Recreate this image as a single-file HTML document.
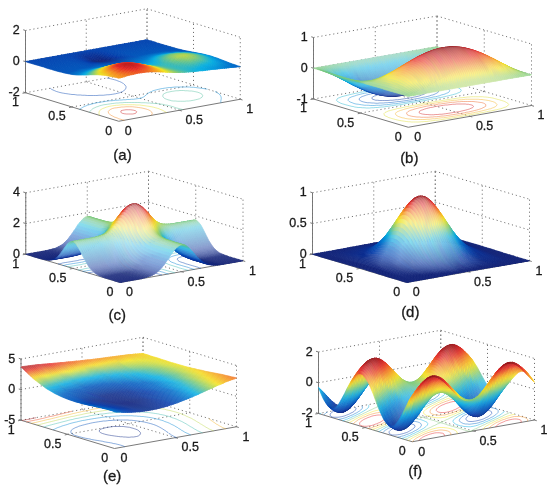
<!DOCTYPE html><html><head><meta charset="utf-8"><style>html,body{margin:0;padding:0;background:#fff}
svg{display:block}
.gd{stroke:#707070;stroke-width:4;stroke-dasharray:4.4 11.6;fill:none}
.ax{stroke:#7a7a7a;stroke-width:4;fill:none}
.ct{fill:none;stroke-width:2.6;stroke-opacity:.7}
.s path{stroke-width:3;stroke-linejoin:round}
text{font-family:"Liberation Sans",Arial,sans-serif;fill:#1a1a1a;stroke:#1a1a1a;stroke-width:0.3px;font-size:12.5px}
.r{text-anchor:end}
.cap{font-size:15px;text-anchor:middle}
</style></head><body><svg width="550" height="490" viewBox="0 0 550 490"><defs><linearGradient id=g0 gradientUnits=userSpaceOnUse x1=589 x2=951><stop offset=.00 stop-color=#0444b0 /><stop offset=.43 stop-color=#05b /><stop offset=.69 stop-color=#038ed7 /><stop offset=1.00 stop-color=#0064c5 /></linearGradient><linearGradient id=g1 gradientUnits=userSpaceOnUse x1=581 x2=944><stop offset=.00 stop-color=#0444b0 /><stop offset=.40 stop-color=#05b /><stop offset=.69 stop-color=#09d /><stop offset=1.00 stop-color=#0067c7 /></linearGradient><linearGradient id=g2 gradientUnits=userSpaceOnUse x1=574 x2=936><stop offset=.00 stop-color=#0444b0 /><stop offset=.40 stop-color=#05b /><stop offset=.69 stop-color=#0ad /><stop offset=1.00 stop-color=#06c /></linearGradient><linearGradient id=g3 gradientUnits=userSpaceOnUse x1=566 x2=929><stop offset=.00 stop-color=#0444b0 /><stop offset=.40 stop-color=#05b /><stop offset=.66 stop-color=#0bb0df /><stop offset=.80 stop-color=#049fde /><stop offset=1.00 stop-color=#006eca /></linearGradient><linearGradient id=g4 gradientUnits=userSpaceOnUse x1=558 x2=921><stop offset=.00 stop-color=#0444b0 /><stop offset=.37 stop-color=#05b /><stop offset=.51 stop-color=#0288d4 /><stop offset=.60 stop-color=#07afe2 /><stop offset=.69 stop-color=#25b6c7 /><stop offset=.83 stop-color=#049fde /><stop offset=1.00 stop-color=#0172cb /></linearGradient><linearGradient id=g5 gradientUnits=userSpaceOnUse x1=551 x2=913><stop offset=.00 stop-color=#0444b0 /><stop offset=.37 stop-color=#05b /><stop offset=.51 stop-color=#0390d7 /><stop offset=.57 stop-color=#05afe4 /><stop offset=.66 stop-color=#38bab6 /><stop offset=.74 stop-color=#3bb /><stop offset=.83 stop-color=#05a9e1 /><stop offset=1.00 stop-color=#07c /></linearGradient><linearGradient id=g6 gradientUnits=userSpaceOnUse x1=543 x2=906><stop offset=.00 stop-color=#0444b0 /><stop offset=.37 stop-color=#05b /><stop offset=.51 stop-color=#09d /><stop offset=.54 stop-color=#05a9e2 /><stop offset=.66 stop-color=#4ebea3 /><stop offset=.74 stop-color=#4ba /><stop offset=.83 stop-color=#0ab0df /><stop offset=1.00 stop-color=#07c /></linearGradient><linearGradient id=g7 gradientUnits=userSpaceOnUse x1=536 x2=898><stop offset=.00 stop-color=#0444b0 /><stop offset=.34 stop-color=#05b /><stop offset=.46 stop-color=#07c /><stop offset=.54 stop-color=#0ab0e0 /><stop offset=.63 stop-color=#56c09b /><stop offset=.71 stop-color=#63c390 /><stop offset=.86 stop-color=#05ade3 /><stop offset=1.00 stop-color=#027ed1 /></linearGradient><linearGradient id=g8 gradientUnits=userSpaceOnUse x1=528 x2=891><stop offset=.00 stop-color=#0444b0 /><stop offset=.34 stop-color=#05b /><stop offset=.46 stop-color=#027fd1 /><stop offset=.51 stop-color=#0ad /><stop offset=.63 stop-color=#68c48b /><stop offset=.71 stop-color=#76c77e /><stop offset=.83 stop-color=#27b6c5 /><stop offset=.89 stop-color=#0ad /><stop offset=1.00 stop-color=#0283d2 /></linearGradient><linearGradient id=g9 gradientUnits=userSpaceOnUse x1=520 x2=883><stop offset=.00 stop-color=#0444b0 /><stop offset=.34 stop-color=#05b /><stop offset=.46 stop-color=#0283d2 /><stop offset=.51 stop-color=#05ace3 /><stop offset=.63 stop-color=#79c77c /><stop offset=.71 stop-color=#87ca70 /><stop offset=.83 stop-color=#3bb /><stop offset=.89 stop-color=#05ade3 /><stop offset=1.00 stop-color=#0287d4 /></linearGradient><linearGradient id=g10 gradientUnits=userSpaceOnUse x1=513 x2=875><stop offset=.00 stop-color=#0444b0 /><stop offset=.34 stop-color=#05b /><stop offset=.46 stop-color=#0287d4 /><stop offset=.51 stop-color=#09b0e1 /><stop offset=.63 stop-color=#87ca70 /><stop offset=.71 stop-color=#9c6 /><stop offset=.80 stop-color=#5cc196 /><stop offset=.89 stop-color=#0bb0df /><stop offset=1.00 stop-color=#028bd6 /></linearGradient><linearGradient id=g11 gradientUnits=userSpaceOnUse x1=505 x2=868><stop offset=.00 stop-color=#0444b0 /><stop offset=.34 stop-color=#05b /><stop offset=.46 stop-color=#0289d5 /><stop offset=.51 stop-color=#10b1da /><stop offset=.60 stop-color=#7c7 /><stop offset=.69 stop-color=#a7d258 /><stop offset=.77 stop-color=#80c975 /><stop offset=.89 stop-color=#13b2d7 /><stop offset=.97 stop-color=#09d /><stop offset=1.00 stop-color=#038fd7 /></linearGradient><linearGradient id=g12 gradientUnits=userSpaceOnUse x1=498 x2=860><stop offset=.00 stop-color=#0444b0 /><stop offset=.34 stop-color=#05b /><stop offset=.46 stop-color=#028bd6 /><stop offset=.51 stop-color=#15b2d5 /><stop offset=.60 stop-color=#82c974 /><stop offset=.69 stop-color=#b1d451 /><stop offset=.77 stop-color=#89cb6f /><stop offset=.91 stop-color=#05aee4 /><stop offset=1.00 stop-color=#0393d9 /></linearGradient><linearGradient id=g13 gradientUnits=userSpaceOnUse x1=490 x2=853><stop offset=.00 stop-color=#0444b0 /><stop offset=.34 stop-color=#05b /><stop offset=.46 stop-color=#038dd6 /><stop offset=.49 stop-color=#04a3df /><stop offset=.51 stop-color=#18b3d3 /><stop offset=.60 stop-color=#87ca70 /><stop offset=.69 stop-color=#b7d54d /><stop offset=.77 stop-color=#90cc6a /><stop offset=.91 stop-color=#09b0e0 /><stop offset=1.00 stop-color=#09d /></linearGradient><linearGradient id=g14 gradientUnits=userSpaceOnUse x1=483 x2=845><stop offset=.00 stop-color=#0444b0 /><stop offset=.34 stop-color=#05b /><stop offset=.46 stop-color=#038dd6 /><stop offset=.49 stop-color=#04a3df /><stop offset=.51 stop-color=#19b3d2 /><stop offset=.60 stop-color=#89cb6f /><stop offset=.69 stop-color=#b9d64b /><stop offset=.77 stop-color=#93cd67 /><stop offset=.91 stop-color=#0fb1db /><stop offset=1.00 stop-color=#09d /></linearGradient><linearGradient id=g15 gradientUnits=userSpaceOnUse x1=475 x2=837><stop offset=.00 stop-color=#0444b0 /><stop offset=.34 stop-color=#05b /><stop offset=.46 stop-color=#038cd6 /><stop offset=.49 stop-color=#04a3df /><stop offset=.51 stop-color=#18b3d3 /><stop offset=.60 stop-color=#88ca70 /><stop offset=.69 stop-color=#b8d64c /><stop offset=.77 stop-color=#94cd67 /><stop offset=.91 stop-color=#13b2d8 /><stop offset=1.00 stop-color=#049edd /></linearGradient><linearGradient id=g16 gradientUnits=userSpaceOnUse x1=467 x2=830><stop offset=.00 stop-color=#0444b0 /><stop offset=.34 stop-color=#05b /><stop offset=.46 stop-color=#028bd6 /><stop offset=.51 stop-color=#15b2d6 /><stop offset=.60 stop-color=#83c973 /><stop offset=.69 stop-color=#b4d54f /><stop offset=.77 stop-color=#92cd68 /><stop offset=.94 stop-color=#05afe4 /><stop offset=1.00 stop-color=#04a1de /></linearGradient><linearGradient id=g17 gradientUnits=userSpaceOnUse x1=460 x2=822><stop offset=.00 stop-color=#0444b0 /><stop offset=.34 stop-color=#05b /><stop offset=.46 stop-color=#0289d5 /><stop offset=.51 stop-color=#0fb1db /><stop offset=.60 stop-color=#7cc879 /><stop offset=.69 stop-color=#add354 /><stop offset=.77 stop-color=#8ecc6b /><stop offset=.94 stop-color=#08b0e1 /><stop offset=1.00 stop-color=#04a4e0 /></linearGradient><linearGradient id=g18 gradientUnits=userSpaceOnUse x1=452 x2=815><stop offset=.00 stop-color=#0444b0 /><stop offset=.34 stop-color=#05b /><stop offset=.46 stop-color=#0286d4 /><stop offset=.51 stop-color=#08b0e1 /><stop offset=.63 stop-color=#8bcb6e /><stop offset=.71 stop-color=#a2d15c /><stop offset=.83 stop-color=#5bc196 /><stop offset=.94 stop-color=#0cb0de /><stop offset=1.00 stop-color=#0ad /></linearGradient><linearGradient id=g19 gradientUnits=userSpaceOnUse x1=445 x2=807><stop offset=.00 stop-color=#0444b0 /><stop offset=.34 stop-color=#05b /><stop offset=.46 stop-color=#0283d2 /><stop offset=.51 stop-color=#05ace3 /><stop offset=.63 stop-color=#7ec877 /><stop offset=.71 stop-color=#9c6 /><stop offset=.83 stop-color=#57c09a /><stop offset=.97 stop-color=#05afe4 /><stop offset=1.00 stop-color=#05abe2 /></linearGradient><linearGradient id=g20 gradientUnits=userSpaceOnUse x1=437 x2=799><stop offset=.00 stop-color=#0444b0 /><stop offset=.34 stop-color=#05b /><stop offset=.46 stop-color=#027fd1 /><stop offset=.51 stop-color=#0ad /><stop offset=.66 stop-color=#80c975 /><stop offset=.74 stop-color=#83c974 /><stop offset=.97 stop-color=#09b0e0 /><stop offset=1.00 stop-color=#05aee3 /></linearGradient><linearGradient id=g21 gradientUnits=userSpaceOnUse x1=429 x2=792><stop offset=.00 stop-color=#0444b0 /><stop offset=.34 stop-color=#05b /><stop offset=.46 stop-color=#07c /><stop offset=.54 stop-color=#0cb0de /><stop offset=.63 stop-color=#60c292 /><stop offset=.71 stop-color=#7c7 /><stop offset=.86 stop-color=#3cbab3 /><stop offset=1.00 stop-color=#09b0e1 /></linearGradient><linearGradient id=g22 gradientUnits=userSpaceOnUse x1=422 x2=784><stop offset=.00 stop-color=#0444b0 /><stop offset=.34 stop-color=#05b /><stop offset=.46 stop-color=#07c /><stop offset=.54 stop-color=#05abe3 /><stop offset=.66 stop-color=#60c292 /><stop offset=.74 stop-color=#69c48a /><stop offset=.97 stop-color=#12b2d8 /><stop offset=1.00 stop-color=#0eb1dc /></linearGradient><linearGradient id=g23 gradientUnits=userSpaceOnUse x1=414 x2=777><stop offset=.00 stop-color=#0444b0 /><stop offset=.34 stop-color=#0350b8 /><stop offset=.49 stop-color=#0281d2 /><stop offset=.57 stop-color=#0eb1dc /><stop offset=.66 stop-color=#4fbea1 /><stop offset=.74 stop-color=#5dc195 /><stop offset=.97 stop-color=#17b3d3 /><stop offset=1.00 stop-color=#15b2d6 /></linearGradient><linearGradient id=g24 gradientUnits=userSpaceOnUse x1=407 x2=769><stop offset=.00 stop-color=#0444b0 /><stop offset=.34 stop-color=#034eb7 /><stop offset=.49 stop-color=#07c /><stop offset=.57 stop-color=#05ace3 /><stop offset=.69 stop-color=#4abda6 /><stop offset=.80 stop-color=#4ba /><stop offset=1.00 stop-color=#1cb4d0 /></linearGradient><linearGradient id=g25 gradientUnits=userSpaceOnUse x1=399 x2=762><stop offset=.00 stop-color=#0444b0 /><stop offset=.31 stop-color=#0448b3 /><stop offset=.49 stop-color=#07c /><stop offset=.60 stop-color=#09b0e0 /><stop offset=.71 stop-color=#4ba /><stop offset=1.00 stop-color=#23b5c9 /></linearGradient><linearGradient id=g26 gradientUnits=userSpaceOnUse x1=391 x2=754><stop offset=.00 stop-color=#0444b0 /><stop offset=.29 stop-color=#04a /><stop offset=.51 stop-color=#017ed0 /><stop offset=.60 stop-color=#05a9e2 /><stop offset=.74 stop-color=#3dbbb1 /><stop offset=1.00 stop-color=#2bb7c2 /></linearGradient><linearGradient id=g27 gradientUnits=userSpaceOnUse x1=384 x2=746><stop offset=.00 stop-color=#0443b0 /><stop offset=.29 stop-color=#053dac /><stop offset=.51 stop-color=#07c /><stop offset=.63 stop-color=#05aee4 /><stop offset=.74 stop-color=#3bb /><stop offset=1.00 stop-color=#3bb /></linearGradient><linearGradient id=g28 gradientUnits=userSpaceOnUse x1=376 x2=739><stop offset=.00 stop-color=#0443b0 /><stop offset=.26 stop-color=#0636a3 /><stop offset=.51 stop-color=#07c /><stop offset=.66 stop-color=#0db1dd /><stop offset=.77 stop-color=#39bab5 /><stop offset=1.00 stop-color=#3fbbb0 /></linearGradient><linearGradient id=g29 gradientUnits=userSpaceOnUse x1=369 x2=731><stop offset=.00 stop-color=#0443b0 /><stop offset=.26 stop-color=#07339c /><stop offset=.54 stop-color=#017ccf /><stop offset=.66 stop-color=#06afe3 /><stop offset=.80 stop-color=#40bbaf /><stop offset=1.00 stop-color=#4abda6 /></linearGradient><linearGradient id=g30 gradientUnits=userSpaceOnUse x1=361 x2=724><stop offset=.00 stop-color=#0443b0 /><stop offset=.23 stop-color=#0a2d90 /><stop offset=.54 stop-color=#07c /><stop offset=.66 stop-color=#05aee3 /><stop offset=.80 stop-color=#4ba /><stop offset=1.00 stop-color=#56c09b /></linearGradient><linearGradient id=g31 gradientUnits=userSpaceOnUse x1=353 x2=716><stop offset=.00 stop-color=#0443b0 /><stop offset=.23 stop-color=#0b2988 /><stop offset=.46 stop-color=#025abe /><stop offset=.66 stop-color=#05aee3 /><stop offset=.80 stop-color=#52bf9f /><stop offset=1.00 stop-color=#64c38f /></linearGradient><linearGradient id=g32 gradientUnits=userSpaceOnUse x1=346 x2=708><stop offset=.00 stop-color=#0442af /><stop offset=.14 stop-color=#0b2e91 /><stop offset=.23 stop-color=#0c2581 /><stop offset=.43 stop-color=#05b /><stop offset=.57 stop-color=#0282d2 /><stop offset=.66 stop-color=#06afe4 /><stop offset=.80 stop-color=#60c292 /><stop offset=1.00 stop-color=#72c681 /></linearGradient><linearGradient id=g33 gradientUnits=userSpaceOnUse x1=338 x2=701><stop offset=.00 stop-color=#0442af /><stop offset=.14 stop-color=#0b2c8d /><stop offset=.23 stop-color=#0d227c /><stop offset=.40 stop-color=#034bb5 /><stop offset=.57 stop-color=#0282d2 /><stop offset=.66 stop-color=#0cb0de /><stop offset=.77 stop-color=#65c38e /><stop offset=.91 stop-color=#85ca72 /><stop offset=1.00 stop-color=#83c974 /></linearGradient><linearGradient id=g34 gradientUnits=userSpaceOnUse x1=331 x2=693><stop offset=.00 stop-color=#0442af /><stop offset=.11 stop-color=#083197 /><stop offset=.23 stop-color=#127 /><stop offset=.40 stop-color=#034ab5 /><stop offset=.57 stop-color=#0284d3 /><stop offset=.63 stop-color=#0ad /><stop offset=.80 stop-color=#87ca70 /><stop offset=.94 stop-color=#9c6 /><stop offset=1.00 stop-color=#94cd67 /></linearGradient><linearGradient id=g35 gradientUnits=userSpaceOnUse x1=323 x2=686><stop offset=.00 stop-color=#0442af /><stop offset=.11 stop-color=#093097 /><stop offset=.23 stop-color=#127 /><stop offset=.40 stop-color=#034ab4 /><stop offset=.54 stop-color=#07c /><stop offset=.63 stop-color=#05ace3 /><stop offset=.77 stop-color=#90cc6a /><stop offset=.89 stop-color=#b3d54f /><stop offset=1.00 stop-color=#a6d259 /></linearGradient><linearGradient id=g36 gradientUnits=userSpaceOnUse x1=315 x2=678><stop offset=.00 stop-color=#0442af /><stop offset=.11 stop-color=#083097 /><stop offset=.23 stop-color=#127 /><stop offset=.40 stop-color=#034ab4 /><stop offset=.54 stop-color=#07c /><stop offset=.63 stop-color=#0db1dd /><stop offset=.74 stop-color=#92cd68 /><stop offset=.83 stop-color=#c7d941 /><stop offset=.97 stop-color=#c0d845 /><stop offset=1.00 stop-color=#bad64b /></linearGradient><linearGradient id=g37 gradientUnits=userSpaceOnUse x1=308 x2=670><stop offset=.00 stop-color=#0442af /><stop offset=.14 stop-color=#0a2b8c /><stop offset=.23 stop-color=#127 /><stop offset=.40 stop-color=#034bb5 /><stop offset=.54 stop-color=#017cd0 /><stop offset=.60 stop-color=#04a5e0 /><stop offset=.66 stop-color=#4ba /><stop offset=.74 stop-color=#add354 /><stop offset=.83 stop-color=#e5e02a /><stop offset=.94 stop-color=#dfdf2e /><stop offset=1.00 stop-color=#cedb3b /></linearGradient><linearGradient id=g38 gradientUnits=userSpaceOnUse x1=300 x2=663><stop offset=.00 stop-color=#0442af /><stop offset=.14 stop-color=#0a2d90 /><stop offset=.23 stop-color=#0d2580 /><stop offset=.43 stop-color=#05b /><stop offset=.54 stop-color=#0280d1 /><stop offset=.60 stop-color=#05ade3 /><stop offset=.71 stop-color=#a8d258 /><stop offset=.77 stop-color=#e5e02a /><stop offset=.83 stop-color=#f5d81e /><stop offset=.97 stop-color=#eee223 /><stop offset=1.00 stop-color=#e3e02c /></linearGradient><linearGradient id=g39 gradientUnits=userSpaceOnUse x1=293 x2=655><stop offset=.00 stop-color=#0443b0 /><stop offset=.23 stop-color=#0b2887 /><stop offset=.51 stop-color=#0172cb /><stop offset=.60 stop-color=#0fb1db /><stop offset=.71 stop-color=#c4d943 /><stop offset=.74 stop-color=#e9e127 /><stop offset=.86 stop-color=#f5bd1e /><stop offset=1.00 stop-color=#f5e21e /></linearGradient><linearGradient id=g40 gradientUnits=userSpaceOnUse x1=285 x2=648><stop offset=.00 stop-color=#0443b0 /><stop offset=.23 stop-color=#0a2c8f /><stop offset=.49 stop-color=#0066c6 /><stop offset=.57 stop-color=#04a3df /><stop offset=.60 stop-color=#1eb4ce /><stop offset=.71 stop-color=#e1df2d /><stop offset=.74 stop-color=#f5d61e /><stop offset=.83 stop-color=#f5a71e /><stop offset=.94 stop-color=#f5ba1e /><stop offset=1.00 stop-color=#f5d21e /></linearGradient><linearGradient id=g41 gradientUnits=userSpaceOnUse x1=278 x2=640><stop offset=.00 stop-color=#0443b0 /><stop offset=.26 stop-color=#08329b /><stop offset=.49 stop-color=#0068c7 /><stop offset=.57 stop-color=#05aae2 /><stop offset=.71 stop-color=#f5de1e /><stop offset=.80 stop-color=#f5971e /><stop offset=.89 stop-color=#f5911e /><stop offset=1.00 stop-color=#f5c31e /></linearGradient><linearGradient id=g42 gradientUnits=userSpaceOnUse x1=270 x2=632><stop offset=.00 stop-color=#0443b0 /><stop offset=.26 stop-color=#0735a1 /><stop offset=.49 stop-color=#06c /><stop offset=.57 stop-color=#08b0e2 /><stop offset=.69 stop-color=#e7e129 /><stop offset=.77 stop-color=#f58f1e /><stop offset=.86 stop-color=#f1701f /><stop offset=1.00 stop-color=#f5b41e /></linearGradient><linearGradient id=g43 gradientUnits=userSpaceOnUse x1=262 x2=625><stop offset=.00 stop-color=#0443b0 /><stop offset=.29 stop-color=#053bab /><stop offset=.49 stop-color=#006cc9 /><stop offset=.57 stop-color=#13b2d7 /><stop offset=.69 stop-color=#f5dd1e /><stop offset=.77 stop-color=#e72 /><stop offset=.83 stop-color=#e52 /><stop offset=.91 stop-color=#f06d1f /><stop offset=1.00 stop-color=#f5a51e /></linearGradient><linearGradient id=g44 gradientUnits=userSpaceOnUse x1=255 x2=617><stop offset=.00 stop-color=#0444b0 /><stop offset=.31 stop-color=#0442af /><stop offset=.49 stop-color=#006fca /><stop offset=.54 stop-color=#049fde /><stop offset=.57 stop-color=#1eb4ce /><stop offset=.66 stop-color=#d7dd35 /><stop offset=.69 stop-color=#f5cc1e /><stop offset=.77 stop-color=#ed5c20 /><stop offset=.83 stop-color=#e83d22 /><stop offset=.91 stop-color=#e52 /><stop offset=1.00 stop-color=#f5971e /></linearGradient><linearGradient id=g45 gradientUnits=userSpaceOnUse x1=247 x2=610><stop offset=.00 stop-color=#0444b0 /><stop offset=.34 stop-color=#0448b3 /><stop offset=.49 stop-color=#0171cb /><stop offset=.54 stop-color=#04a3df /><stop offset=.57 stop-color=#27b6c5 /><stop offset=.66 stop-color=#e8e128 /><stop offset=.71 stop-color=#f5931e /><stop offset=.77 stop-color=#e42 /><stop offset=.83 stop-color=#e52623 /><stop offset=.91 stop-color=#e94321 /><stop offset=1.00 stop-color=#f58b1e /></linearGradient><linearGradient id=g46 gradientUnits=userSpaceOnUse x1=240 x2=602><stop offset=.00 stop-color=#0444b0 /><stop offset=.37 stop-color=#034db6 /><stop offset=.49 stop-color=#07c /><stop offset=.54 stop-color=#0ad /><stop offset=.57 stop-color=#3bb /><stop offset=.66 stop-color=#f5e31e /><stop offset=.77 stop-color=#e73422 /><stop offset=.83 stop-color=#d72121 /><stop offset=.91 stop-color=#e63222 /><stop offset=1.00 stop-color=#f37d1f /></linearGradient><linearGradient id=g47 gradientUnits=userSpaceOnUse x1=232 x2=594><stop offset=.00 stop-color=#0444b0 /><stop offset=.37 stop-color=#034eb7 /><stop offset=.49 stop-color=#07c /><stop offset=.54 stop-color=#05aae2 /><stop offset=.60 stop-color=#76c77e /><stop offset=.66 stop-color=#f5da1e /><stop offset=.77 stop-color=#e42523 /><stop offset=.86 stop-color=#c22 /><stop offset=.91 stop-color=#e42423 /><stop offset=1.00 stop-color=#f1721f /></linearGradient><linearGradient id=g48 gradientUnits=userSpaceOnUse x1=224 x2=587><stop offset=.00 stop-color=#0444b0 /><stop offset=.37 stop-color=#034eb7 /><stop offset=.49 stop-color=#07c /><stop offset=.54 stop-color=#05ace3 /><stop offset=.63 stop-color=#c2d844 /><stop offset=.66 stop-color=#f5d51e /><stop offset=.74 stop-color=#e83e22 /><stop offset=.77 stop-color=#d22 /><stop offset=.83 stop-color=#c01d1f /><stop offset=.91 stop-color=#d22 /><stop offset=1.00 stop-color=#e62 /></linearGradient><linearGradient id=g49 gradientUnits=userSpaceOnUse x1=217 x2=579><stop offset=.00 stop-color=#0444b0 /><stop offset=.40 stop-color=#05b /><stop offset=.49 stop-color=#07c /><stop offset=.54 stop-color=#05ade3 /><stop offset=.63 stop-color=#c6d942 /><stop offset=.66 stop-color=#f5d11e /><stop offset=.74 stop-color=#e83922 /><stop offset=.77 stop-color=#d82122 /><stop offset=.83 stop-color=#ba1c1e /><stop offset=.91 stop-color=#d62121 /><stop offset=.97 stop-color=#e42 /><stop offset=1.00 stop-color=#ee6020 /></linearGradient><linearGradient id=g50 gradientUnits=userSpaceOnUse x1=209 x2=572><stop offset=.00 stop-color=#0444b0 /><stop offset=.40 stop-color=#05b /><stop offset=.49 stop-color=#07c /><stop offset=.54 stop-color=#05ade3 /><stop offset=.63 stop-color=#c6d941 /><stop offset=.66 stop-color=#f5d11e /><stop offset=.74 stop-color=#e73822 /><stop offset=.80 stop-color=#c21d1f /><stop offset=.89 stop-color=#c21d1f /><stop offset=.94 stop-color=#e42623 /><stop offset=1.00 stop-color=#ed5b20 /></linearGradient><linearGradient id=g51 gradientUnits=userSpaceOnUse x1=202 x2=564><stop offset=.00 stop-color=#0444b0 /><stop offset=.40 stop-color=#05b /><stop offset=.49 stop-color=#07c /><stop offset=.54 stop-color=#05ace3 /><stop offset=.60 stop-color=#7cc879 /><stop offset=.63 stop-color=#c3d844 /><stop offset=.66 stop-color=#f5d41e /><stop offset=.74 stop-color=#e83b22 /><stop offset=.77 stop-color=#d22 /><stop offset=.83 stop-color=#ba1c1e /><stop offset=.91 stop-color=#d22021 /><stop offset=.94 stop-color=#e42423 /><stop offset=1.00 stop-color=#e52 /></linearGradient><linearGradient id=g52 gradientUnits=userSpaceOnUse x1=194 x2=557><stop offset=.00 stop-color=#0444b0 /><stop offset=.40 stop-color=#05b /><stop offset=.49 stop-color=#07c /><stop offset=.54 stop-color=#05aae2 /><stop offset=.60 stop-color=#77c77e /><stop offset=.66 stop-color=#f5d91e /><stop offset=.74 stop-color=#e94321 /><stop offset=.77 stop-color=#d22 /><stop offset=.83 stop-color=#c01d1f /><stop offset=.91 stop-color=#d42021 /><stop offset=.97 stop-color=#e83e22 /><stop offset=1.00 stop-color=#e52 /></linearGradient><linearGradient id=g53 gradientUnits=userSpaceOnUse x1=186 x2=549><stop offset=.00 stop-color=#0444b0 /><stop offset=.40 stop-color=#05b /><stop offset=.49 stop-color=#07c /><stop offset=.54 stop-color=#0ad /><stop offset=.57 stop-color=#3bb /><stop offset=.66 stop-color=#f5e11e /><stop offset=.77 stop-color=#e52a23 /><stop offset=.86 stop-color=#c71e20 /><stop offset=.94 stop-color=#e52a23 /><stop offset=1.00 stop-color=#e52 /></linearGradient><linearGradient id=g54 gradientUnits=userSpaceOnUse x1=179 x2=541><stop offset=.00 stop-color=#0444b0 /><stop offset=.40 stop-color=#05b /><stop offset=.49 stop-color=#0171cb /><stop offset=.54 stop-color=#04a3df /><stop offset=.57 stop-color=#27b6c5 /><stop offset=.66 stop-color=#ebe225 /><stop offset=.74 stop-color=#ee5f20 /><stop offset=.80 stop-color=#d22 /><stop offset=.89 stop-color=#d72121 /><stop offset=.94 stop-color=#e63122 /><stop offset=1.00 stop-color=#e52 /></linearGradient><linearGradient id=g55 gradientUnits=userSpaceOnUse x1=171 x2=534><stop offset=.00 stop-color=#0444b0 /><stop offset=.40 stop-color=#05b /><stop offset=.51 stop-color=#0285d3 /><stop offset=.54 stop-color=#049fdd /><stop offset=.57 stop-color=#1eb4ce /><stop offset=.66 stop-color=#dd3 /><stop offset=.69 stop-color=#f5c81e /><stop offset=.77 stop-color=#eb4d21 /><stop offset=.83 stop-color=#e42323 /><stop offset=.91 stop-color=#e52b23 /><stop offset=1.00 stop-color=#ed5d20 /></linearGradient><linearGradient id=g56 gradientUnits=userSpaceOnUse x1=164 x2=526><stop offset=.00 stop-color=#0444b0 /><stop offset=.40 stop-color=#05b /><stop offset=.51 stop-color=#0281d1 /><stop offset=.57 stop-color=#13b2d8 /><stop offset=.66 stop-color=#c7d940 /><stop offset=.69 stop-color=#f5d81e /><stop offset=.80 stop-color=#e42 /><stop offset=.89 stop-color=#e63222 /><stop offset=1.00 stop-color=#e62 /></linearGradient><linearGradient id=g57 gradientUnits=userSpaceOnUse x1=156 x2=519><stop offset=.00 stop-color=#0444b0 /><stop offset=.40 stop-color=#05b /><stop offset=.51 stop-color=#017dd0 /><stop offset=.57 stop-color=#07afe2 /><stop offset=.69 stop-color=#eee223 /><stop offset=.80 stop-color=#ee6020 /><stop offset=.89 stop-color=#e94421 /><stop offset=1.00 stop-color=#e62 /></linearGradient><linearGradient id=g58 gradientUnits=userSpaceOnUse x1=148 x2=511><stop offset=.00 stop-color=#0444b0 /><stop offset=.43 stop-color=#05b /><stop offset=.51 stop-color=#07c /><stop offset=.57 stop-color=#05a9e1 /><stop offset=.63 stop-color=#64c38f /><stop offset=.69 stop-color=#d5dd36 /><stop offset=.71 stop-color=#f5d41e /><stop offset=.83 stop-color=#e62 /><stop offset=.91 stop-color=#ed5a20 /><stop offset=1.00 stop-color=#f1701f /></linearGradient><linearGradient id=g59 gradientUnits=userSpaceOnUse x1=141 x2=503><stop offset=.00 stop-color=#0444b0 /><stop offset=.43 stop-color=#05b /><stop offset=.54 stop-color=#0289d5 /><stop offset=.57 stop-color=#04a1de /><stop offset=.60 stop-color=#1cb4cf /><stop offset=.71 stop-color=#efe323 /><stop offset=.83 stop-color=#f3801f /><stop offset=.91 stop-color=#f06b20 /><stop offset=1.00 stop-color=#e72 /></linearGradient><linearGradient id=g60 gradientUnits=userSpaceOnUse x1=133 x2=496><stop offset=.00 stop-color=#0444b0 /><stop offset=.43 stop-color=#05b /><stop offset=.54 stop-color=#0283d2 /><stop offset=.60 stop-color=#0cb0de /><stop offset=.71 stop-color=#d2dc38 /><stop offset=.74 stop-color=#f5dd1e /><stop offset=.83 stop-color=#f5971e /><stop offset=.94 stop-color=#f27c1f /><stop offset=1.00 stop-color=#f3811f /></linearGradient><linearGradient id=g61 gradientUnits=userSpaceOnUse x1=126 x2=488><stop offset=.00 stop-color=#0444b0 /><stop offset=.43 stop-color=#05b /><stop offset=.54 stop-color=#017dd0 /><stop offset=.60 stop-color=#05aae2 /><stop offset=.74 stop-color=#e1df2d /><stop offset=.80 stop-color=#f5bf1e /><stop offset=.91 stop-color=#f58f1e /><stop offset=1.00 stop-color=#f5891e /></linearGradient><linearGradient id=g62 gradientUnits=userSpaceOnUse x1=118 x2=481><stop offset=.00 stop-color=#0444b0 /><stop offset=.43 stop-color=#05b /><stop offset=.54 stop-color=#07c /><stop offset=.60 stop-color=#04a0de /><stop offset=.63 stop-color=#16b2d5 /><stop offset=.74 stop-color=#c4d943 /><stop offset=.77 stop-color=#e9e127 /><stop offset=.91 stop-color=#f59d1e /><stop offset=1.00 stop-color=#f5911e /></linearGradient><linearGradient id=g63 gradientUnits=userSpaceOnUse x1=110 x2=473><stop offset=.00 stop-color=#0444b0 /><stop offset=.46 stop-color=#05b /><stop offset=.57 stop-color=#0283d2 /><stop offset=.63 stop-color=#05aee4 /><stop offset=.77 stop-color=#cddb3c /><stop offset=.80 stop-color=#ede224 /><stop offset=.97 stop-color=#f59d1e /><stop offset=1.00 stop-color=#f5981e /></linearGradient><linearGradient id=g64 gradientUnits=userSpaceOnUse x1=1749 x2=2117><stop offset=.00 stop-color=#a1d79e /><stop offset=.34 stop-color=#a0d8a9 /><stop offset=.51 stop-color=#93d18e /><stop offset=.54 stop-color=#80c976 /><stop offset=.77 stop-color=#90ce78 /><stop offset=.94 stop-color=#82c974 /><stop offset=1.00 stop-color=#9dd597 /></linearGradient><linearGradient id=g65 gradientUnits=userSpaceOnUse x1=1741 x2=2109><stop offset=.00 stop-color=#9fd7a0 /><stop offset=.26 stop-color=#93d6bb /><stop offset=.49 stop-color=#94d295 /><stop offset=.54 stop-color=#86ca71 /><stop offset=.69 stop-color=#a3d36a /><stop offset=.89 stop-color=#9c6 /><stop offset=.94 stop-color=#93ce75 /><stop offset=1.00 stop-color=#a4d89c /></linearGradient><linearGradient id=g66 gradientUnits=userSpaceOnUse x1=1733 x2=2101><stop offset=.00 stop-color=#9ed7a2 /><stop offset=.20 stop-color=#88d4c9 /><stop offset=.40 stop-color=#89d2b4 /><stop offset=.49 stop-color=#8c8 /><stop offset=.60 stop-color=#9fd05f /><stop offset=.74 stop-color=#bed95d /><stop offset=.83 stop-color=#b2d450 /><stop offset=.91 stop-color=#9fd05f /><stop offset=.97 stop-color=#aad993 /><stop offset=1.00 stop-color=#a5d89b /></linearGradient><linearGradient id=g67 gradientUnits=userSpaceOnUse x1=1725 x2=2094><stop offset=.00 stop-color=#a0d8a6 /><stop offset=.20 stop-color=#7bd2d7 /><stop offset=.34 stop-color=#71cdc9 /><stop offset=.43 stop-color=#82d0b0 /><stop offset=.49 stop-color=#76c77e /><stop offset=.60 stop-color=#aed459 /><stop offset=.71 stop-color=#d3e058 /><stop offset=.77 stop-color=#cedb3b /><stop offset=.89 stop-color=#b7d54d /><stop offset=.97 stop-color=#b1db92 /><stop offset=1.00 stop-color=#ad9 /></linearGradient><linearGradient id=g68 gradientUnits=userSpaceOnUse x1=1718 x2=2086><stop offset=.00 stop-color=#a1d9aa /><stop offset=.17 stop-color=#75d1e1 /><stop offset=.31 stop-color=#5dc9db /><stop offset=.43 stop-color=#70cab1 /><stop offset=.46 stop-color=#62c290 /><stop offset=.57 stop-color=#acd45c /><stop offset=.66 stop-color=#dce35f /><stop offset=.77 stop-color=#e5e02a /><stop offset=.89 stop-color=#c7d940 /><stop offset=.94 stop-color=#c1de84 /><stop offset=1.00 stop-color=#ad9 /></linearGradient><linearGradient id=g69 gradientUnits=userSpaceOnUse x1=1710 x2=2078><stop offset=.00 stop-color=#a3daad /><stop offset=.17 stop-color=#6ce /><stop offset=.31 stop-color=#4ec6e9 /><stop offset=.40 stop-color=#61c8c9 /><stop offset=.46 stop-color=#5cc196 /><stop offset=.54 stop-color=#9fd061 /><stop offset=.63 stop-color=#e0e563 /><stop offset=.74 stop-color=#f6e234 /><stop offset=.77 stop-color=#f5df1e /><stop offset=.86 stop-color=#e5e02a /><stop offset=.94 stop-color=#c8e081 /><stop offset=1.00 stop-color=#ad9 /></linearGradient><linearGradient id=g70 gradientUnits=userSpaceOnUse x1=1702 x2=2071><stop offset=.00 stop-color=#a4dab1 /><stop offset=.14 stop-color=#6ccfef /><stop offset=.31 stop-color=#4bbfe9 /><stop offset=.37 stop-color=#50c6e2 /><stop offset=.43 stop-color=#3ebbb1 /><stop offset=.51 stop-color=#8acb6e /><stop offset=.57 stop-color=#cbdf70 /><stop offset=.66 stop-color=#f8e958 /><stop offset=.74 stop-color=#f6d334 /><stop offset=.77 stop-color=#f5ce1e /><stop offset=.86 stop-color=#f5e21e /><stop offset=.91 stop-color=#dfe56d /><stop offset=1.00 stop-color=#b1dc9e /></linearGradient><linearGradient id=g71 gradientUnits=userSpaceOnUse x1=1695 x2=2063><stop offset=.00 stop-color=#a6dbb4 /><stop offset=.11 stop-color=#70d1ef /><stop offset=.31 stop-color=#4ab6e6 /><stop offset=.37 stop-color=#3cc0ea /><stop offset=.40 stop-color=#25b7d3 /><stop offset=.49 stop-color=#6ec585 /><stop offset=.57 stop-color=#d5e373 /><stop offset=.63 stop-color=#f8eb5d /><stop offset=.71 stop-color=#f7ce4b /><stop offset=.77 stop-color=#f5be1e /><stop offset=.86 stop-color=#f5d627 /><stop offset=.91 stop-color=#e8e869 /><stop offset=1.00 stop-color=#b4dea0 /></linearGradient><linearGradient id=g72 gradientUnits=userSpaceOnUse x1=1687 x2=2055><stop offset=.00 stop-color=#adb /><stop offset=.09 stop-color=#78d3eb /><stop offset=.29 stop-color=#49a9e0 /><stop offset=.34 stop-color=#48b4e5 /><stop offset=.40 stop-color=#0eb1dc /><stop offset=.49 stop-color=#75c88e /><stop offset=.54 stop-color=#c4df80 /><stop offset=.60 stop-color=#ee6 /><stop offset=.71 stop-color=#f7c34d /><stop offset=.77 stop-color=#f5ae1e /><stop offset=.83 stop-color=#f5bb1e /><stop offset=.89 stop-color=#f8e257 /><stop offset=1.00 stop-color=#b8dfa2 /></linearGradient><linearGradient id=g73 gradientUnits=userSpaceOnUse x1=1679 x2=2047><stop offset=.00 stop-color=#adb /><stop offset=.09 stop-color=#75d2f0 /><stop offset=.26 stop-color=#51a2dd /><stop offset=.34 stop-color=#4ad /><stop offset=.37 stop-color=#17a4df /><stop offset=.40 stop-color=#05ade3 /><stop offset=.46 stop-color=#4ba /><stop offset=.51 stop-color=#acd98f /><stop offset=.60 stop-color=#f8ea5d /><stop offset=.69 stop-color=#f8c45c /><stop offset=.77 stop-color=#f59f1e /><stop offset=.83 stop-color=#f5ad1e /><stop offset=.89 stop-color=#f8db5d /><stop offset=.91 stop-color=#f8ea5d /><stop offset=1.00 stop-color=#bae0a3 /></linearGradient><linearGradient id=g74 gradientUnits=userSpaceOnUse x1=1671 x2=2040><stop offset=.00 stop-color=#adb /><stop offset=.09 stop-color=#7ce /><stop offset=.23 stop-color=#5ca1dd /><stop offset=.34 stop-color=#39d /><stop offset=.37 stop-color=#0394d9 /><stop offset=.40 stop-color=#0ad /><stop offset=.43 stop-color=#19b3d2 /><stop offset=.49 stop-color=#8ad1a5 /><stop offset=.57 stop-color=#e9e868 /><stop offset=.66 stop-color=#f8c55d /><stop offset=.71 stop-color=#f7ac50 /><stop offset=.74 stop-color=#f6972c /><stop offset=.80 stop-color=#f5951e /><stop offset=.83 stop-color=#f5a121 /><stop offset=.86 stop-color=#f7c050 /><stop offset=.94 stop-color=#eaea71 /><stop offset=1.00 stop-color=#bde1a4 /></linearGradient><linearGradient id=g75 gradientUnits=userSpaceOnUse x1=1664 x2=2032><stop offset=.00 stop-color=#adb /><stop offset=.06 stop-color=#7ed5eb /><stop offset=.23 stop-color=#5c9bd9 /><stop offset=.31 stop-color=#49d /><stop offset=.37 stop-color=#028cd6 /><stop offset=.43 stop-color=#11b1d9 /><stop offset=.46 stop-color=#5dc6c1 /><stop offset=.51 stop-color=#b1db92 /><stop offset=.57 stop-color=#ee6 /><stop offset=.71 stop-color=#f6a151 /><stop offset=.74 stop-color=#f38529 /><stop offset=.80 stop-color=#f4861e /><stop offset=.86 stop-color=#f8ba57 /><stop offset=.94 stop-color=#f0eb70 /><stop offset=1.00 stop-color=#bfe2a5 /></linearGradient><linearGradient id=g76 gradientUnits=userSpaceOnUse x1=1656 x2=2024><stop offset=.00 stop-color=#a9dec0 /><stop offset=.06 stop-color=#7cd5ef /><stop offset=.23 stop-color=#5c96d6 /><stop offset=.31 stop-color=#438dd5 /><stop offset=.34 stop-color=#147ccf /><stop offset=.40 stop-color=#09d /><stop offset=.43 stop-color=#1ab5e3 /><stop offset=.46 stop-color=#6cc /><stop offset=.57 stop-color=#f5eb63 /><stop offset=.71 stop-color=#f49452 /><stop offset=.74 stop-color=#f07124 /><stop offset=.80 stop-color=#e72 /><stop offset=.86 stop-color=#f8b45d /><stop offset=.94 stop-color=#f6ed6f /><stop offset=1.00 stop-color=#c1e2a6 /></linearGradient><linearGradient id=g77 gradientUnits=userSpaceOnUse x1=1648 x2=2017><stop offset=.00 stop-color=#a9dec1 /><stop offset=.06 stop-color=#7bd3f0 /><stop offset=.23 stop-color=#5c91d3 /><stop offset=.31 stop-color=#3c84d0 /><stop offset=.34 stop-color=#06c /><stop offset=.40 stop-color=#0393d9 /><stop offset=.43 stop-color=#2cb9e7 /><stop offset=.49 stop-color=#8fd4ae /><stop offset=.57 stop-color=#f8ea63 /><stop offset=.71 stop-color=#e85 /><stop offset=.74 stop-color=#ed5e20 /><stop offset=.80 stop-color=#e62 /><stop offset=.83 stop-color=#f48f4a /><stop offset=.94 stop-color=#f9ec70 /><stop offset=1.00 stop-color=#c3e3a7 /></linearGradient><linearGradient id=g78 gradientUnits=userSpaceOnUse x1=1641 x2=2009><stop offset=.00 stop-color=#aadec3 /><stop offset=.06 stop-color=#7cd2ef /><stop offset=.20 stop-color=#6997d5 /><stop offset=.31 stop-color=#37c /><stop offset=.34 stop-color=#0163c4 /><stop offset=.40 stop-color=#038dd6 /><stop offset=.43 stop-color=#39bae7 /><stop offset=.54 stop-color=#dde678 /><stop offset=.57 stop-color=#f8e766 /><stop offset=.71 stop-color=#f07c53 /><stop offset=.74 stop-color=#eb4e21 /><stop offset=.80 stop-color=#e52 /><stop offset=.83 stop-color=#f38952 /><stop offset=.94 stop-color=#f9e973 /><stop offset=1.00 stop-color=#c5e4a8 /></linearGradient><linearGradient id=g79 gradientUnits=userSpaceOnUse x1=1633 x2=2001><stop offset=.00 stop-color=#aadec4 /><stop offset=.06 stop-color=#7dd0ef /><stop offset=.20 stop-color=#6993d3 /><stop offset=.26 stop-color=#4a7ac7 /><stop offset=.29 stop-color=#4a7dc9 /><stop offset=.34 stop-color=#015dc0 /><stop offset=.37 stop-color=#006dca /><stop offset=.43 stop-color=#43bae7 /><stop offset=.49 stop-color=#8dd3b1 /><stop offset=.54 stop-color=#e1e778 /><stop offset=.57 stop-color=#f8e368 /><stop offset=.71 stop-color=#ef7053 /><stop offset=.74 stop-color=#e83f22 /><stop offset=.80 stop-color=#eb4f2b /><stop offset=.83 stop-color=#f18359 /><stop offset=.94 stop-color=#f9e676 /><stop offset=1.00 stop-color=#c7e4a8 /></linearGradient><linearGradient id=g80 gradientUnits=userSpaceOnUse x1=1625 x2=1993><stop offset=.00 stop-color=#aadec6 /><stop offset=.06 stop-color=#7eceee /><stop offset=.20 stop-color=#6990d0 /><stop offset=.26 stop-color=#4b75c5 /><stop offset=.29 stop-color=#4a78c6 /><stop offset=.34 stop-color=#05b /><stop offset=.37 stop-color=#0067c7 /><stop offset=.43 stop-color=#49bae7 /><stop offset=.46 stop-color=#61cad8 /><stop offset=.54 stop-color=#e4e878 /><stop offset=.57 stop-color=#f8e06a /><stop offset=.71 stop-color=#e65 /><stop offset=.74 stop-color=#e63022 /><stop offset=.77 stop-color=#e63022 /><stop offset=.83 stop-color=#f07d5e /><stop offset=.94 stop-color=#f9e378 /><stop offset=1.00 stop-color=#c8e5a9 /></linearGradient><linearGradient id=g81 gradientUnits=userSpaceOnUse x1=1617 x2=1986><stop offset=.00 stop-color=#aadfc7 /><stop offset=.03 stop-color=#8bd8e5 /><stop offset=.11 stop-color=#7ad /><stop offset=.23 stop-color=#5b7ec7 /><stop offset=.29 stop-color=#4973c3 /><stop offset=.31 stop-color=#0a4bb4 /><stop offset=.37 stop-color=#0163c4 /><stop offset=.40 stop-color=#39d /><stop offset=.43 stop-color=#4ab8e6 /><stop offset=.46 stop-color=#5ec9db /><stop offset=.54 stop-color=#e7e977 /><stop offset=.60 stop-color=#f8c36b /><stop offset=.71 stop-color=#e55 /><stop offset=.74 stop-color=#e42323 /><stop offset=.77 stop-color=#e42323 /><stop offset=.83 stop-color=#ef7560 /><stop offset=.94 stop-color=#f9e17a /><stop offset=1.00 stop-color=#cae5a9 /></linearGradient><linearGradient id=g82 gradientUnits=userSpaceOnUse x1=1610 x2=1978><stop offset=.00 stop-color=#adc /><stop offset=.03 stop-color=#8ad8e7 /><stop offset=.17 stop-color=#7395d2 /><stop offset=.29 stop-color=#456bbe /><stop offset=.31 stop-color=#0441af /><stop offset=.37 stop-color=#1068c5 /><stop offset=.40 stop-color=#49d /><stop offset=.46 stop-color=#5dc9dd /><stop offset=.54 stop-color=#ee7 /><stop offset=.60 stop-color=#f8bf6c /><stop offset=.71 stop-color=#e75050 /><stop offset=.74 stop-color=#d22 /><stop offset=.77 stop-color=#d22 /><stop offset=.80 stop-color=#e74d4d /><stop offset=.94 stop-color=#f9df7c /><stop offset=.97 stop-color=#ee8 /><stop offset=1.00 stop-color=#cbe6a9 /></linearGradient><linearGradient id=g83 gradientUnits=userSpaceOnUse x1=1602 x2=1970><stop offset=.00 stop-color=#adc /><stop offset=.03 stop-color=#89d8e8 /><stop offset=.20 stop-color=#6a86c7 /><stop offset=.29 stop-color=#46b /><stop offset=.31 stop-color=#053cab /><stop offset=.34 stop-color=#034ab4 /><stop offset=.40 stop-color=#49d /><stop offset=.46 stop-color=#5cc9e0 /><stop offset=.54 stop-color=#ee7 /><stop offset=.63 stop-color=#f59d69 /><stop offset=.69 stop-color=#ec6460 /><stop offset=.71 stop-color=#df4c4d /><stop offset=.74 stop-color=#c22 /><stop offset=.77 stop-color=#c22 /><stop offset=.80 stop-color=#d55 /><stop offset=.89 stop-color=#f5a16f /><stop offset=.97 stop-color=#ee8 /><stop offset=1.00 stop-color=#cce6a9 /></linearGradient><linearGradient id=g84 gradientUnits=userSpaceOnUse x1=1594 x2=1963><stop offset=.00 stop-color=#adc /><stop offset=.03 stop-color=#87d8ea /><stop offset=.20 stop-color=#6a84c4 /><stop offset=.29 stop-color=#3a5db0 /><stop offset=.31 stop-color=#0639a7 /><stop offset=.34 stop-color=#0445b1 /><stop offset=.37 stop-color=#37c /><stop offset=.40 stop-color=#49d /><stop offset=.46 stop-color=#5ccae2 /><stop offset=.54 stop-color=#ee7 /><stop offset=.66 stop-color=#e76 /><stop offset=.71 stop-color=#d74849 /><stop offset=.74 stop-color=#c51e1f /><stop offset=.77 stop-color=#c51e1f /><stop offset=.80 stop-color=#d55 /><stop offset=.86 stop-color=#e76 /><stop offset=.97 stop-color=#ee8 /><stop offset=1.00 stop-color=#cde6aa /></linearGradient><linearGradient id=g85 gradientUnits=userSpaceOnUse x1=1587 x2=1955><stop offset=.00 stop-color=#adc /><stop offset=.03 stop-color=#86d8ec /><stop offset=.20 stop-color=#6a82c0 /><stop offset=.29 stop-color=#35a /><stop offset=.31 stop-color=#0636a2 /><stop offset=.34 stop-color=#0442af /><stop offset=.37 stop-color=#3a7aca /><stop offset=.46 stop-color=#5ccae5 /><stop offset=.54 stop-color=#ee7 /><stop offset=.66 stop-color=#ee7064 /><stop offset=.69 stop-color=#e35f60 /><stop offset=.74 stop-color=#bc1c1e /><stop offset=.77 stop-color=#bc1c1e /><stop offset=.80 stop-color=#d55a5c /><stop offset=.86 stop-color=#ef786c /><stop offset=.97 stop-color=#f3ef8b /><stop offset=1.00 stop-color=#cee7aa /></linearGradient><linearGradient id=g86 gradientUnits=userSpaceOnUse x1=1579 x2=1947><stop offset=.00 stop-color=#adc /><stop offset=.03 stop-color=#85d7ed /><stop offset=.20 stop-color=#6a80bd /><stop offset=.26 stop-color=#4f66ac /><stop offset=.31 stop-color=#07349e /><stop offset=.34 stop-color=#0840ae /><stop offset=.37 stop-color=#427cca /><stop offset=.46 stop-color=#5ccae7 /><stop offset=.54 stop-color=#f3ed76 /><stop offset=.66 stop-color=#ed6b64 /><stop offset=.69 stop-color=#dd5e5f /><stop offset=.74 stop-color=#b41b1e /><stop offset=.77 stop-color=#b8282b /><stop offset=.80 stop-color=#d05c5d /><stop offset=.86 stop-color=#ee756f /><stop offset=.97 stop-color=#f5ef8b /><stop offset=1.00 stop-color=#cfe7aa /></linearGradient><linearGradient id=g87 gradientUnits=userSpaceOnUse x1=1571 x2=1939><stop offset=.00 stop-color=#adc /><stop offset=.03 stop-color=#84d7ee /><stop offset=.20 stop-color=#697eba /><stop offset=.26 stop-color=#5065a9 /><stop offset=.29 stop-color=#1c3b96 /><stop offset=.31 stop-color=#083299 /><stop offset=.34 stop-color=#1c4db2 /><stop offset=.37 stop-color=#477eca /><stop offset=.46 stop-color=#5ccae9 /><stop offset=.54 stop-color=#f4ed75 /><stop offset=.66 stop-color=#e66 /><stop offset=.69 stop-color=#d95d5e /><stop offset=.74 stop-color=#ad1a1d /><stop offset=.80 stop-color=#cb5b5d /><stop offset=.86 stop-color=#ee7271 /><stop offset=.97 stop-color=#f6f08a /><stop offset=1.00 stop-color=#cfe7aa /></linearGradient><linearGradient id=g88 gradientUnits=userSpaceOnUse x1=1563 x2=1932><stop offset=.00 stop-color=#adc /><stop offset=.03 stop-color=#83d7ef /><stop offset=.20 stop-color=#67b /><stop offset=.26 stop-color=#5063a6 /><stop offset=.29 stop-color=#0b298a /><stop offset=.31 stop-color=#093096 /><stop offset=.37 stop-color=#4a7eca /><stop offset=.46 stop-color=#5ccbea /><stop offset=.54 stop-color=#f6ed75 /><stop offset=.66 stop-color=#e96363 /><stop offset=.69 stop-color=#d45d5e /><stop offset=.71 stop-color=#b72e31 /><stop offset=.74 stop-color=#a6181c /><stop offset=.80 stop-color=#c65a5c /><stop offset=.86 stop-color=#e77 /><stop offset=.97 stop-color=#f7f08a /><stop offset=1.00 stop-color=#d0e7aa /></linearGradient><linearGradient id=g89 gradientUnits=userSpaceOnUse x1=1556 x2=1924><stop offset=.00 stop-color=#adc /><stop offset=.03 stop-color=#82d7f0 /><stop offset=.20 stop-color=#6779b4 /><stop offset=.26 stop-color=#5062a3 /><stop offset=.29 stop-color=#0c2886 /><stop offset=.31 stop-color=#092e92 /><stop offset=.34 stop-color=#355db6 /><stop offset=.37 stop-color=#4a7cc9 /><stop offset=.46 stop-color=#5dcbec /><stop offset=.54 stop-color=#f7ee74 /><stop offset=.66 stop-color=#e66262 /><stop offset=.69 stop-color=#d05c5e /><stop offset=.71 stop-color=#ae2427 /><stop offset=.74 stop-color=#a0171b /><stop offset=.77 stop-color=#b34447 /><stop offset=.89 stop-color=#f2927e /><stop offset=.97 stop-color=#f8f18a /><stop offset=1.00 stop-color=#d1e7aa /></linearGradient><linearGradient id=g90 gradientUnits=userSpaceOnUse x1=1548 x2=1916><stop offset=.00 stop-color=#adc /><stop offset=.03 stop-color=#81d7f1 /><stop offset=.20 stop-color=#6677b1 /><stop offset=.26 stop-color=#4d5d9f /><stop offset=.29 stop-color=#0c2683 /><stop offset=.31 stop-color=#0a2d90 /><stop offset=.34 stop-color=#3d62b6 /><stop offset=.46 stop-color=#5dcbed /><stop offset=.54 stop-color=#f8ee74 /><stop offset=.66 stop-color=#e36161 /><stop offset=.69 stop-color=#cd5b5c /><stop offset=.71 stop-color=#a6181c /><stop offset=.74 stop-color=#9b171b /><stop offset=.77 stop-color=#b14a4d /><stop offset=.89 stop-color=#f2917f /><stop offset=.97 stop-color=#f9f18a /><stop offset=1.00 stop-color=#d1e8ab /></linearGradient><linearGradient id=g91 gradientUnits=userSpaceOnUse x1=1540 x2=1909><stop offset=.00 stop-color=#adc /><stop offset=.03 stop-color=#81d6f1 /><stop offset=.20 stop-color=#6574af /><stop offset=.26 stop-color=#49589b /><stop offset=.29 stop-color=#0d2581 /><stop offset=.31 stop-color=#0a2b8d /><stop offset=.34 stop-color=#46b /><stop offset=.43 stop-color=#5ad /><stop offset=.46 stop-color=#5ecbee /><stop offset=.54 stop-color=#f9ee73 /><stop offset=.66 stop-color=#e06060 /><stop offset=.69 stop-color=#c9585a /><stop offset=.71 stop-color=#a2181b /><stop offset=.74 stop-color=#97161a /><stop offset=.77 stop-color=#b14f52 /><stop offset=.89 stop-color=#f29181 /><stop offset=.97 stop-color=#faf18b /><stop offset=1.00 stop-color=#d1e8ab /></linearGradient><linearGradient id=g92 gradientUnits=userSpaceOnUse x1=1533 x2=1901><stop offset=.00 stop-color=#adc /><stop offset=.03 stop-color=#81d6f1 /><stop offset=.20 stop-color=#6372ac /><stop offset=.26 stop-color=#459 /><stop offset=.29 stop-color=#0d247e /><stop offset=.31 stop-color=#0b2a8b /><stop offset=.34 stop-color=#496ab8 /><stop offset=.43 stop-color=#5ad /><stop offset=.46 stop-color=#5fcbed /><stop offset=.54 stop-color=#f9ed73 /><stop offset=.63 stop-color=#e76 /><stop offset=.69 stop-color=#c65456 /><stop offset=.71 stop-color=#9e171b /><stop offset=.74 stop-color=#94151a /><stop offset=.77 stop-color=#b05357 /><stop offset=.89 stop-color=#f29183 /><stop offset=.97 stop-color=#faf08b /><stop offset=1.00 stop-color=#d2e8ab /></linearGradient><linearGradient id=g93 gradientUnits=userSpaceOnUse x1=1525 x2=1893><stop offset=.00 stop-color=#adc /><stop offset=.03 stop-color=#81d6f1 /><stop offset=.20 stop-color=#6270aa /><stop offset=.26 stop-color=#3d4b91 /><stop offset=.29 stop-color=#0d237d /><stop offset=.31 stop-color=#1b3892 /><stop offset=.34 stop-color=#4d6cb8 /><stop offset=.43 stop-color=#5ad /><stop offset=.46 stop-color=#60cbed /><stop offset=.54 stop-color=#f9ed73 /><stop offset=.63 stop-color=#e76 /><stop offset=.69 stop-color=#c35052 /><stop offset=.71 stop-color=#9c171b /><stop offset=.74 stop-color=#91151a /><stop offset=.77 stop-color=#b0565a /><stop offset=.89 stop-color=#f29184 /><stop offset=.97 stop-color=#faf08c /><stop offset=1.00 stop-color=#d2e8ab /></linearGradient><linearGradient id=g94 gradientUnits=userSpaceOnUse x1=1517 x2=1885><stop offset=.00 stop-color=#adc /><stop offset=.03 stop-color=#80d5f1 /><stop offset=.20 stop-color=#606ea9 /><stop offset=.26 stop-color=#348 /><stop offset=.29 stop-color=#0d237c /><stop offset=.34 stop-color=#4d6cb8 /><stop offset=.43 stop-color=#5bace1 /><stop offset=.46 stop-color=#61cbed /><stop offset=.54 stop-color=#f9ed73 /><stop offset=.63 stop-color=#e76 /><stop offset=.69 stop-color=#c04b4e /><stop offset=.71 stop-color=#9a161b /><stop offset=.74 stop-color=#901519 /><stop offset=.77 stop-color=#af565a /><stop offset=.89 stop-color=#f29185 /><stop offset=.97 stop-color=#faf08c /><stop offset=1.00 stop-color=#d2e8ab /></linearGradient><linearGradient id=g95 gradientUnits=userSpaceOnUse x1=1509 x2=1878><stop offset=.00 stop-color=#adc /><stop offset=.03 stop-color=#80d5f1 /><stop offset=.20 stop-color=#5e6ca7 /><stop offset=.23 stop-color=#525e9b /><stop offset=.29 stop-color=#127 /><stop offset=.34 stop-color=#4d6cb7 /><stop offset=.43 stop-color=#5cade1 /><stop offset=.46 stop-color=#6ce /><stop offset=.54 stop-color=#f9ec72 /><stop offset=.63 stop-color=#e76 /><stop offset=.69 stop-color=#b44 /><stop offset=.71 stop-color=#99161b /><stop offset=.74 stop-color=#962429 /><stop offset=.77 stop-color=#ae565a /><stop offset=.89 stop-color=#f29287 /><stop offset=.97 stop-color=#faf08c /><stop offset=1.00 stop-color=#d2e8ab /></linearGradient><linearGradient id=g96 gradientUnits=userSpaceOnUse x1=1502 x2=1870><stop offset=.00 stop-color=#adc /><stop offset=.03 stop-color=#80d5f1 /><stop offset=.20 stop-color=#5b6aa6 /><stop offset=.23 stop-color=#525e9b /><stop offset=.26 stop-color=#1f2e7e /><stop offset=.29 stop-color=#127 /><stop offset=.31 stop-color=#3a529f /><stop offset=.40 stop-color=#5692d5 /><stop offset=.46 stop-color=#6ce /><stop offset=.54 stop-color=#f9ec72 /><stop offset=.63 stop-color=#ee7163 /><stop offset=.66 stop-color=#db5e5f /><stop offset=.71 stop-color=#99161b /><stop offset=.77 stop-color=#ae565a /><stop offset=.89 stop-color=#f29388 /><stop offset=.97 stop-color=#faf08d /><stop offset=1.00 stop-color=#d2e8ab /></linearGradient><linearGradient id=g97 gradientUnits=userSpaceOnUse x1=1494 x2=1862><stop offset=.00 stop-color=#adc /><stop offset=.03 stop-color=#7fd5f1 /><stop offset=.20 stop-color=#5968a5 /><stop offset=.23 stop-color=#525e9c /><stop offset=.26 stop-color=#127 /><stop offset=.29 stop-color=#0d237c /><stop offset=.31 stop-color=#4057a2 /><stop offset=.46 stop-color=#6ce /><stop offset=.54 stop-color=#f9ec71 /><stop offset=.63 stop-color=#ee7162 /><stop offset=.66 stop-color=#db5e5f /><stop offset=.71 stop-color=#9a161b /><stop offset=.77 stop-color=#af565a /><stop offset=.89 stop-color=#f29489 /><stop offset=.97 stop-color=#faf08d /><stop offset=1.00 stop-color=#d2e8ab /></linearGradient><linearGradient id=g98 gradientUnits=userSpaceOnUse x1=1486 x2=1855><stop offset=.00 stop-color=#adc /><stop offset=.03 stop-color=#7fd5f1 /><stop offset=.20 stop-color=#5766a5 /><stop offset=.23 stop-color=#525e9d /><stop offset=.26 stop-color=#127 /><stop offset=.29 stop-color=#0d237d /><stop offset=.31 stop-color=#445ca6 /><stop offset=.43 stop-color=#5fafe2 /><stop offset=.46 stop-color=#6ce /><stop offset=.54 stop-color=#f9ed70 /><stop offset=.63 stop-color=#ee7161 /><stop offset=.66 stop-color=#dc5e5f /><stop offset=.69 stop-color=#b6292c /><stop offset=.71 stop-color=#9c171b /><stop offset=.74 stop-color=#a44 /><stop offset=.86 stop-color=#e48384 /><stop offset=.97 stop-color=#faf08d /><stop offset=1.00 stop-color=#d2e8ab /></linearGradient><linearGradient id=g99 gradientUnits=userSpaceOnUse x1=1479 x2=1847><stop offset=.00 stop-color=#adc /><stop offset=.03 stop-color=#7ed5f1 /><stop offset=.20 stop-color=#5465a4 /><stop offset=.23 stop-color=#4e5c9c /><stop offset=.26 stop-color=#127 /><stop offset=.29 stop-color=#0d247e /><stop offset=.31 stop-color=#4860a9 /><stop offset=.43 stop-color=#5fafe2 /><stop offset=.46 stop-color=#6ce /><stop offset=.54 stop-color=#f9ed6f /><stop offset=.63 stop-color=#ee7260 /><stop offset=.66 stop-color=#dd5b5c /><stop offset=.69 stop-color=#b31b1d /><stop offset=.71 stop-color=#9e171b /><stop offset=.74 stop-color=#ac494d /><stop offset=.89 stop-color=#f3978a /><stop offset=.97 stop-color=#faf18d /><stop offset=1.00 stop-color=#d2e8ab /></linearGradient><linearGradient id=g100 gradientUnits=userSpaceOnUse x1=1471 x2=1839><stop offset=.00 stop-color=#adc /><stop offset=.03 stop-color=#7ed5f1 /><stop offset=.20 stop-color=#5264a5 /><stop offset=.23 stop-color=#49589b /><stop offset=.26 stop-color=#127 /><stop offset=.29 stop-color=#0d2581 /><stop offset=.31 stop-color=#4b64ab /><stop offset=.43 stop-color=#60b0e3 /><stop offset=.46 stop-color=#6ce /><stop offset=.54 stop-color=#f9ed6e /><stop offset=.66 stop-color=#d55 /><stop offset=.69 stop-color=#b61b1e /><stop offset=.71 stop-color=#a2181b /><stop offset=.74 stop-color=#b14f52 /><stop offset=.89 stop-color=#f3998b /><stop offset=.97 stop-color=#faf18d /><stop offset=1.00 stop-color=#d2e8ab /></linearGradient><linearGradient id=g101 gradientUnits=userSpaceOnUse x1=1463 x2=1831><stop offset=.00 stop-color=#adc /><stop offset=.03 stop-color=#7dd5f1 /><stop offset=.20 stop-color=#56a /><stop offset=.23 stop-color=#459 /><stop offset=.26 stop-color=#0d237d /><stop offset=.29 stop-color=#0c2683 /><stop offset=.31 stop-color=#4e67ae /><stop offset=.43 stop-color=#60b1e3 /><stop offset=.46 stop-color=#6ce /><stop offset=.54 stop-color=#f8ed6d /><stop offset=.66 stop-color=#d55 /><stop offset=.69 stop-color=#ba1c1e /><stop offset=.71 stop-color=#a6181c /><stop offset=.74 stop-color=#b65457 /><stop offset=.89 stop-color=#f39c8b /><stop offset=.97 stop-color=#faf18e /><stop offset=1.00 stop-color=#d1e8ab /></linearGradient><linearGradient id=g102 gradientUnits=userSpaceOnUse x1=1455 x2=1824><stop offset=.00 stop-color=#adc /><stop offset=.03 stop-color=#7ed5f0 /><stop offset=.20 stop-color=#5064a8 /><stop offset=.23 stop-color=#3b4f98 /><stop offset=.26 stop-color=#0d2480 /><stop offset=.29 stop-color=#17328c /><stop offset=.31 stop-color=#4e69b1 /><stop offset=.43 stop-color=#60b2e4 /><stop offset=.46 stop-color=#6ce /><stop offset=.54 stop-color=#f7ed6d /><stop offset=.63 stop-color=#f0795f /><stop offset=.66 stop-color=#e24b4c /><stop offset=.69 stop-color=#be1d1f /><stop offset=.71 stop-color=#aa191c /><stop offset=.74 stop-color=#bb585b /><stop offset=.83 stop-color=#da7e7f /><stop offset=.89 stop-color=#f49e8c /><stop offset=.97 stop-color=#f9f18e /><stop offset=1.00 stop-color=#d1e8ab /></linearGradient><linearGradient id=g103 gradientUnits=userSpaceOnUse x1=1448 x2=1816><stop offset=.00 stop-color=#adc /><stop offset=.03 stop-color=#7ed5ef /><stop offset=.20 stop-color=#4f65aa /><stop offset=.26 stop-color=#0c2683 /><stop offset=.29 stop-color=#213c94 /><stop offset=.31 stop-color=#4e6ab3 /><stop offset=.43 stop-color=#60b4e4 /><stop offset=.46 stop-color=#6ce /><stop offset=.54 stop-color=#f5ec6c /><stop offset=.63 stop-color=#f07d5f /><stop offset=.66 stop-color=#e54343 /><stop offset=.69 stop-color=#c41d1f /><stop offset=.71 stop-color=#b01a1d /><stop offset=.74 stop-color=#bf595c /><stop offset=.86 stop-color=#e88 /><stop offset=.97 stop-color=#f8f18f /><stop offset=1.00 stop-color=#d1e8ab /></linearGradient><linearGradient id=g104 gradientUnits=userSpaceOnUse x1=1440 x2=1808><stop offset=.00 stop-color=#adc /><stop offset=.03 stop-color=#7ed5ed /><stop offset=.17 stop-color=#5370b8 /><stop offset=.20 stop-color=#4f67ad /><stop offset=.26 stop-color=#0b2887 /><stop offset=.31 stop-color=#4d6bb6 /><stop offset=.43 stop-color=#60b5e5 /><stop offset=.46 stop-color=#6ce /><stop offset=.54 stop-color=#f4ec6c /><stop offset=.63 stop-color=#f17f5d /><stop offset=.66 stop-color=#e73937 /><stop offset=.69 stop-color=#c22 /><stop offset=.71 stop-color=#bc2c2e /><stop offset=.74 stop-color=#c45a5c /><stop offset=.86 stop-color=#e88 /><stop offset=.97 stop-color=#f6f190 /><stop offset=1.00 stop-color=#d0e7ac /></linearGradient><linearGradient id=g105 gradientUnits=userSpaceOnUse x1=1432 x2=1801><stop offset=.00 stop-color=#adc /><stop offset=.03 stop-color=#7ed5ec /><stop offset=.17 stop-color=#5070ba /><stop offset=.20 stop-color=#4e68b0 /><stop offset=.23 stop-color=#193793 /><stop offset=.26 stop-color=#0a2b8c /><stop offset=.31 stop-color=#4d6db9 /><stop offset=.46 stop-color=#67cee9 /><stop offset=.54 stop-color=#f2eb6b /><stop offset=.63 stop-color=#f18058 /><stop offset=.66 stop-color=#e62f25 /><stop offset=.69 stop-color=#c22 /><stop offset=.74 stop-color=#c95b5d /><stop offset=.89 stop-color=#f5a88c /><stop offset=.97 stop-color=#f5f091 /><stop offset=1.00 stop-color=#cfe7ac /></linearGradient><linearGradient id=g106 gradientUnits=userSpaceOnUse x1=1425 x2=1793><stop offset=.00 stop-color=#adc /><stop offset=.03 stop-color=#7fd5ea /><stop offset=.17 stop-color=#4e70bd /><stop offset=.20 stop-color=#4b68b3 /><stop offset=.23 stop-color=#0a2d91 /><stop offset=.26 stop-color=#0a2d91 /><stop offset=.31 stop-color=#4c6ebc /><stop offset=.46 stop-color=#68cee7 /><stop offset=.54 stop-color=#f0ea6b /><stop offset=.63 stop-color=#f18151 /><stop offset=.66 stop-color=#e73422 /><stop offset=.69 stop-color=#d82122 /><stop offset=.74 stop-color=#cf5c5d /><stop offset=.89 stop-color=#f6ab8c /><stop offset=.97 stop-color=#f4f091 /><stop offset=1.00 stop-color=#cfe7ac /></linearGradient><linearGradient id=g107 gradientUnits=userSpaceOnUse x1=1417 x2=1785><stop offset=.00 stop-color=#adc /><stop offset=.03 stop-color=#7fd5e9 /><stop offset=.20 stop-color=#4566b5 /><stop offset=.23 stop-color=#093097 /><stop offset=.26 stop-color=#093097 /><stop offset=.29 stop-color=#35a /><stop offset=.34 stop-color=#4f7dc8 /><stop offset=.46 stop-color=#69cee5 /><stop offset=.54 stop-color=#ee6 /><stop offset=.60 stop-color=#f8b15d /><stop offset=.66 stop-color=#e83d22 /><stop offset=.69 stop-color=#d22 /><stop offset=.71 stop-color=#d84d4e /><stop offset=.80 stop-color=#d77 /><stop offset=.94 stop-color=#fade8d /><stop offset=.97 stop-color=#f2ef92 /><stop offset=1.00 stop-color=#cee7ac /></linearGradient><linearGradient id=g108 gradientUnits=userSpaceOnUse x1=1409 x2=1777><stop offset=.00 stop-color=#a8dec7 /><stop offset=.03 stop-color=#80d5e7 /><stop offset=.17 stop-color=#4b73c3 /><stop offset=.20 stop-color=#3e63b7 /><stop offset=.23 stop-color=#07339d /><stop offset=.26 stop-color=#07339d /><stop offset=.29 stop-color=#375db4 /><stop offset=.37 stop-color=#5591d4 /><stop offset=.46 stop-color=#6acee3 /><stop offset=.54 stop-color=#ebe96a /><stop offset=.60 stop-color=#f8b45b /><stop offset=.66 stop-color=#e42 /><stop offset=.69 stop-color=#e52823 /><stop offset=.71 stop-color=#d55 /><stop offset=.86 stop-color=#f49d89 /><stop offset=.97 stop-color=#f0ef93 /><stop offset=1.00 stop-color=#cde7ab /></linearGradient><linearGradient id=g109 gradientUnits=userSpaceOnUse x1=1401 x2=1770><stop offset=.00 stop-color=#a7dec6 /><stop offset=.03 stop-color=#80d5e5 /><stop offset=.11 stop-color=#5996d7 /><stop offset=.20 stop-color=#355fb9 /><stop offset=.23 stop-color=#0636a3 /><stop offset=.26 stop-color=#0636a3 /><stop offset=.29 stop-color=#3962ba /><stop offset=.40 stop-color=#5ad /><stop offset=.46 stop-color=#6bcee0 /><stop offset=.54 stop-color=#e8e86a /><stop offset=.60 stop-color=#f7b656 /><stop offset=.63 stop-color=#f27d2d /><stop offset=.69 stop-color=#e73322 /><stop offset=.71 stop-color=#e95a5b /><stop offset=.83 stop-color=#f18e84 /><stop offset=.94 stop-color=#fae38c /><stop offset=.97 stop-color=#eeee94 /><stop offset=1.00 stop-color=#cce6ab /></linearGradient><linearGradient id=g110 gradientUnits=userSpaceOnUse x1=1394 x2=1762><stop offset=.00 stop-color=#a7dec5 /><stop offset=.03 stop-color=#81d5e2 /><stop offset=.09 stop-color=#60ade1 /><stop offset=.17 stop-color=#4a7ac8 /><stop offset=.23 stop-color=#053aaa /><stop offset=.26 stop-color=#053aaa /><stop offset=.29 stop-color=#3a67be /><stop offset=.43 stop-color=#5bbee8 /><stop offset=.46 stop-color=#6bcede /><stop offset=.54 stop-color=#e5e76b /><stop offset=.57 stop-color=#f8da5d /><stop offset=.60 stop-color=#f7b74e /><stop offset=.63 stop-color=#f37e1f /><stop offset=.69 stop-color=#e94427 /><stop offset=.71 stop-color=#ec665f /><stop offset=.77 stop-color=#ed6e6e /><stop offset=.91 stop-color=#fad08c /><stop offset=.97 stop-color=#ee9 /><stop offset=1.00 stop-color=#cbe6ab /></linearGradient><linearGradient id=g111 gradientUnits=userSpaceOnUse x1=1386 x2=1754><stop offset=.00 stop-color=#a7ddc4 /><stop offset=.06 stop-color=#68c6eb /><stop offset=.17 stop-color=#497eca /><stop offset=.23 stop-color=#04a /><stop offset=.26 stop-color=#04a /><stop offset=.29 stop-color=#3b6dc2 /><stop offset=.43 stop-color=#59c0e9 /><stop offset=.46 stop-color=#6ccedb /><stop offset=.54 stop-color=#e2e66d /><stop offset=.57 stop-color=#f8de5c /><stop offset=.63 stop-color=#f4881e /><stop offset=.66 stop-color=#e62 /><stop offset=.69 stop-color=#ed5e38 /><stop offset=.71 stop-color=#ee7160 /><stop offset=.74 stop-color=#ed6a60 /><stop offset=.86 stop-color=#f6ad88 /><stop offset=.94 stop-color=#fae78b /><stop offset=1.00 stop-color=#cae5ab /></linearGradient><linearGradient id=g112 gradientUnits=userSpaceOnUse x1=1378 x2=1747><stop offset=.00 stop-color=#a7ddc2 /><stop offset=.06 stop-color=#66c7ec /><stop offset=.17 stop-color=#437ecb /><stop offset=.20 stop-color=#15b /><stop offset=.26 stop-color=#0446b2 /><stop offset=.29 stop-color=#3b73c5 /><stop offset=.43 stop-color=#57c2ea /><stop offset=.49 stop-color=#90d4b3 /><stop offset=.57 stop-color=#f7e056 /><stop offset=.63 stop-color=#f5911e /><stop offset=.66 stop-color=#f1721f /><stop offset=.71 stop-color=#f07b5f /><stop offset=.77 stop-color=#f0826f /><stop offset=.91 stop-color=#fad78a /><stop offset=.97 stop-color=#e8ed96 /><stop offset=1.00 stop-color=#c9e5ab /></linearGradient><linearGradient id=g113 gradientUnits=userSpaceOnUse x1=1371 x2=1739><stop offset=.00 stop-color=#a7ddc1 /><stop offset=.06 stop-color=#6ce /><stop offset=.17 stop-color=#3b7ecc /><stop offset=.20 stop-color=#05b /><stop offset=.26 stop-color=#034db6 /><stop offset=.29 stop-color=#3c78c8 /><stop offset=.43 stop-color=#54c4eb /><stop offset=.57 stop-color=#f7e34d /><stop offset=.60 stop-color=#f5b91e /><stop offset=.66 stop-color=#f37e1f /><stop offset=.69 stop-color=#f2854d /><stop offset=.77 stop-color=#f28c6f /><stop offset=.94 stop-color=#faec89 /><stop offset=1.00 stop-color=#c7e5ab /></linearGradient><linearGradient id=g114 gradientUnits=userSpaceOnUse x1=1363 x2=1731><stop offset=.00 stop-color=#adb /><stop offset=.06 stop-color=#60cbed /><stop offset=.17 stop-color=#327ecd /><stop offset=.20 stop-color=#05b /><stop offset=.26 stop-color=#05b /><stop offset=.29 stop-color=#3b7ecc /><stop offset=.43 stop-color=#52c6ec /><stop offset=.54 stop-color=#d7e472 /><stop offset=.57 stop-color=#f7e641 /><stop offset=.60 stop-color=#f5c01e /><stop offset=.66 stop-color=#f58b1e /><stop offset=.69 stop-color=#f49553 /><stop offset=.77 stop-color=#f4976f /><stop offset=.94 stop-color=#faef88 /><stop offset=1.00 stop-color=#c6e4aa /></linearGradient><linearGradient id=g115 gradientUnits=userSpaceOnUse x1=1355 x2=1723><stop offset=.00 stop-color=#adb /><stop offset=.06 stop-color=#60cceb /><stop offset=.14 stop-color=#49d /><stop offset=.20 stop-color=#015fc2 /><stop offset=.26 stop-color=#075fc1 /><stop offset=.29 stop-color=#3a83cf /><stop offset=.43 stop-color=#52c7ea /><stop offset=.54 stop-color=#d2e16d /><stop offset=.57 stop-color=#f2e530 /><stop offset=.63 stop-color=#f5ad1e /><stop offset=.66 stop-color=#f69f2f /><stop offset=.69 stop-color=#f7a459 /><stop offset=.77 stop-color=#f5a26f /><stop offset=.94 stop-color=#f8f088 /><stop offset=1.00 stop-color=#c4e3aa /></linearGradient><linearGradient id=g116 gradientUnits=userSpaceOnUse x1=1347 x2=1716><stop offset=.00 stop-color=#a5dcbb /><stop offset=.06 stop-color=#61cce6 /><stop offset=.14 stop-color=#49d /><stop offset=.20 stop-color=#0066c6 /><stop offset=.26 stop-color=#0c6ac7 /><stop offset=.29 stop-color=#3988d3 /><stop offset=.43 stop-color=#55c8e4 /><stop offset=.54 stop-color=#cd6 /><stop offset=.57 stop-color=#e9e127 /><stop offset=.63 stop-color=#f5b71e /><stop offset=.69 stop-color=#f8b15d /><stop offset=.77 stop-color=#f7ad6f /><stop offset=.94 stop-color=#f3ef8a /><stop offset=1.00 stop-color=#c2e3a9 /></linearGradient><linearGradient id=g117 gradientUnits=userSpaceOnUse x1=1340 x2=1708><stop offset=.00 stop-color=#a4dbb9 /><stop offset=.09 stop-color=#4cc0e9 /><stop offset=.14 stop-color=#3a9fdd /><stop offset=.17 stop-color=#057acf /><stop offset=.23 stop-color=#006cc9 /><stop offset=.26 stop-color=#17c /><stop offset=.29 stop-color=#3990d6 /><stop offset=.37 stop-color=#4ab2e4 /><stop offset=.43 stop-color=#5ac8de /><stop offset=.51 stop-color=#aad88a /><stop offset=.57 stop-color=#e1df2d /><stop offset=.60 stop-color=#f5d91e /><stop offset=.63 stop-color=#f5c21e /><stop offset=.66 stop-color=#f7bf4c /><stop offset=.77 stop-color=#f9b86f /><stop offset=.94 stop-color=#ee8 /><stop offset=1.00 stop-color=#c0e2a8 /></linearGradient><linearGradient id=g118 gradientUnits=userSpaceOnUse x1=1332 x2=1700><stop offset=.00 stop-color=#a3dbb6 /><stop offset=.09 stop-color=#4bc4eb /><stop offset=.11 stop-color=#4ab8e6 /><stop offset=.17 stop-color=#0283d3 /><stop offset=.23 stop-color=#07c /><stop offset=.31 stop-color=#4ad /><stop offset=.40 stop-color=#4bc4eb /><stop offset=.49 stop-color=#90d3a6 /><stop offset=.54 stop-color=#b5d54e /><stop offset=.60 stop-color=#f5e21e /><stop offset=.63 stop-color=#f6d02f /><stop offset=.66 stop-color=#f7cb55 /><stop offset=.77 stop-color=#f9c16f /><stop offset=.91 stop-color=#f9ef83 /><stop offset=1.00 stop-color=#bda /></linearGradient><linearGradient id=g119 gradientUnits=userSpaceOnUse x1=1324 x2=1693><stop offset=.00 stop-color=#a2dab3 /><stop offset=.09 stop-color=#51c7e6 /><stop offset=.11 stop-color=#44bce8 /><stop offset=.17 stop-color=#038fd7 /><stop offset=.23 stop-color=#0284d3 /><stop offset=.31 stop-color=#46ace2 /><stop offset=.40 stop-color=#51c7e6 /><stop offset=.49 stop-color=#89d09f /><stop offset=.54 stop-color=#afd452 /><stop offset=.60 stop-color=#ece225 /><stop offset=.66 stop-color=#f8d75b /><stop offset=.77 stop-color=#f9cb6f /><stop offset=.91 stop-color=#f4ef85 /><stop offset=1.00 stop-color=#bda /></linearGradient><linearGradient id=g120 gradientUnits=userSpaceOnUse x1=1317 x2=1685><stop offset=.00 stop-color=#a1d9b0 /><stop offset=.11 stop-color=#3bc0ea /><stop offset=.14 stop-color=#1ad /><stop offset=.23 stop-color=#0391d8 /><stop offset=.31 stop-color=#43b4e5 /><stop offset=.37 stop-color=#4bc5eb /><stop offset=.46 stop-color=#76cdb5 /><stop offset=.51 stop-color=#8ccb6d /><stop offset=.60 stop-color=#dd3 /><stop offset=.63 stop-color=#f7e94f /><stop offset=.74 stop-color=#f8d367 /><stop offset=.89 stop-color=#f9ef7f /><stop offset=1.00 stop-color=#b8dfa5 /></linearGradient><linearGradient id=g121 gradientUnits=userSpaceOnUse x1=1309 x2=1677><stop offset=.00 stop-color=#a0d9ad /><stop offset=.09 stop-color=#61cad5 /><stop offset=.14 stop-color=#05ade3 /><stop offset=.23 stop-color=#049edd /><stop offset=.31 stop-color=#3fbbe8 /><stop offset=.40 stop-color=#5dc8d4 /><stop offset=.46 stop-color=#6ec9a9 /><stop offset=.49 stop-color=#70c584 /><stop offset=.57 stop-color=#bcd748 /><stop offset=.63 stop-color=#ede960 /><stop offset=.77 stop-color=#f9e06f /><stop offset=.89 stop-color=#f1ed82 /><stop offset=1.00 stop-color=#b5dea3 /></linearGradient><linearGradient id=g122 gradientUnits=userSpaceOnUse x1=1301 x2=1669><stop offset=.00 stop-color=#9ed8a9 /><stop offset=.09 stop-color=#6cc /><stop offset=.14 stop-color=#15b2d6 /><stop offset=.23 stop-color=#05abe2 /><stop offset=.34 stop-color=#4bc4df /><stop offset=.43 stop-color=#62c7b5 /><stop offset=.46 stop-color=#5ec297 /><stop offset=.54 stop-color=#9ed05f /><stop offset=.63 stop-color=#e2e76d /><stop offset=.71 stop-color=#f8ea61 /><stop offset=.89 stop-color=#e7eb87 /><stop offset=1.00 stop-color=#b1dda1 /></linearGradient><linearGradient id=g123 gradientUnits=userSpaceOnUse x1=1293 x2=1662><stop offset=.00 stop-color=#9dd7a6 /><stop offset=.09 stop-color=#63c7bc /><stop offset=.11 stop-color=#3bb /><stop offset=.23 stop-color=#15b2d6 /><stop offset=.34 stop-color=#52c4d1 /><stop offset=.46 stop-color=#62c290 /><stop offset=.54 stop-color=#9c6 /><stop offset=.60 stop-color=#cd7 /><stop offset=.71 stop-color=#ebe96d /><stop offset=.89 stop-color=#dde88b /><stop offset=1.00 stop-color=#aedb9f /></linearGradient><linearGradient id=g124 gradientUnits=userSpaceOnUse x1=1286 x2=1654><stop offset=.00 stop-color=#9cd6a3 /><stop offset=.06 stop-color=#80cfaf /><stop offset=.11 stop-color=#4ba /><stop offset=.23 stop-color=#2cb7c1 /><stop offset=.31 stop-color=#53c4c6 /><stop offset=.43 stop-color=#5ac197 /><stop offset=.51 stop-color=#8c7 /><stop offset=.60 stop-color=#c3df84 /><stop offset=.74 stop-color=#dfe77d /><stop offset=.94 stop-color=#c1e197 /><stop offset=1.00 stop-color=#ad9 /></linearGradient><linearGradient id=g125 gradientUnits=userSpaceOnUse x1=1278 x2=1646><stop offset=.00 stop-color=#9ed7a1 /><stop offset=.06 stop-color=#7ecda1 /><stop offset=.09 stop-color=#5bc196 /><stop offset=.23 stop-color=#4ba /><stop offset=.34 stop-color=#5dc4ab /><stop offset=.40 stop-color=#5bc196 /><stop offset=.51 stop-color=#8dce80 /><stop offset=.60 stop-color=#bd8 /><stop offset=.83 stop-color=#cee490 /><stop offset=1.00 stop-color=#ad9 /></linearGradient><linearGradient id=g126 gradientUnits=userSpaceOnUse x1=1270 x2=1639><stop offset=.00 stop-color=#9fd7a0 /><stop offset=.09 stop-color=#69c48a /><stop offset=.23 stop-color=#61c39c /><stop offset=.40 stop-color=#69c48a /><stop offset=.49 stop-color=#7ec97f /><stop offset=.54 stop-color=#ad9 /><stop offset=.83 stop-color=#c0e099 /><stop offset=1.00 stop-color=#a4d89c /></linearGradient><linearGradient id=g127 gradientUnits=userSpaceOnUse x1=1263 x2=1631><stop offset=.00 stop-color=#9bd599 /><stop offset=.06 stop-color=#78c77c /><stop offset=.29 stop-color=#7c8 /><stop offset=.46 stop-color=#7ac77b /><stop offset=.54 stop-color=#a4d89c /><stop offset=.89 stop-color=#addb9f /><stop offset=1.00 stop-color=#a2d89d /></linearGradient><linearGradient id=g128 gradientUnits=userSpaceOnUse x1=595 x2=962><stop offset=.00 stop-color=#212f7e /><stop offset=.23 stop-color=#127 /><stop offset=.29 stop-color=#0a2b8d /><stop offset=.31 stop-color=#2149a9 /><stop offset=.34 stop-color=#507ec9 /><stop offset=.40 stop-color=#6cbce7 /><stop offset=.43 stop-color=#6ccfe5 /><stop offset=.49 stop-color=#74c680 /><stop offset=.51 stop-color=#a3d9ab /><stop offset=.54 stop-color=#ace0d1 /><stop offset=.57 stop-color=#9de /><stop offset=.69 stop-color=#89c /><stop offset=.83 stop-color=#2d3b86 /><stop offset=1.00 stop-color=#212f7e /></linearGradient><linearGradient id=g129 gradientUnits=userSpaceOnUse x1=588 x2=954><stop offset=.00 stop-color=#212f7e /><stop offset=.23 stop-color=#127 /><stop offset=.29 stop-color=#0a2b8d /><stop offset=.31 stop-color=#2149a9 /><stop offset=.34 stop-color=#507ec9 /><stop offset=.40 stop-color=#6cbce7 /><stop offset=.43 stop-color=#6ccfe5 /><stop offset=.49 stop-color=#74c680 /><stop offset=.51 stop-color=#a3d9ab /><stop offset=.54 stop-color=#ace0d1 /><stop offset=.57 stop-color=#9de /><stop offset=.69 stop-color=#89c /><stop offset=.83 stop-color=#2d3b86 /><stop offset=1.00 stop-color=#212f7e /></linearGradient><linearGradient id=g130 gradientUnits=userSpaceOnUse x1=580 x2=947><stop offset=.00 stop-color=#212f7e /><stop offset=.23 stop-color=#127 /><stop offset=.29 stop-color=#0a2b8d /><stop offset=.31 stop-color=#2149a9 /><stop offset=.34 stop-color=#507ec9 /><stop offset=.40 stop-color=#6cbce7 /><stop offset=.43 stop-color=#6ccfe5 /><stop offset=.49 stop-color=#74c680 /><stop offset=.51 stop-color=#a3d9ab /><stop offset=.54 stop-color=#ace0d1 /><stop offset=.57 stop-color=#9de /><stop offset=.69 stop-color=#89c /><stop offset=.83 stop-color=#2d3b86 /><stop offset=1.00 stop-color=#212f7e /></linearGradient><linearGradient id=g131 gradientUnits=userSpaceOnUse x1=572 x2=939><stop offset=.00 stop-color=#212f7e /><stop offset=.23 stop-color=#127 /><stop offset=.29 stop-color=#0a2b8d /><stop offset=.31 stop-color=#2149a9 /><stop offset=.34 stop-color=#507ec9 /><stop offset=.40 stop-color=#6dbce7 /><stop offset=.43 stop-color=#6ccfe5 /><stop offset=.49 stop-color=#74c680 /><stop offset=.51 stop-color=#a3d9ab /><stop offset=.54 stop-color=#ace0d1 /><stop offset=.57 stop-color=#9de /><stop offset=.69 stop-color=#89c /><stop offset=.83 stop-color=#2d3b86 /><stop offset=1.00 stop-color=#212f7e /></linearGradient><linearGradient id=g132 gradientUnits=userSpaceOnUse x1=565 x2=931><stop offset=.00 stop-color=#212f7e /><stop offset=.23 stop-color=#127 /><stop offset=.29 stop-color=#0a2b8d /><stop offset=.31 stop-color=#2149a9 /><stop offset=.34 stop-color=#507ec9 /><stop offset=.40 stop-color=#6dbce7 /><stop offset=.43 stop-color=#6ccfe5 /><stop offset=.49 stop-color=#74c680 /><stop offset=.51 stop-color=#a3d9ab /><stop offset=.54 stop-color=#ace0d1 /><stop offset=.57 stop-color=#9de /><stop offset=.69 stop-color=#89c /><stop offset=.83 stop-color=#2d3b86 /><stop offset=1.00 stop-color=#212f7e /></linearGradient><linearGradient id=g133 gradientUnits=userSpaceOnUse x1=557 x2=924><stop offset=.00 stop-color=#212f7e /><stop offset=.26 stop-color=#0c2581 /><stop offset=.29 stop-color=#0a2b8d /><stop offset=.31 stop-color=#214aa9 /><stop offset=.34 stop-color=#507ec9 /><stop offset=.40 stop-color=#6dbce7 /><stop offset=.43 stop-color=#6ccfe5 /><stop offset=.49 stop-color=#74c680 /><stop offset=.51 stop-color=#a3d9ab /><stop offset=.54 stop-color=#ace0d1 /><stop offset=.57 stop-color=#9de /><stop offset=.69 stop-color=#89c /><stop offset=.83 stop-color=#2c3b86 /><stop offset=1.00 stop-color=#212f7e /></linearGradient><linearGradient id=g134 gradientUnits=userSpaceOnUse x1=549 x2=916><stop offset=.00 stop-color=#212f7d /><stop offset=.26 stop-color=#0c2581 /><stop offset=.29 stop-color=#0a2b8d /><stop offset=.31 stop-color=#214aa9 /><stop offset=.34 stop-color=#507fc9 /><stop offset=.40 stop-color=#6dbce7 /><stop offset=.43 stop-color=#6ccfe5 /><stop offset=.49 stop-color=#74c680 /><stop offset=.51 stop-color=#a3d9ab /><stop offset=.54 stop-color=#ace0d1 /><stop offset=.57 stop-color=#9de /><stop offset=.69 stop-color=#89c /><stop offset=.83 stop-color=#2c3a86 /><stop offset=1.00 stop-color=#212f7d /></linearGradient><linearGradient id=g135 gradientUnits=userSpaceOnUse x1=542 x2=908><stop offset=.00 stop-color=#202e7d /><stop offset=.26 stop-color=#0c2581 /><stop offset=.29 stop-color=#0a2b8d /><stop offset=.31 stop-color=#224aaa /><stop offset=.34 stop-color=#517fc9 /><stop offset=.40 stop-color=#6dbce7 /><stop offset=.43 stop-color=#6ccfe5 /><stop offset=.49 stop-color=#74c680 /><stop offset=.51 stop-color=#a3d9aa /><stop offset=.54 stop-color=#ace0d1 /><stop offset=.57 stop-color=#9de /><stop offset=.69 stop-color=#89c /><stop offset=.83 stop-color=#2c3a85 /><stop offset=1.00 stop-color=#202e7d /></linearGradient><linearGradient id=g136 gradientUnits=userSpaceOnUse x1=534 x2=901><stop offset=.00 stop-color=#1f2e7d /><stop offset=.26 stop-color=#0c2581 /><stop offset=.29 stop-color=#0a2b8d /><stop offset=.31 stop-color=#234baa /><stop offset=.34 stop-color=#517fca /><stop offset=.40 stop-color=#6dbde7 /><stop offset=.43 stop-color=#6dcfe5 /><stop offset=.49 stop-color=#75c680 /><stop offset=.51 stop-color=#a3d9aa /><stop offset=.54 stop-color=#ace0d1 /><stop offset=.57 stop-color=#9de /><stop offset=.69 stop-color=#89c /><stop offset=.83 stop-color=#2b3985 /><stop offset=1.00 stop-color=#202e7d /></linearGradient><linearGradient id=g137 gradientUnits=userSpaceOnUse x1=526 x2=893><stop offset=.00 stop-color=#1e2c7c /><stop offset=.26 stop-color=#0c2582 /><stop offset=.29 stop-color=#0a2b8d /><stop offset=.31 stop-color=#244cab /><stop offset=.34 stop-color=#5280ca /><stop offset=.40 stop-color=#6ebde7 /><stop offset=.43 stop-color=#6ecfe5 /><stop offset=.49 stop-color=#75c67f /><stop offset=.51 stop-color=#a2d9a9 /><stop offset=.54 stop-color=#adc /><stop offset=.57 stop-color=#9de /><stop offset=.69 stop-color=#89c /><stop offset=.83 stop-color=#2a3884 /><stop offset=1.00 stop-color=#1e2d7c /></linearGradient><linearGradient id=g138 gradientUnits=userSpaceOnUse x1=518 x2=885><stop offset=.00 stop-color=#1c2b7b /><stop offset=.26 stop-color=#0c2682 /><stop offset=.29 stop-color=#0a2c8e /><stop offset=.34 stop-color=#5481cb /><stop offset=.40 stop-color=#6fbee8 /><stop offset=.43 stop-color=#70d0e5 /><stop offset=.49 stop-color=#76c67f /><stop offset=.51 stop-color=#a2d9a8 /><stop offset=.54 stop-color=#adc /><stop offset=.57 stop-color=#9de /><stop offset=.69 stop-color=#89c /><stop offset=.83 stop-color=#273683 /><stop offset=1.00 stop-color=#1c2b7b /></linearGradient><linearGradient id=g139 gradientUnits=userSpaceOnUse x1=511 x2=878><stop offset=.00 stop-color=#19287a /><stop offset=.26 stop-color=#0c2682 /><stop offset=.29 stop-color=#0a2c8e /><stop offset=.34 stop-color=#5683cc /><stop offset=.40 stop-color=#71bfe8 /><stop offset=.43 stop-color=#72d1e5 /><stop offset=.49 stop-color=#77c77e /><stop offset=.51 stop-color=#a2d8a6 /><stop offset=.54 stop-color=#adc /><stop offset=.57 stop-color=#9de /><stop offset=.69 stop-color=#839ad0 /><stop offset=.83 stop-color=#243482 /><stop offset=1.00 stop-color=#19287a /></linearGradient><linearGradient id=g140 gradientUnits=userSpaceOnUse x1=503 x2=870><stop offset=.00 stop-color=#127 /><stop offset=.26 stop-color=#0c2683 /><stop offset=.29 stop-color=#0a2c8f /><stop offset=.34 stop-color=#58c /><stop offset=.40 stop-color=#73c0e9 /><stop offset=.43 stop-color=#75d2e4 /><stop offset=.49 stop-color=#79c77c /><stop offset=.51 stop-color=#a1d8a3 /><stop offset=.54 stop-color=#adc /><stop offset=.57 stop-color=#9de /><stop offset=.69 stop-color=#8199d0 /><stop offset=.83 stop-color=#1f3080 /><stop offset=1.00 stop-color=#127 /></linearGradient><linearGradient id=g141 gradientUnits=userSpaceOnUse x1=495 x2=862><stop offset=.00 stop-color=#127 /><stop offset=.26 stop-color=#0c2785 /><stop offset=.29 stop-color=#0a2d90 /><stop offset=.34 stop-color=#5d8acf /><stop offset=.40 stop-color=#76c3ea /><stop offset=.43 stop-color=#7ad3e3 /><stop offset=.49 stop-color=#7c7 /><stop offset=.51 stop-color=#a1d79f /><stop offset=.54 stop-color=#adc /><stop offset=.57 stop-color=#9de /><stop offset=.66 stop-color=#8ad /><stop offset=.74 stop-color=#56a /><stop offset=.83 stop-color=#182a7e /><stop offset=1.00 stop-color=#127 /></linearGradient><linearGradient id=g142 gradientUnits=userSpaceOnUse x1=488 x2=854><stop offset=.00 stop-color=#127 /><stop offset=.26 stop-color=#0b2886 /><stop offset=.29 stop-color=#092e92 /><stop offset=.34 stop-color=#638fd1 /><stop offset=.40 stop-color=#7ac5eb /><stop offset=.43 stop-color=#81d5e2 /><stop offset=.49 stop-color=#80c976 /><stop offset=.51 stop-color=#a0d699 /><stop offset=.54 stop-color=#adc /><stop offset=.57 stop-color=#9adde8 /><stop offset=.63 stop-color=#8ebbe6 /><stop offset=.71 stop-color=#687ebc /><stop offset=.80 stop-color=#1b2f83 /><stop offset=1.00 stop-color=#127 /></linearGradient><linearGradient id=g143 gradientUnits=userSpaceOnUse x1=480 x2=847><stop offset=.00 stop-color=#127 /><stop offset=.26 stop-color=#0b2989 /><stop offset=.29 stop-color=#139 /><stop offset=.31 stop-color=#476dbe /><stop offset=.37 stop-color=#79b0e2 /><stop offset=.40 stop-color=#7ec9ec /><stop offset=.43 stop-color=#89d7e0 /><stop offset=.46 stop-color=#92d5b1 /><stop offset=.49 stop-color=#86ca72 /><stop offset=.51 stop-color=#9fd58f /><stop offset=.54 stop-color=#acdfc3 /><stop offset=.57 stop-color=#9adde5 /><stop offset=.63 stop-color=#8abae6 /><stop offset=.71 stop-color=#6079bb /><stop offset=.80 stop-color=#0f2680 /><stop offset=1.00 stop-color=#127 /></linearGradient><linearGradient id=g144 gradientUnits=userSpaceOnUse x1=472 x2=839><stop offset=.00 stop-color=#0d247f /><stop offset=.26 stop-color=#0a2b8d /><stop offset=.29 stop-color=#1e44a2 /><stop offset=.31 stop-color=#5378c5 /><stop offset=.37 stop-color=#7fb5e4 /><stop offset=.40 stop-color=#8ce /><stop offset=.43 stop-color=#93dade /><stop offset=.46 stop-color=#9ed9b1 /><stop offset=.49 stop-color=#8ecc6b /><stop offset=.51 stop-color=#9ed381 /><stop offset=.54 stop-color=#adb /><stop offset=.57 stop-color=#9dd /><stop offset=.60 stop-color=#8ce /><stop offset=.69 stop-color=#6e8dce /><stop offset=.77 stop-color=#132e8a /><stop offset=1.00 stop-color=#0d247f /></linearGradient><linearGradient id=g145 gradientUnits=userSpaceOnUse x1=465 x2=831><stop offset=.00 stop-color=#0c2784 /><stop offset=.26 stop-color=#092e92 /><stop offset=.31 stop-color=#5f85cb /><stop offset=.37 stop-color=#85bce7 /><stop offset=.40 stop-color=#8ad3f0 /><stop offset=.43 stop-color=#9eddda /><stop offset=.46 stop-color=#acddb0 /><stop offset=.49 stop-color=#9c6 /><stop offset=.51 stop-color=#9fd26c /><stop offset=.54 stop-color=#adddb1 /><stop offset=.60 stop-color=#84d1ef /><stop offset=.69 stop-color=#68c /><stop offset=.74 stop-color=#1d3f9b /><stop offset=.80 stop-color=#0b2887 /><stop offset=1.00 stop-color=#0c2784 /></linearGradient><linearGradient id=g146 gradientUnits=userSpaceOnUse x1=457 x2=824><stop offset=.00 stop-color=#0b2a8b /><stop offset=.23 stop-color=#092e92 /><stop offset=.26 stop-color=#133a9e /><stop offset=.31 stop-color=#6c92d1 /><stop offset=.40 stop-color=#90d9f2 /><stop offset=.46 stop-color=#bbe1af /><stop offset=.49 stop-color=#aad35a /><stop offset=.51 stop-color=#a8d257 /><stop offset=.54 stop-color=#afdca1 /><stop offset=.60 stop-color=#7cd3f0 /><stop offset=.69 stop-color=#5380ca /><stop offset=.74 stop-color=#083299 /><stop offset=1.00 stop-color=#0b2a8b /></linearGradient><linearGradient id=g147 gradientUnits=userSpaceOnUse x1=449 x2=816><stop offset=.00 stop-color=#092f94 /><stop offset=.23 stop-color=#08329b /><stop offset=.31 stop-color=#769ed7 /><stop offset=.40 stop-color=#9de /><stop offset=.46 stop-color=#cae6ad /><stop offset=.49 stop-color=#c4dc5f /><stop offset=.51 stop-color=#bcd749 /><stop offset=.57 stop-color=#9ddac0 /><stop offset=.60 stop-color=#78d3ea /><stop offset=.69 stop-color=#3e76c7 /><stop offset=.71 stop-color=#1147b0 /><stop offset=.80 stop-color=#083097 /><stop offset=1.00 stop-color=#092f94 /></linearGradient><linearGradient id=g148 gradientUnits=userSpaceOnUse x1=442 x2=808><stop offset=.00 stop-color=#07349f /><stop offset=.20 stop-color=#0636a2 /><stop offset=.31 stop-color=#7fa9dd /><stop offset=.37 stop-color=#97d3f0 /><stop offset=.40 stop-color=#a8e1e7 /><stop offset=.46 stop-color=#dea /><stop offset=.49 stop-color=#dee463 /><stop offset=.51 stop-color=#d4dc37 /><stop offset=.57 stop-color=#a3d9aa /><stop offset=.60 stop-color=#79d2da /><stop offset=.63 stop-color=#5dbbe7 /><stop offset=.71 stop-color=#0447b2 /><stop offset=.91 stop-color=#07349f /><stop offset=1.00 stop-color=#07349f /></linearGradient><linearGradient id=g149 gradientUnits=userSpaceOnUse x1=434 x2=801><stop offset=.00 stop-color=#053cab /><stop offset=.17 stop-color=#0f46b0 /><stop offset=.26 stop-color=#5382cb /><stop offset=.34 stop-color=#93c8eb /><stop offset=.37 stop-color=#9bdcf3 /><stop offset=.46 stop-color=#e9eea3 /><stop offset=.51 stop-color=#f2e321 /><stop offset=.54 stop-color=#d2dd45 /><stop offset=.57 stop-color=#aeda8f /><stop offset=.63 stop-color=#4bc0e9 /><stop offset=.69 stop-color=#0665c5 /><stop offset=.80 stop-color=#043fad /><stop offset=1.00 stop-color=#053cab /></linearGradient><linearGradient id=g150 gradientUnits=userSpaceOnUse x1=426 x2=793><stop offset=.00 stop-color=#195abb /><stop offset=.17 stop-color=#26b /><stop offset=.37 stop-color=#a6e2ed /><stop offset=.46 stop-color=#f9f39b /><stop offset=.49 stop-color=#f9df6e /><stop offset=.51 stop-color=#f5cd1e /><stop offset=.54 stop-color=#f2e320 /><stop offset=.60 stop-color=#8bd2a6 /><stop offset=.63 stop-color=#48c3da /><stop offset=.66 stop-color=#199cdc /><stop offset=.69 stop-color=#0172cc /><stop offset=.80 stop-color=#034db6 /><stop offset=.97 stop-color=#195abb /><stop offset=1.00 stop-color=#195abb /></linearGradient><linearGradient id=g151 gradientUnits=userSpaceOnUse x1=419 x2=785><stop offset=.00 stop-color=#2a73c8 /><stop offset=.17 stop-color=#37c /><stop offset=.31 stop-color=#8ecbec /><stop offset=.34 stop-color=#9adcf3 /><stop offset=.43 stop-color=#f1f2af /><stop offset=.46 stop-color=#fbe89d /><stop offset=.49 stop-color=#f9cf76 /><stop offset=.51 stop-color=#f5b11e /><stop offset=.54 stop-color=#f5ca1e /><stop offset=.57 stop-color=#dd4 /><stop offset=.63 stop-color=#59c4b8 /><stop offset=.66 stop-color=#09abe2 /><stop offset=.71 stop-color=#0172cc /><stop offset=.77 stop-color=#015fc2 /><stop offset=.89 stop-color=#2872c8 /><stop offset=1.00 stop-color=#2a73c8 /></linearGradient><linearGradient id=g152 gradientUnits=userSpaceOnUse x1=411 x2=778><stop offset=.00 stop-color=#3488d3 /><stop offset=.17 stop-color=#3e8fd6 /><stop offset=.31 stop-color=#91d6f1 /><stop offset=.43 stop-color=#fea /><stop offset=.46 stop-color=#fbdb9f /><stop offset=.49 stop-color=#f9be7a /><stop offset=.51 stop-color=#f5911e /><stop offset=.54 stop-color=#f5aa1e /><stop offset=.57 stop-color=#f5d928 /><stop offset=.60 stop-color=#c2db5f /><stop offset=.66 stop-color=#26b6c6 /><stop offset=.69 stop-color=#04a2df /><stop offset=.77 stop-color=#0676cd /><stop offset=.86 stop-color=#2f86d3 /><stop offset=1.00 stop-color=#3488d3 /></linearGradient><linearGradient id=g153 gradientUnits=userSpaceOnUse x1=403 x2=770><stop offset=.00 stop-color=#399fdc /><stop offset=.20 stop-color=#4cabe1 /><stop offset=.31 stop-color=#9de /><stop offset=.40 stop-color=#f6f4b0 /><stop offset=.46 stop-color=#fbcd9f /><stop offset=.49 stop-color=#f6a97d /><stop offset=.51 stop-color=#f06b20 /><stop offset=.57 stop-color=#f5b824 /><stop offset=.60 stop-color=#e9e33c /><stop offset=.66 stop-color=#53bf9e /><stop offset=.69 stop-color=#1cb4d0 /><stop offset=.71 stop-color=#04a5e0 /><stop offset=.77 stop-color=#0c92d8 /><stop offset=.86 stop-color=#39d /><stop offset=1.00 stop-color=#399fdc /></linearGradient><linearGradient id=g154 gradientUnits=userSpaceOnUse x1=396 x2=762><stop offset=.00 stop-color=#38b2e4 /><stop offset=.20 stop-color=#4bbde8 /><stop offset=.29 stop-color=#90dae5 /><stop offset=.40 stop-color=#fea /><stop offset=.46 stop-color=#f8bca0 /><stop offset=.49 stop-color=#f2917d /><stop offset=.51 stop-color=#e94421 /><stop offset=.54 stop-color=#e62 /><stop offset=.60 stop-color=#f6d336 /><stop offset=.63 stop-color=#cadc4f /><stop offset=.69 stop-color=#49bda7 /><stop offset=.74 stop-color=#07afe2 /><stop offset=.86 stop-color=#33b1e4 /><stop offset=1.00 stop-color=#38b2e4 /></linearGradient><linearGradient id=g155 gradientUnits=userSpaceOnUse x1=388 x2=755><stop offset=.00 stop-color=#38bedd /><stop offset=.17 stop-color=#45c2dd /><stop offset=.26 stop-color=#84d5d6 /><stop offset=.37 stop-color=#f9f4aa /><stop offset=.46 stop-color=#f5aa9f /><stop offset=.49 stop-color=#e77 /><stop offset=.51 stop-color=#d22 /><stop offset=.54 stop-color=#e83c22 /><stop offset=.60 stop-color=#f7bc43 /><stop offset=.63 stop-color=#f2e73e /><stop offset=.69 stop-color=#73c681 /><stop offset=.74 stop-color=#3bb /><stop offset=.77 stop-color=#23b5c9 /><stop offset=.94 stop-color=#38bedd /><stop offset=1.00 stop-color=#38bedd /></linearGradient><linearGradient id=g156 gradientUnits=userSpaceOnUse x1=380 x2=747><stop offset=.00 stop-color=#4bb /><stop offset=.17 stop-color=#51c2ba /><stop offset=.26 stop-color=#93d6bd /><stop offset=.34 stop-color=#eea /><stop offset=.40 stop-color=#fbd5a8 /><stop offset=.46 stop-color=#e99 /><stop offset=.49 stop-color=#d8696b /><stop offset=.51 stop-color=#c41e1f /><stop offset=.54 stop-color=#d22 /><stop offset=.57 stop-color=#ef744e /><stop offset=.63 stop-color=#f7d752 /><stop offset=.66 stop-color=#d6e051 /><stop offset=.69 stop-color=#9c6 /><stop offset=.74 stop-color=#58c099 /><stop offset=.83 stop-color=#3ebbb2 /><stop offset=1.00 stop-color=#4bb /></linearGradient><linearGradient id=g157 gradientUnits=userSpaceOnUse x1=373 x2=739><stop offset=.00 stop-color=#59c099 /><stop offset=.20 stop-color=#60c292 /><stop offset=.31 stop-color=#dbeaa4 /><stop offset=.34 stop-color=#f8f29d /><stop offset=.43 stop-color=#f5aaa2 /><stop offset=.46 stop-color=#e39192 /><stop offset=.51 stop-color=#ad1a1d /><stop offset=.57 stop-color=#ef786b /><stop offset=.63 stop-color=#f9cf6d /><stop offset=.66 stop-color=#f4eb5e /><stop offset=.71 stop-color=#91cd69 /><stop offset=.80 stop-color=#60c292 /><stop offset=1.00 stop-color=#59c099 /></linearGradient><linearGradient id=g158 gradientUnits=userSpaceOnUse x1=365 x2=732><stop offset=.00 stop-color=#6fc585 /><stop offset=.23 stop-color=#7ec877 /><stop offset=.26 stop-color=#92ce72 /><stop offset=.31 stop-color=#e3ea8c /><stop offset=.34 stop-color=#faeb8f /><stop offset=.43 stop-color=#e99 /><stop offset=.46 stop-color=#d67e80 /><stop offset=.49 stop-color=#9f1b1f /><stop offset=.51 stop-color=#9d171b /><stop offset=.54 stop-color=#cf696b /><stop offset=.57 stop-color=#e88 /><stop offset=.66 stop-color=#f9e87b /><stop offset=.74 stop-color=#8ecc6c /><stop offset=.86 stop-color=#70c584 /><stop offset=1.00 stop-color=#6fc585 /></linearGradient><linearGradient id=g159 gradientUnits=userSpaceOnUse x1=357 x2=724><stop offset=.00 stop-color=#7ac77b /><stop offset=.23 stop-color=#8acb6e /><stop offset=.29 stop-color=#b3d550 /><stop offset=.31 stop-color=#e3e663 /><stop offset=.34 stop-color=#f9e276 /><stop offset=.40 stop-color=#f6aa8b /><stop offset=.43 stop-color=#e88 /><stop offset=.46 stop-color=#c55a5c /><stop offset=.49 stop-color=#95151a /><stop offset=.54 stop-color=#d58788 /><stop offset=.60 stop-color=#f7b69d /><stop offset=.66 stop-color=#fae893 /><stop offset=.74 stop-color=#b3db8a /><stop offset=.83 stop-color=#7dc878 /><stop offset=1.00 stop-color=#7ac77b /></linearGradient><linearGradient id=g160 gradientUnits=userSpaceOnUse x1=349 x2=716><stop offset=.00 stop-color=#96d396 /><stop offset=.20 stop-color=#90cf84 /><stop offset=.26 stop-color=#9c6 /><stop offset=.31 stop-color=#dd3 /><stop offset=.34 stop-color=#f7d848 /><stop offset=.40 stop-color=#f3936c /><stop offset=.43 stop-color=#e55f60 /><stop offset=.46 stop-color=#af1e21 /><stop offset=.49 stop-color=#95151a /><stop offset=.51 stop-color=#c17678 /><stop offset=.54 stop-color=#d99 /><stop offset=.60 stop-color=#f8bfa8 /><stop offset=.66 stop-color=#fbeba1 /><stop offset=.80 stop-color=#ad9 /><stop offset=1.00 stop-color=#96d397 /></linearGradient><linearGradient id=g161 gradientUnits=userSpaceOnUse x1=342 x2=709><stop offset=.00 stop-color=#a5dbb3 /><stop offset=.20 stop-color=#a1d8a7 /><stop offset=.26 stop-color=#98d179 /><stop offset=.29 stop-color=#a7d258 /><stop offset=.34 stop-color=#f5d81e /><stop offset=.40 stop-color=#f17a3e /><stop offset=.43 stop-color=#e52d2d /><stop offset=.46 stop-color=#b61b1e /><stop offset=.49 stop-color=#a33 /><stop offset=.51 stop-color=#ce8b8d /><stop offset=.57 stop-color=#f5adad /><stop offset=.66 stop-color=#fea /><stop offset=.80 stop-color=#b0deb5 /><stop offset=1.00 stop-color=#a5dbb3 /></linearGradient><linearGradient id=g162 gradientUnits=userSpaceOnUse x1=334 x2=701><stop offset=.00 stop-color=#a4ddc7 /><stop offset=.20 stop-color=#a1dbbf /><stop offset=.26 stop-color=#9ad59f /><stop offset=.29 stop-color=#97cf71 /><stop offset=.31 stop-color=#b9d64b /><stop offset=.34 stop-color=#f0e322 /><stop offset=.40 stop-color=#e72 /><stop offset=.43 stop-color=#e73522 /><stop offset=.46 stop-color=#c71e20 /><stop offset=.49 stop-color=#c4595b /><stop offset=.51 stop-color=#d99 /><stop offset=.60 stop-color=#fad0b0 /><stop offset=.66 stop-color=#f9f5ae /><stop offset=.77 stop-color=#b6e2c7 /><stop offset=1.00 stop-color=#a4ddc7 /></linearGradient><linearGradient id=g163 gradientUnits=userSpaceOnUse x1=326 x2=693><stop offset=.00 stop-color=#9dd /><stop offset=.23 stop-color=#9dc /><stop offset=.29 stop-color=#8c9 /><stop offset=.31 stop-color=#9c6 /><stop offset=.34 stop-color=#d1dc39 /><stop offset=.37 stop-color=#f5cc1e /><stop offset=.46 stop-color=#d22 /><stop offset=.49 stop-color=#d96e6f /><stop offset=.51 stop-color=#e59d9e /><stop offset=.60 stop-color=#fcdab2 /><stop offset=.66 stop-color=#eeb /><stop offset=.77 stop-color=#ace1d7 /><stop offset=1.00 stop-color=#9dd /></linearGradient><linearGradient id=g164 gradientUnits=userSpaceOnUse x1=319 x2=686><stop offset=.00 stop-color=#8de /><stop offset=.23 stop-color=#86d6e1 /><stop offset=.29 stop-color=#7cb /><stop offset=.31 stop-color=#77c784 /><stop offset=.37 stop-color=#f0e322 /><stop offset=.46 stop-color=#e83c22 /><stop offset=.49 stop-color=#e77 /><stop offset=.51 stop-color=#f2a2a2 /><stop offset=.63 stop-color=#faf5b3 /><stop offset=.77 stop-color=#9ddee7 /><stop offset=1.00 stop-color=#8de /></linearGradient><linearGradient id=g165 gradientUnits=userSpaceOnUse x1=311 x2=678><stop offset=.00 stop-color=#87d1ef /><stop offset=.23 stop-color=#7ce /><stop offset=.29 stop-color=#60cada /><stop offset=.31 stop-color=#56c2ad /><stop offset=.34 stop-color=#80c976 /><stop offset=.37 stop-color=#c5d942 /><stop offset=.40 stop-color=#f5ce1e /><stop offset=.46 stop-color=#e62 /><stop offset=.49 stop-color=#f2917d /><stop offset=.51 stop-color=#f6b1a3 /><stop offset=.60 stop-color=#fceeb3 /><stop offset=.74 stop-color=#99def3 /><stop offset=1.00 stop-color=#87d1ef /></linearGradient><linearGradient id=g166 gradientUnits=userSpaceOnUse x1=303 x2=670><stop offset=.00 stop-color=#87c5ea /><stop offset=.23 stop-color=#79c3e9 /><stop offset=.29 stop-color=#4dbfe9 /><stop offset=.31 stop-color=#2fbad4 /><stop offset=.34 stop-color=#53bf9e /><stop offset=.40 stop-color=#e7e129 /><stop offset=.46 stop-color=#f58d26 /><stop offset=.49 stop-color=#f6a97d /><stop offset=.51 stop-color=#f9c2a2 /><stop offset=.60 stop-color=#f7f5b7 /><stop offset=.71 stop-color=#9edcf3 /><stop offset=.91 stop-color=#87c5ea /><stop offset=1.00 stop-color=#87c5ea /></linearGradient><linearGradient id=g167 gradientUnits=userSpaceOnUse x1=296 x2=662><stop offset=.00 stop-color=#85b8e5 /><stop offset=.23 stop-color=#77b4e4 /><stop offset=.29 stop-color=#49ace1 /><stop offset=.31 stop-color=#1ad /><stop offset=.34 stop-color=#26b6c6 /><stop offset=.40 stop-color=#bad64a /><stop offset=.43 stop-color=#f5d71e /><stop offset=.46 stop-color=#f5ac22 /><stop offset=.49 stop-color=#f9bf7b /><stop offset=.51 stop-color=#fbd1a1 /><stop offset=.57 stop-color=#fcf1b2 /><stop offset=.69 stop-color=#a3ddf3 /><stop offset=.86 stop-color=#86b9e5 /><stop offset=1.00 stop-color=#85b8e5 /></linearGradient><linearGradient id=g168 gradientUnits=userSpaceOnUse x1=288 x2=655><stop offset=.00 stop-color=#8ad /><stop offset=.23 stop-color=#7ad /><stop offset=.29 stop-color=#49d /><stop offset=.31 stop-color=#098cd6 /><stop offset=.34 stop-color=#05a9e2 /><stop offset=.40 stop-color=#8fcc6a /><stop offset=.43 stop-color=#dd3 /><stop offset=.46 stop-color=#f5ca1e /><stop offset=.49 stop-color=#f9d077 /><stop offset=.51 stop-color=#fbdea0 /><stop offset=.57 stop-color=#f3f4b8 /><stop offset=.66 stop-color=#a7e1f5 /><stop offset=.80 stop-color=#8ab3e2 /><stop offset=1.00 stop-color=#8ad /></linearGradient><linearGradient id=g169 gradientUnits=userSpaceOnUse x1=280 x2=647><stop offset=.00 stop-color=#81a4d9 /><stop offset=.23 stop-color=#6f9bd6 /><stop offset=.29 stop-color=#3581cf /><stop offset=.31 stop-color=#0172cc /><stop offset=.34 stop-color=#0393d9 /><stop offset=.37 stop-color=#1ab3d1 /><stop offset=.43 stop-color=#b4d54e /><stop offset=.46 stop-color=#f2e320 /><stop offset=.49 stop-color=#f9e071 /><stop offset=.51 stop-color=#fbea9e /><stop offset=.54 stop-color=#faf5ad /><stop offset=.63 stop-color=#b0e5ef /><stop offset=.80 stop-color=#8ad /><stop offset=1.00 stop-color=#81a4d9 /></linearGradient><linearGradient id=g170 gradientUnits=userSpaceOnUse x1=273 x2=639><stop offset=.00 stop-color=#7d99d3 /><stop offset=.20 stop-color=#7394d1 /><stop offset=.26 stop-color=#5281cb /><stop offset=.31 stop-color=#0162c3 /><stop offset=.37 stop-color=#0ad /><stop offset=.46 stop-color=#cfdb3a /><stop offset=.49 stop-color=#f6ec6a /><stop offset=.51 stop-color=#f9f39d /><stop offset=.63 stop-color=#a8e0f4 /><stop offset=.80 stop-color=#84a1d7 /><stop offset=1.00 stop-color=#7d99d3 /></linearGradient><linearGradient id=g171 gradientUnits=userSpaceOnUse x1=265 x2=632><stop offset=.00 stop-color=#7790ca /><stop offset=.20 stop-color=#6c88c8 /><stop offset=.26 stop-color=#456ec1 /><stop offset=.29 stop-color=#1050b6 /><stop offset=.34 stop-color=#006dca /><stop offset=.37 stop-color=#09d /><stop offset=.40 stop-color=#28b6c4 /><stop offset=.43 stop-color=#74c680 /><stop offset=.46 stop-color=#b2d450 /><stop offset=.49 stop-color=#e0e66e /><stop offset=.51 stop-color=#ebefa4 /><stop offset=.60 stop-color=#b4e5ea /><stop offset=.69 stop-color=#9dbee5 /><stop offset=.86 stop-color=#7992cb /><stop offset=1.00 stop-color=#7790ca /></linearGradient><linearGradient id=g172 gradientUnits=userSpaceOnUse x1=257 x2=624><stop offset=.00 stop-color=#7086c1 /><stop offset=.20 stop-color=#637cbd /><stop offset=.26 stop-color=#335ab3 /><stop offset=.29 stop-color=#053dac /><stop offset=.34 stop-color=#0162c4 /><stop offset=.40 stop-color=#19b4dc /><stop offset=.46 stop-color=#9c6 /><stop offset=.49 stop-color=#c9df6e /><stop offset=.51 stop-color=#dea /><stop offset=.57 stop-color=#c4e8d9 /><stop offset=.60 stop-color=#aae3f2 /><stop offset=.80 stop-color=#798fc7 /><stop offset=1.00 stop-color=#7086c1 /></linearGradient><linearGradient id=g173 gradientUnits=userSpaceOnUse x1=250 x2=616><stop offset=.00 stop-color=#67b /><stop offset=.20 stop-color=#576eb2 /><stop offset=.29 stop-color=#0637a5 /><stop offset=.34 stop-color=#025bbf /><stop offset=.40 stop-color=#26b5e6 /><stop offset=.46 stop-color=#86ca71 /><stop offset=.49 stop-color=#b3d86c /><stop offset=.51 stop-color=#d4e9ab /><stop offset=.57 stop-color=#bbe6de /><stop offset=.60 stop-color=#a4e0f4 /><stop offset=.80 stop-color=#7285be /><stop offset=1.00 stop-color=#67b /></linearGradient><linearGradient id=g174 gradientUnits=userSpaceOnUse x1=242 x2=609><stop offset=.00 stop-color=#5c6ead /><stop offset=.20 stop-color=#4a5fa6 /><stop offset=.26 stop-color=#0c3093 /><stop offset=.31 stop-color=#043fad /><stop offset=.34 stop-color=#0859bd /><stop offset=.37 stop-color=#2d8cd5 /><stop offset=.40 stop-color=#3ab5e6 /><stop offset=.43 stop-color=#53c3be /><stop offset=.46 stop-color=#77c77d /><stop offset=.49 stop-color=#9c6 /><stop offset=.51 stop-color=#cae6ad /><stop offset=.57 stop-color=#b4e5e3 /><stop offset=.60 stop-color=#a1dcf3 /><stop offset=.74 stop-color=#8093c7 /><stop offset=.89 stop-color=#5d6fad /><stop offset=1.00 stop-color=#5c6ead /></linearGradient><linearGradient id=g175 gradientUnits=userSpaceOnUse x1=234 x2=601><stop offset=.00 stop-color=#5161a3 /><stop offset=.17 stop-color=#475a9f /><stop offset=.26 stop-color=#0a2b8d /><stop offset=.31 stop-color=#053bab /><stop offset=.37 stop-color=#3e90d6 /><stop offset=.40 stop-color=#4ab7e6 /><stop offset=.43 stop-color=#59c6cc /><stop offset=.46 stop-color=#6cc488 /><stop offset=.49 stop-color=#8ecc6b /><stop offset=.51 stop-color=#c1e3ae /><stop offset=.57 stop-color=#ade3e6 /><stop offset=.63 stop-color=#9dc7ea /><stop offset=.83 stop-color=#56a /><stop offset=1.00 stop-color=#5161a3 /></linearGradient><linearGradient id=g176 gradientUnits=userSpaceOnUse x1=227 x2=593><stop offset=.00 stop-color=#459 /><stop offset=.17 stop-color=#3c4d95 /><stop offset=.26 stop-color=#0b2989 /><stop offset=.31 stop-color=#0639a7 /><stop offset=.37 stop-color=#4a94d8 /><stop offset=.40 stop-color=#55b8e6 /><stop offset=.43 stop-color=#5ec9d5 /><stop offset=.46 stop-color=#63c38f /><stop offset=.49 stop-color=#86ca72 /><stop offset=.51 stop-color=#bda /><stop offset=.57 stop-color=#a8e2e8 /><stop offset=.63 stop-color=#9bc4e9 /><stop offset=.74 stop-color=#78b /><stop offset=.86 stop-color=#4a5a9d /><stop offset=1.00 stop-color=#459 /></linearGradient><linearGradient id=g177 gradientUnits=userSpaceOnUse x1=219 x2=586><stop offset=.00 stop-color=#3c4b92 /><stop offset=.17 stop-color=#31428d /><stop offset=.23 stop-color=#0d247f /><stop offset=.31 stop-color=#0637a4 /><stop offset=.34 stop-color=#3770c4 /><stop offset=.40 stop-color=#5db9e6 /><stop offset=.43 stop-color=#6cd /><stop offset=.46 stop-color=#63c498 /><stop offset=.49 stop-color=#80c976 /><stop offset=.51 stop-color=#b3dead /><stop offset=.54 stop-color=#b6e3cf /><stop offset=.57 stop-color=#a4e1ea /><stop offset=.66 stop-color=#95b3e0 /><stop offset=.83 stop-color=#459 /><stop offset=1.00 stop-color=#3c4b92 /></linearGradient><linearGradient id=g178 gradientUnits=userSpaceOnUse x1=211 x2=578><stop offset=.00 stop-color=#348 /><stop offset=.17 stop-color=#283987 /><stop offset=.26 stop-color=#0c2785 /><stop offset=.31 stop-color=#0c3ba5 /><stop offset=.34 stop-color=#3f75c6 /><stop offset=.40 stop-color=#62bae6 /><stop offset=.43 stop-color=#6cd /><stop offset=.46 stop-color=#65c59f /><stop offset=.49 stop-color=#7c7 /><stop offset=.51 stop-color=#ada /><stop offset=.54 stop-color=#b3e2d0 /><stop offset=.57 stop-color=#a1e0eb /><stop offset=.69 stop-color=#8ba1d4 /><stop offset=.83 stop-color=#3f4d93 /><stop offset=1.00 stop-color=#348 /></linearGradient><linearGradient id=g179 gradientUnits=userSpaceOnUse x1=204 x2=570><stop offset=.00 stop-color=#2e3c87 /><stop offset=.17 stop-color=#223282 /><stop offset=.26 stop-color=#0c2683 /><stop offset=.31 stop-color=#133fa6 /><stop offset=.34 stop-color=#4578c7 /><stop offset=.40 stop-color=#66bae7 /><stop offset=.43 stop-color=#6cd /><stop offset=.46 stop-color=#67c6a5 /><stop offset=.49 stop-color=#79c77c /><stop offset=.51 stop-color=#ada /><stop offset=.54 stop-color=#b1e2d0 /><stop offset=.57 stop-color=#9fdfec /><stop offset=.69 stop-color=#899fd2 /><stop offset=.83 stop-color=#39478f /><stop offset=1.00 stop-color=#2e3c87 /></linearGradient><linearGradient id=g180 gradientUnits=userSpaceOnUse x1=196 x2=563><stop offset=.00 stop-color=#2a3884 /><stop offset=.17 stop-color=#1e2d7e /><stop offset=.26 stop-color=#0c2682 /><stop offset=.31 stop-color=#1743a7 /><stop offset=.34 stop-color=#497ac8 /><stop offset=.40 stop-color=#68bbe7 /><stop offset=.43 stop-color=#69cee3 /><stop offset=.49 stop-color=#77c77e /><stop offset=.51 stop-color=#ada /><stop offset=.54 stop-color=#afe1d1 /><stop offset=.57 stop-color=#9de /><stop offset=.69 stop-color=#889ed2 /><stop offset=.83 stop-color=#348 /><stop offset=1.00 stop-color=#2a3884 /></linearGradient><linearGradient id=g181 gradientUnits=userSpaceOnUse x1=188 x2=555><stop offset=.00 stop-color=#273582 /><stop offset=.17 stop-color=#1b2a7c /><stop offset=.26 stop-color=#0c2682 /><stop offset=.31 stop-color=#1b45a7 /><stop offset=.34 stop-color=#4c7cc8 /><stop offset=.40 stop-color=#6abbe7 /><stop offset=.43 stop-color=#6acee4 /><stop offset=.49 stop-color=#76c67f /><stop offset=.51 stop-color=#ada /><stop offset=.54 stop-color=#aee1d1 /><stop offset=.57 stop-color=#9de /><stop offset=.69 stop-color=#879dd1 /><stop offset=.83 stop-color=#348 /><stop offset=1.00 stop-color=#273582 /></linearGradient><linearGradient id=g182 gradientUnits=userSpaceOnUse x1=181 x2=547><stop offset=.00 stop-color=#253380 /><stop offset=.17 stop-color=#19287b /><stop offset=.29 stop-color=#0a2b8d /><stop offset=.31 stop-color=#1d47a8 /><stop offset=.34 stop-color=#4d7dc9 /><stop offset=.40 stop-color=#6bbce7 /><stop offset=.43 stop-color=#6acee5 /><stop offset=.49 stop-color=#75c67f /><stop offset=.51 stop-color=#a5daab /><stop offset=.54 stop-color=#ade1d1 /><stop offset=.57 stop-color=#9de /><stop offset=.69 stop-color=#879dd1 /><stop offset=.83 stop-color=#303e88 /><stop offset=1.00 stop-color=#253380 /></linearGradient><linearGradient id=g183 gradientUnits=userSpaceOnUse x1=173 x2=540><stop offset=.00 stop-color=#23317f /><stop offset=.23 stop-color=#127 /><stop offset=.29 stop-color=#0a2b8d /><stop offset=.31 stop-color=#24a /><stop offset=.34 stop-color=#4e7dc9 /><stop offset=.40 stop-color=#6bbce7 /><stop offset=.43 stop-color=#6bcee5 /><stop offset=.49 stop-color=#75c680 /><stop offset=.51 stop-color=#a4daab /><stop offset=.54 stop-color=#ade1d1 /><stop offset=.57 stop-color=#9de /><stop offset=.69 stop-color=#89c /><stop offset=.83 stop-color=#2f3d87 /><stop offset=1.00 stop-color=#23317f /></linearGradient><linearGradient id=g184 gradientUnits=userSpaceOnUse x1=165 x2=532><stop offset=.00 stop-color=#23307f /><stop offset=.23 stop-color=#127 /><stop offset=.29 stop-color=#0a2b8d /><stop offset=.31 stop-color=#24a /><stop offset=.34 stop-color=#4f7ec9 /><stop offset=.40 stop-color=#6cbce7 /><stop offset=.43 stop-color=#6bcfe5 /><stop offset=.49 stop-color=#74c680 /><stop offset=.51 stop-color=#a4daab /><stop offset=.54 stop-color=#ace0d1 /><stop offset=.57 stop-color=#9de /><stop offset=.69 stop-color=#89c /><stop offset=.83 stop-color=#2e3c87 /><stop offset=1.00 stop-color=#23307f /></linearGradient><linearGradient id=g185 gradientUnits=userSpaceOnUse x1=157 x2=524><stop offset=.00 stop-color=#22307e /><stop offset=.23 stop-color=#127 /><stop offset=.29 stop-color=#0a2b8d /><stop offset=.31 stop-color=#2049a9 /><stop offset=.34 stop-color=#4f7ec9 /><stop offset=.40 stop-color=#6cbce7 /><stop offset=.43 stop-color=#6bcfe5 /><stop offset=.49 stop-color=#74c680 /><stop offset=.51 stop-color=#a3d9ab /><stop offset=.54 stop-color=#ace0d1 /><stop offset=.57 stop-color=#9de /><stop offset=.69 stop-color=#89c /><stop offset=.83 stop-color=#2d3b86 /><stop offset=1.00 stop-color=#22307e /></linearGradient><linearGradient id=g186 gradientUnits=userSpaceOnUse x1=150 x2=517><stop offset=.00 stop-color=#22307e /><stop offset=.23 stop-color=#127 /><stop offset=.29 stop-color=#0a2b8d /><stop offset=.31 stop-color=#2049a9 /><stop offset=.34 stop-color=#4f7ec9 /><stop offset=.40 stop-color=#6cbce7 /><stop offset=.43 stop-color=#6ccfe5 /><stop offset=.49 stop-color=#74c680 /><stop offset=.51 stop-color=#a3d9ab /><stop offset=.54 stop-color=#ace0d1 /><stop offset=.57 stop-color=#9de /><stop offset=.69 stop-color=#89c /><stop offset=.83 stop-color=#2d3b86 /><stop offset=1.00 stop-color=#22307e /></linearGradient><linearGradient id=g187 gradientUnits=userSpaceOnUse x1=142 x2=509><stop offset=.00 stop-color=#222f7e /><stop offset=.23 stop-color=#127 /><stop offset=.29 stop-color=#0a2b8d /><stop offset=.31 stop-color=#2049a9 /><stop offset=.34 stop-color=#507ec9 /><stop offset=.40 stop-color=#6cbce7 /><stop offset=.43 stop-color=#6ccfe5 /><stop offset=.49 stop-color=#74c680 /><stop offset=.51 stop-color=#a3d9ab /><stop offset=.54 stop-color=#ace0d1 /><stop offset=.57 stop-color=#9de /><stop offset=.69 stop-color=#89c /><stop offset=.83 stop-color=#2d3b86 /><stop offset=1.00 stop-color=#22307e /></linearGradient><linearGradient id=g188 gradientUnits=userSpaceOnUse x1=134 x2=501><stop offset=.00 stop-color=#222f7e /><stop offset=.23 stop-color=#127 /><stop offset=.29 stop-color=#0a2b8d /><stop offset=.31 stop-color=#2049a9 /><stop offset=.34 stop-color=#507ec9 /><stop offset=.40 stop-color=#6cbce7 /><stop offset=.43 stop-color=#6ccfe5 /><stop offset=.49 stop-color=#74c680 /><stop offset=.51 stop-color=#a3d9ab /><stop offset=.54 stop-color=#ace0d1 /><stop offset=.57 stop-color=#9de /><stop offset=.69 stop-color=#89c /><stop offset=.83 stop-color=#2d3b86 /><stop offset=1.00 stop-color=#222f7e /></linearGradient><linearGradient id=g189 gradientUnits=userSpaceOnUse x1=127 x2=493><stop offset=.00 stop-color=#222f7e /><stop offset=.23 stop-color=#127 /><stop offset=.29 stop-color=#0a2b8d /><stop offset=.31 stop-color=#2049a9 /><stop offset=.34 stop-color=#507ec9 /><stop offset=.40 stop-color=#6cbce7 /><stop offset=.43 stop-color=#6ccfe5 /><stop offset=.49 stop-color=#74c680 /><stop offset=.51 stop-color=#a3d9ab /><stop offset=.54 stop-color=#ace0d1 /><stop offset=.57 stop-color=#9de /><stop offset=.69 stop-color=#89c /><stop offset=.83 stop-color=#2d3b86 /><stop offset=1.00 stop-color=#222f7e /></linearGradient><linearGradient id=g190 gradientUnits=userSpaceOnUse x1=119 x2=486><stop offset=.00 stop-color=#212f7e /><stop offset=.23 stop-color=#127 /><stop offset=.29 stop-color=#0a2b8d /><stop offset=.31 stop-color=#2049a9 /><stop offset=.34 stop-color=#507ec9 /><stop offset=.40 stop-color=#6cbce7 /><stop offset=.43 stop-color=#6ccfe5 /><stop offset=.49 stop-color=#74c680 /><stop offset=.51 stop-color=#a3d9ab /><stop offset=.54 stop-color=#ace0d1 /><stop offset=.57 stop-color=#9de /><stop offset=.69 stop-color=#89c /><stop offset=.83 stop-color=#2d3b86 /><stop offset=1.00 stop-color=#222f7e /></linearGradient><linearGradient id=g191 gradientUnits=userSpaceOnUse x1=111 x2=478><stop offset=.00 stop-color=#212f7e /><stop offset=.23 stop-color=#127 /><stop offset=.29 stop-color=#0a2b8d /><stop offset=.31 stop-color=#2149a9 /><stop offset=.34 stop-color=#507ec9 /><stop offset=.40 stop-color=#6cbce7 /><stop offset=.43 stop-color=#6ccfe5 /><stop offset=.49 stop-color=#74c680 /><stop offset=.51 stop-color=#a3d9ab /><stop offset=.54 stop-color=#ace0d1 /><stop offset=.57 stop-color=#9de /><stop offset=.69 stop-color=#89c /><stop offset=.83 stop-color=#2d3b86 /><stop offset=1.00 stop-color=#222f7e /></linearGradient><linearGradient id=g192 gradientUnits=userSpaceOnUse x1=1742 x2=2108><stop offset=.00 stop-color=#127 /><stop offset=1.00 stop-color=#127 /></linearGradient><linearGradient id=g193 gradientUnits=userSpaceOnUse x1=1734 x2=2100><stop offset=.00 stop-color=#127 /><stop offset=1.00 stop-color=#127 /></linearGradient><linearGradient id=g194 gradientUnits=userSpaceOnUse x1=1726 x2=2093><stop offset=.00 stop-color=#127 /><stop offset=1.00 stop-color=#127 /></linearGradient><linearGradient id=g195 gradientUnits=userSpaceOnUse x1=1719 x2=2085><stop offset=.00 stop-color=#127 /><stop offset=1.00 stop-color=#127 /></linearGradient><linearGradient id=g196 gradientUnits=userSpaceOnUse x1=1711 x2=2077><stop offset=.00 stop-color=#127 /><stop offset=.86 stop-color=#127 /><stop offset=1.00 stop-color=#127 /></linearGradient><linearGradient id=g197 gradientUnits=userSpaceOnUse x1=1703 x2=2070><stop offset=.00 stop-color=#127 /><stop offset=.71 stop-color=#127 /><stop offset=1.00 stop-color=#127 /></linearGradient><linearGradient id=g198 gradientUnits=userSpaceOnUse x1=1696 x2=2062><stop offset=.00 stop-color=#127 /><stop offset=.66 stop-color=#0d247e /><stop offset=1.00 stop-color=#127 /></linearGradient><linearGradient id=g199 gradientUnits=userSpaceOnUse x1=1688 x2=2054><stop offset=.00 stop-color=#127 /><stop offset=.63 stop-color=#0c2684 /><stop offset=1.00 stop-color=#127 /></linearGradient><linearGradient id=g200 gradientUnits=userSpaceOnUse x1=1680 x2=2047><stop offset=.00 stop-color=#127 /><stop offset=.60 stop-color=#0b2a8b /><stop offset=1.00 stop-color=#127 /></linearGradient><linearGradient id=g201 gradientUnits=userSpaceOnUse x1=1673 x2=2039><stop offset=.00 stop-color=#127 /><stop offset=.57 stop-color=#092f94 /><stop offset=1.00 stop-color=#127 /></linearGradient><linearGradient id=g202 gradientUnits=userSpaceOnUse x1=1665 x2=2031><stop offset=.00 stop-color=#127 /><stop offset=.37 stop-color=#092f94 /><stop offset=.60 stop-color=#083198 /><stop offset=.97 stop-color=#127 /><stop offset=1.00 stop-color=#127 /></linearGradient><linearGradient id=g203 gradientUnits=userSpaceOnUse x1=1657 x2=2024><stop offset=.00 stop-color=#127 /><stop offset=.31 stop-color=#0a2d90 /><stop offset=.54 stop-color=#0539a8 /><stop offset=.94 stop-color=#127 /><stop offset=1.00 stop-color=#127 /></linearGradient><linearGradient id=g204 gradientUnits=userSpaceOnUse x1=1650 x2=2016><stop offset=.00 stop-color=#127 /><stop offset=.29 stop-color=#0a2c8f /><stop offset=.49 stop-color=#0444b0 /><stop offset=.69 stop-color=#093096 /><stop offset=.97 stop-color=#127 /><stop offset=1.00 stop-color=#127 /></linearGradient><linearGradient id=g205 gradientUnits=userSpaceOnUse x1=1642 x2=2008><stop offset=.00 stop-color=#127 /><stop offset=.26 stop-color=#0a2b8d /><stop offset=.34 stop-color=#14a /><stop offset=.43 stop-color=#1758ba /><stop offset=.51 stop-color=#0350b8 /><stop offset=.74 stop-color=#0a2b8d /><stop offset=1.00 stop-color=#127 /></linearGradient><linearGradient id=g206 gradientUnits=userSpaceOnUse x1=1634 x2=2001><stop offset=.00 stop-color=#127 /><stop offset=.26 stop-color=#092e93 /><stop offset=.31 stop-color=#1645ab /><stop offset=.40 stop-color=#306fc4 /><stop offset=.51 stop-color=#015dc1 /><stop offset=.74 stop-color=#092e93 /><stop offset=1.00 stop-color=#127 /></linearGradient><linearGradient id=g207 gradientUnits=userSpaceOnUse x1=1627 x2=1993><stop offset=.00 stop-color=#127 /><stop offset=.23 stop-color=#0a2c8f /><stop offset=.29 stop-color=#1743a9 /><stop offset=.37 stop-color=#427ecb /><stop offset=.46 stop-color=#2d84d2 /><stop offset=.51 stop-color=#006eca /><stop offset=.80 stop-color=#0f2c8a /><stop offset=1.00 stop-color=#127 /></linearGradient><linearGradient id=g208 gradientUnits=userSpaceOnUse x1=1619 x2=1985><stop offset=.00 stop-color=#127 /><stop offset=.23 stop-color=#092f94 /><stop offset=.29 stop-color=#2b58b7 /><stop offset=.37 stop-color=#5191d5 /><stop offset=.46 stop-color=#3c9edc /><stop offset=.51 stop-color=#0688d4 /><stop offset=.74 stop-color=#09369f /><stop offset=.97 stop-color=#127 /><stop offset=1.00 stop-color=#127 /></linearGradient><linearGradient id=g209 gradientUnits=userSpaceOnUse x1=1611 x2=1978><stop offset=.00 stop-color=#127 /><stop offset=.20 stop-color=#0a2c8f /><stop offset=.23 stop-color=#083199 /><stop offset=.31 stop-color=#4f85cd /><stop offset=.40 stop-color=#5caee2 /><stop offset=.49 stop-color=#31b2e4 /><stop offset=.51 stop-color=#1ad /><stop offset=.71 stop-color=#0442af /><stop offset=.86 stop-color=#142c85 /><stop offset=1.00 stop-color=#127 /></linearGradient><linearGradient id=g210 gradientUnits=userSpaceOnUse x1=1604 x2=1970><stop offset=.00 stop-color=#127 /><stop offset=.20 stop-color=#092e93 /><stop offset=.23 stop-color=#133ea4 /><stop offset=.31 stop-color=#5b94d5 /><stop offset=.43 stop-color=#60caed /><stop offset=.49 stop-color=#4fc4d6 /><stop offset=.54 stop-color=#14b2d6 /><stop offset=.60 stop-color=#09d /><stop offset=.71 stop-color=#054cb5 /><stop offset=.86 stop-color=#173089 /><stop offset=1.00 stop-color=#127 /></linearGradient><linearGradient id=g211 gradientUnits=userSpaceOnUse x1=1596 x2=1962><stop offset=.00 stop-color=#127 /><stop offset=.20 stop-color=#083198 /><stop offset=.29 stop-color=#578dd1 /><stop offset=.40 stop-color=#72d1ed /><stop offset=.46 stop-color=#86d3c5 /><stop offset=.51 stop-color=#63c5a4 /><stop offset=.57 stop-color=#2eb8bf /><stop offset=.60 stop-color=#0ab0df /><stop offset=.71 stop-color=#0857bc /><stop offset=.83 stop-color=#1e3c96 /><stop offset=1.00 stop-color=#127 /></linearGradient><linearGradient id=g212 gradientUnits=userSpaceOnUse x1=1588 x2=1955><stop offset=.00 stop-color=#127 /><stop offset=.17 stop-color=#0a2d90 /><stop offset=.20 stop-color=#0c379e /><stop offset=.29 stop-color=#6099d7 /><stop offset=.37 stop-color=#78d4ef /><stop offset=.46 stop-color=#ada /><stop offset=.51 stop-color=#9c7 /><stop offset=.54 stop-color=#7dc878 /><stop offset=.60 stop-color=#38bab6 /><stop offset=.63 stop-color=#08b0e1 /><stop offset=.69 stop-color=#07c /><stop offset=.80 stop-color=#244ba8 /><stop offset=.97 stop-color=#127 /><stop offset=1.00 stop-color=#127 /></linearGradient><linearGradient id=g213 gradientUnits=userSpaceOnUse x1=1581 x2=1947><stop offset=.00 stop-color=#127 /><stop offset=.17 stop-color=#092f94 /><stop offset=.20 stop-color=#1642a7 /><stop offset=.26 stop-color=#58c /><stop offset=.34 stop-color=#7ce /><stop offset=.46 stop-color=#d1e591 /><stop offset=.51 stop-color=#cd5 /><stop offset=.54 stop-color=#b4d54e /><stop offset=.60 stop-color=#68c48b /><stop offset=.66 stop-color=#0ad /><stop offset=.71 stop-color=#1572cb /><stop offset=.83 stop-color=#294aa2 /><stop offset=1.00 stop-color=#127 /></linearGradient><linearGradient id=g214 gradientUnits=userSpaceOnUse x1=1573 x2=1939><stop offset=.00 stop-color=#127 /><stop offset=.17 stop-color=#083097 /><stop offset=.29 stop-color=#6caee1 /><stop offset=.34 stop-color=#89d8e6 /><stop offset=.43 stop-color=#de9 /><stop offset=.49 stop-color=#f8e65c /><stop offset=.51 stop-color=#f6df2e /><stop offset=.54 stop-color=#ece225 /><stop offset=.60 stop-color=#9c6 /><stop offset=.66 stop-color=#1cb4cf /><stop offset=.69 stop-color=#19d /><stop offset=.80 stop-color=#315bb5 /><stop offset=.97 stop-color=#127 /><stop offset=1.00 stop-color=#127 /></linearGradient><linearGradient id=g215 gradientUnits=userSpaceOnUse x1=1565 x2=1932><stop offset=.00 stop-color=#127 /><stop offset=.17 stop-color=#08329a /><stop offset=.26 stop-color=#619dd9 /><stop offset=.31 stop-color=#7bd1ef /><stop offset=.43 stop-color=#faee86 /><stop offset=.49 stop-color=#f8c85c /><stop offset=.51 stop-color=#f5b729 /><stop offset=.57 stop-color=#f5df1e /><stop offset=.63 stop-color=#86ca72 /><stop offset=.66 stop-color=#46beb2 /><stop offset=.69 stop-color=#20b1e4 /><stop offset=.80 stop-color=#3863bc /><stop offset=.97 stop-color=#127 /><stop offset=1.00 stop-color=#127 /></linearGradient><linearGradient id=g216 gradientUnits=userSpaceOnUse x1=1558 x2=1924><stop offset=.00 stop-color=#127 /><stop offset=.14 stop-color=#0a2d90 /><stop offset=.17 stop-color=#0a369f /><stop offset=.26 stop-color=#64a3dd /><stop offset=.31 stop-color=#85d7ea /><stop offset=.40 stop-color=#f9f18e /><stop offset=.46 stop-color=#f9c47a /><stop offset=.49 stop-color=#f8ab5b /><stop offset=.51 stop-color=#f58d21 /><stop offset=.57 stop-color=#f5ba1e /><stop offset=.60 stop-color=#f4e41f /><stop offset=.69 stop-color=#3bbfdc /><stop offset=.80 stop-color=#406cc0 /><stop offset=.97 stop-color=#127 /><stop offset=1.00 stop-color=#127 /></linearGradient><linearGradient id=g217 gradientUnits=userSpaceOnUse x1=1550 x2=1916><stop offset=.00 stop-color=#127 /><stop offset=.14 stop-color=#092e93 /><stop offset=.17 stop-color=#0e3ba3 /><stop offset=.26 stop-color=#6ad /><stop offset=.29 stop-color=#7ce /><stop offset=.31 stop-color=#94dadd /><stop offset=.37 stop-color=#ee9 /><stop offset=.43 stop-color=#fac988 /><stop offset=.49 stop-color=#f2885a /><stop offset=.51 stop-color=#ee5e20 /><stop offset=.57 stop-color=#f5981e /><stop offset=.60 stop-color=#f5c61e /><stop offset=.63 stop-color=#d6de44 /><stop offset=.69 stop-color=#5dc7cc /><stop offset=.71 stop-color=#44b4e5 /><stop offset=.86 stop-color=#3957a8 /><stop offset=1.00 stop-color=#127 /></linearGradient><linearGradient id=g218 gradientUnits=userSpaceOnUse x1=1542 x2=1909><stop offset=.00 stop-color=#127 /><stop offset=.14 stop-color=#092f94 /><stop offset=.17 stop-color=#113fa7 /><stop offset=.26 stop-color=#68afe2 /><stop offset=.29 stop-color=#7ce /><stop offset=.37 stop-color=#faf190 /><stop offset=.46 stop-color=#f3947b /><stop offset=.51 stop-color=#e73522 /><stop offset=.57 stop-color=#e72 /><stop offset=.60 stop-color=#f5ab24 /><stop offset=.63 stop-color=#f6e73e /><stop offset=.69 stop-color=#7cb /><stop offset=.71 stop-color=#50c1ea /><stop offset=.83 stop-color=#476bbb /><stop offset=.97 stop-color=#15277c /><stop offset=1.00 stop-color=#127 /></linearGradient><linearGradient id=g219 gradientUnits=userSpaceOnUse x1=1535 x2=1901><stop offset=.00 stop-color=#127 /><stop offset=.14 stop-color=#093096 /><stop offset=.17 stop-color=#14a /><stop offset=.26 stop-color=#67b4e4 /><stop offset=.29 stop-color=#76d3ef /><stop offset=.34 stop-color=#dceaa4 /><stop offset=.37 stop-color=#fae68f /><stop offset=.46 stop-color=#ef7d7a /><stop offset=.51 stop-color=#d52021 /><stop offset=.54 stop-color=#e52823 /><stop offset=.57 stop-color=#e52 /><stop offset=.63 stop-color=#f7d850 /><stop offset=.66 stop-color=#cee27e /><stop offset=.71 stop-color=#5ccbec /><stop offset=.83 stop-color=#4c70bf /><stop offset=.97 stop-color=#16287d /><stop offset=1.00 stop-color=#127 /></linearGradient><linearGradient id=g220 gradientUnits=userSpaceOnUse x1=1527 x2=1893><stop offset=.00 stop-color=#127 /><stop offset=.14 stop-color=#083198 /><stop offset=.17 stop-color=#14a /><stop offset=.26 stop-color=#65b7e5 /><stop offset=.29 stop-color=#7cd4e8 /><stop offset=.34 stop-color=#e7ed9a /><stop offset=.37 stop-color=#fadc8c /><stop offset=.43 stop-color=#f29286 /><stop offset=.46 stop-color=#e17273 /><stop offset=.49 stop-color=#c4383a /><stop offset=.51 stop-color=#bb1c1e /><stop offset=.54 stop-color=#c22 /><stop offset=.57 stop-color=#e94834 /><stop offset=.63 stop-color=#f8cf61 /><stop offset=.66 stop-color=#e0e87e /><stop offset=.71 stop-color=#6ecfe5 /><stop offset=.86 stop-color=#4765b2 /><stop offset=1.00 stop-color=#127 /></linearGradient><linearGradient id=g221 gradientUnits=userSpaceOnUse x1=1519 x2=1886><stop offset=.00 stop-color=#127 /><stop offset=.14 stop-color=#083199 /><stop offset=.17 stop-color=#14a /><stop offset=.26 stop-color=#62b8e6 /><stop offset=.29 stop-color=#7ed4e1 /><stop offset=.34 stop-color=#efee90 /><stop offset=.40 stop-color=#f6ab87 /><stop offset=.43 stop-color=#ef8181 /><stop offset=.46 stop-color=#d26567 /><stop offset=.49 stop-color=#a91c1f /><stop offset=.51 stop-color=#a7191c /><stop offset=.54 stop-color=#b22 /><stop offset=.57 stop-color=#e95151 /><stop offset=.63 stop-color=#f9ca70 /><stop offset=.66 stop-color=#ecec80 /><stop offset=.71 stop-color=#7cd3e1 /><stop offset=.77 stop-color=#64a1dc /><stop offset=.97 stop-color=#182b7f /><stop offset=1.00 stop-color=#127 /></linearGradient><linearGradient id=g222 gradientUnits=userSpaceOnUse x1=1512 x2=1878><stop offset=.00 stop-color=#127 /><stop offset=.14 stop-color=#083299 /><stop offset=.17 stop-color=#14a /><stop offset=.26 stop-color=#5cb8e6 /><stop offset=.29 stop-color=#7ed3dc /><stop offset=.34 stop-color=#f4ef85 /><stop offset=.43 stop-color=#e67474 /><stop offset=.49 stop-color=#9a161b /><stop offset=.51 stop-color=#9a161b /><stop offset=.57 stop-color=#e46869 /><stop offset=.63 stop-color=#f9c97d /><stop offset=.66 stop-color=#f4ef84 /><stop offset=.71 stop-color=#87d6de /><stop offset=.74 stop-color=#70c0e9 /><stop offset=.91 stop-color=#349 /><stop offset=1.00 stop-color=#127 /></linearGradient><linearGradient id=g223 gradientUnits=userSpaceOnUse x1=1504 x2=1870><stop offset=.00 stop-color=#127 /><stop offset=.14 stop-color=#08329a /><stop offset=.17 stop-color=#0a3fac /><stop offset=.26 stop-color=#55b6e5 /><stop offset=.29 stop-color=#7ad2d8 /><stop offset=.34 stop-color=#f7ee7a /><stop offset=.40 stop-color=#f29072 /><stop offset=.43 stop-color=#de6061 /><stop offset=.46 stop-color=#b02c2f /><stop offset=.49 stop-color=#93151a /><stop offset=.51 stop-color=#9a2428 /><stop offset=.54 stop-color=#c36062 /><stop offset=.60 stop-color=#f49e84 /><stop offset=.66 stop-color=#f8f089 /><stop offset=.71 stop-color=#8ed9de /><stop offset=.74 stop-color=#75c4ea /><stop offset=.91 stop-color=#334a98 /><stop offset=1.00 stop-color=#127 /></linearGradient><linearGradient id=g224 gradientUnits=userSpaceOnUse x1=1496 x2=1863><stop offset=.00 stop-color=#127 /><stop offset=.14 stop-color=#08329a /><stop offset=.17 stop-color=#063cab /><stop offset=.26 stop-color=#4cb2e4 /><stop offset=.29 stop-color=#71cfd5 /><stop offset=.34 stop-color=#f6ed6e /><stop offset=.40 stop-color=#f1805f /><stop offset=.43 stop-color=#d84344 /><stop offset=.46 stop-color=#a8191c /><stop offset=.49 stop-color=#93151a /><stop offset=.54 stop-color=#c77 /><stop offset=.60 stop-color=#f5a58c /><stop offset=.66 stop-color=#f8f18f /><stop offset=.71 stop-color=#92dadf /><stop offset=.74 stop-color=#79c5eb /><stop offset=.91 stop-color=#354b99 /><stop offset=1.00 stop-color=#127 /></linearGradient><linearGradient id=g225 gradientUnits=userSpaceOnUse x1=1489 x2=1855><stop offset=.00 stop-color=#127 /><stop offset=.14 stop-color=#083299 /><stop offset=.17 stop-color=#053baa /><stop offset=.26 stop-color=#4ad /><stop offset=.29 stop-color=#64cbd5 /><stop offset=.34 stop-color=#ee6 /><stop offset=.37 stop-color=#f7b955 /><stop offset=.43 stop-color=#d82424 /><stop offset=.49 stop-color=#9a161b /><stop offset=.51 stop-color=#bb6164 /><stop offset=.57 stop-color=#eb8e8e /><stop offset=.66 stop-color=#f6f195 /><stop offset=.71 stop-color=#93dbe2 /><stop offset=.77 stop-color=#7ad /><stop offset=.97 stop-color=#1b2d81 /><stop offset=1.00 stop-color=#127 /></linearGradient><linearGradient id=g226 gradientUnits=userSpaceOnUse x1=1481 x2=1847><stop offset=.00 stop-color=#127 /><stop offset=.14 stop-color=#083199 /><stop offset=.20 stop-color=#15b /><stop offset=.26 stop-color=#33a3de /><stop offset=.29 stop-color=#51c5d7 /><stop offset=.34 stop-color=#e7e657 /><stop offset=.37 stop-color=#f6b83e /><stop offset=.43 stop-color=#e42323 /><stop offset=.46 stop-color=#bc1c1e /><stop offset=.49 stop-color=#b02f32 /><stop offset=.51 stop-color=#c86f72 /><stop offset=.57 stop-color=#f29393 /><stop offset=.66 stop-color=#ee9 /><stop offset=.71 stop-color=#92dae6 /><stop offset=.77 stop-color=#7ad /><stop offset=.97 stop-color=#1b2d81 /><stop offset=1.00 stop-color=#127 /></linearGradient><linearGradient id=g227 gradientUnits=userSpaceOnUse x1=1473 x2=1840><stop offset=.00 stop-color=#127 /><stop offset=.14 stop-color=#083198 /><stop offset=.20 stop-color=#064cb5 /><stop offset=.26 stop-color=#29d /><stop offset=.29 stop-color=#39bedc /><stop offset=.34 stop-color=#d5df4f /><stop offset=.37 stop-color=#f5bd26 /><stop offset=.43 stop-color=#e73822 /><stop offset=.46 stop-color=#c22 /><stop offset=.49 stop-color=#c44 /><stop offset=.51 stop-color=#d7787a /><stop offset=.60 stop-color=#f9c097 /><stop offset=.66 stop-color=#e9eea4 /><stop offset=.71 stop-color=#8edaeb /><stop offset=.86 stop-color=#57b /><stop offset=1.00 stop-color=#127 /></linearGradient><linearGradient id=g228 gradientUnits=userSpaceOnUse x1=1466 x2=1832><stop offset=.00 stop-color=#127 /><stop offset=.14 stop-color=#093096 /><stop offset=.23 stop-color=#0863c3 /><stop offset=.29 stop-color=#1bb6e5 /><stop offset=.34 stop-color=#bbd74f /><stop offset=.37 stop-color=#f5cd1e /><stop offset=.43 stop-color=#e52 /><stop offset=.46 stop-color=#e52823 /><stop offset=.51 stop-color=#e77f7f /><stop offset=.60 stop-color=#facc97 /><stop offset=.63 stop-color=#fae898 /><stop offset=.69 stop-color=#b4e2cd /><stop offset=.71 stop-color=#8de /><stop offset=.89 stop-color=#485fa7 /><stop offset=1.00 stop-color=#127 /></linearGradient><linearGradient id=g229 gradientUnits=userSpaceOnUse x1=1458 x2=1824><stop offset=.00 stop-color=#127 /><stop offset=.14 stop-color=#092f94 /><stop offset=.23 stop-color=#025bbf /><stop offset=.29 stop-color=#09a7e1 /><stop offset=.31 stop-color=#49bda8 /><stop offset=.37 stop-color=#f5e31e /><stop offset=.46 stop-color=#ea4b21 /><stop offset=.49 stop-color=#ee6e61 /><stop offset=.54 stop-color=#f5a490 /><stop offset=.63 stop-color=#faf298 /><stop offset=.71 stop-color=#87d4f0 /><stop offset=.86 stop-color=#5771b6 /><stop offset=1.00 stop-color=#127 /></linearGradient><linearGradient id=g230 gradientUnits=userSpaceOnUse x1=1450 x2=1817><stop offset=.00 stop-color=#127 /><stop offset=.14 stop-color=#092e93 /><stop offset=.23 stop-color=#05b /><stop offset=.29 stop-color=#09d /><stop offset=.31 stop-color=#3bb /><stop offset=.37 stop-color=#d3dc37 /><stop offset=.40 stop-color=#f5c61e /><stop offset=.46 stop-color=#f27d2f /><stop offset=.49 stop-color=#f39065 /><stop offset=.54 stop-color=#f8b88e /><stop offset=.60 stop-color=#fae597 /><stop offset=.63 stop-color=#ebefa4 /><stop offset=.69 stop-color=#9fdee1 /><stop offset=.71 stop-color=#8ce /><stop offset=.86 stop-color=#5670b5 /><stop offset=1.00 stop-color=#127 /></linearGradient><linearGradient id=g231 gradientUnits=userSpaceOnUse x1=1443 x2=1809><stop offset=.00 stop-color=#127 /><stop offset=.14 stop-color=#0a2d90 /><stop offset=.23 stop-color=#05b /><stop offset=.29 stop-color=#038dd7 /><stop offset=.31 stop-color=#15b2d6 /><stop offset=.40 stop-color=#f4e41f /><stop offset=.43 stop-color=#f5ba1e /><stop offset=.46 stop-color=#f6a83a /><stop offset=.51 stop-color=#f9be81 /><stop offset=.60 stop-color=#faf297 /><stop offset=.69 stop-color=#92dbec /><stop offset=.83 stop-color=#647fc2 /><stop offset=.97 stop-color=#182a7e /><stop offset=1.00 stop-color=#127 /></linearGradient><linearGradient id=g232 gradientUnits=userSpaceOnUse x1=1435 x2=1801><stop offset=.00 stop-color=#127 /><stop offset=.17 stop-color=#08329a /><stop offset=.26 stop-color=#0160c3 /><stop offset=.31 stop-color=#0ad /><stop offset=.40 stop-color=#c6d941 /><stop offset=.43 stop-color=#f5df1e /><stop offset=.49 stop-color=#f8cd6a /><stop offset=.57 stop-color=#faf093 /><stop offset=.69 stop-color=#89d6f1 /><stop offset=.86 stop-color=#526aaf /><stop offset=.97 stop-color=#17297d /><stop offset=1.00 stop-color=#127 /></linearGradient><linearGradient id=g233 gradientUnits=userSpaceOnUse x1=1427 x2=1794><stop offset=.00 stop-color=#127 /><stop offset=.17 stop-color=#083097 /><stop offset=.26 stop-color=#05b /><stop offset=.31 stop-color=#09d /><stop offset=.34 stop-color=#1cb4cf /><stop offset=.40 stop-color=#9c6 /><stop offset=.43 stop-color=#cd4 /><stop offset=.46 stop-color=#f0e850 /><stop offset=.54 stop-color=#f5f08f /><stop offset=.66 stop-color=#95dce9 /><stop offset=.77 stop-color=#769ad5 /><stop offset=.97 stop-color=#16287c /><stop offset=1.00 stop-color=#127 /></linearGradient><linearGradient id=g234 gradientUnits=userSpaceOnUse x1=1420 x2=1786><stop offset=.00 stop-color=#127 /><stop offset=.17 stop-color=#092f94 /><stop offset=.29 stop-color=#0066c6 /><stop offset=.34 stop-color=#0ad /><stop offset=.43 stop-color=#9ad06e /><stop offset=.46 stop-color=#c5de76 /><stop offset=.51 stop-color=#dee994 /><stop offset=.60 stop-color=#b6e3c8 /><stop offset=.66 stop-color=#88d5f1 /><stop offset=.83 stop-color=#5c75b8 /><stop offset=.97 stop-color=#127 /><stop offset=1.00 stop-color=#127 /></linearGradient><linearGradient id=g235 gradientUnits=userSpaceOnUse x1=1412 x2=1778><stop offset=.00 stop-color=#127 /><stop offset=.17 stop-color=#0a2d90 /><stop offset=.29 stop-color=#015cc0 /><stop offset=.37 stop-color=#08b0e1 /><stop offset=.43 stop-color=#6fc89c /><stop offset=.46 stop-color=#9dd599 /><stop offset=.51 stop-color=#bee2ab /><stop offset=.60 stop-color=#9edddb /><stop offset=.63 stop-color=#8de /><stop offset=.80 stop-color=#6580c2 /><stop offset=.97 stop-color=#127 /><stop offset=1.00 stop-color=#127 /></linearGradient><linearGradient id=g236 gradientUnits=userSpaceOnUse x1=1404 x2=1771><stop offset=.00 stop-color=#127 /><stop offset=.20 stop-color=#083198 /><stop offset=.31 stop-color=#0065c5 /><stop offset=.40 stop-color=#0ab0df /><stop offset=.46 stop-color=#7cb /><stop offset=.51 stop-color=#9ddbc6 /><stop offset=.60 stop-color=#86d8ef /><stop offset=.77 stop-color=#6c8aca /><stop offset=.97 stop-color=#127 /><stop offset=1.00 stop-color=#127 /></linearGradient><linearGradient id=g237 gradientUnits=userSpaceOnUse x1=1397 x2=1763><stop offset=.00 stop-color=#127 /><stop offset=.20 stop-color=#092e93 /><stop offset=.34 stop-color=#006bc9 /><stop offset=.40 stop-color=#099bdc /><stop offset=.46 stop-color=#53c7e1 /><stop offset=.51 stop-color=#7dd4e1 /><stop offset=.60 stop-color=#7fcbed /><stop offset=.77 stop-color=#6884c5 /><stop offset=.94 stop-color=#18297d /><stop offset=1.00 stop-color=#127 /></linearGradient><linearGradient id=g238 gradientUnits=userSpaceOnUse x1=1389 x2=1755><stop offset=.00 stop-color=#127 /><stop offset=.20 stop-color=#0a2c8f /><stop offset=.34 stop-color=#015ec1 /><stop offset=.40 stop-color=#1087d4 /><stop offset=.49 stop-color=#5cc2ea /><stop offset=.60 stop-color=#7bbde7 /><stop offset=.77 stop-color=#637dbf /><stop offset=.94 stop-color=#16277b /><stop offset=1.00 stop-color=#127 /></linearGradient><linearGradient id=g239 gradientUnits=userSpaceOnUse x1=1381 x2=1748><stop offset=.00 stop-color=#127 /><stop offset=.23 stop-color=#092f94 /><stop offset=.37 stop-color=#015fc1 /><stop offset=.49 stop-color=#59b0e3 /><stop offset=.60 stop-color=#77afe2 /><stop offset=.74 stop-color=#6783c4 /><stop offset=.94 stop-color=#127 /><stop offset=1.00 stop-color=#127 /></linearGradient><linearGradient id=g240 gradientUnits=userSpaceOnUse x1=1374 x2=1740><stop offset=.00 stop-color=#127 /><stop offset=.23 stop-color=#0a2c8f /><stop offset=.37 stop-color=#0655bb /><stop offset=.49 stop-color=#569edc /><stop offset=.63 stop-color=#74a0d9 /><stop offset=.77 stop-color=#566eb2 /><stop offset=.94 stop-color=#127 /><stop offset=1.00 stop-color=#127 /></linearGradient><linearGradient id=g241 gradientUnits=userSpaceOnUse x1=1366 x2=1732><stop offset=.00 stop-color=#127 /><stop offset=.26 stop-color=#092e93 /><stop offset=.37 stop-color=#0c4eb5 /><stop offset=.49 stop-color=#5391d5 /><stop offset=.63 stop-color=#6f95d3 /><stop offset=.77 stop-color=#4f66ab /><stop offset=.94 stop-color=#127 /><stop offset=1.00 stop-color=#127 /></linearGradient><linearGradient id=g242 gradientUnits=userSpaceOnUse x1=1358 x2=1725><stop offset=.00 stop-color=#127 /><stop offset=.26 stop-color=#0a2b8d /><stop offset=.37 stop-color=#1147b0 /><stop offset=.51 stop-color=#5a8dd1 /><stop offset=.66 stop-color=#68c /><stop offset=.94 stop-color=#127 /><stop offset=1.00 stop-color=#127 /></linearGradient><linearGradient id=g243 gradientUnits=userSpaceOnUse x1=1351 x2=1717><stop offset=.00 stop-color=#127 /><stop offset=.29 stop-color=#0a2c8f /><stop offset=.37 stop-color=#14a /><stop offset=.51 stop-color=#5581ca /><stop offset=.66 stop-color=#5f7cc0 /><stop offset=.91 stop-color=#127 /><stop offset=1.00 stop-color=#127 /></linearGradient><linearGradient id=g244 gradientUnits=userSpaceOnUse x1=1343 x2=1709><stop offset=.00 stop-color=#127 /><stop offset=.31 stop-color=#0a2d90 /><stop offset=.51 stop-color=#4f74c3 /><stop offset=.66 stop-color=#5772b7 /><stop offset=.91 stop-color=#127 /><stop offset=1.00 stop-color=#127 /></linearGradient><linearGradient id=g245 gradientUnits=userSpaceOnUse x1=1335 x2=1701><stop offset=.00 stop-color=#127 /><stop offset=.34 stop-color=#0e3091 /><stop offset=.54 stop-color=#4f6fba /><stop offset=.71 stop-color=#4257a1 /><stop offset=.91 stop-color=#127 /><stop offset=1.00 stop-color=#127 /></linearGradient><linearGradient id=g246 gradientUnits=userSpaceOnUse x1=1328 x2=1694><stop offset=.00 stop-color=#127 /><stop offset=.34 stop-color=#0f2d8b /><stop offset=.54 stop-color=#4764b0 /><stop offset=.71 stop-color=#394d99 /><stop offset=.91 stop-color=#127 /><stop offset=1.00 stop-color=#127 /></linearGradient><linearGradient id=g247 gradientUnits=userSpaceOnUse x1=1320 x2=1686><stop offset=.00 stop-color=#127 /><stop offset=.37 stop-color=#15318d /><stop offset=.57 stop-color=#415aa6 /><stop offset=.91 stop-color=#127 /><stop offset=1.00 stop-color=#127 /></linearGradient><linearGradient id=g248 gradientUnits=userSpaceOnUse x1=1312 x2=1678><stop offset=.00 stop-color=#127 /><stop offset=.37 stop-color=#142d87 /><stop offset=.57 stop-color=#38509d /><stop offset=.91 stop-color=#127 /><stop offset=1.00 stop-color=#127 /></linearGradient><linearGradient id=g249 gradientUnits=userSpaceOnUse x1=1305 x2=1671><stop offset=.00 stop-color=#127 /><stop offset=.40 stop-color=#172f87 /><stop offset=.60 stop-color=#2f4493 /><stop offset=.91 stop-color=#127 /><stop offset=1.00 stop-color=#127 /></linearGradient><linearGradient id=g250 gradientUnits=userSpaceOnUse x1=1297 x2=1663><stop offset=.00 stop-color=#127 /><stop offset=.43 stop-color=#182f85 /><stop offset=.66 stop-color=#238 /><stop offset=.97 stop-color=#127 /><stop offset=1.00 stop-color=#127 /></linearGradient><linearGradient id=g251 gradientUnits=userSpaceOnUse x1=1289 x2=1655><stop offset=.00 stop-color=#127 /><stop offset=.49 stop-color=#1b3085 /><stop offset=1.00 stop-color=#127 /></linearGradient><linearGradient id=g252 gradientUnits=userSpaceOnUse x1=1282 x2=1648><stop offset=.00 stop-color=#127 /><stop offset=.69 stop-color=#127 /><stop offset=1.00 stop-color=#127 /></linearGradient><linearGradient id=g253 gradientUnits=userSpaceOnUse x1=1274 x2=1640><stop offset=.00 stop-color=#127 /><stop offset=1.00 stop-color=#127 /></linearGradient><linearGradient id=g254 gradientUnits=userSpaceOnUse x1=1266 x2=1632><stop offset=.00 stop-color=#127 /><stop offset=1.00 stop-color=#127 /></linearGradient><linearGradient id=g255 gradientUnits=userSpaceOnUse x1=1259 x2=1625><stop offset=.00 stop-color=#127 /><stop offset=1.00 stop-color=#127 /></linearGradient><linearGradient id=g256 gradientUnits=userSpaceOnUse x1=573 x2=936><stop offset=.00 stop-color=#f6dd2e /><stop offset=.46 stop-color=#f2e63c /><stop offset=.80 stop-color=#f6a939 /><stop offset=1.00 stop-color=#f3833a /></linearGradient><linearGradient id=g257 gradientUnits=userSpaceOnUse x1=565 x2=929><stop offset=.00 stop-color=#f6d830 /><stop offset=.37 stop-color=#e2e348 /><stop offset=.63 stop-color=#f6dc39 /><stop offset=1.00 stop-color=#f48e3a /></linearGradient><linearGradient id=g258 gradientUnits=userSpaceOnUse x1=558 x2=921><stop offset=.00 stop-color=#f6d333 /><stop offset=.20 stop-color=#ebe541 /><stop offset=.46 stop-color=#d9e04f /><stop offset=.66 stop-color=#f6e139 /><stop offset=1.00 stop-color=#f69939 /></linearGradient><linearGradient id=g259 gradientUnits=userSpaceOnUse x1=550 x2=914><stop offset=.00 stop-color=#f6cf34 /><stop offset=.20 stop-color=#e5e346 /><stop offset=.46 stop-color=#cbdd5a /><stop offset=.71 stop-color=#f6df39 /><stop offset=1.00 stop-color=#f6a339 /></linearGradient><linearGradient id=g260 gradientUnits=userSpaceOnUse x1=542 x2=906><stop offset=.00 stop-color=#f6cb36 /><stop offset=.17 stop-color=#e8e444 /><stop offset=.43 stop-color=#bd6 /><stop offset=.66 stop-color=#dfe24b /><stop offset=.80 stop-color=#f6d639 /><stop offset=1.00 stop-color=#f6ae39 /></linearGradient><linearGradient id=g261 gradientUnits=userSpaceOnUse x1=535 x2=898><stop offset=.00 stop-color=#f6c837 /><stop offset=.14 stop-color=#ece540 /><stop offset=.40 stop-color=#afd76e /><stop offset=.63 stop-color=#c6dc5d /><stop offset=.80 stop-color=#f6e239 /><stop offset=1.00 stop-color=#f6b939 /></linearGradient><linearGradient id=g262 gradientUnits=userSpaceOnUse x1=527 x2=891><stop offset=.00 stop-color=#f6c538 /><stop offset=.14 stop-color=#e8e443 /><stop offset=.37 stop-color=#a5d476 /><stop offset=.57 stop-color=#a9d573 /><stop offset=.86 stop-color=#f6e039 /><stop offset=1.00 stop-color=#f6c539 /></linearGradient><linearGradient id=g263 gradientUnits=userSpaceOnUse x1=519 x2=883><stop offset=.00 stop-color=#f6c239 /><stop offset=.11 stop-color=#f1e63d /><stop offset=.34 stop-color=#9dd27c /><stop offset=.54 stop-color=#94d083 /><stop offset=.91 stop-color=#f6e039 /><stop offset=1.00 stop-color=#f6d139 /></linearGradient><linearGradient id=g264 gradientUnits=userSpaceOnUse x1=512 x2=876><stop offset=.00 stop-color=#f6bf39 /><stop offset=.11 stop-color=#eee53f /><stop offset=.34 stop-color=#91d085 /><stop offset=.54 stop-color=#83cd91 /><stop offset=.83 stop-color=#d2df54 /><stop offset=.97 stop-color=#f6e239 /><stop offset=1.00 stop-color=#f6de39 /></linearGradient><linearGradient id=g265 gradientUnits=userSpaceOnUse x1=504 x2=868><stop offset=.00 stop-color=#f6bd39 /><stop offset=.11 stop-color=#eae542 /><stop offset=.34 stop-color=#84cd90 /><stop offset=.54 stop-color=#72c9a0 /><stop offset=.80 stop-color=#b5d86a /><stop offset=1.00 stop-color=#f1e63d /></linearGradient><linearGradient id=g266 gradientUnits=userSpaceOnUse x1=497 x2=860><stop offset=.00 stop-color=#f6bb39 /><stop offset=.09 stop-color=#f6e539 /><stop offset=.31 stop-color=#80cc93 /><stop offset=.51 stop-color=#5fc5b1 /><stop offset=.74 stop-color=#8ecf87 /><stop offset=1.00 stop-color=#dfe24a /></linearGradient><linearGradient id=g267 gradientUnits=userSpaceOnUse x1=489 x2=853><stop offset=.00 stop-color=#f6b839 /><stop offset=.09 stop-color=#f6e739 /><stop offset=.31 stop-color=#74c99e /><stop offset=.51 stop-color=#4ec2c0 /><stop offset=.74 stop-color=#7c9 /><stop offset=1.00 stop-color=#cd5 /></linearGradient><linearGradient id=g268 gradientUnits=userSpaceOnUse x1=481 x2=845><stop offset=.00 stop-color=#f6b639 /><stop offset=.09 stop-color=#f5e73a /><stop offset=.29 stop-color=#74ca9e /><stop offset=.46 stop-color=#4bc /><stop offset=.66 stop-color=#4fc2bf /><stop offset=1.00 stop-color=#bd6 /></linearGradient><linearGradient id=g269 gradientUnits=userSpaceOnUse x1=474 x2=837><stop offset=.00 stop-color=#f6b539 /><stop offset=.09 stop-color=#f2e63c /><stop offset=.29 stop-color=#69c7a8 /><stop offset=.46 stop-color=#3bd /><stop offset=.66 stop-color=#3dbed0 /><stop offset=1.00 stop-color=#a7d574 /></linearGradient><linearGradient id=g270 gradientUnits=userSpaceOnUse x1=466 x2=830><stop offset=.00 stop-color=#f6b339 /><stop offset=.09 stop-color=#efe63f /><stop offset=.29 stop-color=#5ec5b3 /><stop offset=.46 stop-color=#23b8e7 /><stop offset=.69 stop-color=#3bd /><stop offset=1.00 stop-color=#94d082 /></linearGradient><linearGradient id=g271 gradientUnits=userSpaceOnUse x1=459 x2=822><stop offset=.00 stop-color=#f6b139 /><stop offset=.09 stop-color=#ede542 /><stop offset=.29 stop-color=#54c3bd /><stop offset=.40 stop-color=#23b7e6 /><stop offset=.63 stop-color=#22afe3 /><stop offset=.77 stop-color=#39bdd3 /><stop offset=1.00 stop-color=#81cc92 /></linearGradient><linearGradient id=g272 gradientUnits=userSpaceOnUse x1=451 x2=815><stop offset=.00 stop-color=#f6b039 /><stop offset=.09 stop-color=#eae544 /><stop offset=.29 stop-color=#49c1c7 /><stop offset=.37 stop-color=#23b5e6 /><stop offset=.60 stop-color=#21a3de /><stop offset=.80 stop-color=#3bd /><stop offset=1.00 stop-color=#6ec8a3 /></linearGradient><linearGradient id=g273 gradientUnits=userSpaceOnUse x1=443 x2=807><stop offset=.00 stop-color=#f6ae3a /><stop offset=.06 stop-color=#f6dc3b /><stop offset=.14 stop-color=#b0d771 /><stop offset=.31 stop-color=#2dbbe0 /><stop offset=.54 stop-color=#29d /><stop offset=.83 stop-color=#28bae3 /><stop offset=1.00 stop-color=#5bc4b4 /></linearGradient><linearGradient id=g274 gradientUnits=userSpaceOnUse x1=436 x2=799><stop offset=.00 stop-color=#f6ad3b /><stop offset=.06 stop-color=#f6dd3c /><stop offset=.17 stop-color=#90d08a /><stop offset=.31 stop-color=#25b7e7 /><stop offset=.54 stop-color=#208dd6 /><stop offset=.89 stop-color=#29bae2 /><stop offset=1.00 stop-color=#49c0c5 /></linearGradient><linearGradient id=g275 gradientUnits=userSpaceOnUse x1=428 x2=792><stop offset=.00 stop-color=#f6ac3c /><stop offset=.06 stop-color=#f6de3d /><stop offset=.29 stop-color=#2bbbe3 /><stop offset=.51 stop-color=#1f85d3 /><stop offset=.80 stop-color=#21a0de /><stop offset=.94 stop-color=#29bae2 /><stop offset=1.00 stop-color=#36bdd6 /></linearGradient><linearGradient id=g276 gradientUnits=userSpaceOnUse x1=420 x2=784><stop offset=.00 stop-color=#f6ab3c /><stop offset=.06 stop-color=#f6df3e /><stop offset=.26 stop-color=#38bdd9 /><stop offset=.31 stop-color=#25abe2 /><stop offset=.51 stop-color=#1f7dcf /><stop offset=.80 stop-color=#29d /><stop offset=1.00 stop-color=#24b9e7 /></linearGradient><linearGradient id=g277 gradientUnits=userSpaceOnUse x1=413 x2=777><stop offset=.00 stop-color=#f6a93d /><stop offset=.06 stop-color=#f6e03e /><stop offset=.26 stop-color=#3bd /><stop offset=.46 stop-color=#27c /><stop offset=.74 stop-color=#1f81d1 /><stop offset=1.00 stop-color=#22afe3 /></linearGradient><linearGradient id=g278 gradientUnits=userSpaceOnUse x1=405 x2=769><stop offset=.00 stop-color=#f6a83e /><stop offset=.06 stop-color=#f6e03f /><stop offset=.26 stop-color=#28bae8 /><stop offset=.46 stop-color=#27c /><stop offset=.74 stop-color=#27c /><stop offset=1.00 stop-color=#22a4df /></linearGradient><linearGradient id=g279 gradientUnits=userSpaceOnUse x1=398 x2=761><stop offset=.00 stop-color=#f6a63f /><stop offset=.06 stop-color=#f6e140 /><stop offset=.23 stop-color=#3abed9 /><stop offset=.29 stop-color=#2ad /><stop offset=.46 stop-color=#2071c8 /><stop offset=.77 stop-color=#27c /><stop offset=1.00 stop-color=#29d /></linearGradient><linearGradient id=g280 gradientUnits=userSpaceOnUse x1=390 x2=754><stop offset=.00 stop-color=#f6a53f /><stop offset=.06 stop-color=#f7e140 /><stop offset=.23 stop-color=#3bd /><stop offset=.43 stop-color=#2070c8 /><stop offset=.71 stop-color=#206ac3 /><stop offset=1.00 stop-color=#2090d7 /></linearGradient><linearGradient id=g281 gradientUnits=userSpaceOnUse x1=382 x2=746><stop offset=.00 stop-color=#f7a340 /><stop offset=.06 stop-color=#f7e141 /><stop offset=.23 stop-color=#2dbce5 /><stop offset=.40 stop-color=#2071c8 /><stop offset=.66 stop-color=#2260bd /><stop offset=1.00 stop-color=#1f87d3 /></linearGradient><linearGradient id=g282 gradientUnits=userSpaceOnUse x1=375 x2=738><stop offset=.00 stop-color=#f7a241 /><stop offset=.06 stop-color=#f7e142 /><stop offset=.23 stop-color=#2ab9e7 /><stop offset=.40 stop-color=#206dc6 /><stop offset=.66 stop-color=#225aba /><stop offset=1.00 stop-color=#1f7dd0 /></linearGradient><linearGradient id=g283 gradientUnits=userSpaceOnUse x1=367 x2=731><stop offset=.00 stop-color=#f7a042 /><stop offset=.06 stop-color=#f7e142 /><stop offset=.23 stop-color=#2ab6e6 /><stop offset=.37 stop-color=#2171c8 /><stop offset=.63 stop-color=#2354b6 /><stop offset=1.00 stop-color=#27c /></linearGradient><linearGradient id=g284 gradientUnits=userSpaceOnUse x1=360 x2=723><stop offset=.00 stop-color=#f69e42 /><stop offset=.06 stop-color=#f7e143 /><stop offset=.20 stop-color=#3ebfd7 /><stop offset=.23 stop-color=#2ab3e5 /><stop offset=.37 stop-color=#226dc6 /><stop offset=.60 stop-color=#2450b1 /><stop offset=1.00 stop-color=#2071c8 /></linearGradient><linearGradient id=g285 gradientUnits=userSpaceOnUse x1=352 x2=716><stop offset=.00 stop-color=#f69b43 /><stop offset=.06 stop-color=#f7e043 /><stop offset=.20 stop-color=#3abedb /><stop offset=.26 stop-color=#279edc /><stop offset=.40 stop-color=#26b /><stop offset=.66 stop-color=#244ead /><stop offset=1.00 stop-color=#206bc5 /></linearGradient><linearGradient id=g286 gradientUnits=userSpaceOnUse x1=344 x2=708><stop offset=.00 stop-color=#f69944 /><stop offset=.06 stop-color=#f7df43 /><stop offset=.20 stop-color=#3bd /><stop offset=.37 stop-color=#2267c2 /><stop offset=.60 stop-color=#254ba7 /><stop offset=1.00 stop-color=#2166c1 /></linearGradient><linearGradient id=g287 gradientUnits=userSpaceOnUse x1=337 x2=700><stop offset=.00 stop-color=#f59644 /><stop offset=.06 stop-color=#f7de44 /><stop offset=.20 stop-color=#3bd /><stop offset=.34 stop-color=#236dc6 /><stop offset=.54 stop-color=#264aa5 /><stop offset=1.00 stop-color=#2161be /></linearGradient><linearGradient id=g288 gradientUnits=userSpaceOnUse x1=329 x2=693><stop offset=.00 stop-color=#f59345 /><stop offset=.06 stop-color=#f7dd44 /><stop offset=.14 stop-color=#80cd9e /><stop offset=.20 stop-color=#31bce4 /><stop offset=.34 stop-color=#236bc4 /><stop offset=.51 stop-color=#264aa4 /><stop offset=.80 stop-color=#244dab /><stop offset=1.00 stop-color=#225cbb /></linearGradient><linearGradient id=g289 gradientUnits=userSpaceOnUse x1=321 x2=685><stop offset=.00 stop-color=#f49046 /><stop offset=.06 stop-color=#f7dc45 /><stop offset=.11 stop-color=#abd77c /><stop offset=.20 stop-color=#2fbce6 /><stop offset=.34 stop-color=#2369c3 /><stop offset=.54 stop-color=#27469d /><stop offset=.86 stop-color=#244ead /><stop offset=1.00 stop-color=#25b /></linearGradient><linearGradient id=g290 gradientUnits=userSpaceOnUse x1=314 x2=678><stop offset=.00 stop-color=#f48c46 /><stop offset=.06 stop-color=#f7db45 /><stop offset=.11 stop-color=#abd77c /><stop offset=.20 stop-color=#2dbce8 /><stop offset=.31 stop-color=#2372c8 /><stop offset=.49 stop-color=#2648a2 /><stop offset=.74 stop-color=#27459c /><stop offset=1.00 stop-color=#2354b6 /></linearGradient><linearGradient id=g291 gradientUnits=userSpaceOnUse x1=306 x2=670><stop offset=.00 stop-color=#f38947 /><stop offset=.06 stop-color=#f7d945 /><stop offset=.09 stop-color=#dbe259 /><stop offset=.20 stop-color=#2cbbe8 /><stop offset=.31 stop-color=#2370c7 /><stop offset=.49 stop-color=#27479f /><stop offset=.74 stop-color=#274398 /><stop offset=1.00 stop-color=#2351b3 /></linearGradient><linearGradient id=g292 gradientUnits=userSpaceOnUse x1=299 x2=662><stop offset=.00 stop-color=#e84 /><stop offset=.06 stop-color=#f7d745 /><stop offset=.09 stop-color=#dde358 /><stop offset=.20 stop-color=#2cbae8 /><stop offset=.31 stop-color=#236fc6 /><stop offset=.49 stop-color=#27469d /><stop offset=.74 stop-color=#274195 /><stop offset=1.00 stop-color=#244faf /></linearGradient><linearGradient id=g293 gradientUnits=userSpaceOnUse x1=291 x2=655><stop offset=.00 stop-color=#f28148 /><stop offset=.06 stop-color=#f7d546 /><stop offset=.09 stop-color=#dfe357 /><stop offset=.20 stop-color=#2cbae8 /><stop offset=.31 stop-color=#236ec6 /><stop offset=.49 stop-color=#28459b /><stop offset=.74 stop-color=#273f91 /><stop offset=1.00 stop-color=#254dab /></linearGradient><linearGradient id=g294 gradientUnits=userSpaceOnUse x1=283 x2=647><stop offset=.00 stop-color=#f17d49 /><stop offset=.06 stop-color=#f7d346 /><stop offset=.09 stop-color=#e1e455 /><stop offset=.20 stop-color=#2cbae8 /><stop offset=.31 stop-color=#236dc5 /><stop offset=.49 stop-color=#284499 /><stop offset=.74 stop-color=#273d8f /><stop offset=1.00 stop-color=#254ba8 /></linearGradient><linearGradient id=g295 gradientUnits=userSpaceOnUse x1=276 x2=639><stop offset=.00 stop-color=#f07949 /><stop offset=.06 stop-color=#f7d046 /><stop offset=.09 stop-color=#e4e453 /><stop offset=.20 stop-color=#2cbae8 /><stop offset=.31 stop-color=#236cc5 /><stop offset=.49 stop-color=#284397 /><stop offset=.74 stop-color=#273b8c /><stop offset=1.00 stop-color=#264aa5 /></linearGradient><linearGradient id=g296 gradientUnits=userSpaceOnUse x1=268 x2=632><stop offset=.00 stop-color=#f0754a /><stop offset=.06 stop-color=#f7ce46 /><stop offset=.09 stop-color=#e7e551 /><stop offset=.20 stop-color=#2cbae8 /><stop offset=.31 stop-color=#236cc4 /><stop offset=.49 stop-color=#284296 /><stop offset=.74 stop-color=#263a8a /><stop offset=1.00 stop-color=#2548a3 /></linearGradient><linearGradient id=g297 gradientUnits=userSpaceOnUse x1=260 x2=624><stop offset=.00 stop-color=#ef714a /><stop offset=.06 stop-color=#f7cb47 /><stop offset=.09 stop-color=#eae64f /><stop offset=.20 stop-color=#2bbbe8 /><stop offset=.31 stop-color=#226bc4 /><stop offset=.49 stop-color=#294295 /><stop offset=.74 stop-color=#263989 /><stop offset=1.00 stop-color=#2547a0 /></linearGradient><linearGradient id=g298 gradientUnits=userSpaceOnUse x1=253 x2=617><stop offset=.00 stop-color=#ee6d4b /><stop offset=.06 stop-color=#f7c847 /><stop offset=.09 stop-color=#ede74d /><stop offset=.20 stop-color=#2cbbe8 /><stop offset=.31 stop-color=#226bc4 /><stop offset=.49 stop-color=#294295 /><stop offset=.74 stop-color=#238 /><stop offset=1.00 stop-color=#25469f /></linearGradient><linearGradient id=g299 gradientUnits=userSpaceOnUse x1=245 x2=609><stop offset=.00 stop-color=#ee684b /><stop offset=.09 stop-color=#f1e74a /><stop offset=.20 stop-color=#2ebce6 /><stop offset=.31 stop-color=#226bc4 /><stop offset=.49 stop-color=#294295 /><stop offset=.74 stop-color=#238 /><stop offset=1.00 stop-color=#249 /></linearGradient><linearGradient id=g300 gradientUnits=userSpaceOnUse x1=238 x2=601><stop offset=.00 stop-color=#ed644c /><stop offset=.09 stop-color=#f5e847 /><stop offset=.20 stop-color=#30bce4 /><stop offset=.31 stop-color=#226cc5 /><stop offset=.49 stop-color=#294295 /><stop offset=.74 stop-color=#238 /><stop offset=1.00 stop-color=#249 /></linearGradient><linearGradient id=g301 gradientUnits=userSpaceOnUse x1=230 x2=594><stop offset=.00 stop-color=#ec5f4c /><stop offset=.09 stop-color=#f7e746 /><stop offset=.20 stop-color=#3bd /><stop offset=.31 stop-color=#216cc5 /><stop offset=.49 stop-color=#294296 /><stop offset=.74 stop-color=#238 /><stop offset=1.00 stop-color=#249 /></linearGradient><linearGradient id=g302 gradientUnits=userSpaceOnUse x1=222 x2=586><stop offset=.00 stop-color=#eb5b4d /><stop offset=.09 stop-color=#f7e446 /><stop offset=.20 stop-color=#3bd /><stop offset=.31 stop-color=#216dc5 /><stop offset=.49 stop-color=#284397 /><stop offset=.74 stop-color=#238 /><stop offset=1.00 stop-color=#249 /></linearGradient><linearGradient id=g303 gradientUnits=userSpaceOnUse x1=215 x2=578><stop offset=.00 stop-color=#eb564d /><stop offset=.09 stop-color=#f7e146 /><stop offset=.20 stop-color=#38bedc /><stop offset=.29 stop-color=#217ccf /><stop offset=.43 stop-color=#254ba7 /><stop offset=.69 stop-color=#238 /><stop offset=1.00 stop-color=#249 /></linearGradient><linearGradient id=g304 gradientUnits=userSpaceOnUse x1=207 x2=571><stop offset=.00 stop-color=#ea524e /><stop offset=.09 stop-color=#f7de46 /><stop offset=.20 stop-color=#3cbfd8 /><stop offset=.26 stop-color=#2494d8 /><stop offset=.40 stop-color=#2450b1 /><stop offset=.63 stop-color=#238 /><stop offset=1.00 stop-color=#21439e /></linearGradient><linearGradient id=g305 gradientUnits=userSpaceOnUse x1=200 x2=563><stop offset=.00 stop-color=#e94e4e /><stop offset=.09 stop-color=#f7db46 /><stop offset=.14 stop-color=#a0d484 /><stop offset=.20 stop-color=#3fbfd5 /><stop offset=.23 stop-color=#27aee3 /><stop offset=.34 stop-color=#2165c0 /><stop offset=.60 stop-color=#24398a /><stop offset=1.00 stop-color=#20439f /></linearGradient><linearGradient id=g306 gradientUnits=userSpaceOnUse x1=192 x2=556><stop offset=.00 stop-color=#e54e4e /><stop offset=.09 stop-color=#f7d746 /><stop offset=.11 stop-color=#d9e25b /><stop offset=.20 stop-color=#43c0d1 /><stop offset=.23 stop-color=#27b0e4 /><stop offset=.34 stop-color=#2166c1 /><stop offset=.60 stop-color=#23398c /><stop offset=1.00 stop-color=#1e43a1 /></linearGradient><linearGradient id=g307 gradientUnits=userSpaceOnUse x1=184 x2=548><stop offset=.00 stop-color=#e14d4e /><stop offset=.09 stop-color=#f7d446 /><stop offset=.11 stop-color=#dde358 /><stop offset=.20 stop-color=#48c1cd /><stop offset=.23 stop-color=#27b3e5 /><stop offset=.34 stop-color=#2168c3 /><stop offset=.57 stop-color=#233c91 /><stop offset=.89 stop-color=#163b9c /><stop offset=1.00 stop-color=#1d44a4 /></linearGradient><linearGradient id=g308 gradientUnits=userSpaceOnUse x1=177 x2=540><stop offset=.00 stop-color=#dd4d4e /><stop offset=.09 stop-color=#f7d046 /><stop offset=.11 stop-color=#e2e454 /><stop offset=.23 stop-color=#27b5e6 /><stop offset=.34 stop-color=#206ac4 /><stop offset=.57 stop-color=#223d94 /><stop offset=.89 stop-color=#143c9f /><stop offset=1.00 stop-color=#1b45a6 /></linearGradient><linearGradient id=g309 gradientUnits=userSpaceOnUse x1=169 x2=533><stop offset=.00 stop-color=#da4d4e /><stop offset=.06 stop-color=#f7a448 /><stop offset=.11 stop-color=#e7e550 /><stop offset=.23 stop-color=#27b8e7 /><stop offset=.34 stop-color=#206cc5 /><stop offset=.57 stop-color=#203e97 /><stop offset=.89 stop-color=#113ca2 /><stop offset=1.00 stop-color=#1a46aa /></linearGradient><linearGradient id=g310 gradientUnits=userSpaceOnUse x1=161 x2=525><stop offset=.00 stop-color=#d64c4e /><stop offset=.06 stop-color=#f7a048 /><stop offset=.11 stop-color=#ebe64d /><stop offset=.23 stop-color=#29bae5 /><stop offset=.34 stop-color=#206fc7 /><stop offset=.57 stop-color=#1e3f9a /><stop offset=.89 stop-color=#0e3da6 /><stop offset=1.00 stop-color=#1847ae /></linearGradient><linearGradient id=g311 gradientUnits=userSpaceOnUse x1=154 x2=518><stop offset=.00 stop-color=#d34c4d /><stop offset=.03 stop-color=#ee694d /><stop offset=.11 stop-color=#f0e749 /><stop offset=.23 stop-color=#3bd /><stop offset=.34 stop-color=#2071c8 /><stop offset=.57 stop-color=#1d409e /><stop offset=.89 stop-color=#0b3eab /><stop offset=1.00 stop-color=#1649b1 /></linearGradient><linearGradient id=g312 gradientUnits=userSpaceOnUse x1=146 x2=510><stop offset=.00 stop-color=#d04c4d /><stop offset=.03 stop-color=#ed664d /><stop offset=.11 stop-color=#f5e846 /><stop offset=.23 stop-color=#3bd /><stop offset=.31 stop-color=#1f82d1 /><stop offset=.54 stop-color=#1d45a5 /><stop offset=.83 stop-color=#063aa9 /><stop offset=1.00 stop-color=#144db3 /></linearGradient><linearGradient id=g313 gradientUnits=userSpaceOnUse x1=139 x2=502><stop offset=.00 stop-color=#cd4c4d /><stop offset=.03 stop-color=#ed624e /><stop offset=.11 stop-color=#f7e744 /><stop offset=.23 stop-color=#3abed6 /><stop offset=.26 stop-color=#23aee3 /><stop offset=.37 stop-color=#206dc6 /><stop offset=.63 stop-color=#133ea3 /><stop offset=.91 stop-color=#0747b2 /><stop offset=1.00 stop-color=#1250b6 /></linearGradient><linearGradient id=g314 gradientUnits=userSpaceOnUse x1=131 x2=495><stop offset=.00 stop-color=#ca4c4d /><stop offset=.03 stop-color=#ec5f4e /><stop offset=.11 stop-color=#f7e344 /><stop offset=.23 stop-color=#3fbfd1 /><stop offset=.26 stop-color=#23b1e4 /><stop offset=.37 stop-color=#2070c8 /><stop offset=.63 stop-color=#103fa8 /><stop offset=.94 stop-color=#074fb7 /><stop offset=1.00 stop-color=#15b /></linearGradient><linearGradient id=g315 gradientUnits=userSpaceOnUse x1=123 x2=487><stop offset=.00 stop-color=#c84c4e /><stop offset=.03 stop-color=#ec5d4f /><stop offset=.11 stop-color=#f7e044 /><stop offset=.26 stop-color=#23b5e6 /><stop offset=.37 stop-color=#27c /><stop offset=.66 stop-color=#093eac /><stop offset=1.00 stop-color=#15b /></linearGradient><linearGradient id=g316 gradientUnits=userSpaceOnUse x1=116 x2=479><stop offset=.00 stop-color=#c64c4e /><stop offset=.03 stop-color=#eb5a4f /><stop offset=.11 stop-color=#f7dd45 /><stop offset=.20 stop-color=#76caa2 /><stop offset=.26 stop-color=#24b8e7 /><stop offset=.40 stop-color=#206ec6 /><stop offset=.69 stop-color=#0442af /><stop offset=1.00 stop-color=#0b5ec0 /></linearGradient><linearGradient id=g317 gradientUnits=userSpaceOnUse x1=108 x2=472><stop offset=.00 stop-color=#c54c4e /><stop offset=.03 stop-color=#eb5850 /><stop offset=.11 stop-color=#f7da45 /><stop offset=.17 stop-color=#a8d67a /><stop offset=.26 stop-color=#29bae2 /><stop offset=.40 stop-color=#1f71c9 /><stop offset=.66 stop-color=#0447b2 /><stop offset=1.00 stop-color=#0964c3 /></linearGradient><linearGradient id=g318 gradientUnits=userSpaceOnUse x1=101 x2=464><stop offset=.00 stop-color=#c34c4e /><stop offset=.03 stop-color=#eb5750 /><stop offset=.11 stop-color=#f7d845 /><stop offset=.14 stop-color=#dce256 /><stop offset=.26 stop-color=#3bd /><stop offset=.40 stop-color=#27c /><stop offset=.66 stop-color=#034db6 /><stop offset=1.00 stop-color=#0669c7 /></linearGradient><linearGradient id=g319 gradientUnits=userSpaceOnUse x1=93 x2=457><stop offset=.00 stop-color=#c34c4e /><stop offset=.03 stop-color=#ea5550 /><stop offset=.11 stop-color=#f7d545 /><stop offset=.14 stop-color=#e0e353 /><stop offset=.26 stop-color=#36bcd7 /><stop offset=.29 stop-color=#22b0e4 /><stop offset=.46 stop-color=#1a6ac5 /><stop offset=.69 stop-color=#05b /><stop offset=1.00 stop-color=#0472cc /></linearGradient><linearGradient id=g320 gradientUnits=userSpaceOnUse x1=1764 x2=2128><stop offset=.00 stop-color=#168ad5 /><stop offset=.03 stop-color=#09d /><stop offset=.06 stop-color=#1ab3d1 /><stop offset=.14 stop-color=#dd4 /><stop offset=.17 stop-color=#f6d13b /><stop offset=.23 stop-color=#f69c30 /><stop offset=.29 stop-color=#f58f1f /><stop offset=.34 stop-color=#f5c023 /><stop offset=.37 stop-color=#f4e632 /><stop offset=.43 stop-color=#8c9 /><stop offset=.46 stop-color=#6cc /><stop offset=.49 stop-color=#53c1ea /><stop offset=.54 stop-color=#53a1dd /><stop offset=.60 stop-color=#237ed0 /><stop offset=.66 stop-color=#1290d7 /><stop offset=.69 stop-color=#0ad /><stop offset=.71 stop-color=#3bb /><stop offset=.80 stop-color=#f6e634 /><stop offset=.86 stop-color=#f6ab3a /><stop offset=.91 stop-color=#f5922d /><stop offset=.94 stop-color=#f5941e /><stop offset=1.00 stop-color=#f6cf2a /></linearGradient><linearGradient id=g321 gradientUnits=userSpaceOnUse x1=1756 x2=2121><stop offset=.00 stop-color=#17c /><stop offset=.03 stop-color=#0285d3 /><stop offset=.06 stop-color=#05a9e1 /><stop offset=.14 stop-color=#dd4 /><stop offset=.17 stop-color=#f6cf39 /><stop offset=.26 stop-color=#f27c31 /><stop offset=.29 stop-color=#e72 /><stop offset=.34 stop-color=#f5a623 /><stop offset=.37 stop-color=#f6d130 /><stop offset=.40 stop-color=#d3de4a /><stop offset=.46 stop-color=#67cac6 /><stop offset=.49 stop-color=#4fc0e9 /><stop offset=.54 stop-color=#59d /><stop offset=.63 stop-color=#156fc8 /><stop offset=.69 stop-color=#0392d8 /><stop offset=.71 stop-color=#14b2d6 /><stop offset=.80 stop-color=#f3e633 /><stop offset=.86 stop-color=#f6a33f /><stop offset=.89 stop-color=#f38431 /><stop offset=.94 stop-color=#e72 /><stop offset=1.00 stop-color=#f6b62a /></linearGradient><linearGradient id=g322 gradientUnits=userSpaceOnUse x1=1748 x2=2113><stop offset=.00 stop-color=#1669c4 /><stop offset=.03 stop-color=#0070cb /><stop offset=.06 stop-color=#09d /><stop offset=.09 stop-color=#28b7c9 /><stop offset=.14 stop-color=#cedd4d /><stop offset=.17 stop-color=#f6d035 /><stop offset=.23 stop-color=#f3853d /><stop offset=.29 stop-color=#ed5b28 /><stop offset=.31 stop-color=#e62 /><stop offset=.40 stop-color=#f0e534 /><stop offset=.46 stop-color=#6ecbb9 /><stop offset=.49 stop-color=#49c0e9 /><stop offset=.57 stop-color=#508ad0 /><stop offset=.63 stop-color=#1662c0 /><stop offset=.69 stop-color=#017dd0 /><stop offset=.71 stop-color=#04a5e0 /><stop offset=.80 stop-color=#ebe438 /><stop offset=.89 stop-color=#e73 /><stop offset=.94 stop-color=#e52 /><stop offset=.97 stop-color=#f0701f /><stop offset=1.00 stop-color=#f69d2a /></linearGradient><linearGradient id=g323 gradientUnits=userSpaceOnUse x1=1741 x2=2106><stop offset=.00 stop-color=#175cbc /><stop offset=.03 stop-color=#015fc2 /><stop offset=.09 stop-color=#0ab0e4 /><stop offset=.14 stop-color=#bed95a /><stop offset=.17 stop-color=#f6d532 /><stop offset=.23 stop-color=#f17e3f /><stop offset=.26 stop-color=#e53 /><stop offset=.31 stop-color=#e42 /><stop offset=.37 stop-color=#f6a030 /><stop offset=.40 stop-color=#f6d430 /><stop offset=.43 stop-color=#c1db5f /><stop offset=.49 stop-color=#43c3eb /><stop offset=.57 stop-color=#58c /><stop offset=.63 stop-color=#1856b9 /><stop offset=.69 stop-color=#0068c7 /><stop offset=.71 stop-color=#0390d8 /><stop offset=.74 stop-color=#3bc /><stop offset=.80 stop-color=#dd4 /><stop offset=.83 stop-color=#f6c236 /><stop offset=.91 stop-color=#eb5033 /><stop offset=.94 stop-color=#e83e22 /><stop offset=.97 stop-color=#e52 /><stop offset=1.00 stop-color=#f3802b /></linearGradient><linearGradient id=g324 gradientUnits=userSpaceOnUse x1=1733 x2=2098><stop offset=.00 stop-color=#1850b5 /><stop offset=.03 stop-color=#05b /><stop offset=.06 stop-color=#06c /><stop offset=.09 stop-color=#089cdc /><stop offset=.11 stop-color=#4cc0b6 /><stop offset=.17 stop-color=#f6de30 /><stop offset=.23 stop-color=#f1783e /><stop offset=.26 stop-color=#ea4c36 /><stop offset=.31 stop-color=#e52c23 /><stop offset=.34 stop-color=#eb4d26 /><stop offset=.40 stop-color=#f6bc30 /><stop offset=.43 stop-color=#dd4 /><stop offset=.49 stop-color=#4ac4de /><stop offset=.57 stop-color=#58c /><stop offset=.60 stop-color=#4771c2 /><stop offset=.63 stop-color=#1b4db3 /><stop offset=.69 stop-color=#05b /><stop offset=.71 stop-color=#07c /><stop offset=.74 stop-color=#10b2e5 /><stop offset=.80 stop-color=#cbdc50 /><stop offset=.83 stop-color=#f6c732 /><stop offset=.89 stop-color=#ee683e /><stop offset=.94 stop-color=#e52a26 /><stop offset=.97 stop-color=#e73422 /><stop offset=1.00 stop-color=#ee622c /></linearGradient><linearGradient id=g325 gradientUnits=userSpaceOnUse x1=1725 x2=2090><stop offset=.00 stop-color=#1a47ac /><stop offset=.03 stop-color=#0645b1 /><stop offset=.06 stop-color=#015bbf /><stop offset=.09 stop-color=#0787d4 /><stop offset=.11 stop-color=#2db9d1 /><stop offset=.17 stop-color=#efe535 /><stop offset=.26 stop-color=#e94639 /><stop offset=.31 stop-color=#d72122 /><stop offset=.34 stop-color=#e63027 /><stop offset=.43 stop-color=#f6e233 /><stop offset=.49 stop-color=#56c6ce /><stop offset=.51 stop-color=#4ad /><stop offset=.57 stop-color=#5481ca /><stop offset=.60 stop-color=#4d71bf /><stop offset=.63 stop-color=#2850ae /><stop offset=.69 stop-color=#034bb5 /><stop offset=.71 stop-color=#0067c7 /><stop offset=.74 stop-color=#0f9edd /><stop offset=.77 stop-color=#53c1b1 /><stop offset=.80 stop-color=#b5d761 /><stop offset=.83 stop-color=#f6d230 /><stop offset=.91 stop-color=#e63535 /><stop offset=.97 stop-color=#d22 /><stop offset=1.00 stop-color=#e9452e /></linearGradient><linearGradient id=g326 gradientUnits=userSpaceOnUse x1=1718 x2=2083><stop offset=.00 stop-color=#1c42a1 /><stop offset=.03 stop-color=#0c3da8 /><stop offset=.06 stop-color=#034db6 /><stop offset=.09 stop-color=#0672cc /><stop offset=.11 stop-color=#16afe4 /><stop offset=.17 stop-color=#dd4 /><stop offset=.20 stop-color=#f6b530 /><stop offset=.26 stop-color=#e84239 /><stop offset=.31 stop-color=#c61e20 /><stop offset=.34 stop-color=#d62425 /><stop offset=.37 stop-color=#ea4b33 /><stop offset=.43 stop-color=#f6ca32 /><stop offset=.46 stop-color=#bd6 /><stop offset=.49 stop-color=#6cb /><stop offset=.51 stop-color=#3dafe3 /><stop offset=.57 stop-color=#517ec9 /><stop offset=.60 stop-color=#5071bc /><stop offset=.66 stop-color=#1b43a4 /><stop offset=.69 stop-color=#053ead /><stop offset=.71 stop-color=#05b /><stop offset=.74 stop-color=#0d8ad5 /><stop offset=.77 stop-color=#3bc /><stop offset=.83 stop-color=#f6e030 /><stop offset=.89 stop-color=#ed6239 /><stop offset=.91 stop-color=#d33 /><stop offset=.97 stop-color=#c22 /><stop offset=1.00 stop-color=#e22e2f /></linearGradient><linearGradient id=g327 gradientUnits=userSpaceOnUse x1=1710 x2=2075><stop offset=.00 stop-color=#1e3e98 /><stop offset=.06 stop-color=#04a /><stop offset=.09 stop-color=#0662c3 /><stop offset=.11 stop-color=#19d /><stop offset=.14 stop-color=#55c2b1 /><stop offset=.17 stop-color=#bd5 /><stop offset=.20 stop-color=#f6c330 /><stop offset=.26 stop-color=#e84137 /><stop offset=.31 stop-color=#b91c1e /><stop offset=.34 stop-color=#c22022 /><stop offset=.37 stop-color=#e33434 /><stop offset=.43 stop-color=#f6b132 /><stop offset=.46 stop-color=#dde14e /><stop offset=.49 stop-color=#7ecda1 /><stop offset=.51 stop-color=#39b7e6 /><stop offset=.54 stop-color=#408ed5 /><stop offset=.60 stop-color=#4f6fba /><stop offset=.66 stop-color=#1d3e9a /><stop offset=.69 stop-color=#0735a1 /><stop offset=.71 stop-color=#034bb5 /><stop offset=.77 stop-color=#18b2e5 /><stop offset=.83 stop-color=#e7e33b /><stop offset=.86 stop-color=#f6a830 /><stop offset=.91 stop-color=#d33 /><stop offset=.97 stop-color=#b91c1e /><stop offset=1.00 stop-color=#ce2b2c /></linearGradient><linearGradient id=g328 gradientUnits=userSpaceOnUse x1=1702 x2=2067><stop offset=.00 stop-color=#2b4497 /><stop offset=.06 stop-color=#0636a3 /><stop offset=.09 stop-color=#0754ba /><stop offset=.11 stop-color=#1387d4 /><stop offset=.14 stop-color=#3bc /><stop offset=.17 stop-color=#a3d36e /><stop offset=.20 stop-color=#f6d430 /><stop offset=.26 stop-color=#e94434 /><stop offset=.31 stop-color=#af1a1d /><stop offset=.34 stop-color=#b11b1e /><stop offset=.40 stop-color=#ea4f33 /><stop offset=.46 stop-color=#f6e33a /><stop offset=.51 stop-color=#3bc0e3 /><stop offset=.57 stop-color=#47c /><stop offset=.63 stop-color=#435ca6 /><stop offset=.66 stop-color=#1f3a92 /><stop offset=.69 stop-color=#092f94 /><stop offset=.71 stop-color=#053dac /><stop offset=.77 stop-color=#169edd /><stop offset=.80 stop-color=#5ec4a8 /><stop offset=.83 stop-color=#cddd4f /><stop offset=.86 stop-color=#f6b730 /><stop offset=.91 stop-color=#d33 /><stop offset=.97 stop-color=#ad1a1d /><stop offset=1.00 stop-color=#bc282a /></linearGradient><linearGradient id=g329 gradientUnits=userSpaceOnUse x1=1695 x2=2060><stop offset=.00 stop-color=#344997 /><stop offset=.06 stop-color=#093096 /><stop offset=.09 stop-color=#0947b2 /><stop offset=.14 stop-color=#19b1e5 /><stop offset=.20 stop-color=#f5e631 /><stop offset=.26 stop-color=#ea4d33 /><stop offset=.31 stop-color=#a22 /><stop offset=.34 stop-color=#a4181c /><stop offset=.40 stop-color=#e63535 /><stop offset=.46 stop-color=#f6cb3a /><stop offset=.49 stop-color=#b5d971 /><stop offset=.51 stop-color=#51c4cc /><stop offset=.54 stop-color=#39d /><stop offset=.60 stop-color=#46b /><stop offset=.63 stop-color=#445ba5 /><stop offset=.66 stop-color=#21388c /><stop offset=.69 stop-color=#102d8b /><stop offset=.71 stop-color=#0735a0 /><stop offset=.77 stop-color=#158ad5 /><stop offset=.80 stop-color=#3dbdc6 /><stop offset=.83 stop-color=#afd665 /><stop offset=.86 stop-color=#f6c930 /><stop offset=.91 stop-color=#e63535 /><stop offset=.97 stop-color=#a4181c /><stop offset=1.00 stop-color=#ad2528 /></linearGradient><linearGradient id=g330 gradientUnits=userSpaceOnUse x1=1687 x2=2052><stop offset=.00 stop-color=#384c97 /><stop offset=.06 stop-color=#0b2a8b /><stop offset=.09 stop-color=#0a3ca9 /><stop offset=.14 stop-color=#179edd /><stop offset=.17 stop-color=#62c5a4 /><stop offset=.20 stop-color=#d7df47 /><stop offset=.23 stop-color=#f6ab30 /><stop offset=.26 stop-color=#ec5c33 /><stop offset=.29 stop-color=#c33 /><stop offset=.31 stop-color=#a22 /><stop offset=.34 stop-color=#9b171b /><stop offset=.40 stop-color=#d33132 /><stop offset=.43 stop-color=#ee6438 /><stop offset=.46 stop-color=#f6b43a /><stop offset=.49 stop-color=#d4e059 /><stop offset=.51 stop-color=#6bc9b2 /><stop offset=.54 stop-color=#3ad /><stop offset=.60 stop-color=#3f65ba /><stop offset=.63 stop-color=#4159a4 /><stop offset=.69 stop-color=#172f86 /><stop offset=.71 stop-color=#092f94 /><stop offset=.77 stop-color=#17c /><stop offset=.80 stop-color=#1bb6e5 /><stop offset=.83 stop-color=#8fce7d /><stop offset=.86 stop-color=#f6dd30 /><stop offset=.91 stop-color=#e84034 /><stop offset=.97 stop-color=#a0171b /><stop offset=1.00 stop-color=#a22226 /></linearGradient><linearGradient id=g331 gradientUnits=userSpaceOnUse x1=1680 x2=2044><stop offset=.00 stop-color=#384b97 /><stop offset=.06 stop-color=#0c2682 /><stop offset=.09 stop-color=#0b359c /><stop offset=.14 stop-color=#168ad5 /><stop offset=.17 stop-color=#40bec3 /><stop offset=.20 stop-color=#b7d85f /><stop offset=.23 stop-color=#f6bf30 /><stop offset=.26 stop-color=#ef6e32 /><stop offset=.29 stop-color=#d33 /><stop offset=.31 stop-color=#ae2427 /><stop offset=.34 stop-color=#96161a /><stop offset=.40 stop-color=#c33032 /><stop offset=.43 stop-color=#ea4d3b /><stop offset=.49 stop-color=#f4e741 /><stop offset=.51 stop-color=#8c9 /><stop offset=.54 stop-color=#30b3e5 /><stop offset=.57 stop-color=#3180cf /><stop offset=.63 stop-color=#3c56a4 /><stop offset=.69 stop-color=#1d3083 /><stop offset=.71 stop-color=#0b2a8a /><stop offset=.77 stop-color=#156ac5 /><stop offset=.80 stop-color=#18a3df /><stop offset=.83 stop-color=#6dc79a /><stop offset=.86 stop-color=#e4e23d /><stop offset=.89 stop-color=#f6a130 /><stop offset=.91 stop-color=#eb5033 /><stop offset=.97 stop-color=#9f171b /><stop offset=1.00 stop-color=#922 /></linearGradient><linearGradient id=g332 gradientUnits=userSpaceOnUse x1=1672 x2=2037><stop offset=.00 stop-color=#344a97 /><stop offset=.06 stop-color=#127 /><stop offset=.09 stop-color=#0c2f91 /><stop offset=.14 stop-color=#17c /><stop offset=.17 stop-color=#2bd /><stop offset=.20 stop-color=#9c7 /><stop offset=.23 stop-color=#f6d530 /><stop offset=.29 stop-color=#e63535 /><stop offset=.34 stop-color=#95161a /><stop offset=.40 stop-color=#b63134 /><stop offset=.43 stop-color=#e43e3f /><stop offset=.49 stop-color=#f6d340 /><stop offset=.51 stop-color=#a6d57e /><stop offset=.54 stop-color=#3abfde /><stop offset=.60 stop-color=#36b /><stop offset=.69 stop-color=#203181 /><stop offset=.71 stop-color=#0c2582 /><stop offset=.77 stop-color=#165ebe /><stop offset=.80 stop-color=#168fd7 /><stop offset=.83 stop-color=#4bc0b9 /><stop offset=.86 stop-color=#c4da56 /><stop offset=.89 stop-color=#f6b630 /><stop offset=.91 stop-color=#e63 /><stop offset=.94 stop-color=#d13031 /><stop offset=.97 stop-color=#a3181c /><stop offset=1.00 stop-color=#94191d /></linearGradient><linearGradient id=g333 gradientUnits=userSpaceOnUse x1=1664 x2=2029><stop offset=.00 stop-color=#2e4899 /><stop offset=.06 stop-color=#127 /><stop offset=.09 stop-color=#0b2988 /><stop offset=.14 stop-color=#156bc6 /><stop offset=.17 stop-color=#18a5e0 /><stop offset=.20 stop-color=#74c894 /><stop offset=.23 stop-color=#ece437 /><stop offset=.26 stop-color=#f69a30 /><stop offset=.29 stop-color=#e94734 /><stop offset=.34 stop-color=#99161a /><stop offset=.40 stop-color=#a33 /><stop offset=.43 stop-color=#d54041 /><stop offset=.46 stop-color=#ef7143 /><stop offset=.49 stop-color=#f7be41 /><stop offset=.51 stop-color=#c5dd66 /><stop offset=.54 stop-color=#57c5c2 /><stop offset=.57 stop-color=#2b97da /><stop offset=.63 stop-color=#35a /><stop offset=.69 stop-color=#223181 /><stop offset=.71 stop-color=#0d237c /><stop offset=.77 stop-color=#1854b7 /><stop offset=.80 stop-color=#157dd0 /><stop offset=.83 stop-color=#2ab9d7 /><stop offset=.86 stop-color=#a2d36f /><stop offset=.89 stop-color=#f6cd30 /><stop offset=.94 stop-color=#d33 /><stop offset=.97 stop-color=#ac1c1f /><stop offset=1.00 stop-color=#93151a /></linearGradient><linearGradient id=g334 gradientUnits=userSpaceOnUse x1=1657 x2=2021><stop offset=.00 stop-color=#28479e /><stop offset=.06 stop-color=#127 /><stop offset=.09 stop-color=#0c2682 /><stop offset=.14 stop-color=#1760bf /><stop offset=.17 stop-color=#1793d8 /><stop offset=.20 stop-color=#52c1b3 /><stop offset=.23 stop-color=#cbdc50 /><stop offset=.26 stop-color=#f6b130 /><stop offset=.29 stop-color=#ed5d33 /><stop offset=.31 stop-color=#cc2a2b /><stop offset=.34 stop-color=#a1171b /><stop offset=.37 stop-color=#99262a /><stop offset=.43 stop-color=#c44 /><stop offset=.46 stop-color=#ec6048 /><stop offset=.49 stop-color=#f7ab44 /><stop offset=.51 stop-color=#e4e450 /><stop offset=.54 stop-color=#7ca /><stop offset=.57 stop-color=#2aa7e0 /><stop offset=.60 stop-color=#2773c8 /><stop offset=.66 stop-color=#274094 /><stop offset=.71 stop-color=#127 /><stop offset=.80 stop-color=#156fc9 /><stop offset=.83 stop-color=#18ace2 /><stop offset=.89 stop-color=#f6e530 /><stop offset=.94 stop-color=#e83f32 /><stop offset=.97 stop-color=#b22 /><stop offset=1.00 stop-color=#97161a /></linearGradient><linearGradient id=g335 gradientUnits=userSpaceOnUse x1=1649 x2=2014><stop offset=.00 stop-color=#2248a5 /><stop offset=.06 stop-color=#182a7d /><stop offset=.09 stop-color=#0d247f /><stop offset=.14 stop-color=#1857b9 /><stop offset=.17 stop-color=#1582d1 /><stop offset=.20 stop-color=#3bc /><stop offset=.23 stop-color=#a9d46a /><stop offset=.26 stop-color=#f6c930 /><stop offset=.31 stop-color=#dd2d2d /><stop offset=.34 stop-color=#ac191d /><stop offset=.37 stop-color=#9c2428 /><stop offset=.43 stop-color=#c44749 /><stop offset=.46 stop-color=#ea544d /><stop offset=.51 stop-color=#f7e144 /><stop offset=.54 stop-color=#95d28b /><stop offset=.57 stop-color=#2ab8e7 /><stop offset=.60 stop-color=#237ccf /><stop offset=.66 stop-color=#249 /><stop offset=.71 stop-color=#127 /><stop offset=.80 stop-color=#1665c2 /><stop offset=.83 stop-color=#179adb /><stop offset=.86 stop-color=#5ec4a8 /><stop offset=.89 stop-color=#d6df48 /><stop offset=.91 stop-color=#f6aa30 /><stop offset=.94 stop-color=#e53 /><stop offset=.97 stop-color=#c22 /><stop offset=1.00 stop-color=#a0171b /></linearGradient><linearGradient id=g336 gradientUnits=userSpaceOnUse x1=1641 x2=2006><stop offset=.00 stop-color=#1d4bae /><stop offset=.06 stop-color=#1a2e82 /><stop offset=.09 stop-color=#0d247e /><stop offset=.14 stop-color=#1850b5 /><stop offset=.17 stop-color=#17c /><stop offset=.20 stop-color=#19b1e5 /><stop offset=.26 stop-color=#f6e230 /><stop offset=.31 stop-color=#e83c2d /><stop offset=.34 stop-color=#bb1c1e /><stop offset=.37 stop-color=#a22125 /><stop offset=.40 stop-color=#a33 /><stop offset=.46 stop-color=#e55252 /><stop offset=.51 stop-color=#f7ce47 /><stop offset=.54 stop-color=#b4d975 /><stop offset=.57 stop-color=#45c0cf /><stop offset=.60 stop-color=#228cd5 /><stop offset=.66 stop-color=#1d43a2 /><stop offset=.69 stop-color=#238 /><stop offset=.71 stop-color=#127 /><stop offset=.80 stop-color=#175cbd /><stop offset=.83 stop-color=#1689d5 /><stop offset=.86 stop-color=#3ebdc5 /><stop offset=.89 stop-color=#b4d761 /><stop offset=.91 stop-color=#f6c230 /><stop offset=.97 stop-color=#db2627 /><stop offset=1.00 stop-color=#ad1a1d /></linearGradient><linearGradient id=g337 gradientUnits=userSpaceOnUse x1=1634 x2=1999><stop offset=.00 stop-color=#1952b6 /><stop offset=.09 stop-color=#0d2580 /><stop offset=.14 stop-color=#194ab1 /><stop offset=.17 stop-color=#166ac6 /><stop offset=.20 stop-color=#18a1de /><stop offset=.23 stop-color=#67c6a0 /><stop offset=.26 stop-color=#dd4 /><stop offset=.29 stop-color=#f6aa2f /><stop offset=.31 stop-color=#ec562c /><stop offset=.34 stop-color=#c22 /><stop offset=.37 stop-color=#ab1d20 /><stop offset=.40 stop-color=#a82c30 /><stop offset=.43 stop-color=#c04e50 /><stop offset=.46 stop-color=#d55 /><stop offset=.49 stop-color=#f17d52 /><stop offset=.51 stop-color=#f7be4b /><stop offset=.54 stop-color=#d1e061 /><stop offset=.57 stop-color=#65c7b3 /><stop offset=.60 stop-color=#229edd /><stop offset=.66 stop-color=#1a48ad /><stop offset=.69 stop-color=#1e3b94 /><stop offset=.71 stop-color=#0d247f /><stop offset=.77 stop-color=#1c419f /><stop offset=.83 stop-color=#17c /><stop offset=.86 stop-color=#2bd /><stop offset=.89 stop-color=#93cf7a /><stop offset=.91 stop-color=#f6db30 /><stop offset=.97 stop-color=#e73628 /><stop offset=1.00 stop-color=#be1c1f /></linearGradient><linearGradient id=g338 gradientUnits=userSpaceOnUse x1=1626 x2=1991><stop offset=.00 stop-color=#175dbd /><stop offset=.09 stop-color=#0c2784 /><stop offset=.14 stop-color=#1a48ad /><stop offset=.20 stop-color=#1692d8 /><stop offset=.23 stop-color=#4bb /><stop offset=.26 stop-color=#b9d85e /><stop offset=.29 stop-color=#f6c32f /><stop offset=.34 stop-color=#e32323 /><stop offset=.37 stop-color=#ba1c1e /><stop offset=.40 stop-color=#af2b2e /><stop offset=.43 stop-color=#c24e51 /><stop offset=.49 stop-color=#e75 /><stop offset=.54 stop-color=#ece650 /><stop offset=.60 stop-color=#24b1e4 /><stop offset=.63 stop-color=#1875cc /><stop offset=.69 stop-color=#1c419f /><stop offset=.71 stop-color=#0e2b88 /><stop offset=.74 stop-color=#0c2886 /><stop offset=.77 stop-color=#1d409e /><stop offset=.83 stop-color=#1571ca /><stop offset=.86 stop-color=#18a9e1 /><stop offset=.89 stop-color=#7c9 /><stop offset=.91 stop-color=#e3e23e /><stop offset=.94 stop-color=#f6a62e /><stop offset=.97 stop-color=#eb5227 /><stop offset=1.00 stop-color=#d12021 /></linearGradient><linearGradient id=g339 gradientUnits=userSpaceOnUse x1=1618 x2=1983><stop offset=.00 stop-color=#166ac5 /><stop offset=.09 stop-color=#0b2a8b /><stop offset=.14 stop-color=#1b47ab /><stop offset=.20 stop-color=#1685d3 /><stop offset=.23 stop-color=#2cb9d5 /><stop offset=.26 stop-color=#9c7 /><stop offset=.29 stop-color=#f6dc2f /><stop offset=.34 stop-color=#e83f22 /><stop offset=.37 stop-color=#c22 /><stop offset=.40 stop-color=#bc2d30 /><stop offset=.46 stop-color=#dc5f60 /><stop offset=.49 stop-color=#ef735e /><stop offset=.54 stop-color=#f7e14c /><stop offset=.57 stop-color=#a2d583 /><stop offset=.60 stop-color=#37bdd7 /><stop offset=.63 stop-color=#1987d4 /><stop offset=.69 stop-color=#1a47ab /><stop offset=.74 stop-color=#0b2a8b /><stop offset=.77 stop-color=#1c409e /><stop offset=.83 stop-color=#166ac6 /><stop offset=.86 stop-color=#179bdc /><stop offset=.89 stop-color=#55c2b0 /><stop offset=.91 stop-color=#c2da57 /><stop offset=.94 stop-color=#f6bf2e /><stop offset=1.00 stop-color=#e52723 /></linearGradient><linearGradient id=g340 gradientUnits=userSpaceOnUse x1=1611 x2=1976><stop offset=.00 stop-color=#17c /><stop offset=.09 stop-color=#092f95 /><stop offset=.17 stop-color=#1c5ebd /><stop offset=.20 stop-color=#167ccf /><stop offset=.23 stop-color=#19b2e5 /><stop offset=.29 stop-color=#e2e13e /><stop offset=.31 stop-color=#f5ab29 /><stop offset=.37 stop-color=#e32323 /><stop offset=.40 stop-color=#c33 /><stop offset=.46 stop-color=#de6161 /><stop offset=.49 stop-color=#e76 /><stop offset=.54 stop-color=#f7d450 /><stop offset=.57 stop-color=#bddb72 /><stop offset=.60 stop-color=#57c4bc /><stop offset=.63 stop-color=#1a9bdb /><stop offset=.66 stop-color=#156bc6 /><stop offset=.71 stop-color=#0e389e /><stop offset=.74 stop-color=#092e93 /><stop offset=.80 stop-color=#1d4fb4 /><stop offset=.86 stop-color=#168fd7 /><stop offset=.89 stop-color=#3abcc9 /><stop offset=.91 stop-color=#a2d36f /><stop offset=.94 stop-color=#f6d82e /><stop offset=1.00 stop-color=#e94421 /></linearGradient><linearGradient id=g341 gradientUnits=userSpaceOnUse x1=1603 x2=1968><stop offset=.00 stop-color=#168cd6 /><stop offset=.09 stop-color=#0735a0 /><stop offset=.17 stop-color=#2060be /><stop offset=.20 stop-color=#1a77cd /><stop offset=.23 stop-color=#18a6e0 /><stop offset=.26 stop-color=#5fc4a7 /><stop offset=.29 stop-color=#c2da56 /><stop offset=.31 stop-color=#f5c429 /><stop offset=.37 stop-color=#e93f22 /><stop offset=.40 stop-color=#d33 /><stop offset=.43 stop-color=#d53f40 /><stop offset=.46 stop-color=#e36061 /><stop offset=.51 stop-color=#f59d60 /><stop offset=.54 stop-color=#f7ca56 /><stop offset=.57 stop-color=#d4e164 /><stop offset=.63 stop-color=#1caee3 /><stop offset=.66 stop-color=#17c /><stop offset=.71 stop-color=#0c3fac /><stop offset=.74 stop-color=#07339d /><stop offset=.80 stop-color=#1e51b5 /><stop offset=.86 stop-color=#1887d4 /><stop offset=.89 stop-color=#2bd /><stop offset=.94 stop-color=#e7e239 /><stop offset=.97 stop-color=#f5a924 /><stop offset=1.00 stop-color=#e62 /></linearGradient><linearGradient id=g342 gradientUnits=userSpaceOnUse x1=1595 x2=1960><stop offset=.00 stop-color=#17a0de /><stop offset=.06 stop-color=#15b /><stop offset=.09 stop-color=#053dac /><stop offset=.14 stop-color=#194cb2 /><stop offset=.20 stop-color=#27c /><stop offset=.23 stop-color=#189ddc /><stop offset=.26 stop-color=#4bb /><stop offset=.31 stop-color=#f5de29 /><stop offset=.37 stop-color=#ee5e20 /><stop offset=.43 stop-color=#e33737 /><stop offset=.46 stop-color=#ea5e5e /><stop offset=.51 stop-color=#f59d66 /><stop offset=.57 stop-color=#e8e65a /><stop offset=.60 stop-color=#91d18e /><stop offset=.63 stop-color=#2fbbd8 /><stop offset=.66 stop-color=#168ed6 /><stop offset=.71 stop-color=#0b4bb4 /><stop offset=.74 stop-color=#053aa9 /><stop offset=.83 stop-color=#236bc4 /><stop offset=.89 stop-color=#19b0e4 /><stop offset=.94 stop-color=#c8db50 /><stop offset=.97 stop-color=#f5c324 /><stop offset=1.00 stop-color=#f4831e /></linearGradient><linearGradient id=g343 gradientUnits=userSpaceOnUse x1=1588 x2=1953><stop offset=.00 stop-color=#19b3e5 /><stop offset=.09 stop-color=#0349b4 /><stop offset=.11 stop-color=#0441af /><stop offset=.20 stop-color=#27c /><stop offset=.23 stop-color=#1c98da /><stop offset=.26 stop-color=#3bc /><stop offset=.31 stop-color=#e0e039 /><stop offset=.34 stop-color=#f5b51e /><stop offset=.37 stop-color=#f37e1f /><stop offset=.43 stop-color=#e94634 /><stop offset=.49 stop-color=#f18369 /><stop offset=.57 stop-color=#f7ea55 /><stop offset=.63 stop-color=#4fc1be /><stop offset=.66 stop-color=#18a1de /><stop offset=.71 stop-color=#0a59bc /><stop offset=.74 stop-color=#0445b1 /><stop offset=.80 stop-color=#1855b8 /><stop offset=.86 stop-color=#2183d2 /><stop offset=.89 stop-color=#19a8e1 /><stop offset=.91 stop-color=#54c2b1 /><stop offset=.97 stop-color=#f5dd24 /><stop offset=1.00 stop-color=#f5a01e /></linearGradient><linearGradient id=g344 gradientUnits=userSpaceOnUse x1=1580 x2=1945><stop offset=.00 stop-color=#3bc /><stop offset=.03 stop-color=#179adb /><stop offset=.09 stop-color=#05b /><stop offset=.11 stop-color=#034db6 /><stop offset=.20 stop-color=#267dce /><stop offset=.26 stop-color=#2bd /><stop offset=.31 stop-color=#c2d950 /><stop offset=.34 stop-color=#f5cf1e /><stop offset=.40 stop-color=#f1772c /><stop offset=.43 stop-color=#ed6033 /><stop offset=.49 stop-color=#e86 /><stop offset=.57 stop-color=#f8e45a /><stop offset=.60 stop-color=#bd7 /><stop offset=.66 stop-color=#19b4e5 /><stop offset=.71 stop-color=#0967c5 /><stop offset=.77 stop-color=#0c51b7 /><stop offset=.86 stop-color=#2585d3 /><stop offset=.89 stop-color=#1ca4df /><stop offset=.91 stop-color=#42bec1 /><stop offset=.97 stop-color=#dd3 /><stop offset=1.00 stop-color=#f5ba1e /></linearGradient><linearGradient id=g345 gradientUnits=userSpaceOnUse x1=1573 x2=1937><stop offset=.00 stop-color=#51c1b7 /><stop offset=.03 stop-color=#18ace3 /><stop offset=.09 stop-color=#0065c6 /><stop offset=.11 stop-color=#025abe /><stop offset=.17 stop-color=#1669c5 /><stop offset=.23 stop-color=#29d /><stop offset=.26 stop-color=#1bb6e5 /><stop offset=.34 stop-color=#efe322 /><stop offset=.40 stop-color=#f6952a /><stop offset=.43 stop-color=#e73 /><stop offset=.46 stop-color=#f17d46 /><stop offset=.51 stop-color=#f7ac6b /><stop offset=.57 stop-color=#f8e160 /><stop offset=.60 stop-color=#cee06f /><stop offset=.66 stop-color=#3bc /><stop offset=.69 stop-color=#179edd /><stop offset=.74 stop-color=#0160c2 /><stop offset=.80 stop-color=#1665c2 /><stop offset=.86 stop-color=#2789d4 /><stop offset=.89 stop-color=#20a3de /><stop offset=.91 stop-color=#3bc /><stop offset=.97 stop-color=#c2d94a /><stop offset=1.00 stop-color=#f5d41e /></linearGradient><linearGradient id=g346 gradientUnits=userSpaceOnUse x1=1565 x2=1930><stop offset=.00 stop-color=#6bc7a3 /><stop offset=.03 stop-color=#27b8d9 /><stop offset=.09 stop-color=#07c /><stop offset=.11 stop-color=#0067c7 /><stop offset=.20 stop-color=#2285d2 /><stop offset=.26 stop-color=#1db5e6 /><stop offset=.34 stop-color=#d1dc39 /><stop offset=.37 stop-color=#f5d01e /><stop offset=.43 stop-color=#f69830 /><stop offset=.46 stop-color=#f5903e /><stop offset=.51 stop-color=#f8b568 /><stop offset=.57 stop-color=#f8e164 /><stop offset=.60 stop-color=#d8e36d /><stop offset=.66 stop-color=#4ec0b7 /><stop offset=.69 stop-color=#19b1e4 /><stop offset=.74 stop-color=#0171cb /><stop offset=.77 stop-color=#0064c5 /><stop offset=.83 stop-color=#1675cc /><stop offset=.89 stop-color=#23a4df /><stop offset=.91 stop-color=#2cb9d5 /><stop offset=1.00 stop-color=#ed2 /></linearGradient><linearGradient id=g347 gradientUnits=userSpaceOnUse x1=1557 x2=1922><stop offset=.00 stop-color=#81cc94 /><stop offset=.06 stop-color=#13aee3 /><stop offset=.11 stop-color=#017ccf /><stop offset=.20 stop-color=#1b8bd5 /><stop offset=.26 stop-color=#1fb5e6 /><stop offset=.37 stop-color=#efe322 /><stop offset=.46 stop-color=#f6a638 /><stop offset=.51 stop-color=#f8be64 /><stop offset=.57 stop-color=#f8e367 /><stop offset=.60 stop-color=#dee56e /><stop offset=.66 stop-color=#67c6a3 /><stop offset=.69 stop-color=#2ebad3 /><stop offset=.71 stop-color=#0ba1de /><stop offset=.77 stop-color=#07c /><stop offset=.86 stop-color=#2193d8 /><stop offset=.91 stop-color=#2ab9d8 /><stop offset=1.00 stop-color=#ccdb3d /></linearGradient><linearGradient id=g348 gradientUnits=userSpaceOnUse x1=1550 x2=1914><stop offset=.00 stop-color=#92d18a /><stop offset=.06 stop-color=#27b8d4 /><stop offset=.09 stop-color=#04a3df /><stop offset=.14 stop-color=#0f8dd6 /><stop offset=.23 stop-color=#2ad /><stop offset=.26 stop-color=#21b8e5 /><stop offset=.37 stop-color=#d1dc39 /><stop offset=.40 stop-color=#f6e02d /><stop offset=.46 stop-color=#f6bc35 /><stop offset=.54 stop-color=#f8d767 /><stop offset=.57 stop-color=#f8e867 /><stop offset=.63 stop-color=#b4da7f /><stop offset=.69 stop-color=#4bb /><stop offset=.71 stop-color=#10b2e1 /><stop offset=.77 stop-color=#038cd6 /><stop offset=.86 stop-color=#1a9bdb /><stop offset=.91 stop-color=#2dbad7 /><stop offset=1.00 stop-color=#b2d450 /></linearGradient><linearGradient id=g349 gradientUnits=userSpaceOnUse x1=1542 x2=1907><stop offset=.00 stop-color=#9fd485 /><stop offset=.09 stop-color=#12b2d8 /><stop offset=.11 stop-color=#0ad /><stop offset=.23 stop-color=#19aee3 /><stop offset=.26 stop-color=#28b9db /><stop offset=.37 stop-color=#b7d64c /><stop offset=.43 stop-color=#f6e230 /><stop offset=.49 stop-color=#f7d34a /><stop offset=.57 stop-color=#f5ec68 /><stop offset=.63 stop-color=#badc7f /><stop offset=.69 stop-color=#5ec4a8 /><stop offset=.74 stop-color=#07afe2 /><stop offset=.83 stop-color=#18a2de /><stop offset=.89 stop-color=#1bb4e6 /><stop offset=.94 stop-color=#55c2b0 /><stop offset=1.00 stop-color=#9dcf60 /></linearGradient><linearGradient id=g350 gradientUnits=userSpaceOnUse x1=1534 x2=1899><stop offset=.00 stop-color=#a5d683 /><stop offset=.09 stop-color=#3bb /><stop offset=.14 stop-color=#16b4e1 /><stop offset=.23 stop-color=#2bd /><stop offset=.31 stop-color=#64c498 /><stop offset=.37 stop-color=#a3d15f /><stop offset=.46 stop-color=#eee53b /><stop offset=.54 stop-color=#f3eb62 /><stop offset=.63 stop-color=#bbdc80 /><stop offset=.69 stop-color=#6fc798 /><stop offset=.77 stop-color=#13b2d7 /><stop offset=.86 stop-color=#1cb6e3 /><stop offset=.94 stop-color=#57c2ac /><stop offset=1.00 stop-color=#8dcc6c /></linearGradient><linearGradient id=g351 gradientUnits=userSpaceOnUse x1=1527 x2=1892><stop offset=.00 stop-color=#a6d683 /><stop offset=.11 stop-color=#3bbab3 /><stop offset=.20 stop-color=#39bcca /><stop offset=.29 stop-color=#5ac3ac /><stop offset=.37 stop-color=#95cf70 /><stop offset=.46 stop-color=#cd5 /><stop offset=.54 stop-color=#dce56f /><stop offset=.63 stop-color=#b6db83 /><stop offset=.74 stop-color=#4ba /><stop offset=.80 stop-color=#39bcc6 /><stop offset=.89 stop-color=#42bec1 /><stop offset=1.00 stop-color=#81c975 /></linearGradient><linearGradient id=g352 gradientUnits=userSpaceOnUse x1=1519 x2=1884><stop offset=.00 stop-color=#9fd484 /><stop offset=.11 stop-color=#5ac198 /><stop offset=.20 stop-color=#5ac3ac /><stop offset=.31 stop-color=#6ac48a /><stop offset=.46 stop-color=#b4d872 /><stop offset=.57 stop-color=#bedd82 /><stop offset=.69 stop-color=#8c8 /><stop offset=.77 stop-color=#5ac19d /><stop offset=.89 stop-color=#5ec4a8 /><stop offset=1.00 stop-color=#7cc879 /></linearGradient><linearGradient id=g353 gradientUnits=userSpaceOnUse x1=1511 x2=1876><stop offset=.00 stop-color=#92d087 /><stop offset=.11 stop-color=#75c781 /><stop offset=.26 stop-color=#7eca8c /><stop offset=.34 stop-color=#7c7 /><stop offset=.51 stop-color=#a4d78f /><stop offset=.69 stop-color=#87cc83 /><stop offset=.77 stop-color=#7c8 /><stop offset=.94 stop-color=#7ac883 /><stop offset=1.00 stop-color=#7fc97c /></linearGradient><linearGradient id=g354 gradientUnits=userSpaceOnUse x1=1504 x2=1869><stop offset=.00 stop-color=#7dca8d /><stop offset=.11 stop-color=#8fcd73 /><stop offset=.26 stop-color=#9bd172 /><stop offset=.34 stop-color=#85ca72 /><stop offset=.49 stop-color=#8bd1a6 /><stop offset=.63 stop-color=#7fcc95 /><stop offset=.74 stop-color=#87ca71 /><stop offset=.86 stop-color=#9ed272 /><stop offset=.97 stop-color=#89cb6f /><stop offset=1.00 stop-color=#8c7 /></linearGradient><linearGradient id=g355 gradientUnits=userSpaceOnUse x1=1496 x2=1861><stop offset=.00 stop-color=#69c69f /><stop offset=.09 stop-color=#8dcc6c /><stop offset=.17 stop-color=#b9d85d /><stop offset=.26 stop-color=#bcd859 /><stop offset=.34 stop-color=#94cd67 /><stop offset=.46 stop-color=#7fcfb5 /><stop offset=.57 stop-color=#6cb /><stop offset=.63 stop-color=#61c4a5 /><stop offset=.74 stop-color=#93cd68 /><stop offset=.83 stop-color=#bcd95b /><stop offset=.91 stop-color=#b8d759 /><stop offset=.97 stop-color=#9dd060 /><stop offset=1.00 stop-color=#93ce72 /></linearGradient><linearGradient id=g356 gradientUnits=userSpaceOnUse x1=1488 x2=1853><stop offset=.00 stop-color=#51c1b4 /><stop offset=.09 stop-color=#8fcc6b /><stop offset=.17 stop-color=#d4de49 /><stop offset=.26 stop-color=#dee03f /><stop offset=.31 stop-color=#bfd747 /><stop offset=.43 stop-color=#7fcfb0 /><stop offset=.51 stop-color=#5ec9d9 /><stop offset=.60 stop-color=#4bc /><stop offset=.69 stop-color=#6ac594 /><stop offset=.74 stop-color=#9c6 /><stop offset=.83 stop-color=#dd4 /><stop offset=.91 stop-color=#dadf3f /><stop offset=.97 stop-color=#b7d54d /><stop offset=1.00 stop-color=#a4d267 /></linearGradient><linearGradient id=g357 gradientUnits=userSpaceOnUse x1=1481 x2=1846><stop offset=.00 stop-color=#3bc /><stop offset=.09 stop-color=#8bcb6d /><stop offset=.17 stop-color=#ebe438 /><stop offset=.29 stop-color=#f4e41f /><stop offset=.34 stop-color=#c2d948 /><stop offset=.43 stop-color=#7cceb2 /><stop offset=.51 stop-color=#4fc6ec /><stop offset=.60 stop-color=#20b6e6 /><stop offset=.66 stop-color=#40bdc3 /><stop offset=.71 stop-color=#74c680 /><stop offset=.80 stop-color=#dd4 /><stop offset=.86 stop-color=#f6e030 /><stop offset=.94 stop-color=#ede224 /><stop offset=1.00 stop-color=#b9d758 /></linearGradient><linearGradient id=g358 gradientUnits=userSpaceOnUse x1=1473 x2=1838><stop offset=.00 stop-color=#19b4e6 /><stop offset=.06 stop-color=#5b9 /><stop offset=.11 stop-color=#b6d75f /><stop offset=.17 stop-color=#f6e135 /><stop offset=.26 stop-color=#f6c52e /><stop offset=.31 stop-color=#f5dc1e /><stop offset=.37 stop-color=#bad85c /><stop offset=.43 stop-color=#7cceaf /><stop offset=.49 stop-color=#5ce /><stop offset=.57 stop-color=#38a9e1 /><stop offset=.60 stop-color=#1ea2de /><stop offset=.66 stop-color=#2bd /><stop offset=.69 stop-color=#38bab6 /><stop offset=.77 stop-color=#c6db54 /><stop offset=.80 stop-color=#ebe43b /><stop offset=.89 stop-color=#f6c530 /><stop offset=.97 stop-color=#f4e41e /><stop offset=1.00 stop-color=#d2dd45 /></linearGradient><linearGradient id=g359 gradientUnits=userSpaceOnUse x1=1466 x2=1830><stop offset=.00 stop-color=#18a2de /><stop offset=.03 stop-color=#0eb1e0 /><stop offset=.09 stop-color=#74c681 /><stop offset=.14 stop-color=#e2e240 /><stop offset=.17 stop-color=#f6d839 /><stop offset=.23 stop-color=#f6b230 /><stop offset=.29 stop-color=#f5af1e /><stop offset=.34 stop-color=#f5de23 /><stop offset=.43 stop-color=#7fcea7 /><stop offset=.46 stop-color=#65cbd4 /><stop offset=.49 stop-color=#56c5eb /><stop offset=.57 stop-color=#3c9cdb /><stop offset=.60 stop-color=#1e90d7 /><stop offset=.66 stop-color=#1ad /><stop offset=.69 stop-color=#1cb4cf /><stop offset=.77 stop-color=#c5db55 /><stop offset=.80 stop-color=#f3e637 /><stop offset=.89 stop-color=#f6af30 /><stop offset=.94 stop-color=#f5b51e /><stop offset=1.00 stop-color=#eee430 /></linearGradient><linearGradient id=g360 gradientUnits=userSpaceOnUse x1=1458 x2=1823><stop offset=.00 stop-color=#168ed6 /><stop offset=.03 stop-color=#049fdd /><stop offset=.06 stop-color=#20b5cb /><stop offset=.14 stop-color=#e2e23f /><stop offset=.17 stop-color=#f6d23b /><stop offset=.23 stop-color=#f69f30 /><stop offset=.29 stop-color=#f5941e /><stop offset=.34 stop-color=#f5c523 /><stop offset=.37 stop-color=#eee436 /><stop offset=.43 stop-color=#8c9 /><stop offset=.46 stop-color=#6cc /><stop offset=.49 stop-color=#54c2ea /><stop offset=.54 stop-color=#53a2dd /><stop offset=.60 stop-color=#2280d1 /><stop offset=.66 stop-color=#1294d9 /><stop offset=.69 stop-color=#05aae2 /><stop offset=.74 stop-color=#7eca82 /><stop offset=.80 stop-color=#f6e634 /><stop offset=.86 stop-color=#f6ad38 /><stop offset=.91 stop-color=#f6962c /><stop offset=.97 stop-color=#f5b01e /><stop offset=1.00 stop-color=#f6d42a /></linearGradient><linearGradient id=g361 gradientUnits=userSpaceOnUse x1=1450 x2=1815><stop offset=.00 stop-color=#17c /><stop offset=.03 stop-color=#028ad5 /><stop offset=.06 stop-color=#05ade3 /><stop offset=.14 stop-color=#dd4 /><stop offset=.17 stop-color=#f6cf39 /><stop offset=.26 stop-color=#f28031 /><stop offset=.29 stop-color=#e72 /><stop offset=.34 stop-color=#f5ab23 /><stop offset=.37 stop-color=#f6d630 /><stop offset=.40 stop-color=#cedd4e /><stop offset=.46 stop-color=#6cc /><stop offset=.49 stop-color=#50c0e9 /><stop offset=.54 stop-color=#59d /><stop offset=.63 stop-color=#1571ca /><stop offset=.69 stop-color=#09d /><stop offset=.71 stop-color=#1bb4d0 /><stop offset=.80 stop-color=#f4e633 /><stop offset=.86 stop-color=#f6a53e /><stop offset=.91 stop-color=#f27e2f /><stop offset=.94 stop-color=#f37d1f /><stop offset=1.00 stop-color=#f6bc2a /></linearGradient><linearGradient id=g362 gradientUnits=userSpaceOnUse x1=1443 x2=1807><stop offset=.00 stop-color=#156bc6 /><stop offset=.03 stop-color=#07c /><stop offset=.06 stop-color=#09d /><stop offset=.09 stop-color=#2eb8c3 /><stop offset=.14 stop-color=#d1de4b /><stop offset=.17 stop-color=#f6cf36 /><stop offset=.23 stop-color=#f3873c /><stop offset=.29 stop-color=#ee6027 /><stop offset=.31 stop-color=#f06c20 /><stop offset=.37 stop-color=#f6be30 /><stop offset=.40 stop-color=#eae339 /><stop offset=.46 stop-color=#6ccabc /><stop offset=.49 stop-color=#4bc0e9 /><stop offset=.57 stop-color=#4f8ad1 /><stop offset=.63 stop-color=#1665c2 /><stop offset=.69 stop-color=#0281d2 /><stop offset=.71 stop-color=#05a9e2 /><stop offset=.80 stop-color=#ede437 /><stop offset=.86 stop-color=#f79e40 /><stop offset=.91 stop-color=#e63 /><stop offset=.94 stop-color=#ee5f20 /><stop offset=1.00 stop-color=#f6a22a /></linearGradient><linearGradient id=g363 gradientUnits=userSpaceOnUse x1=1435 x2=1800><stop offset=.00 stop-color=#175fbe /><stop offset=.03 stop-color=#0162c4 /><stop offset=.09 stop-color=#0fb2e0 /><stop offset=.14 stop-color=#c2da57 /><stop offset=.17 stop-color=#f6d332 /><stop offset=.23 stop-color=#f27f3f /><stop offset=.26 stop-color=#ec5a33 /><stop offset=.31 stop-color=#eb4e21 /><stop offset=.40 stop-color=#f6d930 /><stop offset=.43 stop-color=#bd6 /><stop offset=.49 stop-color=#45c2ea /><stop offset=.57 stop-color=#58c /><stop offset=.63 stop-color=#1759ba /><stop offset=.69 stop-color=#006cc9 /><stop offset=.71 stop-color=#09d /><stop offset=.74 stop-color=#35bac4 /><stop offset=.80 stop-color=#dd4 /><stop offset=.83 stop-color=#f6c136 /><stop offset=.91 stop-color=#e53 /><stop offset=.94 stop-color=#e94421 /><stop offset=.97 stop-color=#e52 /><stop offset=1.00 stop-color=#f4872b /></linearGradient><linearGradient id=g364 gradientUnits=userSpaceOnUse x1=1427 x2=1792><stop offset=.00 stop-color=#1853b6 /><stop offset=.03 stop-color=#05b /><stop offset=.06 stop-color=#006fca /><stop offset=.09 stop-color=#09a0de /><stop offset=.11 stop-color=#52c1b0 /><stop offset=.17 stop-color=#f6dc30 /><stop offset=.23 stop-color=#f1793f /><stop offset=.26 stop-color=#ea4e35 /><stop offset=.31 stop-color=#e63222 /><stop offset=.34 stop-color=#e52 /><stop offset=.40 stop-color=#f6c130 /><stop offset=.43 stop-color=#d7e04d /><stop offset=.49 stop-color=#48c3e1 /><stop offset=.57 stop-color=#58c /><stop offset=.60 stop-color=#4671c2 /><stop offset=.63 stop-color=#194eb3 /><stop offset=.69 stop-color=#015cc0 /><stop offset=.71 stop-color=#0280d1 /><stop offset=.74 stop-color=#16b4e0 /><stop offset=.80 stop-color=#cfdd4d /><stop offset=.83 stop-color=#f6c633 /><stop offset=.89 stop-color=#ee693e /><stop offset=.94 stop-color=#e62d25 /><stop offset=.97 stop-color=#e83a22 /><stop offset=1.00 stop-color=#ef692c /></linearGradient><linearGradient id=g365 gradientUnits=userSpaceOnUse x1=1420 x2=1785><stop offset=.00 stop-color=#1949ae /><stop offset=.03 stop-color=#0547b2 /><stop offset=.06 stop-color=#015ec1 /><stop offset=.09 stop-color=#078cd6 /><stop offset=.11 stop-color=#3bc /><stop offset=.17 stop-color=#f3e632 /><stop offset=.26 stop-color=#e94739 /><stop offset=.31 stop-color=#d22 /><stop offset=.34 stop-color=#e73627 /><stop offset=.43 stop-color=#f5e634 /><stop offset=.49 stop-color=#53c5d1 /><stop offset=.51 stop-color=#4ad /><stop offset=.57 stop-color=#5582cb /><stop offset=.60 stop-color=#4c71c0 /><stop offset=.63 stop-color=#254faf /><stop offset=.69 stop-color=#034eb7 /><stop offset=.71 stop-color=#06c /><stop offset=.74 stop-color=#0fa2df /><stop offset=.77 stop-color=#5ac3ab /><stop offset=.80 stop-color=#bad85d /><stop offset=.83 stop-color=#f6cf30 /><stop offset=.91 stop-color=#e73734 /><stop offset=.97 stop-color=#d22 /><stop offset=1.00 stop-color=#ea4b2d /></linearGradient><linearGradient id=g366 gradientUnits=userSpaceOnUse x1=1412 x2=1777><stop offset=.00 stop-color=#1b43a3 /><stop offset=.03 stop-color=#0b3eab /><stop offset=.06 stop-color=#0350b8 /><stop offset=.09 stop-color=#0677cd /><stop offset=.11 stop-color=#16b3e5 /><stop offset=.17 stop-color=#dd4 /><stop offset=.20 stop-color=#f6b331 /><stop offset=.26 stop-color=#e84339 /><stop offset=.31 stop-color=#c22 /><stop offset=.34 stop-color=#d22 /><stop offset=.40 stop-color=#f58e30 /><stop offset=.43 stop-color=#f6cf33 /><stop offset=.46 stop-color=#b9d96b /><stop offset=.49 stop-color=#6cb /><stop offset=.51 stop-color=#3eade2 /><stop offset=.57 stop-color=#527fc9 /><stop offset=.60 stop-color=#4f71bd /><stop offset=.66 stop-color=#1b45a7 /><stop offset=.69 stop-color=#04a /><stop offset=.71 stop-color=#015bbf /><stop offset=.74 stop-color=#0e8ed7 /><stop offset=.77 stop-color=#3bbcc7 /><stop offset=.80 stop-color=#a0d270 /><stop offset=.83 stop-color=#f6dc30 /><stop offset=.89 stop-color=#ed623a /><stop offset=.91 stop-color=#e23536 /><stop offset=.97 stop-color=#c22 /><stop offset=1.00 stop-color=#e6302f /></linearGradient><linearGradient id=g367 gradientUnits=userSpaceOnUse x1=1404 x2=1769><stop offset=.00 stop-color=#1d3e9a /><stop offset=.06 stop-color=#0443b0 /><stop offset=.09 stop-color=#0665c5 /><stop offset=.11 stop-color=#149fdd /><stop offset=.14 stop-color=#5bc3aa /><stop offset=.17 stop-color=#c5db54 /><stop offset=.20 stop-color=#f6c030 /><stop offset=.26 stop-color=#e84137 /><stop offset=.31 stop-color=#bb1c1e /><stop offset=.34 stop-color=#c62123 /><stop offset=.37 stop-color=#e63734 /><stop offset=.43 stop-color=#f6b732 /><stop offset=.46 stop-color=#d6e053 /><stop offset=.49 stop-color=#7ca /><stop offset=.51 stop-color=#3ab5e5 /><stop offset=.54 stop-color=#418ed5 /><stop offset=.60 stop-color=#4f6fbb /><stop offset=.66 stop-color=#1d3f9c /><stop offset=.69 stop-color=#0637a3 /><stop offset=.71 stop-color=#034db6 /><stop offset=.77 stop-color=#1ab5e4 /><stop offset=.83 stop-color=#ede437 /><stop offset=.89 stop-color=#e63 /><stop offset=.91 stop-color=#d33 /><stop offset=.97 stop-color=#bc1c1e /><stop offset=1.00 stop-color=#d22c2d /></linearGradient><linearGradient id=g368 gradientUnits=userSpaceOnUse x1=1397 x2=1762><stop offset=.00 stop-color=#294397 /><stop offset=.06 stop-color=#0638a5 /><stop offset=.09 stop-color=#0757bc /><stop offset=.11 stop-color=#138bd5 /><stop offset=.14 stop-color=#3bbcc8 /><stop offset=.17 stop-color=#a9d46a /><stop offset=.20 stop-color=#f6d030 /><stop offset=.26 stop-color=#e84335 /><stop offset=.31 stop-color=#b01a1d /><stop offset=.34 stop-color=#b51c1f /><stop offset=.40 stop-color=#e53 /><stop offset=.46 stop-color=#f6e73a /><stop offset=.51 stop-color=#37bfe8 /><stop offset=.54 stop-color=#3b91d7 /><stop offset=.60 stop-color=#4c6cb9 /><stop offset=.63 stop-color=#425ba6 /><stop offset=.66 stop-color=#1e3b93 /><stop offset=.69 stop-color=#093096 /><stop offset=.71 stop-color=#04a /><stop offset=.77 stop-color=#17a2df /><stop offset=.80 stop-color=#65c5a2 /><stop offset=.83 stop-color=#d3de4a /><stop offset=.86 stop-color=#f6b430 /><stop offset=.91 stop-color=#d33 /><stop offset=.97 stop-color=#af1a1d /><stop offset=1.00 stop-color=#bf282a /></linearGradient><linearGradient id=g369 gradientUnits=userSpaceOnUse x1=1389 x2=1754><stop offset=.00 stop-color=#334997 /><stop offset=.06 stop-color=#083198 /><stop offset=.09 stop-color=#084ab3 /><stop offset=.14 stop-color=#19b5e6 /><stop offset=.17 stop-color=#8acd81 /><stop offset=.20 stop-color=#f6e330 /><stop offset=.26 stop-color=#ea4b34 /><stop offset=.31 stop-color=#ab1d20 /><stop offset=.34 stop-color=#a6191c /><stop offset=.40 stop-color=#e73a34 /><stop offset=.46 stop-color=#f6d03a /><stop offset=.49 stop-color=#afd776 /><stop offset=.51 stop-color=#4cc3d1 /><stop offset=.54 stop-color=#39d /><stop offset=.60 stop-color=#46b /><stop offset=.63 stop-color=#445ca5 /><stop offset=.66 stop-color=#238 /><stop offset=.69 stop-color=#0e2d8d /><stop offset=.71 stop-color=#0636a3 /><stop offset=.77 stop-color=#158ed7 /><stop offset=.80 stop-color=#44bec0 /><stop offset=.83 stop-color=#b5d760 /><stop offset=.86 stop-color=#f6c530 /><stop offset=.91 stop-color=#e53434 /><stop offset=.97 stop-color=#a6181c /><stop offset=1.00 stop-color=#b02528 /></linearGradient><linearGradient id=g370 gradientUnits=userSpaceOnUse x1=1381 x2=1746><stop offset=.00 stop-color=#384c97 /><stop offset=.06 stop-color=#0a2b8d /><stop offset=.09 stop-color=#093dac /><stop offset=.14 stop-color=#18a2de /><stop offset=.17 stop-color=#69c69e /><stop offset=.20 stop-color=#dd4 /><stop offset=.23 stop-color=#f6a730 /><stop offset=.26 stop-color=#e53 /><stop offset=.29 stop-color=#c33 /><stop offset=.31 stop-color=#a22 /><stop offset=.34 stop-color=#9d171b /><stop offset=.40 stop-color=#d73233 /><stop offset=.43 stop-color=#e63 /><stop offset=.46 stop-color=#f6b83a /><stop offset=.49 stop-color=#cdde5e /><stop offset=.51 stop-color=#6cb /><stop offset=.54 stop-color=#33a3de /><stop offset=.60 stop-color=#46b /><stop offset=.63 stop-color=#425aa4 /><stop offset=.69 stop-color=#162e87 /><stop offset=.71 stop-color=#093096 /><stop offset=.77 stop-color=#17c /><stop offset=.80 stop-color=#2bd /><stop offset=.83 stop-color=#9c7 /><stop offset=.86 stop-color=#f6d830 /><stop offset=.91 stop-color=#e83d34 /><stop offset=.97 stop-color=#a0171b /><stop offset=1.00 stop-color=#a42226 /></linearGradient><linearGradient id=g371 gradientUnits=userSpaceOnUse x1=1374 x2=1739><stop offset=.00 stop-color=#384c97 /><stop offset=.06 stop-color=#0c2684 /><stop offset=.09 stop-color=#0b379f /><stop offset=.14 stop-color=#168ed6 /><stop offset=.17 stop-color=#4bb /><stop offset=.20 stop-color=#bed95a /><stop offset=.23 stop-color=#f6bb30 /><stop offset=.26 stop-color=#e63 /><stop offset=.29 stop-color=#d73233 /><stop offset=.31 stop-color=#a22 /><stop offset=.34 stop-color=#97161a /><stop offset=.40 stop-color=#c63032 /><stop offset=.43 stop-color=#eb523a /><stop offset=.46 stop-color=#f6a23b /><stop offset=.49 stop-color=#ede646 /><stop offset=.51 stop-color=#81cd9d /><stop offset=.54 stop-color=#30b0e4 /><stop offset=.57 stop-color=#327fce /><stop offset=.63 stop-color=#3d57a4 /><stop offset=.69 stop-color=#1c2f83 /><stop offset=.71 stop-color=#0b2b8c /><stop offset=.77 stop-color=#146cc7 /><stop offset=.80 stop-color=#18a7e0 /><stop offset=.83 stop-color=#75c894 /><stop offset=.86 stop-color=#ebe438 /><stop offset=.89 stop-color=#f69d30 /><stop offset=.91 stop-color=#ea4c33 /><stop offset=.97 stop-color=#9f171b /><stop offset=1.00 stop-color=#922 /></linearGradient><linearGradient id=g372 gradientUnits=userSpaceOnUse x1=1366 x2=1731><stop offset=.00 stop-color=#354a97 /><stop offset=.06 stop-color=#0d237d /><stop offset=.09 stop-color=#0c3093 /><stop offset=.14 stop-color=#17c /><stop offset=.17 stop-color=#2bd /><stop offset=.20 stop-color=#9dd172 /><stop offset=.23 stop-color=#f6d130 /><stop offset=.29 stop-color=#e33434 /><stop offset=.34 stop-color=#95161a /><stop offset=.40 stop-color=#b33 /><stop offset=.43 stop-color=#e73e3e /><stop offset=.49 stop-color=#f6d83f /><stop offset=.51 stop-color=#a0d483 /><stop offset=.54 stop-color=#34bee3 /><stop offset=.57 stop-color=#2d86d3 /><stop offset=.66 stop-color=#2f418e /><stop offset=.71 stop-color=#0c2683 /><stop offset=.77 stop-color=#1661bf /><stop offset=.80 stop-color=#1793d9 /><stop offset=.83 stop-color=#53c1b2 /><stop offset=.86 stop-color=#cbdc50 /><stop offset=.89 stop-color=#f6b130 /><stop offset=.91 stop-color=#ed5f33 /><stop offset=.94 stop-color=#c33 /><stop offset=.97 stop-color=#a2181b /><stop offset=1.00 stop-color=#951a1f /></linearGradient><linearGradient id=g373 gradientUnits=userSpaceOnUse x1=1359 x2=1723><stop offset=.00 stop-color=#349 /><stop offset=.06 stop-color=#127 /><stop offset=.09 stop-color=#0c2a8a /><stop offset=.14 stop-color=#156dc7 /><stop offset=.17 stop-color=#18a9e1 /><stop offset=.20 stop-color=#7bca8e /><stop offset=.23 stop-color=#f3e632 /><stop offset=.29 stop-color=#e84334 /><stop offset=.34 stop-color=#98161a /><stop offset=.40 stop-color=#af3236 /><stop offset=.43 stop-color=#d84040 /><stop offset=.46 stop-color=#e74 /><stop offset=.49 stop-color=#f7c241 /><stop offset=.51 stop-color=#bfdb6b /><stop offset=.54 stop-color=#51c3c8 /><stop offset=.57 stop-color=#2b94d8 /><stop offset=.63 stop-color=#35a /><stop offset=.69 stop-color=#223181 /><stop offset=.71 stop-color=#0d237d /><stop offset=.77 stop-color=#1756b9 /><stop offset=.80 stop-color=#1581d1 /><stop offset=.83 stop-color=#31bad1 /><stop offset=.86 stop-color=#a9d469 /><stop offset=.89 stop-color=#f6c830 /><stop offset=.94 stop-color=#d33 /><stop offset=.97 stop-color=#aa1b1e /><stop offset=1.00 stop-color=#92151a /></linearGradient><linearGradient id=g374 gradientUnits=userSpaceOnUse x1=1351 x2=1716><stop offset=.00 stop-color=#2a479d /><stop offset=.06 stop-color=#127 /><stop offset=.09 stop-color=#0c2683 /><stop offset=.14 stop-color=#1663c1 /><stop offset=.17 stop-color=#1797da /><stop offset=.20 stop-color=#59c3ac /><stop offset=.23 stop-color=#d2de4b /><stop offset=.26 stop-color=#f6ac30 /><stop offset=.29 stop-color=#e53 /><stop offset=.31 stop-color=#c9292b /><stop offset=.34 stop-color=#9f171b /><stop offset=.37 stop-color=#99262b /><stop offset=.43 stop-color=#c44 /><stop offset=.46 stop-color=#e64 /><stop offset=.49 stop-color=#f7ae43 /><stop offset=.51 stop-color=#dee355 /><stop offset=.54 stop-color=#6fcaac /><stop offset=.57 stop-color=#2aa3df /><stop offset=.63 stop-color=#2952af /><stop offset=.69 stop-color=#223282 /><stop offset=.71 stop-color=#127 /><stop offset=.80 stop-color=#1571ca /><stop offset=.83 stop-color=#19b0e4 /><stop offset=.89 stop-color=#f6df30 /><stop offset=.94 stop-color=#e73a33 /><stop offset=1.00 stop-color=#96161a /></linearGradient><linearGradient id=g375 gradientUnits=userSpaceOnUse x1=1343 x2=1708><stop offset=.00 stop-color=#2447a3 /><stop offset=.06 stop-color=#17297c /><stop offset=.09 stop-color=#0d247f /><stop offset=.14 stop-color=#1759bb /><stop offset=.17 stop-color=#1685d3 /><stop offset=.20 stop-color=#38bcca /><stop offset=.23 stop-color=#b0d664 /><stop offset=.26 stop-color=#f6c430 /><stop offset=.31 stop-color=#da2c2d /><stop offset=.34 stop-color=#a9191c /><stop offset=.37 stop-color=#9b2429 /><stop offset=.43 stop-color=#c54648 /><stop offset=.46 stop-color=#eb564c /><stop offset=.51 stop-color=#f7e544 /><stop offset=.57 stop-color=#2ab5e5 /><stop offset=.60 stop-color=#27c /><stop offset=.66 stop-color=#249 /><stop offset=.71 stop-color=#127 /><stop offset=.80 stop-color=#1667c3 /><stop offset=.83 stop-color=#179edd /><stop offset=.86 stop-color=#66c5a1 /><stop offset=.89 stop-color=#dd4 /><stop offset=.91 stop-color=#f6a530 /><stop offset=.94 stop-color=#e53 /><stop offset=.97 stop-color=#c42224 /><stop offset=1.00 stop-color=#9e171b /></linearGradient><linearGradient id=g376 gradientUnits=userSpaceOnUse x1=1336 x2=1701><stop offset=.00 stop-color=#1e4aac /><stop offset=.06 stop-color=#1a2d81 /><stop offset=.09 stop-color=#0d247e /><stop offset=.14 stop-color=#1851b6 /><stop offset=.17 stop-color=#17c /><stop offset=.20 stop-color=#19b5e6 /><stop offset=.23 stop-color=#8ece7e /><stop offset=.26 stop-color=#f6dc30 /><stop offset=.31 stop-color=#e7372e /><stop offset=.34 stop-color=#b81b1e /><stop offset=.37 stop-color=#a02226 /><stop offset=.40 stop-color=#a33 /><stop offset=.46 stop-color=#e75151 /><stop offset=.51 stop-color=#f7d246 /><stop offset=.54 stop-color=#add779 /><stop offset=.57 stop-color=#3ebfd5 /><stop offset=.60 stop-color=#2288d4 /><stop offset=.66 stop-color=#1e42a0 /><stop offset=.69 stop-color=#238 /><stop offset=.71 stop-color=#127 /><stop offset=.80 stop-color=#175ebe /><stop offset=.83 stop-color=#168dd6 /><stop offset=.86 stop-color=#4bb /><stop offset=.89 stop-color=#bbd95c /><stop offset=.91 stop-color=#f6bd30 /><stop offset=.97 stop-color=#d62626 /><stop offset=1.00 stop-color=#aa191c /></linearGradient><linearGradient id=g377 gradientUnits=userSpaceOnUse x1=1328 x2=1693><stop offset=.00 stop-color=#1a50b5 /><stop offset=.09 stop-color=#0d247f /><stop offset=.14 stop-color=#194bb2 /><stop offset=.17 stop-color=#156cc7 /><stop offset=.20 stop-color=#18a4df /><stop offset=.23 stop-color=#6dc79a /><stop offset=.26 stop-color=#e1e13f /><stop offset=.29 stop-color=#f6a52f /><stop offset=.31 stop-color=#eb512c /><stop offset=.34 stop-color=#c22 /><stop offset=.37 stop-color=#a22 /><stop offset=.40 stop-color=#a72e31 /><stop offset=.43 stop-color=#c04d50 /><stop offset=.46 stop-color=#d55 /><stop offset=.49 stop-color=#f17f51 /><stop offset=.51 stop-color=#f7c14a /><stop offset=.54 stop-color=#cd6 /><stop offset=.57 stop-color=#5ec6b9 /><stop offset=.60 stop-color=#29d /><stop offset=.66 stop-color=#1a47ab /><stop offset=.69 stop-color=#1f3a92 /><stop offset=.71 stop-color=#0d247e /><stop offset=.77 stop-color=#1c41a0 /><stop offset=.83 stop-color=#157ed0 /><stop offset=.86 stop-color=#2bd /><stop offset=.89 stop-color=#9ad175 /><stop offset=.91 stop-color=#f6d630 /><stop offset=.97 stop-color=#e63028 /><stop offset=1.00 stop-color=#ba1c1e /></linearGradient><linearGradient id=g378 gradientUnits=userSpaceOnUse x1=1320 x2=1685><stop offset=.00 stop-color=#175bbc /><stop offset=.09 stop-color=#0c2683 /><stop offset=.14 stop-color=#1a48ad /><stop offset=.20 stop-color=#1795d9 /><stop offset=.23 stop-color=#4ec0b6 /><stop offset=.26 stop-color=#c0da59 /><stop offset=.29 stop-color=#f6be2f /><stop offset=.34 stop-color=#d22 /><stop offset=.37 stop-color=#b61b1e /><stop offset=.40 stop-color=#ad2b2e /><stop offset=.43 stop-color=#c14e51 /><stop offset=.49 stop-color=#e75 /><stop offset=.51 stop-color=#f7b34e /><stop offset=.54 stop-color=#e6e554 /><stop offset=.60 stop-color=#23ade2 /><stop offset=.63 stop-color=#1972ca /><stop offset=.69 stop-color=#1d3f9c /><stop offset=.71 stop-color=#0e2986 /><stop offset=.74 stop-color=#0c2785 /><stop offset=.77 stop-color=#1c409e /><stop offset=.83 stop-color=#1572cb /><stop offset=.86 stop-color=#18ace3 /><stop offset=.91 stop-color=#eae339 /><stop offset=.94 stop-color=#f6a12e /><stop offset=.97 stop-color=#ea4c27 /><stop offset=1.00 stop-color=#c22 /></linearGradient><linearGradient id=g379 gradientUnits=userSpaceOnUse x1=1313 x2=1678><stop offset=.00 stop-color=#1667c4 /><stop offset=.09 stop-color=#0b2a8a /><stop offset=.14 stop-color=#1a47ab /><stop offset=.20 stop-color=#1688d4 /><stop offset=.23 stop-color=#3bc /><stop offset=.26 stop-color=#9fd271 /><stop offset=.29 stop-color=#f6d72f /><stop offset=.34 stop-color=#e73822 /><stop offset=.37 stop-color=#c22 /><stop offset=.40 stop-color=#b92d2f /><stop offset=.46 stop-color=#db5e5f /><stop offset=.49 stop-color=#ef745d /><stop offset=.54 stop-color=#f7e44b /><stop offset=.57 stop-color=#9cd387 /><stop offset=.60 stop-color=#3bd /><stop offset=.63 stop-color=#1883d2 /><stop offset=.69 stop-color=#1b45a8 /><stop offset=.74 stop-color=#0b2a8a /><stop offset=.77 stop-color=#1c409e /><stop offset=.83 stop-color=#156bc6 /><stop offset=.86 stop-color=#179edd /><stop offset=.89 stop-color=#5bc3ab /><stop offset=.91 stop-color=#cd5 /><stop offset=.94 stop-color=#f6ba2e /><stop offset=1.00 stop-color=#e22323 /></linearGradient><linearGradient id=g380 gradientUnits=userSpaceOnUse x1=1305 x2=1670><stop offset=.00 stop-color=#17c /><stop offset=.09 stop-color=#092e93 /><stop offset=.17 stop-color=#1c5ebd /><stop offset=.20 stop-color=#157dd0 /><stop offset=.23 stop-color=#19b5e6 /><stop offset=.29 stop-color=#e9e339 /><stop offset=.31 stop-color=#f5a529 /><stop offset=.34 stop-color=#e52 /><stop offset=.37 stop-color=#d22 /><stop offset=.40 stop-color=#c72f31 /><stop offset=.46 stop-color=#dd6061 /><stop offset=.49 stop-color=#e76 /><stop offset=.54 stop-color=#f7d64f /><stop offset=.57 stop-color=#bd7 /><stop offset=.60 stop-color=#50c2c2 /><stop offset=.63 stop-color=#1a96da /><stop offset=.69 stop-color=#194db3 /><stop offset=.74 stop-color=#092d91 /><stop offset=.80 stop-color=#1c4fb4 /><stop offset=.86 stop-color=#1692d8 /><stop offset=.89 stop-color=#3fbdc4 /><stop offset=.91 stop-color=#a9d46a /><stop offset=.94 stop-color=#f6d32e /><stop offset=1.00 stop-color=#e83e22 /></linearGradient><linearGradient id=g381 gradientUnits=userSpaceOnUse x1=1297 x2=1662><stop offset=.00 stop-color=#1688d4 /><stop offset=.09 stop-color=#07349e /><stop offset=.17 stop-color=#2060bd /><stop offset=.20 stop-color=#1978cd /><stop offset=.23 stop-color=#18a8e1 /><stop offset=.26 stop-color=#65c5a2 /><stop offset=.29 stop-color=#cd5 /><stop offset=.31 stop-color=#f5bf29 /><stop offset=.37 stop-color=#e83922 /><stop offset=.40 stop-color=#d33 /><stop offset=.43 stop-color=#d34042 /><stop offset=.46 stop-color=#e26161 /><stop offset=.51 stop-color=#f59d5f /><stop offset=.54 stop-color=#f7cc54 /><stop offset=.57 stop-color=#cd6 /><stop offset=.63 stop-color=#1caae2 /><stop offset=.66 stop-color=#17c /><stop offset=.71 stop-color=#0d3ea9 /><stop offset=.74 stop-color=#08329b /><stop offset=.80 stop-color=#1e51b4 /><stop offset=.86 stop-color=#1789d4 /><stop offset=.89 stop-color=#27b8d9 /><stop offset=.94 stop-color=#eee433 /><stop offset=1.00 stop-color=#ed5c20 /></linearGradient><linearGradient id=g382 gradientUnits=userSpaceOnUse x1=1290 x2=1655><stop offset=.00 stop-color=#179cdc /><stop offset=.06 stop-color=#15b /><stop offset=.09 stop-color=#053aaa /><stop offset=.14 stop-color=#194bb1 /><stop offset=.20 stop-color=#27c /><stop offset=.23 stop-color=#189fdd /><stop offset=.26 stop-color=#4cc0b8 /><stop offset=.29 stop-color=#abd568 /><stop offset=.31 stop-color=#f5d829 /><stop offset=.37 stop-color=#e52 /><stop offset=.40 stop-color=#e73b32 /><stop offset=.43 stop-color=#df3839 /><stop offset=.46 stop-color=#e95f5f /><stop offset=.51 stop-color=#f59d65 /><stop offset=.54 stop-color=#f8c55a /><stop offset=.57 stop-color=#e4e55c /><stop offset=.60 stop-color=#8ccf92 /><stop offset=.63 stop-color=#28b9dd /><stop offset=.69 stop-color=#1667c3 /><stop offset=.74 stop-color=#0638a7 /><stop offset=.83 stop-color=#226ac4 /><stop offset=.86 stop-color=#1b84d2 /><stop offset=.89 stop-color=#19b2e5 /><stop offset=.94 stop-color=#cedd4c /><stop offset=.97 stop-color=#f5be24 /><stop offset=1.00 stop-color=#f27c1f /></linearGradient><linearGradient id=g383 gradientUnits=userSpaceOnUse x1=1282 x2=1647><stop offset=.00 stop-color=#19afe4 /><stop offset=.06 stop-color=#1062c1 /><stop offset=.11 stop-color=#043fad /><stop offset=.17 stop-color=#2365c0 /><stop offset=.23 stop-color=#1b99db /><stop offset=.26 stop-color=#3bc /><stop offset=.31 stop-color=#e6e234 /><stop offset=.34 stop-color=#f5b01e /><stop offset=.37 stop-color=#e72 /><stop offset=.43 stop-color=#e84134 /><stop offset=.46 stop-color=#e65 /><stop offset=.51 stop-color=#f59f69 /><stop offset=.57 stop-color=#f4ea56 /><stop offset=.60 stop-color=#a5d682 /><stop offset=.63 stop-color=#48c0c3 /><stop offset=.66 stop-color=#179ddc /><stop offset=.71 stop-color=#0a56bb /><stop offset=.74 stop-color=#0442af /><stop offset=.80 stop-color=#1854b7 /><stop offset=.86 stop-color=#2083d2 /><stop offset=.89 stop-color=#18a9e1 /><stop offset=.91 stop-color=#59c3ad /><stop offset=.97 stop-color=#f5d724 /><stop offset=1.00 stop-color=#f59a1e /></linearGradient></defs><g transform="scale(0.25)"><path class="ax" d="M102 371L93 368"/><path class="ax" d="M102 246L93 244"/><path class="ax" d="M102 122L93 119"/><path class="ax" d="M288 428L276 430"/><path class="ax" d="M102 371L90 373"/><path class="ax" d="M718 441L727 444"/><path class="ax" d="M961 397L970 400"/><path class="ax" d="M102 371L102 122"/><path class="ax" d="M475 485L961 397"/><path class="ax" d="M475 485L102 371"/><path class="gd" d="M102 246L588 159"/><path class="gd" d="M588 159L961 273"/><path class="gd" d="M102 122L588 35"/><path class="gd" d="M588 35L961 149"/><path class="gd" d="M345 327L345 78"/><path class="gd" d="M774 340L774 92"/><path class="gd" d="M588 283L588 35"/><path class="gd" d="M588 283L588 35"/><path class="gd" d="M961 397L961 149"/><path class="gd" d="M102 371L102 122"/><path class="gd" d="M718 441L345 327"/><path class="gd" d="M288 428L774 340"/><path class="gd" d="M961 397L588 283"/><path class="gd" d="M102 371L588 283"/><path class="ct" stroke="#0444b0" d="M201 353l5 4 6 3 7 3 7 3 7 2 7 2 9 2 6 1 6 1 7 1 7 1 6 1 7 1 8 0 7 1 6 1 7 0 6 0 7 1 10 0 11 1 10 0 8 0 6 0 7 0 7 0 8-1 8 0 9 0 8-1 8-1 7 0 7-1 7-1 6-1 6-1 8-2 8-2 7-3 5-2 6-4 5-4 3-6 0-6-3-5-5-4-5-5-6-3-7-3-6-2-7-3-7-2-8-2-8-2-9-2-6-1"/><path class="ct" stroke="#0287d4" d="M318 437l7-4 6-4 6-3 6-2 6-3 7-2 8-2 7-2 8-2 8-2 7-1 6-1 6-1 7-1 6-1 7-1 6-1 8-1 7 0 8-1 7-1 8 0 8-1 8 0 8-1 8 0 7-1 9 0 8-1 8 0 7-1 7-1 7-1 6-1 6-2 7-3 6-4 4-4 5-4 5-4 7-4 5-2 6-3 7-2 8-2 8-2 9-2 6-1 6-1 7-1 6-1 8-1 7 0 8-1 8-1 8 0 9 0 9 0 7 0 8 0 9 0 7 0 8 1 9 0 8 1 7 1 8 1 9 1 6 1 7 1 6 1 5 1"/><path class="ct" stroke="#0287d4" d="M860 366l6 3 6 4 5 3 4 5 3 6 1 6-1 7-1 6 1 5"/><path class="ct" stroke="#51bf9f" d="M357 449l5-6 4-4 6-5 7-3 6-3 7-2 7-3 8-2 8-2 9-1 6-1 7-1 6-1 7-1 8-1 7-1 8 0 8-1 8 0 8-1 8 0 8 0 6 0 7 0 6 0 6 0 11 0 7 0 9 1 7 0 9 0 11 1 7 0 6 1 7 0 6 1 7 0 8 1 8 1 8 1 6 1 6 2 9 1 8 2 7 2 8 2 7 3 7 2 8 2 7 2 8 2 2 0"/><path class="ct" stroke="#51bf9f" d="M777 366l6 1 8 2 6 2 6 3 5 3 3 6-3 6-5 3-5 3-7 2-8 2-9 2-6 1-6 1-7 1-8 0-8 1-8 0-9 0-11 0-10-1-8 0-7-1-6-2-8-2-6-2-7-3-5-4-3-5 1-7 6-4 6-3 6-2 6-1 8-2 7-1 7-1 7-1 7 0 8-1 7 0 7 0 7 1 8 0 9 1 8 0 7 1 4 1"/><path class="ct" stroke="#e3e02c" d="M398 461l-2-6 0-7 3-6 5-4 7-4 6-2 7-3 7-2 8-2 6-1 7-1 6-1 7-1 7 0 8-1 8-1 8 0 9 0 10 0 6 0 9 0 8 0 8 1 6 0 7 0 6 1 8 1 7 1 7 1 7 1 6 1 6 1 9 2 7 2 7 2 7 2 6 3 6 2 6 3 7 4 5 3"/><path class="ct" stroke="#f4861e" d="M498 481l-8-2-8-2-7-2-6-3-6-2-6-2-7-4-6-3-5-4-5-4-1-7 4-5 6-4 7-3 8-2 9-1 6-1 7-1 7-1 8 0 9-1 8 0 6 0 11 0 9 1 9 1 7 1 7 1 7 1 8 2 8 2 6 2 6 2 6 4 5 4 2 7-4 6 0 0"/><path class="ct" stroke="#cc1f20" d="M535 441l7 2 5 4-4 6-7 2-6 1-8 0-9 0-7 0-9-1-8-2-6-4 1-6 7-2 6-1 7-1 9 0 8 0 8 1 6 1"/><path class="ax" d="M1254 396L1245 393"/><path class="ax" d="M1254 273L1245 270"/><path class="ax" d="M1254 150L1245 147"/><path class="ax" d="M1443 452L1431 455"/><path class="ax" d="M1254 396L1242 398"/><path class="ax" d="M1880 465L1889 468"/><path class="ax" d="M2126 422L2136 425"/><path class="ax" d="M1254 396L1254 150"/><path class="ax" d="M1633 509L2126 422"/><path class="ax" d="M1633 509L1254 396"/><path class="gd" d="M1254 273L1748 187"/><path class="gd" d="M1748 187L2126 299"/><path class="gd" d="M1254 150L1748 64"/><path class="gd" d="M1748 64L2126 176"/><path class="gd" d="M1501 353L1501 107"/><path class="gd" d="M1937 366L1937 120"/><path class="gd" d="M1748 310L1748 64"/><path class="gd" d="M1748 310L1748 64"/><path class="gd" d="M2126 422L2126 176"/><path class="gd" d="M1254 396L1254 150"/><path class="gd" d="M1880 465L1501 353"/><path class="gd" d="M1443 452L1937 366"/><path class="gd" d="M2126 422L1748 310"/><path class="gd" d="M1254 396L1748 310"/><path class="ct" stroke="#07349f" d="M1685 361l-7-1-6 0-11-1-7 0-7 1-8 0-9 0-8 1-8 1-7 0-7 1-7 1-7 1-7 1-6 1-7 1-6 1-6 1-6 1-6 1-8 2-7 1-8 2-7 2-7 3-7 2-6 3-5 4 3 6 7 2 6 2 7 0 9 1 11 0 7 0 7 0 8 0 9-1 8 0 8-1 7-1 7 0 7-1 7-1 7-1 6-1 7-1 6-1 6-1 6-1 6-1 8-2 7-1 8-2 7-2 7-3 7-2 6-3 5-4-3-6-7-2-6-2-3 0"/><path class="ct" stroke="#0256bc" d="M1734 354l-7-2-7-1-8-1-9 0-7 0-9-1-7 0-7 0-6 1-9 0-8 0-8 1-6 1-9 0-8 1-7 1-7 1-7 0-7 1-6 1-7 1-7 1-6 1-7 1-6 1-6 1-6 1-7 1-6 2-6 1-6 1-8 2-9 1-8 2-8 2-8 2-8 2-5 2-6 2-6 2-6 3-6 5 0 6 5 3 6 3 7 2 9 2 7 1 8 0 9 1 7 0 9 1 7 0 7-1 6 0 9 0 8-1 8 0 6-1 9 0 8-1 7-1 7-1 7-1 7 0 6-1 7-1 7-1 6-1 7-1 6-1 6-1 6-1 7-2 6-1 6-1 6-1 8-2 9-2 8-1 8-2 8-2 8-3 5-1 6-2 6-3 6-3 6-4 0-6-5-4-6-2-7-2-2 0"/><path class="ct" stroke="#0285d3" d="M1774 348l-7-2-9-1-6-2-7 0-6-1-7-1-7 0-7-1-9 0-9 0-6 0-8 0-9 1-9 0-8 1-7 1-8 0-7 1-7 1-7 1-7 0-7 1-7 1-7 1-6 1-7 1-7 1-6 1-7 1-6 1-6 1-7 1-6 1-6 1-6 1-7 1-6 1-6 1-6 2-6 1-6 1-6 1-8 2-9 2-8 1-9 2-8 2-8 2-7 2-8 3-7 2-6 2-6 3-5 4-2 6 5 5 6 3 6 2 7 3 8 2 9 1 6 1 7 1 6 1 7 1 7 0 7 0 9 1 9 0 6 0 8-1 9 0 9 0 8-1 7-1 8 0 7-1 7-1 7-1 7-1 7 0 7-1 7-1 6-1 7-1 7-1 6-1 7-1 6-1 6-1 7-1 6-1 6-1 6-1 7-1 6-1 6-2 6-1 6-1 6-1 6-1 8-2 9-2 8-2 9-1 8-2 8-2 7-3 8-2 7-2 6-3 6-2 5-4 2-6-5-5-6-3-6-3-7-2-1 0"/><path class="ct" stroke="#1db4ce" d="M1786 337l-8-2-6-1-7-1-7-1-8 0-9-1-6 0-10-1-6 0-7 0-7 1-8 0-8 0-8 1-7 1-8 0-7 1-7 1-7 1-7 1-7 1-6 1-7 0-7 1-6 1-7 1-6 1-7 1-6 1-7 1-6 1-6 1-7 1-6 2-6 1-6 1-7 1-6 1-6 1-6 1-6 1-6 1-7 1-6 1-6 1-6 2-6 1-6 1-6 1-6 1-6 1-6 1-7 2-7 1-9 2-8 2-9 2-8 2-8 2-7 2-8 2-6 3-6 2-5 3-3 6 4 5 6 3 7 4 6 2 7 2 7 2 7 2 8 2 7 2 8 1 6 2 7 1 7 1 8 0 9 1 6 0 10 1 6 0 7 0 7-1 8 0 8-1 8 0 7-1 8-1 7 0 7-1 7-1 7-1 7-1 6-1 7-1 7-1 6-1 7 0 6-1 7-1 6-1 7-2 6-1 6-1 7-1 6-1 6-1 6-1 7-1 6-1 6-1 6-1 6-1 6-1 7-1 6-1 6-2 6-1 6-1 6-1 6-1 6-1 6-1 6-2 7-1 7-1 9-2 8-2 9-2 8-2 8-2 7-2 8-2 6-3 6-2 5-3 3-6-4-5-6-4-7-3-6-2-7-2-7-2-7-2-8-2-7-2"/><path class="ct" stroke="#ddde30" d="M1977 394l8 2 8 2 7 2 7 2 6 2 6 2 7 4 5 3 4 5-5 6-7 4-7 2-7 3-7 2-8 2-8 2-6 1-8 2-9 2-8 1-9 2-9 2-6 1-6 1-6 1-6 2-6 1-6 1-6 1-6 1-6 1-6 1-6 1-7 1-6 1-6 2-6 1-7 1-6 1-6 1-6 1-7 1-6 1-6 1-7 1-6 1-7 1-6 1-7 1-7 1-6 1-7 1-7 0-7 1-7 1-7 1-7 1-7 1-8 0-7 1-7 0-9 1-8 0-7 0-6 0-9 0-7-1-6 0-7-1-7-1-7-1-7-1-6-1-9-2-8-2-7-2-8-2-6-2-7-2-5-3-7-3-5-3-1-7 4-4 7-3 6-3 8-2 7-2 8-2 8-2 6-2 8-1 9-2 8-2 9-2 9-1 6-2 6-1 6-1 6-1 6-1 6-1 6-1 6-1 6-2 6-1 6-1 6-1 7-1 6-1 6-1 6-1 7-1 6-1 6-1 7-1 6-1 6-1 7-1 6-1 7-1 6-1 7-1 6-1 7-1 7-1 6-1 7-1 7-1 7 0 8-1 7-1 7-1 8 0 7-1 9 0 8 0 6 0 7 0 9 0 6 0 7 1 6 0 8 1 7 1 7 1 6 1 6 2"/><path class="ct" stroke="#f5af1e" d="M1965 405l5 1 8 3 6 4 4 4-2 6-5 4-6 3-6 2-7 3-6 1-6 2-8 2-8 2-8 2-9 2-8 2-8 1-7 2-6 1-6 1-6 1-6 1-6 1-6 2-6 1-7 1-6 1-6 1-6 1-7 1-6 1-7 1-6 1-7 1-6 1-7 1-7 1-7 0-7 1-7 1-7 1-7 1-8 0-7 1-8 1-8 0-8 1-9 0-9 0-8 0-7 0-10 0-8-1-7-1-6 0-7-1-7-1-6-2-8-1-8-3-6-2-6-3-5-4-1-6 5-5 7-3 7-3 7-2 6-2 6-2 8-2 8-2 8-2 9-1 8-2 8-2 7-1 6-1 6-2 6-1 6-1 6-1 6-1 6-1 6-1 7-1 6-1 6-1 7-1 6-1 6-1 7-1 7-1 6-1 7-1 7-1 7-1 7-1 7-1 7 0 7-1 7-1 8 0 8-1 8-1 8 0 9 0 9 0 8 0 7 0 10 0 8 1 7 0 6 1 7 1 7 1 6 1 8 2 3 1"/><path class="ct" stroke="#ee6220" d="M1925 410l8 2 6 3 4 3 0 7-5 3-6 3-6 3-6 2-6 2-7 2-8 2-8 2-9 2-8 2-9 1-6 2-6 1-6 1-6 1-6 1-7 1-6 1-6 1-7 1-7 1-6 1-7 1-7 1-7 1-7 0-7 1-7 1-8 1-8 0-8 1-6 0-9 1-8 0-7 0-6 0-9 0-7-1-10 0-8-1-7-1-6-1-8-2-6-2-5-3-2-6 5-5 7-4 5-2 7-2 6-2 7-2 8-2 8-2 9-2 8-2 9-2 6-1 6-1 6-1 6-1 6-1 6-1 7-1 6-2 7 0 6-1 7-1 7-1 7-1 7-1 7-1 7-1 7 0 8-1 7-1 8 0 7-1 9 0 8 0 7 0 6 0 9 0 7 0 9 1 8 1 7 1 7 1 2 0"/><path class="ct" stroke="#d22021" d="M1877 418l6 1 7 2 4 5-4 5-6 2-6 3-7 2-7 2-8 2-9 2-8 2-6 1-6 1-6 1-7 1-6 1-7 1-6 1-7 1-7 1-7 1-8 1-7 0-8 1-8 0-9 1-8 0-6 0-11-1-6 0-7-1-7-1-7-2-6-3 2-6 7-4 7-2 7-3 7-2 8-2 8-2 9-1 6-2 6-1 6-1 7-1 6-1 6-1 7-1 7-1 7 0 7-1 8-1 7-1 8 0 8-1 9 0 8 0 6 0 11 0 6 1 7 0 3 1"/><path class="ax" d="M103 1017L93 1014"/><path class="ax" d="M103 894L93 891"/><path class="ax" d="M103 771L93 768"/><path class="ax" d="M291 1074L279 1076"/><path class="ax" d="M103 1017L91 1019"/><path class="ax" d="M726 1087L735 1089"/><path class="ax" d="M972 1043L981 1046"/><path class="ax" d="M103 1017L103 771"/><path class="ax" d="M480 1130L972 1043"/><path class="ax" d="M480 1130L103 1017"/><path class="gd" d="M103 894L594 808"/><path class="gd" d="M594 808L972 920"/><path class="gd" d="M103 771L594 685"/><path class="gd" d="M594 685L972 797"/><path class="gd" d="M349 974L349 728"/><path class="gd" d="M783 987L783 741"/><path class="gd" d="M594 931L594 685"/><path class="gd" d="M594 931L594 685"/><path class="gd" d="M972 1043L972 797"/><path class="gd" d="M103 1017L103 771"/><path class="gd" d="M726 1087L349 974"/><path class="gd" d="M291 1074L783 987"/><path class="gd" d="M972 1043L594 931"/><path class="gd" d="M103 1017L594 931"/><path class="ct" stroke="#0441ae" d="M648 1100l-7-2-7-2-7-2-7-2-7-2-8-2-7-2-7-3-7-2-8-2-7-2-8-2-9-1-7-1-7-2-7 0-7-1-6 0-7 0-6-1-7 1-8 0-8 1-8 0-7 1-7 1-6 1-7 1-6 1-7 1-6 1-6 1-6 1-6 1-7 1-6 1-6 1-6 1-6 2-6 1-7 1-6 1-6 1-3 0"/><path class="ct" stroke="#0441ae" d="M232 1056l6-1 6-1 6-2 6-1 6-1 7-1 6-1 6-1 6-1 6-1 6-1 6-1 6-1 6-2 6-1 9-1 8-2 8-2 7-3 6-2 5-4-3-7-6-3-6-2-6-3-7-2-6-2-7-2-7-2-7-2-7-2-7-3-7-2-7-2-8-2-4-1"/><path class="ct" stroke="#0441ae" d="M843 1005l-6 1-7 1-6 1-6 1-6 1-6 1-6 1-6 2-7 1-6 1-6 1-6 1-6 1-6 1-6 1-9 2-8 2-8 2-7 2-6 3-5 4 4 6 6 4 5 2 6 2 7 2 7 3 7 2 7 2 7 2 7 2 7 2 7 2 7 2 7 3 5 1"/><path class="ct" stroke="#0441ae" d="M426 960l8 2 7 3 7 2 7 2 7 2 7 2 7 2 7 2 8 2 7 2 8 2 8 2 9 2 6 1 7 1 8 1 7 1 6 0 6 0 6 0 7 0 9 0 8-1 7-1 7 0 7-1 7-1 6-1 7-1 6-1 6-1 6-1 7-1 6-2 6-1 6-1 6-1 6-1 7-1 6-1 6-1 6-1 6-1 3-1"/><path class="ct" stroke="#017dd0" d="M674 1096l-7-2-7-2-7-3-8-2-7-2-7-2-7-2-7-2-7-2-8-2-7-2-8-2-8-2-9-2-6-1-7-1-8-1-8-1-8-1-6 0-10 0-7 0-9 0-9 0-9 0-8 1-7 1-7 0-8 1-6 1-7 1-6 1-7 1-6 1-6 1-7 1-6 1-6 1-6 1-6 1-7 1-6 1-6 2-6 1-6 1-6 1-6 1-7 1-3 0"/><path class="ct" stroke="#017dd0" d="M251 1062l7-1 6-2 6-1 6-1 6-1 6-1 6-1 7-1 6-1 6-1 6-1 6-1 6-1 6-2 6-1 6-1 9-2 8-2 8-2 7-2 6-2 7-3 5-4 1-6-5-5-6-3-7-3-7-3-6-2-7-2-7-2-7-2-7-2-7-3-7-2-7-2-7-2-7-2-7-2-2-1"/><path class="ct" stroke="#017dd0" d="M823 999l-6 1-6 1-7 1-6 1-6 1-6 1-6 2-6 1-6 1-6 1-7 1-6 1-6 1-6 1-6 1-6 1-8 2-9 2-8 2-7 2-6 2-6 3-6 5 0 6 4 4 6 4 8 3 6 2 6 3 7 2 7 2 7 2 7 2 7 2 7 2 7 2 7 3 7 2 7 2 3 1"/><path class="ct" stroke="#017dd0" d="M401 965l7 2 7 2 7 2 7 2 7 2 7 2 7 3 7 2 8 2 7 2 7 2 8 2 9 2 9 2 6 1 7 1 7 1 8 0 9 1 6 0 9 1 7 0 10 0 9 0 8-1 8 0 8-1 7-1 7 0 7-1 6-1 7-1 6-1 7-1 6-1 6-1 6-1 6-2 7-1 6-1 6-1 6-1 6-1 6-1 7-1 6-1 6-1 6-1 3-1"/><path class="ct" stroke="#38bab6" d="M699 1091l-8-2-7-2-7-2-7-2-7-2-7-2-7-2-7-2-8-2-7-3-8-2-8-2-7-1-7-2-6-1-7-1-7-1-8-1-8 0-9-1-8-1-6 0-9-1-8 0-9 0-6 0-6 0-7 0-6 0-9 0-8 1-9 0-8 1-7 0-7 1-7 1-7 1-7 1-6 1-7 1-6 1-7 1-6 1-6 1-6 1-6 1-6 1-7 1-6 1-6 1-6 1-6 2-6 1-7 1-6 1"/><path class="ct" stroke="#38bab6" d="M270 1067l7-1 6-1 6-1 6-1 6-1 6-1 6-1 7-1 6-1 6-2 6-1 6-1 6-1 6-1 6-1 9-2 8-2 7-1 7-2 7-2 6-3 6-2 6-4 4-4 3-6-1-6-5-5-6-3-7-4-6-2-7-2-6-2-7-3-7-2-7-2-7-2-7-2-7-2-7-2-7-2-7-3-3 0"/><path class="ct" stroke="#38bab6" d="M804 993l-6 1-6 1-7 2-6 1-6 1-6 1-6 1-6 1-6 1-6 1-7 1-6 1-6 1-6 2-6 1-8 1-9 2-7 2-6 2-7 2-7 2-6 3-5 3-5 4-3 6 2 7 5 5 5 3 8 3 6 3 6 2 7 2 6 2 7 2 7 2 7 3 7 2 8 2 7 2 7 2 7 2 2 1"/><path class="ct" stroke="#38bab6" d="M376 969l7 2 7 2 7 3 7 2 7 2 7 2 8 2 7 2 7 2 7 2 8 2 8 2 7 2 8 1 6 1 7 1 7 1 7 1 8 1 9 1 8 0 6 1 10 0 7 0 9 1 7 0 6 0 6 0 7 0 8-1 8 0 9-1 8 0 8-1 7-1 7 0 7-1 6-1 7-1 6-1 7-1 6-1 6-1 6-1 7-1 6-1 6-2 6-1 6-1 6-1 6-1 7-1 6-1 6-1 6-1"/><path class="ct" stroke="#c2d845" d="M628 1012l6 1 5 5-4 6-4 5-3 6-3 7-4 6-7 4-6 1-8 0-9 1-7-1-9 0-7 0-10 0-11-1-11 0-6 0-10-1-6 0-11 0-10 0-6-1-10 0-7 0-10 0-10-1-7-1-6-2 1-7 3-5 4-5 3-6 3-7 3-5 6-2 6-1 8-1 10 0 6 0 10 0 6 1 11 0 11 1 10 0 6 0 10 0 6 1 11 0 11 0 6 0 10 0 6 1 10 0 10 1 4 0"/><path class="ct" stroke="#f5a51e" d="M593 1017l6 1 6 3 5 4-1 6-4 6-6 4-7 3-9 1-7 1-8 1-9 0-9 0-6 0-10 0-7 0-10-1-10 0-8-1-6 0-8-1-6-1-8-2-5-4-1-6 4-7 5-4 6-2 8-2 7-1 7-1 8 0 8 0 6 0 6 0 11 0 6 0 10 0 11 1 7 0 6 1 8 1 4 0"/><path class="ct" stroke="#e63222" d="M575 1023l7 2 4 5-3 5-7 3-8 2-7 0-7 1-9 0-8 0-7 0-9 0-8-1-8-1-6-1-6-2-5-5 4-5 6-3 8-2 7-1 8 0 8-1 8 0 7 0 9 1 9 0 7 1 6 2"/><path class="ax" d="M1250 1017L1241 1014"/><path class="ax" d="M1250 894L1241 891"/><path class="ax" d="M1250 771L1241 768"/><path class="ax" d="M1438 1074L1426 1076"/><path class="ax" d="M1250 1017L1238 1019"/><path class="ax" d="M1872 1087L1882 1089"/><path class="ax" d="M2118 1043L2127 1046"/><path class="ax" d="M1250 1017L1250 771"/><path class="ax" d="M1627 1130L2118 1043"/><path class="ax" d="M1627 1130L1250 1017"/><path class="gd" d="M1250 894L1741 808"/><path class="gd" d="M1741 808L2118 920"/><path class="gd" d="M1250 771L1741 685"/><path class="gd" d="M1741 685L2118 797"/><path class="gd" d="M1495 974L1495 728"/><path class="gd" d="M1929 987L1929 741"/><path class="gd" d="M1741 931L1741 685"/><path class="gd" d="M1741 931L1741 685"/><path class="gd" d="M2118 1043L2118 797"/><path class="gd" d="M1250 1017L1250 771"/><path class="gd" d="M1872 1087L1495 974"/><path class="gd" d="M1438 1074L1929 987"/><path class="gd" d="M2118 1043L1741 931"/><path class="gd" d="M1250 1017L1741 931"/><path class="ct" stroke="#07349f" d="M1823 995l8 1 8 2 8 2 7 3 6 2 6 2 7 3 7 4 5 3 4 5 3 5 0 7-3 5-5 5-5 3-6 3-6 3-6 3-7 2-7 2-7 2-9 2-8 2-9 2-6 1-7 1-6 1-7 1-7 1-7 0-7 1-7 1-8 1-8 0-8 1-6 0-9 0-8 1-7 0-8 0-6 0-7 0-6 0-6 0-10 0-7 0-10-1-6 0-9 0-9-1-6 0-7-1-7-1-6 0-8-1-7-1-7-1-7-1-7-1-6-1-6-1-9-2-8-2-8-2-7-2-7-2-6-3-5-2-7-3-6-4-5-4-4-5-1-7 3-6 4-5 6-4 7-4 5-3 7-2 6-2 8-3 7-2 8-2 9-1 9-2 6-1 6-1 7-1 6-1 7-1 7-1 7-1 8 0 7-1 8-1 8 0 7 0 8-1 8 0 7 0 8 0 7-1 7 0 6 0 6 0 10 1 7 0 9 0 6 0 10 1 8 1 7 0 7 1 7 0 6 1 7 1 8 1 7 1 7 1 7 1 6 1 6 1 3 1"/><path class="ct" stroke="#0256bc" d="M1815 1004l7 2 7 2 6 2 6 3 6 3 5 4 4 5 2 6-2 6-4 4-6 4-6 3-6 3-6 2-7 2-8 2-8 2-9 2-6 1-6 1-7 1-6 1-7 1-7 1-8 0-6 1-9 1-8 0-8 1-9 0-9 0-8 0-7 0-6 0-8 0-9 0-7 0-9-1-9 0-6-1-7 0-7-1-6 0-8-1-7-1-7-1-7-1-7-1-6-1-8-2-8-2-8-2-6-2-7-3-5-2-6-4-5-3-5-5-2-6 3-6 4-5 6-4 5-2 6-3 7-2 7-3 8-2 8-2 9-1 6-1 6-2 6 0 7-1 7-1 7-1 7-1 6 0 10-1 8-1 8 0 9 0 9-1 8 0 6 0 7 0 8 0 9 1 7 0 9 0 8 1 7 0 6 1 7 0 7 1 8 1 7 1 7 1 7 1 6 1 6 1 9 2 8 2 0 0"/><path class="ct" stroke="#0285d3" d="M1801 1009l7 2 6 2 7 3 5 3 6 4 3 6-2 6-4 5-6 4-6 3-7 2-7 2-7 3-9 1-8 2-6 1-7 1-6 1-7 1-7 1-8 1-7 0-8 1-9 0-8 1-8 0-7 0-7 0-6 0-11 0-6 0-10-1-7 0-6-1-6 0-7-1-8-1-8-1-7-1-7-1-6-1-6-1-9-2-7-2-7-2-7-2-7-3-5-3-5-5-3-5 2-7 4-4 6-4 6-3 6-3 7-2 8-2 8-2 9-2 6-1 6-1 7-1 7-1 6 0 8-1 8-1 8 0 8-1 9 0 8 0 7 0 6 0 7 0 10 0 7 0 10 1 6 0 6 0 7 1 7 0 8 1 8 1 7 1 7 1 6 1 6 2 8 2 8 2 0 0"/><path class="ct" stroke="#1db4ce" d="M1786 1011l7 2 6 3 6 2 5 4 4 4 1 7-4 5-6 4-5 3-7 2-6 2-6 2-8 2-9 1-6 1-7 1-7 1-7 1-7 1-6 0-10 1-9 0-8 0-7 0-6 1-6-1-11 0-6 0-10 0-8-1-6 0-7-1-8-1-8-1-6-1-7-1-6-1-8-2-8-2-6-2-6-3-7-3-4-4-4-5 2-7 5-4 5-3 6-3 7-2 7-2 8-2 7-2 8-1 6-1 7-1 7-1 7-1 8 0 8-1 8 0 9-1 9 0 8 0 6 0 11 0 6 1 10 0 7 1 7 0 7 1 8 1 7 1 7 1 6 1 6 1 9 2 5 1"/><path class="ct" stroke="#7dc878" d="M1762 1011l8 2 7 2 6 2 7 4 5 3 3 6-2 6-6 4-6 3-6 2-8 2-8 2-9 2-6 1-6 1-7 1-8 1-6 0-9 1-9 0-8 0-7 1-6 0-7-1-10 0-7 0-6-1-7 0-7-1-7-1-8-1-7-1-6-1-8-2-8-2-7-2-5-2-6-3-4-4-1-7 4-5 5-3 6-3 7-2 8-3 8-1 6-2 6-1 7-1 7 0 7-1 6-1 10 0 8-1 9 0 6 0 7 0 7 0 10 0 7 1 6 0 6 1 7 0 8 1 8 1 6 1 7 1 3 1"/><path class="ct" stroke="#ddde30" d="M1751 1014l8 2 7 2 6 2 6 4 4 5-2 6-5 4-6 2-6 3-6 1-7 2-6 1-7 1-6 1-7 1-8 1-8 0-8 1-9 0-8 0-6 0-11-1-7 0-6 0-7-1-7-1-7-1-7-1-6-1-8-2-7-2-7-2-6-3-5-5 1-7 6-4 5-3 7-2 6-2 7-1 6-2 6-1 7-1 7 0 8-1 7-1 9 0 9 0 8 0 6 0 11 0 6 0 7 1 6 0 7 1 8 1 6 1 6 1 3 1"/><path class="ct" stroke="#f5af1e" d="M1741 1017l8 2 6 2 7 3 4 5-3 6-5 4-8 2-7 2-6 2-6 1-7 1-7 1-7 0-9 1-8 0-8 0-6 0-11 0-6-1-7 0-7-1-9-1-7-1-6-1-7-2-7-2-6-4-4-5 2-5 6-4 7-3 8-2 6-1 6-1 7-1 7-1 7-1 8 0 9 0 8-1 6 0 11 1 6 0 7 1 7 0 8 1 7 2 6 1"/><path class="ct" stroke="#ee6220" d="M1721 1018l6 1 8 2 7 2 5 4 0 6-5 4-8 3-8 2-6 1-7 1-7 0-8 1-8 0-8 0-7 0-9 0-9-1-7-1-7-1-8-2-7-2-6-3-3-6 5-5 6-2 8-2 9-2 7-1 7-1 8 0 9-1 8 0 7 1 9 0 8 1 8 1 3 0"/><path class="ct" stroke="#d22021" d="M1711 1022l8 2 6 2 3 6-6 4-8 2-6 1-7 1-8 0-9 1-7-1-9 0-8-1-6-1-8-2-6-4 2-5 6-3 9-2 6-1 8 0 7-1 7 0 9 0 7 1 7 1 3 0"/><path class="ax" d="M84 1681L75 1678"/><path class="ax" d="M84 1558L75 1556"/><path class="ax" d="M84 1436L75 1433"/><path class="ax" d="M271 1737L259 1740"/><path class="ax" d="M84 1681L72 1683"/><path class="ax" d="M702 1751L712 1753"/><path class="ax" d="M946 1707L955 1710"/><path class="ax" d="M84 1681L84 1436"/><path class="ax" d="M458 1794L946 1707"/><path class="ax" d="M458 1794L84 1681"/><path class="gd" d="M84 1558L572 1472"/><path class="gd" d="M572 1472L946 1585"/><path class="gd" d="M84 1436L572 1349"/><path class="gd" d="M572 1349L946 1462"/><path class="gd" d="M328 1638L328 1392"/><path class="gd" d="M759 1651L759 1406"/><path class="gd" d="M572 1595L572 1349"/><path class="gd" d="M572 1595L572 1349"/><path class="gd" d="M946 1707L946 1462"/><path class="gd" d="M84 1681L84 1436"/><path class="gd" d="M702 1751L328 1638"/><path class="gd" d="M271 1737L759 1651"/><path class="gd" d="M946 1707L572 1595"/><path class="gd" d="M84 1681L572 1595"/><path class="ct" stroke="#0c2683" d="M517 1709l-9-1-8-1-7-1-7 0-10 0-7 0-7 0-8 0-7 1-8 1-6 1-6 1-9 2-7 2-6 2-7 4-1 6 6 5 7 3 7 2 7 2 9 2 6 1 6 1 7 1 7 1 7 1 8 1 8 1 7 0 6 1 6 0 11 1 6 0 7-1 9 0 6-1 6-1 7-2 6-4 3-5-1-6-5-5-5-4-7-3-6-2-6-2-8-2-6-2-1 0"/><path class="ct" stroke="#034cb6" d="M706 1750l-6-2-7-4-6-3-5-4-6-3-4-4-5-3-5-4-5-3-6-4-5-3-7-4-6-3-6-3-7-3-6-2-6-2-7-2-8-2-8-2-8-2-6-1-7-1-6-1-8-1-7-1-8-1-9-1-8 0-6-1-10 0-7 0-6 0-6 0-7 0-8 0-8 1-8 0-8 1-8 0-7 1-8 1-7 0-6 1-7 1-7 1-6 1-6 1-6 1-6 1-9 2-8 2-9 2-7 2-8 2-7 2-7 2-6 3-6 2-6 3-7 4-5 4-2 7 3 6 5 3 7 4 6 2 7 2 7 2 8 2 8 2 8 2 6 1 6 1 6 1 6 2 6 1 6 1 6 1 7 1 6 1 6 1 7 1 6 2 6 1 6 1 7 1 6 1 6 1 6 2 8 1 8 2 8 2 7 2 7 2 6 3 2 1"/><path class="ct" stroke="#0287d4" d="M763 1740l-6-3-6-3-7-3-6-3-6-4-6-3-5-4-6-3-5-4-6-3-6-4-6-3-7-3-7-4-7-3-6-2-6-2-6-3-7-2-7-2-8-2-8-2-8-2-9-2-6-1-7-1-6-1-8-1-6-1-8 0-7-1-6 0-7-1-8 0-9-1-7 0-8 0-10 0-7 0-7 0-7 0-8 1-9 0-9 1-8 0-8 1-7 1-7 0-8 1-7 1-6 1-7 1-7 1-6 1-7 1-6 1-6 1-6 1-6 1-6 1-9 2-9 1-8 2-9 2-7 2-6 1-8 2-8 2-7 2-8 3-7 2-7 2-7 2-7 3-6 2-6 2-6 3-6 3-5 2"/><path class="ct" stroke="#3fbbb0" d="M810 1732l-6-3-7-3-7-3-6-4-6-3-6-4-5-3-6-3-6-4-5-3-6-4-6-3-7-4-6-3-7-3-7-3-6-3-6-2-6-2-7-2-6-3-7-2-8-2-7-2-9-2-8-1-6-2-6-1-7-1-7-1-7-1-7-1-8-1-8 0-8-1-6-1-6 0-8 0-9-1-7 0-8 0-10 0-7 0-7 0-8 1-9 0-8 0-8 1-8 1-8 0-7 1-7 1-8 0-7 1-7 1-7 1-6 1-7 0-7 1-6 1-6 1-7 1-6 1-6 1-7 1-6 2-6 1-6 1-6 1-6 1-8 2-9 2-8 1-8 2-6 2-8 1-7 2-7 2-8 2-8 2-8 2-7 2-8 2-8 2-7 2-8 2-7 2-8 2-7 2-7 3-3 0"/><path class="ct" stroke="#bdd748" d="M854 1724l-5-3-7-3-6-2-6-4-6-3-6-4-5-3-6-4-6-3-5-4-6-3-5-3-6-4-6-3-6-4-7-3-7-3-7-3-7-4-6-2-5-2-6-3-7-2-6-2-7-2-7-2-8-2-7-2-6-1-9-2-6-2-6-1-6-1-7-1-7-1-8-1-7-1-9 0-7-1-6 0-11-1-11 0-6 0-6 0-7 0-7 0-6 0-9 1-8 0-8 1-8 0-7 1-8 1-8 0-7 1-7 1-7 0-7 1-7 1-7 1-6 1-7 1-7 1-6 1-7 1-6 1-6 1-7 1-6 1-6 1-6 1-6 1-6 1-6 1-6 1-6 1-9 2-8 2-9 2-7 1-7 2-9 2-8 1-8 2-9 2-8 2-8 2-8 2-8 2-8 2-8 2-8 2-8 2-8 2-8 2-8 2-8 2-8 2-8 2-8 1-3 1"/><path class="ct" stroke="#f5b01e" d="M508 1606l-6 3-7 2-8 2-8 2-8 2-8 2-9 2-9 1-8 2-9 2-9 2-8 1-9 2-9 2-8 2-9 1-9 2-8 2-9 2-8 2-9 1-8 2-8 2-6 1-8 2-9 2-8 2-8 2-8 2-9 2-8 2-8 1-8 2-8 2-8 2-8 2-8 2-8 2-6 1-8 2-8 2-8 2-9 2-8 2-8 2-7 1-7 2-3 0"/><path class="ct" stroke="#f5b01e" d="M903 1715l-6-2-7-3-7-4-6-3-6-4-6-3-5-4-5-3-5-4-5-3-5-4-5-4"/><path class="ct" stroke="#ea4921" d="M288 1645l-8 2-8 2-8 2-8 2-8 2-8 2-8 2-8 2-8 2-8 2-8 1-8 2-8 2-6 2-8 2-6 1-8 2-8 2-7 1-7 2-8 1-9 2-9 2-3 1"/><path class="ct" stroke="#a8191c" d="M144 1671l-7 1-9 2-8 2-9 2-8 1-9 2-6 1"/><path class="ax" d="M1274 1654L1264 1651"/><path class="ax" d="M1274 1531L1264 1528"/><path class="ax" d="M1274 1408L1264 1405"/><path class="ax" d="M1461 1710L1449 1713"/><path class="ax" d="M1274 1654L1261 1656"/><path class="ax" d="M1893 1724L1903 1726"/><path class="ax" d="M2138 1680L2147 1683"/><path class="ax" d="M1274 1654L1274 1408"/><path class="ax" d="M1649 1767L2138 1680"/><path class="ax" d="M1649 1767L1274 1654"/><path class="gd" d="M1274 1531L1763 1444"/><path class="gd" d="M1763 1444L2138 1557"/><path class="gd" d="M1274 1408L1763 1321"/><path class="gd" d="M1763 1321L2138 1434"/><path class="gd" d="M1518 1611L1518 1364"/><path class="gd" d="M1950 1624L1950 1377"/><path class="gd" d="M1763 1567L1763 1321"/><path class="gd" d="M1763 1567L1763 1321"/><path class="gd" d="M2138 1680L2138 1434"/><path class="gd" d="M1274 1654L1274 1408"/><path class="gd" d="M1893 1724L1518 1611"/><path class="gd" d="M1461 1710L1950 1624"/><path class="gd" d="M2138 1680L1763 1567"/><path class="gd" d="M1274 1654L1763 1567"/><path class="ct" stroke="#053aaa" d="M1647 1696l-8-1-9 1-7 0-6 1-8 2-6 2-6 2-7 2-6 3-5 3-7 3-7 4-5 5-4 4 1 7 5 3 7 3 9 0 6 0 7-1 7-1 8-2 8-2 6-2 7-2 6-3 5-3 7-4 6-4 5-4 4-5-2-7-7-3-4-1"/><path class="ct" stroke="#053aaa" d="M1337 1643l-5 3-5 4-5 4-2 6 3 5 6 3 6 1 9 0 8 0 7-1 6-1 8-2 7-2 7-3 6-2 6-3 5-3 7-3 6-4 5-5 2-6-4-6"/><path class="ct" stroke="#053aaa" d="M1950 1641l-8 0-6 0-7 1-6 1-8 2-7 2-7 3-6 2-6 3-6 3-7 3-5 5-5 4-3 6 4 6 6 3 7 1 9 0 8-1 6-1 9-2 8-2 7-2 6-2 6-3 6-3 7-3 5-4 6-4 4-5-1-7-6-4-8-2-2 0"/><path class="ct" stroke="#053aaa" d="M1644 1588l-5 4-6 4-4 4-2 6 4 5 5 2 6 1 7 1 9 0 7-1 6-1 8-2 7-2 7-3 6-2 6-3 6-2 7-4 5-4 4-4 4-5-1-7-3-1"/><path class="ct" stroke="#0069c8" d="M1590 1749l9-2 7-2 8-2 6-2 7-3 6-2 6-3 6-2 6-3 5-3 6-3 6-3 6-4 5-5 5-4 2-6-3-6-6-4-6-2-8-2-7-1-9 0-9 0-7 1-6 1-9 1-7 2-8 3-6 2-7 2-6 3-6 3-6 2-5 3-6 3-7 3-5 4-6 3-5 4-4 5-1 1"/><path class="ct" stroke="#0069c8" d="M1354 1678l9-2 8-2 7-2 7-2 6-3 6-2 6-3 6-2 6-3 5-3 7-3 6-4 5-3 5-4 5-5 2-7-3-5"/><path class="ct" stroke="#0069c8" d="M1310 1648l-6 3-5 5-4 4"/><path class="ct" stroke="#0069c8" d="M1973 1632l-6-1-9-1-6 0-8 1-7 0-6 2-9 1-7 2-7 3-7 2-7 3-6 2-6 3-6 2-5 3-5 3-7 3-5 3-6 4-5 5-4 4-2 7 4 5 6 3 6 3 9 2 8 0 7 1 8-1 7-1 7-1 8-1 7-2 8-3 7-2 6-2 6-3 6-3 6-2 6-3 5-3 7-3 6-4 6-4 5-5 4-4 1-7-4-5-6-3-7-2-3-1"/><path class="ct" stroke="#0069c8" d="M1617 1593l-6 5-5 4-4 5 0 6 4 5 6 3 7 2 9 2 8 1 6 0 7-1 8 0 6-1 8-2 8-2 7-3 7-2 6-2 7-3 6-2 5-3 6-3 5-3 7-3 5-3 6-4 5-5 5-4 1-6-2-5"/><path class="ct" stroke="#05afe4" d="M1606 1754l7-2 6-3 7-2 6-3 6-2 6-3 5-3 6-2 6-3 5-3 6-2 5-3 7-4 5-3 6-3 5-4 5-4 5-5 1-6-3-5-6-3-7-3-7-3-7-2-9-2-6-1-8 0-11-1-8 1-6 1-6 1-8 2-7 2-7 2-7 3-6 2-7 3-6 2-6 3-5 3-6 2-6 3-5 3-6 2-5 3-7 4-5 3-6 3-5 4-2 1"/><path class="ct" stroke="#05afe4" d="M1370 1683l7-2 6-3 7-2 6-3 6-2 6-3 6-3 5-2 6-3 6-3 5-2 5-3 7-4 7-4 5-3 6-4 5-4 4-5 0-6-3-3"/><path class="ct" stroke="#05afe4" d="M1285 1652l-6 4"/><path class="ct" stroke="#05afe4" d="M1942 1621l-7 1-8 2-7 2-7 3-7 2-6 3-6 2-6 3-6 2-6 3-6 2-6 3-5 3-6 3-5 2-7 4-6 3-6 4-6 4-5 4-5 4-1 6 4 6 6 4 5 2 7 3 7 2 8 1 7 2 7 0 9 1 9 0 7-1 6-1 8-2 8-2 7-3 6-2 6-2 7-3 6-3 6-2 6-3 6-2 5-3 6-3 5-2 6-3 6-4 6-3 6-3 5-4 6-4 4-4 3-4"/><path class="ct" stroke="#05afe4" d="M1592 1598l-6 4-5 4-4 5-1 6 5 5 6 3 6 3 6 2 8 2 7 2 8 1 8 1 6 0 6 0 6-1 7-1 9-1 6-2 6-2 7-2 7-3 6-2 6-3 6-2 6-3 6-3 6-2 5-3 6-3 5-2 6-3 6-3 6-4 5-3 6-4 5-3 5-5 1-3"/><path class="ct" stroke="#7dc878" d="M1619 1758l6-3 6-2 5-3 6-3 6-2 5-3 6-3 6-2 5-3 6-3 6-3 5-2 6-3 6-3 5-2 6-3 6-3 5-2 6-3 5-3 6-2 6-3 5-3 6-2 6-3 6 1 7 2 7 2 7 3 7 2 7 2 7 2 7 2 7 2 7 2 7 2 7 2 7 3 7 2 7 2 7 2 9 2 5-3 6-3 5-3 6-2 6-3 5-3 6-2 6-3 5-3 6-2 6-3 5-3 6-2 6-3 5-3 6-2 6-3 5-3 6-2 6-3 5-3 6-2 6-3 5-3 6-3 5-2 6-3 6-3"/><path class="ct" stroke="#7dc878" d="M1384 1687l5-3 6-2 6-3 5-3 6-2 6-3 5-3 6-2 5-3 6-3 6-2 5-3 6-3 6-2 5-3 6-3 6-3 5-2 6-3 6-3 5-2 6-3 6-3 5-2 6-3 7 2 7 2 7 2 7 2 7 2 7 2 7 2 7 2 8 3 7 2 7 2 7 2 7 2 7 2 7 2 7 2-3 6-5 3-6 2-6 3-5 3-6 2-6 3-5 3-6 3-6 2-5 3-6 3-6 2-5 3-6 3-5 2-6 3-6 3-5 2-6 3-6 3-5 2-6 3-6 3-3 2"/><path class="ct" stroke="#7dc878" d="M1921 1615l-6 3-5 2-6 3-6 3-5 2-6 3-6 3-5 2-6 3-6 3-5 2-6 3-6 3-5 3-6 2-6 3-5 3-6 2-6 3-5 3-6 2-5 3-6 3-6 2-5 3-6 3-6 2-5 3-8-1-7-2-7-3-7-2-7-2-7-2-7-2-7-2-7-2-7-2-7-2-7-3-7-2-7-2-8-2-7-2 3-6 6-3 6-2 5-3 6-3 6-2 5-3 6-3 5-2 6-3 6-3 5-2 6-3 6-3 5-3 6-2 6-3 5-3 6-2 6-3 5-3 6-2 6-3 5-3 6-2 6-3 5-3 4-1"/><path class="ct" stroke="#7dc878" d="M1560 1603l-7 4-5 2-6 3-6 3-5 2-8 2-7-2-7-2-5-2"/><path class="ct" stroke="#f5e41e" d="M1633 1762l5-3 5-3 6-4 6-3 6-3 6-3 5-3 6-2 6-3 5-3 6-2 6-3 6-2 7-3 6-2 7-3 7-2 8-2 9-2 6-1 8 0 9 0 8 1 7 1 6 1 8 2 7 2 6 2 7 4 5 4 1 6-1 2"/><path class="ct" stroke="#f5e41e" d="M1397 1691l6-4 6-3 6-3 5-3 5-3 6-3 5-3 6-2 6-3 6-3 6-2 6-3 6-2 6-3 6-2 7-3 7-2 8-2 9-2 7-1 7 0 7 0 9 1 7 1 6 1 8 2 7 2 6 2 5 3 6 3 3 5-1 6-4 5-6 4-6 4-5 3-6 3-6 3-5 3-6 3-5 3-6 2-5 3-6 2-6 3-6 3-6 2-7 3-6 2-7 2"/><path class="ct" stroke="#f5e41e" d="M1900 1609l-4 5-5 5-7 4-6 4-5 3-7 3-6 3-5 3-6 3-5 2-6 3-6 3-6 2-6 3-6 2-7 3-6 2-7 2-7 3-8 2-9 1-7 1-9 0-7 0-8-1-7-1-8-2-8-2-6-2-6-2-6-4-4-5 1-6 4-4 5-5 6-4 6-4 5-2 7-4 6-3 5-3 6-2 5-3 6-3 6-2 6-3 6-3 6-2 6-3 7-2 7-2 7-3 8-2 9-1"/><path class="ct" stroke="#f5e41e" d="M1931 1717l4-5 6-5 6-4 6-3 6-4 7-3 5-3 6-3 5-2 6-3 6-3 6-2 6-3 6-3 6-2 6-2 7-3 7-2 7-2 8-2 6-1"/><path class="ct" stroke="#f58c1e" d="M1649 1767l4-5 5-4 5-4 5-3 7-4 6-3 5-2 6-3 6-3 6-2 6-3 7-2 7-2 8-2 8-2 6-1 7-1 7-1 8 0 8 1 7 1 8 2 5 2 5 4 3 6-1 4"/><path class="ct" stroke="#f58c1e" d="M1413 1696l4-5 5-4 6-4 5-4 6-3 6-3 5-2 6-3 6-2 6-3 7-3 6-2 7-2 8-2 8-2 6-1 7-1 8-1 9 0 8 1 7 1 7 2 6 3 5 4 1 6-4 6-4 4-5 4-6 4-6 3-6 3-6 3-6 3-6 3-6 2-6 3-7 2-7 2-7 3-8 2-6 1"/><path class="ct" stroke="#f58c1e" d="M1856 1597l7 2 7 3 5 5-1 7-4 5-5 4-5 4-6 4-6 3-5 3-6 2-6 3-5 3-7 2-6 3-7 2-7 2-6 2-7 2-8 2-7 0-8 1-9 0-7-1-8-1-8-2-6-3-5-4 0-6 3-6 4-4 6-4 5-3 6-4 5-3 6-2 5-3 6-3 6-2 7-3 6-2 6-2 8-3 8-2 9-2 6 0 7-1 7 0 9 0 8 1 3 1"/><path class="ct" stroke="#f58c1e" d="M1956 1712l5-5 5-4 6-4 6-4 5-3 6-3 5-2 6-3 6-3 6-2 7-2 6-3 7-2 6-1 7-2 7-2 6-1 8 0 9 0 6 0 6 1 6 1 7 2 6 4 5 4-1 7 0 0"/><path class="ct" stroke="#e42323" d="M1531 1661l6 2 5 4-1 7-5 5-6 4-6 4-5 3-6 2-6 3-7 2-7 3-7 2-6 1-6 1-8 1-9 0-8-1-7-3-4-4 1-6 4-5 6-4 6-4 6-3 5-2 6-3 7-2 7-3 7-2 6-1 6-1 7-1 7 0 9 0 3 1"/><path class="ct" stroke="#e42323" d="M1675 1762l4-5 6-4 5-4 6-3 6-3 6-2 7-3 7-2 7-2 9-2 7-1 6 0 6 0 7 1 7 1 5 3 2 7-1 1"/><path class="ct" stroke="#e42323" d="M1835 1606l8 2 5 4 1 6-4 6-6 4-5 3-6 3-7 4-6 2-6 3-7 2-8 2-8 2-7 1-8 0-8 0-7-1-6-2-5-5 1-6 5-5 6-4 6-4 6-3 6-2 6-3 6-2 7-2 6-2 8-2 6-1 8 0 10 0 3 0"/><path class="ct" stroke="#e42323" d="M1982 1708l4-5 5-4 6-4 6-3 5-2 7-3 6-3 7-2 7-2 9-2 6-1 7-1 8 0 8 1 7 2 5 4-1 7"/><g class="s"><g><path fill="url(#g0)" stroke="url(#g0)" d="M953 267l-10-3-11-4-10-4-10-4-11-4-10-4-10-4-11-4-10-4-10-4-11-3-10-3-10-3-11-2-10-2-11-2-10-2-10-1-11-2-10-2-10-2-11-2-10-3-10-2-11-3-10-3-10-3-11-3-10-3-11-3-10-3-10-3-11-3-10-3-10-4-11-3 8-1 10 3 11 3 10 3 10 4 11 3 10 3 10 3 11 3 10 3 11 3 10 3 10 3 11 2 10 3 10 2 11 2 10 2 10 2 11 2 10 2 10 2 11 2 10 3 11 2 10 3 10 4 11 3 10 4 10 4 11 4 10 4 10 4 11 4 10 3 10 4 11 3z"/><path fill="url(#g1)" stroke="url(#g1)" d="M946 268l-11-4-10-3-10-4-11-4-10-4-11-4-10-5-10-4-11-4-10-4-10-3-11-4-10-2-10-3-11-1-10-2-10-2-11-1-10-2-11-1-10-2-10-2-11-2-10-3-10-3-11-2-10-3-10-3-11-3-10-3-10-4-11-3-10-3-11-3-10-3-10-3 7-2 11 3 10 4 10 3 11 3 10 3 10 3 11 3 10 3 11 3 10 3 10 3 11 3 10 2 10 3 11 2 10 2 10 2 11 2 10 1 10 2 11 2 10 2 11 2 10 3 10 3 11 3 10 4 10 4 11 4 10 4 10 4 11 4 10 4 10 4 11 4 10 3z"/><path fill="url(#g2)" stroke="url(#g2)" d="M938 269l-10-4-11-4-10-3-10-5-11-4-10-4-10-5-11-4-10-4-11-4-10-4-10-3-11-3-10-2-10-2-11-1-10-2-10-1-11-1-10-2-10-1-11-2-10-2-11-3-10-2-10-3-11-3-10-3-10-3-11-3-10-3-10-3-11-3-10-4-10-3-11-3 8-1 10 3 10 3 11 3 10 3 11 3 10 4 10 3 11 3 10 3 10 3 11 2 10 3 10 3 11 2 10 2 10 2 11 1 10 2 11 1 10 2 10 2 11 1 10 3 10 2 11 4 10 3 10 4 11 4 10 4 10 5 11 4 10 4 11 4 10 4 10 3 11 4z"/><path fill="url(#g3)" stroke="url(#g3)" d="M930 270l-10-4-10-4-11-4-10-4-10-5-11-4-10-5-10-4-11-5-10-4-11-4-10-3-10-2-11-2-10-2-10-1-11-1-10-2-10-1-11-1-10-1-10-2-11-2-10-3-11-2-10-3-10-3-11-3-10-3-10-3-11-3-10-3-10-3-11-3-10-3-10-4 7-1 11 3 10 3 10 4 11 3 10 3 10 3 11 3 10 3 10 3 11 3 10 3 10 2 11 3 10 2 11 2 10 1 10 2 11 1 10 1 10 2 11 1 10 2 10 2 11 3 10 3 10 4 11 4 10 4 11 4 10 5 10 4 11 4 10 5 10 3 11 4 10 4z"/><path fill="url(#g4)" stroke="url(#g4)" d="M923 270l-11-3-10-4-10-4-11-5-10-4-10-5-11-5-10-5-10-4-11-4-10-4-10-3-11-3-10-2-11-1-10-1-10-1-11-1-10-1-10-1-11-2-10-1-10-2-11-2-10-3-10-3-11-2-10-3-11-3-10-3-10-3-11-4-10-3-10-3-11-3-10-3 8-2 10 4 10 3 11 3 10 3 10 3 11 3 10 3 10 3 11 3 10 3 10 3 11 2 10 3 11 2 10 2 10 1 11 1 10 1 10 2 11 1 10 1 10 2 11 2 10 2 10 3 11 4 10 4 11 5 10 4 10 5 11 4 10 5 10 4 11 4 10 4 10 4z"/><path fill="url(#g5)" stroke="url(#g5)" d="M915 271l-10-4-10-4-11-4-10-4-11-5-10-5-10-5-11-5-10-5-10-4-11-4-10-3-10-2-11-2-10-2-10-1-11 0-10-1-11-1-10-1-10-1-11-1-10-2-10-2-11-3-10-2-10-3-11-3-10-3-10-3-11-3-10-3-11-3-10-4-10-3-11-3 8-1 10 3 11 3 10 3 10 3 11 4 10 3 10 3 11 3 10 3 11 2 10 3 10 3 11 2 10 2 10 1 11 2 10 1 10 1 11 1 10 1 10 1 11 1 10 2 11 3 10 3 10 4 11 4 10 4 10 5 11 5 10 5 10 4 11 5 10 4 10 4 11 3z"/><path fill="url(#g6)" stroke="url(#g6)" d="M908 272l-11-4-10-4-10-4-11-5-10-5-10-5-11-5-10-5-11-5-10-4-10-4-11-3-10-3-10-2-11-1-10-1-10 0-11-1-10 0-10-1-11-1-10-1-11-2-10-2-10-2-11-3-10-3-10-3-11-3-10-3-10-3-11-3-10-3-11-3-10-3-10-3 7-2 11 3 10 3 10 4 11 3 10 3 11 3 10 3 10 3 11 3 10 3 10 2 11 3 10 2 10 2 11 1 10 1 10 1 11 1 10 1 11 0 10 1 10 2 11 2 10 2 10 3 11 4 10 4 10 5 11 5 10 5 10 5 11 5 10 4 11 4 10 4 10 4z"/><path fill="url(#g7)" stroke="url(#g7)" d="M900 273l-10-4-11-4-10-5-10-5-11-5-10-5-10-5-11-5-10-5-11-5-10-4-10-3-11-2-10-2-10-1-11-1-10 0-10 0-11-1-10 0-10-1-11-1-10-2-11-2-10-2-10-3-11-2-10-3-10-3-11-3-10-3-10-4-11-3-10-3-10-3-11-3 8-1 10 3 10 3 11 3 10 3 11 3 10 3 10 3 11 3 10 3 10 3 11 3 10 2 10 2 11 2 10 1 11 1 10 1 10 0 11 1 10 0 10 1 11 1 10 2 10 3 11 3 10 4 10 4 11 5 10 5 11 5 10 5 10 5 11 5 10 4 10 4 11 4z"/><path fill="url(#g8)" stroke="url(#g8)" d="M892 273l-10-3-10-5-11-4-10-5-10-5-11-6-10-5-10-5-11-5-10-5-10-4-11-3-10-2-11-2-10-1-10 0-11-1-10 0-10 0-11 0-10-1-10-1-11-2-10-2-10-2-11-2-10-3-11-3-10-3-10-3-11-3-10-3-10-3-11-3-10-4-10-3 7-1 11 3 10 3 10 3 11 3 10 4 10 3 11 3 10 3 10 3 11 2 10 3 10 2 11 2 10 2 11 1 10 1 10 0 11 1 10 0 10 0 11 1 10 1 10 2 11 2 10 3 10 4 11 5 10 5 11 5 10 5 10 5 11 5 10 5 10 5 11 4 10 4z"/><path fill="url(#g9)" stroke="url(#g9)" d="M885 274l-10-4-11-4-10-5-11-5-10-5-10-5-11-6-10-5-10-5-11-5-10-4-10-3-11-2-10-2-10-1-11 0-10 0-11 0-10 0-10 0-11-1-10-1-10-2-11-1-10-3-10-2-11-3-10-3-10-3-11-3-10-3-11-3-10-3-10-3-11-3-10-3 8-2 10 3 10 4 11 3 10 3 10 3 11 3 10 3 10 3 11 3 10 3 11 2 10 2 10 2 11 2 10 1 10 1 11 0 10 0 10 0 11 1 10 0 10 1 11 2 10 2 11 3 10 4 10 5 11 5 10 5 10 5 11 6 10 5 10 5 11 4 10 5 10 3z"/><path fill="url(#g10)" stroke="url(#g10)" d="M877 275l-10-4-10-4-11-5-10-5-11-5-10-6-10-5-11-6-10-5-10-5-11-4-10-3-10-2-11-2-10 0-10-1-11 0-10 1-11 0-10-1-10 0-11-1-10-1-10-2-11-2-10-3-10-2-11-3-10-3-10-3-11-3-10-3-11-4-10-3-10-3-11-3 8-1 10 3 11 3 10 3 10 3 11 3 10 3 11 3 10 3 10 3 11 3 10 2 10 3 11 1 10 2 10 1 11 1 10 0 10 0 11 0 10 0 11 0 10 1 10 2 11 2 10 3 10 4 11 5 10 5 10 5 11 6 10 5 10 5 11 5 10 5 11 4 10 4z"/><path fill="url(#g11)" stroke="url(#g11)" d="M870 276l-11-4-10-4-10-5-11-5-10-6-10-5-11-6-10-5-11-6-10-4-10-4-11-3-10-3-10-1-11-1-10 0-10 0-11 0-10 1-10 0-11-1-10-1-11-1-10-2-10-2-11-2-10-3-10-3-11-3-10-3-10-3-11-3-10-3-10-3-11-3-10-4 7-1 11 3 10 3 10 3 11 4 10 3 11 3 10 3 10 3 11 3 10 2 10 3 11 2 10 2 10 1 11 1 10 0 10 1 11 0 10-1 11 0 10 1 10 0 11 2 10 2 10 3 11 4 10 5 10 5 11 6 10 5 10 6 11 5 10 5 11 5 10 4 10 4z"/><path fill="url(#g12)" stroke="url(#g12)" d="M862 277l-10-4-11-5-10-4-10-5-11-6-10-5-10-6-11-6-10-5-10-5-11-4-10-3-11-2-10-1-10-1-11 0-10 0-10 1-11 0-10 0-10-1-11-1-10-1-10-2-11-2-10-2-11-3-10-3-10-2-11-3-10-4-10-3-11-3-10-3-10-3-11-3 8-2 10 4 11 3 10 3 10 3 11 3 10 3 10 3 11 3 10 3 10 3 11 2 10 2 10 2 11 1 10 1 11 1 10 0 10-1 11 0 10 0 10 0 11 1 10 1 10 3 11 3 10 4 10 4 11 6 10 5 11 6 10 5 10 6 11 5 10 5 10 4 11 4z"/><path fill="url(#g13)" stroke="url(#g13)" d="M855 277l-11-4-10-4-11-4-10-6-10-5-11-5-10-6-10-6-11-5-10-5-10-4-11-3-10-2-11-1-10-1-10 0-11 0-10 1-10 0-11 0-10 0-10-1-11-2-10-1-10-2-11-3-10-2-11-3-10-3-10-3-11-3-10-3-10-3-11-4-10-3-10-3 7-1 11 3 10 3 10 3 11 3 10 3 10 4 11 3 10 2 10 3 11 3 10 2 11 2 10 2 10 1 11 1 10 1 10 0 11 0 10-1 10 0 11 0 10 1 10 1 11 2 10 3 11 4 10 5 10 5 11 6 10 6 10 5 11 6 10 5 10 4 11 5 10 4z"/><path fill="url(#g14)" stroke="url(#g14)" d="M847 278l-10-4-11-4-10-5-11-5-10-5-10-5-11-6-10-6-10-5-11-4-10-4-10-3-11-2-10-2-10 0-11-1-10 1-11 0-10 0-10 0-11 0-10-1-10-1-11-2-10-2-10-2-11-3-10-3-10-3-11-3-10-3-11-3-10-3-10-3-11-3-10-4 8-1 10 3 10 3 11 4 10 3 10 3 11 3 10 3 10 3 11 3 10 2 11 3 10 2 10 1 11 2 10 1 10 0 11 0 10 0 10-1 11 0 10 0 10 1 11 1 10 2 11 3 10 4 10 5 11 5 10 6 10 6 11 5 10 5 10 6 11 4 10 4 11 4z"/><path fill="url(#g15)" stroke="url(#g15)" d="M839 279l-10-4-10-4-11-5-10-4-10-6-11-5-10-6-11-5-10-5-10-5-11-4-10-3-10-2-11-1-10-1-10 0-11 0-10 1-10 0-11 0-10-1-11 0-10-2-10-2-11-2-10-2-10-3-11-2-10-3-10-3-11-3-10-4-10-3-11-3-10-3-11-3 8-2 10 4 11 3 10 3 10 3 11 3 10 3 11 3 10 3 10 3 11 3 10 2 10 2 11 2 10 1 10 1 11 0 10 0 10 0 11 0 10-1 11 1 10 0 10 2 11 2 10 3 10 4 11 4 10 5 10 6 11 6 10 5 10 5 11 5 10 5 11 4 10 4z"/><path fill="url(#g16)" stroke="url(#g16)" d="M832 280l-11-4-10-4-10-4-11-5-10-5-10-6-11-5-10-6-10-5-11-4-10-4-11-3-10-2-10-1-11-1-10 0-10 0-11 0-10 1-10-1-11 0-10-1-10-1-11-2-10-2-11-3-10-2-10-3-11-3-10-3-10-3-11-3-10-3-10-4-11-3-10-3 7-1 11 3 10 3 11 3 10 3 10 4 11 3 10 3 10 3 11 2 10 3 10 2 11 2 10 2 10 2 11 0 10 1 11 0 10 0 10-1 11 0 10 0 10 1 11 1 10 2 10 3 11 4 10 5 10 5 11 5 10 6 11 5 10 6 10 4 11 5 10 4 10 4z"/><path fill="url(#g17)" stroke="url(#g17)" d="M824 281l-10-4-11-4-10-4-10-5-11-5-10-5-10-6-11-5-10-5-10-4-11-4-10-3-11-2-10-1-10-1-11 0-10 0-10 0-11 0-10 0-10 0-11-1-10-2-10-2-11-2-10-2-11-3-10-3-10-3-11-3-10-3-10-3-11-3-10-3-10-3-11-3 8-2 10 3 11 3 10 4 10 3 11 3 10 3 10 3 11 3 10 3 10 2 11 3 10 2 11 2 10 1 10 1 11 0 10 1 10-1 11 0 10 0 10 0 11 1 10 1 10 2 11 3 10 4 11 4 10 5 10 6 11 5 10 6 10 5 11 5 10 4 10 4 11 4z"/><path fill="url(#g18)" stroke="url(#g18)" d="M817 282l-11-4-10-4-11-4-10-5-10-5-11-5-10-5-10-5-11-5-10-4-10-3-11-3-10-2-10-2-11-1-10 0-11 0-10 0-10 0-11 0-10-1-10-1-11-1-10-2-10-2-11-3-10-2-10-3-11-3-10-3-11-3-10-3-10-4-11-3-10-3-10-3 7-1 11 3 10 3 10 3 11 3 10 3 10 3 11 3 10 3 10 3 11 3 10 2 11 2 10 2 10 2 11 1 10 0 10 0 11 0 10 0 10 0 11 0 10 1 10 1 11 2 10 3 11 4 10 4 10 5 11 5 10 6 10 5 11 5 10 5 10 4 11 4 10 4z"/><path fill="url(#g19)" stroke="url(#g19)" d="M809 283l-10-4-11-4-10-4-10-4-11-5-10-5-11-5-10-5-10-4-11-5-10-3-10-3-11-2-10-1-10-1-11 0-10-1-10 0-11 0-10 0-11-1-10-1-10-2-11-2-10-2-10-2-11-3-10-3-10-3-11-3-10-3-10-3-11-3-10-3-11-4-10-3 8-1 10 3 10 3 11 3 10 4 10 3 11 3 10 3 11 3 10 3 10 2 11 3 10 2 10 2 11 1 10 1 10 1 11 0 10 0 10 0 11 0 10 0 11 1 10 2 10 2 11 3 10 3 10 4 11 5 10 5 10 5 11 5 10 5 10 5 11 4 10 4 11 4z"/><path fill="url(#g20)" stroke="url(#g20)" d="M801 283l-10-3-10-4-11-4-10-4-10-5-11-4-10-5-11-5-10-4-10-4-11-3-10-3-10-2-11-2-10-1-10 0-11 0-10 0-10-1-11 0-10-1-11-1-10-2-10-2-11-2-10-3-10-2-11-3-10-3-10-3-11-4-10-3-10-3-11-3-10-3-11-3 8-2 10 3 11 4 10 3 11 3 10 3 10 3 11 3 10 3 10 3 11 3 10 2 10 2 11 2 10 2 10 1 11 1 10 0 11 0 10 0 10 1 11 0 10 1 10 1 11 2 10 3 10 3 11 5 10 4 10 5 11 5 10 5 11 5 10 4 10 4 11 4 10 4z"/><path fill="url(#g21)" stroke="url(#g21)" d="M794 284l-11-3-10-4-10-4-11-4-10-4-10-5-11-4-10-5-10-4-11-3-10-4-11-2-10-2-10-2-11-1-10 0-10-1-11 0-10-1-10 0-11-1-10-2-10-1-11-2-10-3-11-2-10-3-10-3-11-3-10-3-10-3-11-3-10-3-10-4-11-3-10-3 7-1 11 3 10 3 11 3 10 3 10 3 11 4 10 3 10 3 11 3 10 2 10 3 11 2 10 2 10 2 11 1 10 1 11 0 10 1 10 0 11 0 10 0 10 1 11 2 10 2 10 3 11 3 10 4 10 4 11 5 10 5 11 4 10 5 10 4 11 4 10 4 10 3z"/><path fill="url(#g22)" stroke="url(#g22)" d="M786 285l-10-3-11-4-10-4-10-3-11-5-10-4-10-4-11-4-10-4-10-4-11-3-10-3-10-2-11-1-10-1-11-1-10 0-10-1-11-1-10 0-10-2-11-1-10-2-10-2-11-2-10-3-10-2-11-3-10-3-11-3-10-4-10-3-11-3-10-3-10-3-11-4 8-1 10 3 11 3 10 4 10 3 11 3 10 3 10 3 11 3 10 3 10 3 11 2 10 3 11 2 10 1 10 2 11 1 10 0 10 1 11 0 10 1 10 0 11 1 10 2 10 2 11 2 10 4 11 3 10 4 10 5 11 4 10 5 10 4 11 4 10 4 10 4 11 3z"/><path fill="url(#g23)" stroke="url(#g23)" d="M779 286l-11-3-10-4-10-3-11-4-10-4-11-4-10-4-10-4-11-4-10-3-10-3-11-3-10-2-10-1-11-1-10-1-11-1-10-1-10 0-11-1-10-2-10-1-11-2-10-2-10-2-11-3-10-3-10-2-11-3-10-4-11-3-10-3-10-4-11-3-10-3-10-3 7-2 11 4 10 3 10 3 11 3 10 3 10 4 11 3 10 3 11 3 10 2 10 3 11 2 10 2 10 2 11 1 10 2 10 0 11 1 10 1 10 0 11 1 10 1 11 1 10 2 10 3 11 3 10 4 10 4 11 4 10 4 10 4 11 5 10 3 10 4 11 4 10 3z"/><path fill="url(#g24)" stroke="url(#g24)" d="M771 287l-10-4-11-3-10-3-10-4-11-4-10-4-11-3-10-4-10-4-11-3-10-3-10-2-11-2-10-2-10-1-11-1-10 0-10-1-11-1-10-1-11-2-10-1-10-2-11-2-10-3-10-2-11-3-10-3-10-3-11-3-10-3-10-4-11-3-10-3-11-4-10-3 8-1 10 3 10 3 11 3 10 4 10 3 11 3 10 4 11 3 10 2 10 3 11 3 10 2 10 2 11 2 10 1 10 2 11 1 10 0 10 1 11 1 10 1 11 1 10 1 10 2 11 3 10 3 10 3 11 4 10 4 10 4 11 4 10 4 11 4 10 3 10 4 11 3z"/><path fill="url(#g25)" stroke="url(#g25)" d="M763 287l-10-3-10-3-11-4-10-3-10-4-11-3-10-4-10-3-11-4-10-3-11-2-10-3-10-1-11-2-10-1-10-1-11-1-10-1-10-1-11-1-10-2-10-2-11-2-10-2-11-2-10-2-10-3-11-2-10-4-10-3-11-4-10-3-10-4-11-3-10-3-10-3 7-2 10 3 11 4 10 3 11 3 10 4 10 3 11 3 10 3 10 3 11 3 10 2 10 3 11 2 10 2 10 1 11 2 10 1 11 1 10 1 10 0 11 1 10 1 10 2 11 2 10 2 10 3 11 3 10 4 10 4 11 3 10 4 11 4 10 4 10 3 11 3 10 4z"/><path fill="url(#g26)" stroke="url(#g26)" d="M756 288l-11-3-10-3-10-4-11-3-10-3-10-4-11-3-10-4-10-3-11-3-10-2-10-2-11-2-10-1-11-2-10-1-10-1-11-1-10-1-10-2-11-1-10-2-10-2-11-2-10-2-10-2-11-2-10-3-11-3-10-4-10-4-11-3-10-4-10-4-11-3-10-3 8-1 10 3 10 3 11 3 10 4 10 3 11 4 10 3 10 4 11 2 10 3 10 2 11 2 10 2 11 2 10 2 10 2 11 1 10 1 10 1 11 1 10 1 10 1 11 2 10 1 10 3 11 2 10 3 11 4 10 3 10 4 11 3 10 4 10 3 11 4 10 3 10 3z"/><path fill="url(#g27)" stroke="url(#g27)" d="M748 288l-10-3-11-3-10-3-10-3-11-3-10-4-10-3-11-3-10-3-10-3-11-2-10-2-10-2-11-1-10-1-11-1-10-2-10-1-11-1-10-2-10-1-11-2-10-2-10-2-11-2-10-2-10-2-11-3-10-3-11-4-10-4-10-4-11-3-10-4-10-3-11-4 8-1 10 3 11 3 10 4 10 4 11 3 10 4 10 4 11 3 10 3 11 2 10 2 10 2 11 2 10 2 10 2 11 1 10 2 10 1 11 1 10 1 10 1 11 2 10 1 11 2 10 2 10 2 11 3 10 3 10 4 11 3 10 4 10 3 11 3 10 4 10 3 11 3z"/><path fill="url(#g28)" stroke="url(#g28)" d="M741 289l-11-3-10-3-10-3-11-4-10-3-11-3-10-3-10-3-11-2-10-3-10-2-11-2-10-1-10-2-11-1-10-1-10-1-11-2-10-1-11-2-10-2-10-1-11-2-10-2-10-2-11-1-10-2-10-3-11-3-10-4-10-5-11-4-10-4-11-4-10-3-10-3 7-2 11 4 10 3 10 4 11 3 10 4 10 4 11 4 10 3 11 3 10 2 10 2 11 2 10 2 10 2 11 2 10 1 10 2 11 1 10 1 10 2 11 1 10 1 11 1 10 2 10 2 11 2 10 3 10 3 11 3 10 3 10 4 11 3 10 3 10 3 11 3 10 3z"/><path fill="url(#g29)" stroke="url(#g29)" d="M733 289l-10-3-11-3-10-3-10-3-11-3-10-3-10-3-11-3-10-2-11-3-10-1-10-2-11-2-10-1-10-1-11-1-10-1-10-2-11-1-10-2-10-2-11-2-10-1-11-2-10-1-10-2-11-2-10-2-10-4-11-4-10-4-10-5-11-4-10-4-10-4-11-3 8-1 10 3 10 3 11 4 10 4 11 4 10 5 10 4 11 3 10 3 10 2 11 1 10 2 10 2 11 2 10 1 10 2 11 2 10 1 11 2 10 1 10 1 11 1 10 2 10 1 11 2 10 2 10 3 11 2 10 3 10 3 11 3 10 3 11 4 10 3 10 3 11 3z"/><path fill="url(#g30)" stroke="url(#g30)" d="M725 289l-10-3-10-3-11-3-10-3-10-3-11-3-10-3-10-2-11-2-10-2-11-2-10-2-10-1-11-1-10-1-10-1-11-2-10-1-10-2-11-1-10-2-10-2-11-1-10-2-11-1-10-1-10-2-11-2-10-4-10-4-11-5-10-5-10-4-11-4-10-4-10-4 7-1 11 3 10 4 10 4 11 4 10 5 10 4 11 4 10 4 10 2 11 2 10 2 10 1 11 2 10 1 11 2 10 2 10 2 11 1 10 2 10 1 11 1 10 1 10 1 11 2 10 2 10 1 11 3 10 2 11 3 10 3 10 3 11 3 10 3 10 3 11 3 10 3z"/><path fill="url(#g31)" stroke="url(#g31)" d="M718 290l-11-4-10-3-10-3-11-3-10-3-10-3-11-2-10-3-10-2-11-2-10-1-10-2-11-1-10-1-11-1-10-1-10-1-11-1-10-2-10-2-11-1-10-2-10-2-11-1-10-1-10-1-11-1-10-2-11-4-10-5-10-5-11-5-10-5-10-4-11-4-10-3 8-2 10 4 10 4 11 4 10 4 10 5 11 5 10 4 10 4 11 2 10 2 10 1 11 1 10 2 11 1 10 2 10 2 11 1 10 2 10 1 11 2 10 1 10 1 11 1 10 1 10 2 11 2 10 2 11 2 10 2 10 3 11 3 10 3 10 3 11 3 10 3 10 3z"/><path fill="url(#g32)" stroke="url(#g32)" d="M710 290l-10-4-10-3-11-3-10-3-11-3-10-3-10-2-11-3-10-2-10-1-11-2-10-1-10-1-11 0-10-1-10-1-11-1-10-2-11-1-10-2-10-2-11-2-10-1-10-1-11-1-10 0-10-1-11-3-10-4-10-5-11-5-10-5-11-5-10-4-10-4-11-4 8-1 10 3 11 4 10 4 10 5 11 5 10 5 10 5 11 4 10 2 11 1 10 1 10 1 11 1 10 2 10 2 11 1 10 2 10 2 11 1 10 1 10 1 11 1 10 1 11 1 10 2 10 1 11 2 10 2 10 3 11 2 10 3 10 3 11 3 10 3 10 3 11 4z"/><path fill="url(#g33)" stroke="url(#g33)" d="M703 290l-11-4-10-3-10-3-11-3-10-4-10-2-11-3-10-2-11-2-10-1-10-1-11-1-10-1-10 0-11-1-10-1-10-1-11-1-10-2-11-2-10-1-10-2-11-1-10-1-10-1-11 0-10-1-10-3-11-3-10-5-10-6-11-6-10-5-11-4-10-4-10-3 7-2 11 4 10 4 10 4 11 5 10 5 11 5 10 5 10 4 11 3 10 1 10 0 11 1 10 1 10 1 11 2 10 2 10 2 11 1 10 2 11 1 10 1 10 1 11 0 10 1 10 1 11 2 10 1 10 2 11 3 10 2 10 3 11 3 10 3 11 3 10 3 10 4z"/><path fill="url(#g34)" stroke="url(#g34)" d="M695 290l-10-4-11-3-10-4-10-3-11-3-10-3-10-2-11-3-10-1-11-1-10-1-10-1-11 0-10-1-10 0-11-1-10-1-10-1-11-1-10-2-10-2-11-2-10-1-11-1-10 0-10 0-11-1-10-3-10-4-11-5-10-5-10-6-11-5-10-5-10-3-11-4 8-1 10 3 10 4 11 4 10 5 11 6 10 6 10 5 11 3 10 3 10 1 11 0 10 1 10 1 11 1 10 2 10 1 11 2 10 2 11 1 10 1 10 1 11 1 10 0 10 1 11 1 10 1 10 1 11 2 10 2 11 3 10 2 10 4 11 3 10 3 10 3 11 4z"/><path fill="url(#g35)" stroke="url(#g35)" d="M687 289l-10-3-10-4-11-3-10-4-10-3-11-3-10-2-10-2-11-2-10-1-10 0-11-1-10 0-11 0-10 0-10-1-11-1-10-1-10-1-11-2-10-2-10-1-11-1-10-1-10-1-11 0-10-1-11-2-10-4-10-5-11-6-10-6-10-5-11-4-10-4-10-4 7-1 11 4 10 3 10 5 11 5 10 6 10 5 11 5 10 4 10 3 11 1 10 0 10 0 11 1 10 1 11 2 10 2 10 2 11 1 10 1 10 1 11 1 10 0 10 1 11 0 10 1 10 1 11 1 10 1 11 3 10 2 10 3 11 3 10 3 10 4 11 3 10 4z"/><path fill="url(#g36)" stroke="url(#g36)" d="M680 289l-10-4-11-4-10-3-11-4-10-3-10-3-11-2-10-2-10-2-11-1-10 0-10 0-11 0-10 0-10 0-11 0-10-1-11-1-10-1-10-1-11-2-10-2-10-1-11-1-10 0-10-1-11-1-10-2-10-4-11-5-10-6-11-5-10-6-10-4-11-4-10-3 8-2 10 4 10 4 11 4 10 5 10 6 11 6 10 5 10 4 11 2 10 1 11 0 10 1 10 1 11 1 10 1 10 2 11 2 10 1 10 1 11 1 10 1 10 0 11 0 10 0 11 1 10 0 10 1 11 2 10 2 10 2 11 3 10 3 10 4 11 3 10 4 10 3z"/><path fill="url(#g37)" stroke="url(#g37)" d="M672 289l-10-4-10-4-11-4-10-4-11-3-10-3-10-3-11-2-10-1-10 0-11-1-10 1-10 0-11 0-10 1-10 0-11-1-10-1-11-1-10-1-10-2-11-2-10-1-10-1-11-1-10 0-10-1-11-3-10-4-10-5-11-5-10-5-11-5-10-5-10-3-11-4 8-1 10 3 11 4 10 4 10 6 11 5 10 6 11 5 10 4 10 2 11 1 10 1 10 0 11 1 10 1 10 2 11 2 10 1 10 1 11 1 10 1 11 0 10 0 10 0 11 0 10 0 10 0 11 1 10 2 10 2 11 2 10 3 10 3 11 4 10 3 11 4 10 4z"/><path fill="url(#g38)" stroke="url(#g38)" d="M665 289l-11-5-10-4-10-4-11-4-10-4-10-3-11-2-10-2-11-1-10-1-10 1-11 0-10 1-10 0-11 1-10 0-10 0-11-1-10-1-10-1-11-2-10-1-11-2-10-1-10-1-11-1-10-1-10-3-11-3-10-5-10-5-11-5-10-5-10-4-11-4-10-4 7-1 11 4 10 3 10 5 11 5 10 5 11 5 10 5 10 4 11 3 10 1 10 0 11 1 10 1 10 1 11 2 10 2 10 1 11 1 10 1 11 1 10 0 10-1 11 0 10 0 10-1 11 1 10 0 10 1 11 2 10 3 10 3 11 3 10 4 11 4 10 4 10 4z"/><path fill="url(#g39)" stroke="url(#g39)" d="M657 288l-10-4-11-5-10-4-10-4-11-4-10-3-10-3-11-2-10-1-10 0-11 1-10 0-11 1-10 1-10 1-11 1-10 0-10-1-11-1-10-1-10-2-11-1-10-2-10-1-11-1-10-2-11-1-10-3-10-3-11-5-10-5-10-5-11-4-10-4-10-4-11-3 8-2 10 4 11 4 10 4 10 5 11 5 10 5 10 5 11 3 10 3 10 1 11 1 10 1 10 1 11 2 10 1 11 2 10 1 10 1 11 1 10 0 10 0 11-1 10 0 10-1 11 0 10-1 10 1 11 1 10 2 11 2 10 3 10 4 11 4 10 4 10 4 11 5z"/><path fill="url(#g40)" stroke="url(#g40)" d="M650 288l-11-5-10-5-11-4-10-5-10-4-11-3-10-2-10-2-11-1-10 0-10 1-11 1-10 1-11 1-10 1-10 1-11 0-10 0-10-1-11-1-10-1-10-2-11-2-10-1-10-2-11-1-10-2-11-3-10-3-10-5-11-4-10-5-10-4-11-4-10-4-10-3 7-1 11 3 10 4 10 4 11 4 10 5 10 5 11 5 10 3 10 3 11 1 10 2 11 1 10 1 10 2 11 1 10 2 10 1 11 1 10 1 10 0 11-1 10-1 10-1 11-1 10 0 11-1 10 0 10 1 11 2 10 3 10 3 11 4 10 4 10 4 11 5 10 4z"/><path fill="url(#g41)" stroke="url(#g41)" d="M642 288l-10-5-11-5-10-5-11-5-10-4-10-3-11-3-10-2-10 0-11 0-10 1-10 1-11 2-10 1-10 2-11 1-10 0-11 0-10-1-10-1-11-1-10-2-10-2-11-2-10-1-10-2-11-2-10-3-10-3-11-4-10-5-11-4-10-4-10-4-11-3-10-4 8-1 10 3 10 4 11 4 10 4 10 5 11 4 10 5 10 3 11 3 10 2 11 1 10 2 10 1 11 2 10 2 10 1 11 1 10 1 10 0 11 0 10-1 10-1 11-1 10-1 11-1 10-1 10 0 11 1 10 2 10 2 11 3 10 4 10 5 11 4 10 5 11 5z"/><path fill="url(#g42)" stroke="url(#g42)" d="M634 287l-10-5-10-5-11-5-10-5-10-4-11-4-10-2-11-2-10-1-10 1-11 1-10 1-10 2-11 2-10 2-10 1-11 1-10 0-10-1-11-1-10-1-11-2-10-2-10-2-11-2-10-2-10-2-11-3-10-3-10-4-11-4-10-4-10-4-11-4-10-3-11-3 8-2 10 4 11 3 10 4 10 4 11 4 10 5 11 4 10 3 10 3 11 2 10 2 10 1 11 2 10 2 10 2 11 1 10 1 10 1 11 0 10 0 11-1 10-2 10-1 11-2 10-1 10-1 11 0 10 0 10 2 11 3 10 3 10 4 11 5 10 5 11 5 10 5z"/><path fill="url(#g43)" stroke="url(#g43)" d="M627 287l-11-5-10-6-10-5-11-5-10-4-10-4-11-3-10-1-10-1-11 1-10 1-11 2-10 2-10 2-11 2-10 2-10 1-11 0-10-1-10 0-11-2-10-2-10-2-11-2-10-2-11-2-10-3-10-3-11-3-10-4-10-3-11-4-10-4-10-3-11-4-10-3 7-1 11 3 10 3 11 4 10 4 10 4 11 4 10 4 10 3 11 3 10 2 10 2 11 2 10 2 10 2 11 2 10 1 11 1 10 1 10 0 11-1 10-1 10-2 11-2 10-2 10-1 11-1 10-1 10 1 11 2 10 2 11 4 10 4 10 5 11 5 10 5 10 5z"/><path fill="url(#g44)" stroke="url(#g44)" d="M619 287l-10-5-11-6-10-5-10-6-11-4-10-4-10-3-11-1-10-1-10 1-11 1-10 3-11 2-10 2-10 3-11 1-10 1-10 1-11 0-10-1-10-2-11-2-10-2-10-2-11-2-10-3-11-2-10-3-10-3-11-4-10-4-10-3-11-4-10-3-10-3-11-4 8-1 10 3 11 4 10 3 10 4 11 4 10 3 10 4 11 3 10 3 10 3 11 2 10 2 11 2 10 2 10 2 11 2 10 0 10 1 11 0 10-1 10-2 11-2 10-2 10-2 11-2 10-1 11-1 10 1 10 1 11 3 10 4 10 4 11 5 10 5 10 6 11 5z"/><path fill="url(#g45)" stroke="url(#g45)" d="M612 287l-11-6-10-5-11-6-10-5-10-5-11-4-10-2-10-2-11 0-10 0-10 2-11 2-10 3-10 3-11 2-10 2-11 1-10 1-10 0-11-1-10-2-10-1-11-2-10-3-10-2-11-3-10-3-10-3-11-3-10-3-11-4-10-3-10-3-11-4-10-3-10-3 7-2 11 4 10 3 10 3 11 4 10 3 10 4 11 4 10 3 10 3 11 2 10 3 11 2 10 2 10 2 11 2 10 2 10 1 11 0 10-1 10-1 11-1 10-3 10-2 11-2 10-3 11-1 10-1 10 1 11 1 10 3 10 4 11 4 10 6 10 5 11 6 10 5z"/><path fill="url(#g46)" stroke="url(#g46)" d="M604 287l-10-5-11-6-10-6-10-5-11-5-10-4-11-3-10-1-10-1-11 1-10 2-10 3-11 2-10 3-10 3-11 2-10 1-10 1-11 0-10-1-11-1-10-2-10-2-11-3-10-2-10-3-11-3-10-3-10-3-11-3-10-3-10-4-11-3-10-3-11-4-10-3 8-1 10 3 10 3 11 4 10 3 10 3 11 4 10 3 11 3 10 3 10 3 11 3 10 2 10 3 11 2 10 1 10 2 11 1 10 0 10-1 11-1 10-2 11-2 10-3 10-3 11-2 10-2 10 0 11 0 10 2 10 2 11 4 10 5 10 5 11 6 10 5 11 6z"/><path fill="url(#g47)" stroke="url(#g47)" d="M596 288l-10-6-10-6-11-6-10-5-10-5-11-4-10-3-11-1-10 0-10 1-11 1-10 3-10 3-11 3-10 3-10 2-11 1-10 1-10 0-11-1-10-1-11-2-10-2-10-2-11-3-10-3-10-3-11-3-10-3-10-3-11-3-10-4-10-3-11-3-10-3-11-3 8-2 10 3 11 4 10 3 11 3 10 4 10 3 11 3 10 3 10 3 11 3 10 3 10 2 11 3 10 2 10 2 11 1 10 1 11 0 10-1 10-1 11-2 10-3 10-3 11-2 10-3 10-2 11-1 10 1 10 1 11 3 10 4 11 5 10 5 10 6 11 6 10 5z"/><path fill="url(#g48)" stroke="url(#g48)" d="M589 288l-11-6-10-6-10-5-11-6-10-4-10-4-11-3-10-2-10 0-11 1-10 2-11 3-10 3-10 3-11 3-10 2-10 1-11 1-10 0-10 0-11-2-10-1-10-3-11-2-10-3-11-3-10-3-10-3-11-3-10-3-10-3-11-3-10-4-10-3-11-3-10-3 7-1 11 3 10 3 11 3 10 3 10 4 11 3 10 3 10 3 11 3 10 3 10 3 11 3 10 2 10 2 11 2 10 1 11 1 10 0 10-1 11-1 10-2 10-3 11-3 10-3 10-3 11-1 10-1 10 0 11 1 10 3 11 4 10 5 10 5 11 6 10 6 10 6z"/><path fill="url(#g49)" stroke="url(#g49)" d="M581 289l-10-6-11-6-10-6-10-5-11-5-10-3-10-3-11-2-10 0-10 1-11 2-10 3-10 3-11 3-10 3-11 2-10 2-10 1-11 0-10-1-10-1-11-2-10-2-10-3-11-3-10-2-10-3-11-3-10-3-11-4-10-3-10-3-11-3-10-3-10-4-11-3 8-1 10 3 11 3 10 3 10 4 11 3 10 3 10 3 11 3 10 3 10 3 11 3 10 3 11 2 10 3 10 1 11 2 10 0 10 0 11-1 10-1 10-2 11-3 10-3 10-3 11-3 10-2 11-1 10 0 10 2 11 3 10 4 10 4 11 6 10 5 10 6 11 6z"/><path fill="url(#g50)" stroke="url(#g50)" d="M574 290l-11-6-10-6-10-5-11-6-10-4-11-4-10-3-10-1-11 0-10 1-10 2-11 3-10 3-10 3-11 2-10 3-11 1-10 1-10 0-11-1-10-1-10-2-11-2-10-2-10-3-11-3-10-3-10-3-11-3-10-3-11-4-10-3-10-3-11-3-10-3-10-3 7-2 11 3 10 4 10 3 11 3 10 3 10 3 11 4 10 3 11 3 10 3 10 2 11 3 10 3 10 2 11 2 10 1 10 1 11 0 10-1 10-2 11-2 10-3 11-3 10-3 10-3 11-2 10-1 10 0 11 2 10 3 10 3 11 5 10 5 10 6 11 6 10 6z"/><path fill="url(#g51)" stroke="url(#g51)" d="M566 291l-10-6-11-5-10-6-10-5-11-5-10-3-11-3-10-1-10 0-11 1-10 2-10 2-11 3-10 3-10 3-11 2-10 2-10 0-11 0-10 0-11-2-10-1-10-3-11-2-10-3-10-3-11-3-10-3-10-3-11-3-10-3-10-3-11-3-10-4-11-3-10-3 8-1 10 3 10 3 11 3 10 3 10 3 11 4 10 3 11 3 10 3 10 3 11 3 10 3 10 2 11 2 10 2 10 1 11 1 10 0 10-1 11-1 10-3 11-2 10-3 10-3 11-3 10-2 10-1 11 0 10 1 10 3 11 4 10 4 11 6 10 5 10 6 11 6z"/><path fill="url(#g52)" stroke="url(#g52)" d="M558 292l-10-5-10-6-11-5-10-5-10-5-11-3-10-3-10-1-11 0-10 1-11 2-10 3-10 2-11 3-10 3-10 2-11 1-10 1-10 0-11-1-10-1-10-2-11-2-10-3-11-2-10-3-10-3-11-3-10-4-10-3-11-3-10-3-10-3-11-3-10-3-10-4 7-1 10 3 11 3 10 4 11 3 10 3 10 3 11 3 10 3 10 3 11 3 10 3 10 3 11 2 10 3 10 1 11 2 10 0 11 0 10 0 10-2 11-2 10-3 10-3 11-3 10-2 10-2 11-1 10 0 10 1 11 3 10 3 11 5 10 5 10 6 11 5 10 6z"/><path fill="url(#g53)" stroke="url(#g53)" d="M551 293l-11-5-10-5-10-5-11-5-10-4-10-4-11-2-10-1-10 0-11 1-10 2-10 2-11 3-10 3-11 2-10 2-10 1-11 1-10 0-10-1-11-2-10-2-10-2-11-2-10-3-10-3-11-3-10-3-11-3-10-3-10-3-11-4-10-3-10-3-11-3-10-3 8-2 10 4 10 3 11 3 10 3 10 3 11 3 10 3 10 4 11 3 10 3 10 3 11 2 10 3 11 2 10 2 10 1 11 1 10 0 10-1 11-1 10-2 10-3 11-3 10-2 10-3 11-2 10-1 11 0 10 1 10 3 11 3 10 5 10 5 11 5 10 6 10 5z"/><path fill="url(#g54)" stroke="url(#g54)" d="M543 295l-10-5-11-5-10-5-10-5-11-4-10-3-10-2-11-1-10 0-10 1-11 2-10 2-10 2-11 3-10 2-11 2-10 1-10 0-11 0-10-1-10-1-11-2-10-2-10-3-11-3-10-3-10-3-11-3-10-3-11-3-10-3-10-3-11-3-10-4-10-3-11-3 8-1 10 3 11 3 10 3 10 3 11 4 10 3 10 3 11 3 10 3 11 3 10 3 10 3 11 2 10 2 10 2 11 2 10 1 10 0 11-1 10-1 10-2 11-2 10-3 11-3 10-2 10-2 11-1 10 0 10 1 11 2 10 4 10 4 11 5 10 5 10 5 11 5z"/><path fill="url(#g55)" stroke="url(#g55)" d="M536 297l-11-5-10-5-10-4-11-5-10-4-11-3-10-2-10-1-11 0-10 1-10 2-11 2-10 2-10 3-11 2-10 1-10 1-11 0-10 0-11-1-10-2-10-2-11-2-10-3-10-2-11-3-10-3-10-3-11-3-10-4-10-3-11-3-10-3-11-3-10-3-10-4 7-1 11 3 10 3 10 4 11 3 10 3 10 3 11 3 10 3 11 3 10 3 10 3 11 3 10 3 10 2 11 2 10 1 10 1 11 0 10 0 10-1 11-2 10-2 11-3 10-2 10-2 11-2 10-1 10 0 11 1 10 2 10 3 11 4 10 5 10 5 11 5 10 5z"/><path fill="url(#g56)" stroke="url(#g56)" d="M528 299l-10-5-11-4-10-5-10-4-11-3-10-3-10-2-11-1-10 0-11 1-10 1-10 2-11 2-10 2-10 2-11 1-10 1-10 0-11 0-10-1-10-2-11-2-10-3-11-2-10-3-10-3-11-3-10-3-10-3-11-3-10-3-10-4-11-3-10-3-10-3-11-3 8-2 10 4 10 3 11 3 10 3 11 3 10 3 10 4 11 3 10 3 10 3 11 3 10 2 10 3 11 2 10 2 10 2 11 1 10 0 11 0 10-1 10-1 11-2 10-3 10-2 11-2 10-2 10-1 11 0 10 1 10 2 11 3 10 4 11 5 10 4 10 5 11 5z"/><path fill="url(#g57)" stroke="url(#g57)" d="M520 300l-10-4-10-4-11-4-10-4-10-3-11-3-10-1-10-1-11 0-10 0-11 2-10 1-10 2-11 2-10 2-10 1-11 0-10 0-10-1-11-1-10-2-10-2-11-2-10-3-11-3-10-3-10-3-11-3-10-3-10-3-11-3-10-3-10-3-11-3-10-4-10-3 7-1 11 3 10 3 10 3 11 3 10 4 10 3 11 3 10 3 10 3 11 3 10 3 10 3 11 2 10 3 11 2 10 2 10 1 11 0 10 0 10-1 11-1 10-2 10-2 11-2 10-2 10-1 11-1 10 0 11 1 10 2 10 3 11 3 10 4 10 5 11 4 10 5z"/><path fill="url(#g58)" stroke="url(#g58)" d="M513 302l-11-3-10-4-10-4-11-3-10-3-10-3-11-1-10-1-10 0-11 0-10 1-10 2-11 1-10 2-11 1-10 1-10 0-11 0-10-1-10-1-11-2-10-2-10-3-11-2-10-3-10-3-11-3-10-3-11-3-10-3-10-4-11-3-10-3-10-3-11-3-10-3 8-2 10 3 10 4 11 3 10 3 10 3 11 3 10 3 10 3 11 3 10 3 10 3 11 3 10 3 11 2 10 2 10 2 11 1 10 1 10 0 11 0 10-1 10-2 11-2 10-2 10-1 11-2 10 0 11 0 10 1 10 1 11 3 10 3 10 4 11 4 10 4 10 4z"/><path fill="url(#g59)" stroke="url(#g59)" d="M505 304l-10-3-10-4-11-3-10-3-11-3-10-2-10-1-11-1-10 0-10 0-11 1-10 1-10 2-11 1-10 1-10 0-11 0-10 0-11-1-10-2-10-1-11-3-10-2-10-3-11-3-10-3-10-3-11-3-10-3-10-3-11-3-10-3-11-4-10-3-10-3-11-3 8-1 10 3 11 3 10 3 10 3 11 3 10 4 10 3 11 3 10 3 11 3 10 3 10 3 11 2 10 3 10 2 11 2 10 1 10 1 11 0 10 0 10-1 11-1 10-2 11-1 10-2 10-1 11 0 10 0 10 1 11 1 10 3 10 3 11 3 10 4 10 4 11 3z"/><path fill="url(#g60)" stroke="url(#g60)" d="M498 307l-11-4-10-3-10-3-11-3-10-2-10-2-11-2-10 0-11 0-10 0-10 1-11 1-10 1-10 1-11 0-10 1-10 0-11-1-10-1-11-2-10-2-10-2-11-3-10-3-10-2-11-3-10-3-10-3-11-4-10-3-10-3-11-3-10-3-11-3-10-4-10-3 7-1 11 3 10 3 10 3 11 4 10 3 11 3 10 3 10 3 11 3 10 3 10 3 11 3 10 3 10 2 11 3 10 1 10 2 11 1 10 0 11 0 10 0 10-1 11-1 10-2 10-1 11-1 10 0 10 0 11 1 10 1 10 2 11 3 10 3 11 3 10 4 10 3z"/><path fill="url(#g61)" stroke="url(#g61)" d="M490 309l-10-3-11-3-10-3-10-3-11-2-10-1-10-2-11 0-10 0-11 0-10 0-10 1-11 1-10 1-10 0-11 0-10 0-10-1-11-2-10-1-10-2-11-3-10-2-11-3-10-3-10-3-11-3-10-3-10-3-11-3-10-4-10-3-11-3-10-3-10-3-11-3 8-2 10 3 10 4 11 3 10 3 11 3 10 3 10 3 11 4 10 3 10 3 11 3 10 2 10 3 11 3 10 2 10 2 11 2 10 1 11 1 10 0 10-1 11 0 10-1 10-1 11-1 10-1 10 0 11 0 10 0 11 2 10 2 10 2 11 3 10 3 10 3 11 4z"/><path fill="url(#g62)" stroke="url(#g62)" d="M482 311l-10-3-10-3-11-2-10-2-10-2-11-2-10-1-10 0-11-1-10 1-10 0-11 1-10 0-11 0-10 1-10-1-11 0-10-1-10-2-11-2-10-2-10-2-11-3-10-3-10-3-11-3-10-3-11-3-10-3-10-3-11-3-10-3-10-3-11-4-10-3-10-3 7-1 11 3 10 3 10 3 11 3 10 3 10 4 11 3 10 3 10 3 11 3 10 3 10 3 11 3 10 2 11 3 10 2 10 1 11 2 10 1 10 0 11 0 10 0 10-1 11-1 10-1 10 0 11 0 10 0 11 0 10 2 10 1 11 2 10 3 10 3 11 3 10 3z"/><path fill="url(#g63)" stroke="url(#g63)" d="M475 313l-10-3-11-2-10-2-11-2-10-2-10-1-11-1-10-1-10 0-11 0-10 0-10 1-11 0-10 0-10 0-11 0-10-1-11-1-10-2-10-2-11-2-10-3-10-2-11-3-10-3-10-3-11-3-10-3-10-4-11-3-10-3-11-3-10-3-10-3-11-3-10-4 8-1 10 3 10 3 11 4 10 3 10 3 11 3 10 3 10 3 11 3 10 3 11 3 10 3 10 3 11 3 10 2 10 2 11 2 10 2 10 1 11 0 10 1 10-1 11 0 10 0 11-1 10 0 10-1 11 1 10 0 10 1 11 2 10 2 10 2 11 2 10 3 10 3z"/></g><g><path fill="url(#g64)" stroke="url(#g64)" d="M2119 301l-11-5-10-4-11-4-10-4-11-4-10-3-11-4-10-3-11-4-11-3-10-3-11-2-10-3-11-2-10-2-11-3-10-2-11-2-10-2-11-2-10-2-11-2-10-3-11-2-10-3-11-3-10-3-11-3-10-4-11-3-10-4-11-4-11-4-10-4-11-4-10-4 8-1 10 3 11 3 10 3 11 3 10 3 11 3 10 3 11 4 10 3 11 3 10 3 11 3 10 3 11 3 10 3 11 4 10 3 11 3 11 3 10 3 11 3 10 3 11 4 10 3 11 3 10 3 11 3 10 3 11 3 10 3 11 4 10 3 11 3 10 3 11 3 10 3z"/><path fill="url(#g65)" stroke="url(#g65)" d="M2111 302l-11-5-10-5-11-5-10-5-11-5-10-4-11-4-10-4-11-3-10-3-11-3-10-2-11-2-10-2-11-1-10-1-11-1-10-1-11-1-10-2-11-1-10-1-11-2-11-2-10-2-11-3-10-3-11-3-10-4-11-4-10-4-11-4-10-5-11-5-10-6-11-5 8-1 10 4 11 4 10 4 11 4 11 4 10 4 11 3 10 4 11 3 10 3 11 3 10 3 11 2 10 3 11 2 10 2 11 2 10 2 11 2 10 2 11 3 10 2 11 2 10 3 11 2 10 3 11 3 11 4 10 3 11 4 10 3 11 4 10 4 11 4 10 4 11 5z"/><path fill="url(#g66)" stroke="url(#g66)" d="M2103 303l-10-6-11-6-10-6-11-6-10-5-11-5-10-5-11-4-10-3-11-3-10-2-11-2-11-1-10-1-11-1-10 0-11 0-10 0-11 0-10 0-11 0-10-1-11-1-10-1-11-2-10-2-11-3-10-4-11-4-10-4-11-5-10-5-11-6-10-6-11-6-11-6 8-2 11 5 10 6 11 5 10 5 11 4 10 4 11 4 10 4 11 3 10 3 11 3 10 2 11 2 11 2 10 1 11 1 10 2 11 1 10 1 11 1 10 1 11 1 10 2 11 2 10 2 11 3 10 3 11 3 10 4 11 4 10 4 11 5 10 5 11 5 10 5 11 5z"/><path fill="url(#g67)" stroke="url(#g67)" d="M2096 305l-11-8-10-7-11-7-11-6-10-6-11-6-10-5-11-4-10-4-11-2-10-2-11-2-10 0-11-1-10 1-11 0-10 1-11 1-10 1-11 1-10 1-11 0-10 0-11-1-10-1-11-2-11-3-10-3-11-5-10-4-11-6-10-6-11-7-10-7-11-7-10-7 7-1 11 6 11 6 10 6 11 6 10 5 11 5 10 4 11 4 10 4 11 3 10 2 11 2 10 1 11 1 10 1 11 0 10 0 11 0 10 0 11 0 10 0 11 1 10 1 11 1 11 2 10 2 11 3 10 3 11 4 10 5 11 5 10 5 11 6 10 6 11 6 10 6z"/><path fill="url(#g68)" stroke="url(#g68)" d="M2088 306l-11-8-10-9-11-7-10-8-11-7-10-6-11-5-10-5-11-3-10-3-11-2-10 0-11-1-10 1-11 1-11 2-10 2-11 2-10 2-11 2-10 1-11 1-10 1-11 0-10-1-11-2-10-3-11-3-10-5-11-5-10-6-11-7-10-7-11-8-10-8-11-9 8-1 10 7 11 7 10 7 11 7 10 6 11 6 10 4 11 5 10 3 11 3 11 2 10 1 11 1 10 0 11 0 10-1 11-1 10-1 11-1 10-1 11 0 10-1 11 1 10 0 11 2 10 2 11 2 10 4 11 4 10 5 11 6 10 6 11 6 11 7 10 7 11 8z"/><path fill="url(#g69)" stroke="url(#g69)" d="M2080 307l-10-9-11-9-10-9-11-8-10-8-11-6-11-6-10-5-11-4-10-2-11-2-10 0-11 0-10 2-11 2-10 2-11 3-10 3-11 3-10 3-11 2-10 2-11 2-10 0-11 0-10-2-11-2-10-4-11-5-11-6-10-6-11-8-10-8-11-9-10-9-11-9 8-2 11 9 10 8 11 8 10 7 11 7 10 6 11 5 10 5 11 3 10 3 11 2 10 1 11 0 10-1 11-1 10-1 11-2 10-2 11-2 10-2 11-2 11-1 10-1 11 1 10 0 11 2 10 3 11 3 10 5 11 5 10 6 11 7 10 8 11 7 10 9 11 8z"/><path fill="url(#g70)" stroke="url(#g70)" d="M2072 309l-10-11-11-10-10-9-11-9-10-9-11-7-10-6-11-5-10-4-11-2-10-2-11 0-10 1-11 2-10 3-11 3-10 4-11 4-10 4-11 4-11 4-10 2-11 2-10 1-11 0-10-1-11-2-10-4-11-5-10-6-11-8-10-8-11-9-10-10-11-10-10-10 7-1 11 9 10 9 11 9 10 8 11 8 10 6 11 6 11 5 10 4 11 2 10 2 11 0 10 0 11-2 10-2 11-2 10-3 11-3 10-3 11-3 10-2 11-2 10-2 11 0 10 0 11 2 10 2 11 4 10 5 11 6 11 6 10 8 11 8 10 9 11 9 10 9z"/><path fill="url(#g71)" stroke="url(#g71)" d="M2065 310l-11-11-10-11-11-11-10-10-11-9-10-8-11-6-10-5-11-4-11-3-10-1-11 1-10 1-11 3-10 4-11 4-10 5-11 5-10 5-11 5-10 4-11 3-10 3-11 2-10 0-11-1-10-2-11-4-10-6-11-6-10-8-11-9-11-10-10-10-11-11-10-12 8-1 10 10 11 10 10 10 11 9 10 8 11 8 10 6 11 5 10 4 11 2 10 1 11 0 10-1 11-2 10-2 11-4 11-4 10-4 11-4 10-4 11-3 10-3 11-2 10-1 11 0 10 2 11 2 10 4 11 5 10 6 11 7 10 9 11 9 10 9 11 10 10 11z"/><path fill="url(#g72)" stroke="url(#g72)" d="M2057 311l-11-12-10-12-11-11-10-11-11-10-10-8-11-7-10-5-11-4-10-3-11 0-10 0-11 2-10 4-11 4-10 5-11 6-10 6-11 6-10 6-11 5-10 4-11 4-11 2-10 1-11-1-10-3-11-3-10-6-11-7-10-8-11-10-10-11-11-11-10-12-11-12 8-2 10 12 11 11 10 10 11 10 11 9 10 8 11 6 10 6 11 4 10 2 11 1 10 0 11-2 10-3 11-3 10-4 11-5 10-5 11-5 10-5 11-4 10-4 11-3 10-1 11-1 10 1 11 3 11 4 10 5 11 6 10 8 11 9 10 10 11 11 10 11 11 11z"/><path fill="url(#g73)" stroke="url(#g73)" d="M2049 313l-10-13-11-13-10-13-11-11-10-10-11-9-10-8-11-5-10-4-11-3-10 0-11 1-11 3-10 4-11 5-10 6-11 6-10 7-11 7-10 7-11 6-10 5-11 4-10 3-11 1-10-1-11-2-10-4-11-6-10-7-11-9-10-10-11-12-10-12-11-13-11-13 8-1 11 12 10 12 11 11 10 11 11 10 10 8 11 7 10 6 11 3 10 3 11 1 10-1 11-2 11-4 10-4 11-5 10-6 11-6 10-6 11-6 10-5 11-4 10-4 11-2 10 0 11 0 10 3 11 4 10 5 11 7 10 8 11 10 10 11 11 11 10 12 11 12z"/><path fill="url(#g74)" stroke="url(#g74)" d="M2042 314l-11-14-10-14-11-13-11-12-10-11-11-9-10-8-11-6-10-4-11-2-10-1-11 2-10 3-11 5-10 6-11 6-10 8-11 8-10 8-11 7-10 7-11 6-10 5-11 3-10 1-11 0-11-2-10-4-11-6-10-8-11-10-10-10-11-13-10-13-11-13-10-15 7-1 11 13 11 13 10 12 11 12 10 10 11 9 10 7 11 6 10 4 11 2 10 1 11-1 10-3 11-4 10-5 11-6 10-7 11-7 10-7 11-6 10-6 11-5 10-4 11-3 11-1 10 0 11 3 10 4 11 5 10 8 11 9 10 10 11 11 10 13 11 13 10 13z"/><path fill="url(#g75)" stroke="url(#g75)" d="M2034 315l-11-15-10-14-11-14-10-13-11-12-10-10-11-8-10-6-11-4-10-2-11 0-10 2-11 3-10 6-11 6-10 8-11 8-11 9-10 9-11 8-10 8-11 6-10 6-11 3-10 2-11 0-10-2-11-4-10-6-11-8-10-10-11-12-10-13-11-14-10-14-11-15 8-2 10 15 11 13 10 13 11 13 10 10 11 10 10 8 11 6 10 4 11 2 11 0 10-1 11-3 10-5 11-6 10-7 11-7 10-8 11-8 10-8 11-6 10-6 11-5 10-3 11-2 10 1 11 2 10 4 11 6 10 8 11 9 10 11 11 12 11 13 10 14 11 14z"/><path fill="url(#g76)" stroke="url(#g76)" d="M2026 317l-10-16-11-16-10-14-11-14-10-12-11-10-11-9-10-6-11-5-10-2-11 0-10 3-11 4-10 6-11 7-10 9-11 9-10 9-11 10-10 9-11 9-10 7-11 6-10 4-11 2-10 1-11-2-10-5-11-6-11-9-10-10-11-12-10-14-11-15-10-15-11-16 8-1 11 15 10 14 11 14 10 13 11 12 10 10 11 8 10 6 11 4 10 2 11 0 10-2 11-3 10-6 11-6 10-8 11-8 10-9 11-9 11-8 10-8 11-6 10-6 11-3 10-2 11 0 10 2 11 4 10 6 11 8 10 10 11 12 10 13 11 14 10 14 11 15z"/><path fill="url(#g77)" stroke="url(#g77)" d="M2018 318l-10-17-11-16-10-15-11-15-10-12-11-11-10-9-11-7-10-4-11-2-10 0-11 3-10 5-11 6-10 8-11 9-10 10-11 11-10 10-11 10-11 9-10 8-11 7-10 5-11 2-10 1-11-2-10-5-11-6-10-9-11-11-10-13-11-14-10-16-11-16-10-17 7-1 11 16 10 15 11 15 10 14 11 12 10 10 11 9 11 6 10 5 11 2 10-1 11-2 10-4 11-6 10-7 11-9 10-9 11-10 10-9 11-9 10-9 11-7 10-6 11-4 10-3 11 0 10 2 11 5 10 6 11 9 11 10 10 12 11 14 10 14 11 16 10 16z"/><path fill="url(#g78)" stroke="url(#g78)" d="M2011 319l-11-17-10-17-11-16-10-15-11-13-10-12-11-9-10-7-11-4-11-2-10 0-11 3-10 6-11 7-10 8-11 10-10 11-11 11-10 11-11 11-10 10-11 9-10 7-11 5-10 3-11 0-10-1-11-5-10-7-11-9-10-11-11-14-11-15-10-16-11-17-10-17 8-2 10 17 11 16 10 16 11 14 10 13 11 11 10 9 11 6 10 5 11 2 10-1 11-2 10-5 11-7 10-8 11-9 11-10 10-10 11-11 10-10 11-9 10-8 11-6 10-5 11-3 10 0 11 2 10 4 11 7 10 9 11 11 10 12 11 15 10 15 11 16 10 17z"/><path fill="url(#g79)" stroke="url(#g79)" d="M2003 321l-11-18-10-18-11-17-10-16-11-13-10-12-11-10-10-7-11-4-10-2-11 1-10 3-11 6-10 7-11 9-10 11-11 12-10 11-11 12-10 12-11 11-10 9-11 7-11 6-10 3-11 1-10-2-11-4-10-7-11-10-10-12-11-13-10-16-11-17-10-18-11-18 8-1 10 17 11 17 10 16 11 15 11 14 10 11 11 9 10 7 11 5 10 1 11 0 10-3 11-5 10-7 11-9 10-10 11-11 10-11 11-11 10-11 11-10 10-8 11-7 10-6 11-3 10 0 11 2 11 4 10 7 11 9 10 12 11 13 10 15 11 16 10 17 11 17z"/><path fill="url(#g80)" stroke="url(#g80)" d="M1995 322l-10-19-11-18-10-18-11-16-10-14-11-13-10-9-11-8-10-4-11-2-10 1-11 4-10 6-11 8-11 10-10 11-11 12-10 13-11 13-10 12-11 11-10 10-11 8-10 6-11 4-10 1-11-2-10-5-11-7-10-10-11-12-10-14-11-17-10-17-11-19-10-18 7-2 11 18 10 18 11 17 10 16 11 13 10 12 11 10 10 7 11 4 10 2 11-1 10-3 11-6 11-7 10-9 11-11 10-12 11-12 10-11 11-12 10-11 11-9 10-7 11-6 10-3 11-1 10 2 11 4 10 7 11 10 10 12 11 13 10 16 11 17 10 18 11 18z"/><path fill="url(#g81)" stroke="url(#g81)" d="M1988 324l-11-20-10-19-11-18-11-17-10-15-11-13-10-10-11-7-10-5-11-1-10 1-11 4-10 6-11 9-10 10-11 12-10 13-11 13-10 14-11 12-10 12-11 11-10 8-11 7-10 4-11 1-11-2-10-4-11-8-10-10-11-13-10-15-11-16-10-18-11-20-10-19 8-1 10 18 11 19 10 17 11 17 10 14 11 12 10 10 11 7 10 5 11 2 10-1 11-4 10-6 11-8 10-10 11-11 10-12 11-13 10-13 11-12 10-11 11-10 11-8 10-6 11-4 10-1 11 2 10 4 11 8 10 9 11 13 10 14 11 16 10 18 11 18 10 19z"/><path fill="url(#g82)" stroke="url(#g82)" d="M1980 325l-11-20-10-20-11-19-10-17-11-15-10-13-11-11-10-7-11-5-10-2-11 2-10 4-11 7-10 9-11 11-10 12-11 14-11 14-10 14-11 13-10 13-11 11-10 9-11 6-10 4-11 2-10-2-11-4-10-8-11-10-10-13-11-16-10-17-11-19-10-20-11-20 8-1 10 19 11 20 10 18 11 16 10 15 11 13 10 10 11 8 10 4 11 2 11-1 10-4 11-7 10-8 11-11 10-12 11-12 10-14 11-13 10-13 11-12 10-10 11-9 10-6 11-4 10-1 11 1 10 5 11 7 10 10 11 13 10 15 11 17 11 18 10 19 11 20z"/><path fill="url(#g83)" stroke="url(#g83)" d="M1972 326l-10-21-11-20-10-19-11-18-10-16-11-13-11-11-10-8-11-4-10-2-11 2-10 4-11 7-10 10-11 11-10 13-11 14-10 15-11 15-10 14-11 13-10 11-11 10-10 7-11 4-10 2-11-2-10-5-11-7-11-11-10-13-11-16-10-18-11-19-10-21-11-20 8-2 11 20 10 20 11 19 10 17 11 16 10 13 11 10 10 8 11 4 10 2 11-2 10-4 11-6 10-9 11-11 10-13 11-13 10-14 11-14 11-14 10-12 11-11 10-9 11-7 10-4 11-2 10 2 11 5 10 7 11 11 10 13 11 15 10 17 11 19 10 20 11 20z"/><path fill="url(#g84)" stroke="url(#g84)" d="M1964 328l-10-22-11-21-10-20-11-18-10-16-11-14-10-10-11-8-10-5-11-2-10 2-11 5-10 7-11 10-10 12-11 13-10 15-11 15-10 15-11 15-11 14-10 12-11 9-10 8-11 4-10 2-11-1-10-5-11-8-10-11-11-14-10-16-11-18-10-20-11-21-10-21 7-1 11 20 10 21 11 19 10 18 11 16 10 13 11 11 11 7 10 5 11 2 10-2 11-4 10-7 11-10 10-11 11-13 10-14 11-15 10-15 11-14 10-13 11-11 10-10 11-7 10-4 11-2 10 2 11 4 10 8 11 11 11 13 10 16 11 18 10 19 11 20 10 21z"/><path fill="url(#g85)" stroke="url(#g85)" d="M1957 329l-11-22-10-21-11-21-10-18-11-17-10-14-11-11-10-8-11-5-10-1-11 2-11 4-10 8-11 10-10 13-11 14-10 15-11 16-10 15-11 15-10 14-11 13-10 10-11 8-10 5-11 1-10-1-11-5-10-8-11-11-10-14-11-16-10-19-11-20-11-22-10-22 8-1 10 21 11 21 10 20 11 18 10 16 11 14 10 11 11 8 10 5 11 1 10-2 11-4 10-8 11-9 10-12 11-14 11-15 10-15 11-15 10-15 11-13 10-12 11-10 10-7 11-5 10-2 11 2 10 5 11 8 10 10 11 14 10 16 11 18 10 20 11 21 10 22z"/><path fill="url(#g86)" stroke="url(#g86)" d="M1949 330l-11-22-10-22-11-21-10-19-11-17-10-14-11-11-10-8-11-5-10-2-11 2-10 5-11 8-10 11-11 13-10 14-11 16-10 16-11 16-10 16-11 14-10 13-11 10-11 8-10 6-11 1-10-1-11-5-10-8-11-11-10-15-11-16-10-19-11-21-10-22-11-22 8-2 10 22 11 22 11 20 10 19 11 16 10 14 11 11 10 8 11 5 10 1 11-1 10-5 11-8 10-10 11-13 10-14 11-15 10-15 11-16 10-15 11-14 10-13 11-10 10-8 11-4 11-2 10 1 11 5 10 8 11 11 10 14 11 17 10 18 11 21 10 21 11 22z"/><path fill="url(#g87)" stroke="url(#g87)" d="M1941 332l-10-23-11-22-10-22-11-19-10-17-11-15-10-11-11-8-10-5-11-2-10 2-11 6-10 8-11 11-11 13-10 15-11 16-10 16-11 17-10 16-11 15-10 13-11 11-10 8-11 5-10 2-11-1-10-5-11-8-10-12-11-14-10-17-11-20-10-21-11-22-10-23 7-1 11 22 10 22 11 21 10 19 11 16 10 15 11 11 10 8 11 5 10 1 11-1 10-6 11-8 11-10 10-13 11-14 10-16 11-16 10-16 11-16 10-14 11-13 10-11 11-8 10-5 11-2 10 2 11 5 10 8 11 11 10 14 11 17 10 19 11 21 10 22 11 22z"/><path fill="url(#g88)" stroke="url(#g88)" d="M1934 333l-11-23-10-23-11-21-11-20-10-17-11-15-10-12-11-8-10-5-11-1-10 2-11 5-10 9-11 11-10 13-11 15-10 17-11 17-10 17-11 16-10 15-11 14-10 11-11 8-10 6-11 2-11-2-10-5-11-8-10-12-11-14-10-18-11-19-10-22-11-22-10-24 8-1 10 23 11 22 10 21 11 20 10 17 11 14 10 12 11 8 10 5 11 1 10-2 11-5 10-8 11-11 10-13 11-15 10-16 11-17 10-16 11-16 10-15 11-13 11-11 10-8 11-6 10-2 11 2 10 5 11 8 10 11 11 15 10 17 11 19 10 22 11 22 10 23z"/><path fill="url(#g89)" stroke="url(#g89)" d="M1926 334l-11-23-10-23-11-22-10-20-11-17-10-15-11-12-10-9-11-5-10-1-11 2-10 6-11 8-10 12-11 14-10 15-11 17-11 17-10 17-11 17-10 15-11 14-10 12-11 8-10 6-11 2-10-1-11-5-10-9-11-12-10-15-11-17-10-20-11-22-10-23-11-23 8-2 10 24 11 22 10 22 11 19 10 18 11 14 10 12 11 8 10 5 11 2 11-2 10-6 11-8 10-11 11-14 10-15 11-16 10-17 11-17 10-17 11-15 10-13 11-11 10-9 11-5 10-2 11 1 10 5 11 8 10 12 11 15 10 17 11 20 11 21 10 23 11 23z"/><path fill="url(#g90)" stroke="url(#g90)" d="M1918 336l-10-24-11-23-10-22-11-21-10-17-11-15-10-12-11-9-11-5-10-1-11 2-10 6-11 9-10 11-11 14-10 16-11 17-10 17-11 18-10 17-11 16-10 14-11 11-10 9-11 6-10 2-11-2-10-4-11-9-10-12-11-15-11-18-10-20-11-22-10-23-11-24 8-1 11 23 10 23 11 22 10 20 11 17 10 15 11 12 10 9 11 5 10 1 11-2 10-6 11-8 10-12 11-14 10-15 11-17 10-17 11-17 11-17 10-15 11-14 10-12 11-8 10-6 11-2 10 1 11 5 10 9 11 12 10 15 11 17 10 20 11 22 10 23 11 23z"/><path fill="url(#g91)" stroke="url(#g91)" d="M1910 337l-10-24-11-23-10-23-11-20-10-18-11-15-10-12-11-9-10-5-11-1-10 2-11 6-10 9-11 12-10 14-11 16-10 17-11 18-10 18-11 17-11 16-10 14-11 11-10 9-11 6-10 2-11-1-10-5-11-8-10-12-11-16-10-18-11-20-10-22-11-24-10-24 7-1 11 24 10 23 11 22 10 20 11 18 11 15 10 12 11 9 10 4 11 2 10-2 11-6 10-9 11-11 10-14 11-16 10-17 11-18 10-17 11-17 10-16 11-14 10-11 11-9 10-6 11-2 10 1 11 5 11 9 10 12 11 15 10 17 11 21 10 22 11 23 10 24z"/><path fill="url(#g92)" stroke="url(#g92)" d="M1903 338l-11-24-10-23-11-23-10-20-11-18-10-16-11-12-10-8-11-5-10-2-11 3-11 5-10 10-11 11-10 15-11 16-10 17-11 18-10 18-11 17-10 17-11 14-10 12-11 9-10 5-11 3-10-1-11-5-10-9-11-12-10-15-11-19-10-20-11-22-11-24-10-24 8-2 10 24 11 24 10 22 11 20 10 18 11 16 10 12 11 8 10 5 11 1 10-2 11-6 10-9 11-11 10-14 11-16 11-17 10-18 11-18 10-17 11-16 10-14 11-12 10-9 11-6 10-2 11 1 10 5 11 9 10 12 11 15 10 18 11 20 10 23 11 23 10 24z"/><path fill="url(#g93)" stroke="url(#g93)" d="M1895 340l-11-25-10-23-11-23-10-20-11-19-10-15-11-12-10-9-11-5-10-1-11 2-10 6-11 9-10 12-11 15-10 16-11 17-10 18-11 19-10 17-11 16-10 15-11 12-11 9-10 6-11 2-10-1-11-5-10-9-11-12-10-16-11-18-10-20-11-23-10-24-11-24 8-1 10 24 11 24 11 22 10 20 11 19 10 15 11 12 10 9 11 5 10 1 11-3 10-5 11-9 10-12 11-14 10-17 11-17 10-18 11-18 10-17 11-16 10-15 11-11 10-10 11-5 11-3 10 2 11 5 10 8 11 12 10 16 11 18 10 20 11 23 10 23 11 24z"/><path fill="url(#g94)" stroke="url(#g94)" d="M1887 341l-10-24-11-24-10-23-11-20-10-19-11-15-10-12-11-9-10-5-11-1-10 2-11 6-10 9-11 12-11 15-10 16-11 18-10 18-11 18-10 18-11 16-10 14-11 12-10 9-11 6-10 3-11-2-10-5-11-8-10-12-11-16-10-18-11-21-10-22-11-24-10-25 7-1 11 24 10 24 11 23 10 20 11 18 10 16 11 12 10 9 11 5 10 1 11-2 10-6 11-9 11-12 10-15 11-16 10-17 11-19 10-18 11-17 10-16 11-15 10-12 11-9 10-6 11-2 10 1 11 5 10 9 11 12 10 15 11 19 10 20 11 23 10 23 11 25z"/><path fill="url(#g95)" stroke="url(#g95)" d="M1880 342l-11-24-10-24-11-22-10-21-11-18-11-16-10-12-11-9-10-5-11-1-10 2-11 6-10 10-11 12-10 14-11 16-10 18-11 18-10 18-11 18-10 16-11 15-10 12-11 9-10 6-11 2-10-1-11-5-11-9-10-12-11-15-10-19-11-20-10-23-11-24-10-24 8-2 10 25 11 24 10 22 11 21 10 18 11 16 10 12 11 8 10 5 11 2 10-3 11-6 10-9 11-12 10-14 11-16 10-18 11-18 10-18 11-18 10-16 11-15 11-12 10-9 11-6 10-2 11 1 10 5 11 9 10 12 11 15 10 19 11 20 10 23 11 24 10 24z"/><path fill="url(#g96)" stroke="url(#g96)" d="M1872 344l-11-25-10-23-11-23-10-21-11-18-10-15-11-13-10-8-11-5-10-1-11 2-10 6-11 9-10 12-11 14-10 17-11 17-11 18-10 19-11 17-10 16-11 15-10 12-11 9-10 6-11 2-10-1-11-5-10-9-11-12-10-15-11-18-10-21-11-23-10-23-11-25 8-1 10 24 11 24 10 23 11 20 10 19 11 15 10 12 11 9 11 5 10 1 11-2 10-6 11-9 10-12 11-15 10-16 11-18 10-18 11-18 10-18 11-16 10-14 11-12 10-10 11-6 10-2 11 1 10 5 11 9 10 12 11 16 11 18 10 21 11 22 10 24 11 24z"/><path fill="url(#g97)" stroke="url(#g97)" d="M1864 345l-10-24-11-24-10-22-11-21-10-18-11-16-10-12-11-8-11-5-10-2-11 3-10 6-11 9-10 12-11 14-10 16-11 18-10 18-11 18-10 17-11 17-10 14-11 12-10 9-11 6-10 2-11-1-10-5-11-9-10-12-11-15-11-18-10-21-11-22-10-24-11-25 8-1 11 25 10 23 11 23 10 21 11 18 10 15 11 12 10 9 11 5 10 1 11-2 10-6 11-9 10-12 11-15 10-16 11-17 10-19 11-18 11-17 10-17 11-14 10-12 11-9 10-6 11-2 10 1 11 5 10 8 11 13 10 15 11 18 10 21 11 23 10 23 11 25z"/><path fill="url(#g98)" stroke="url(#g98)" d="M1856 347l-10-25-11-23-10-23-11-20-10-18-11-16-10-12-11-8-10-5-11-2-10 3-11 6-10 9-11 11-10 15-11 16-10 17-11 18-10 18-11 18-11 16-10 14-11 12-10 9-11 6-10 2-11-1-10-5-11-9-10-12-11-15-10-18-11-21-10-22-11-24-10-24 7-2 11 25 10 24 11 22 10 21 11 18 11 15 10 12 11 9 10 5 11 1 10-2 11-6 10-9 11-12 10-14 11-17 10-17 11-18 10-18 11-18 10-16 11-14 10-12 11-9 10-6 11-3 10 2 11 5 11 8 10 12 11 16 10 18 11 21 10 22 11 24 10 24z"/><path fill="url(#g99)" stroke="url(#g99)" d="M1849 348l-11-24-10-24-11-22-10-20-11-18-10-15-11-12-10-9-11-5-10-1-11 2-11 6-10 9-11 11-10 15-11 16-10 17-11 18-10 17-11 18-10 15-11 15-10 11-11 9-10 6-11 2-10-1-11-5-10-9-11-12-10-15-11-18-10-20-11-22-11-24-10-24 8-1 10 24 11 24 10 22 11 21 10 18 11 15 10 12 11 9 10 5 11 1 10-2 11-6 10-9 11-12 10-14 11-16 11-18 10-18 11-18 10-17 11-16 10-15 11-11 10-9 11-6 10-3 11 2 10 5 11 8 10 12 11 16 10 18 11 20 10 23 11 23 10 25z"/><path fill="url(#g100)" stroke="url(#g100)" d="M1841 349l-10-24-11-23-11-22-10-20-11-18-10-15-11-12-10-8-11-5-10-2-11 3-10 5-11 9-10 12-11 14-10 15-11 17-10 18-11 17-10 17-11 16-10 14-11 12-10 8-11 6-11 2-10-1-11-5-10-8-11-12-10-15-11-18-10-20-11-22-10-24-11-23 8-2 10 24 11 24 11 22 10 20 11 18 10 15 11 12 10 9 11 5 10 1 11-2 10-6 11-9 10-11 11-15 10-15 11-18 10-17 11-18 10-17 11-16 10-15 11-11 10-9 11-6 11-2 10 1 11 5 10 9 11 12 10 15 11 18 10 20 11 22 10 24 11 24z"/><path fill="url(#g101)" stroke="url(#g101)" d="M1833 351l-10-24-11-23-10-22-11-20-10-17-11-15-10-12-11-8-10-5-11-2-10 3-11 5-10 9-11 11-11 14-10 15-11 17-10 17-11 18-10 16-11 16-10 13-11 12-10 8-11 6-10 2-11-1-10-5-11-9-10-11-11-15-10-18-11-20-10-22-11-23-10-23 7-1 11 23 10 24 11 22 10 20 11 18 10 15 11 12 10 8 11 5 10 1 11-2 11-6 10-8 11-12 10-14 11-16 10-17 11-17 10-18 11-17 10-15 11-14 10-12 11-9 10-5 11-3 10 2 11 5 10 8 11 12 10 15 11 18 10 20 11 22 11 23 10 24z"/><path fill="url(#g102)" stroke="url(#g102)" d="M1826 352l-11-23-10-23-11-21-10-20-11-17-11-15-10-12-11-8-10-5-11-1-10 2-11 5-10 8-11 12-10 13-11 15-10 17-11 17-10 17-11 16-10 15-11 13-10 12-11 8-10 5-11 3-10-2-11-5-11-8-10-12-11-14-10-18-11-19-10-22-11-23-10-23 8-1 10 23 11 23 10 22 11 20 10 18 11 15 10 11 11 9 10 5 11 1 10-2 11-6 10-8 11-12 10-13 11-16 10-16 11-18 10-17 11-17 10-15 11-14 11-11 10-9 11-5 10-3 11 2 10 5 11 8 10 12 11 15 10 17 11 20 10 22 11 23 10 24z"/><path fill="url(#g103)" stroke="url(#g103)" d="M1818 353l-11-23-10-22-11-21-10-19-11-17-10-15-11-11-10-9-11-5-10-1-11 2-10 5-11 9-10 10-11 13-10 15-11 16-11 17-10 17-11 16-10 14-11 13-10 11-11 9-10 5-11 2-10-2-11-4-10-9-11-11-10-15-11-17-10-19-11-21-10-23-11-22 8-2 10 23 11 23 10 22 11 19 10 18 11 14 10 12 11 8 11 5 10 2 11-3 10-5 11-8 10-12 11-13 10-15 11-16 10-17 11-17 10-17 11-15 10-13 11-12 10-8 11-5 10-2 11 1 10 5 11 8 10 12 11 15 11 17 10 20 11 21 10 23 11 23z"/><path fill="url(#g104)" stroke="url(#g104)" d="M1810 355l-10-23-11-22-10-20-11-19-10-17-11-14-10-12-11-8-11-5-10-1-11 2-10 5-11 8-10 10-11 13-10 14-11 16-10 16-11 16-10 16-11 14-10 13-11 11-10 8-11 5-10 2-11-2-10-5-11-8-10-11-11-14-11-17-10-19-11-21-10-22-11-22 8-1 11 22 10 23 11 21 10 19 11 17 10 15 11 11 10 9 11 4 10 2 11-2 10-5 11-9 10-11 11-13 10-14 11-16 10-17 11-17 11-16 10-15 11-13 10-10 11-9 10-5 11-2 10 1 11 5 10 9 11 11 10 15 11 17 10 19 11 21 10 22 11 23z"/><path fill="url(#g105)" stroke="url(#g105)" d="M1802 356l-10-22-11-21-10-21-11-18-10-17-11-14-10-11-11-8-10-5-11-1-10 2-11 4-10 8-11 10-10 13-11 14-10 15-11 16-10 15-11 15-10 14-11 13-11 10-10 8-11 5-10 1-11-1-10-5-11-8-10-11-11-14-10-16-11-19-10-20-11-22-10-22 7-1 11 22 10 22 11 21 10 19 11 17 11 14 10 11 11 8 10 5 11 2 10-2 11-5 10-8 11-11 10-13 11-14 10-16 11-16 10-16 11-16 10-14 11-13 10-10 11-8 10-5 11-2 10 1 11 5 11 8 10 12 11 14 10 17 11 19 10 20 11 22 10 23z"/><path fill="url(#g106)" stroke="url(#g106)" d="M1795 357l-11-21-10-21-11-20-10-18-11-16-10-14-11-11-10-8-11-4-10-2-11 2-11 4-10 8-11 10-10 12-11 13-10 15-11 15-10 15-11 15-10 13-11 12-10 10-11 8-10 4-11 2-10-2-11-4-10-8-11-11-10-14-11-16-10-18-11-20-11-21-10-21 8-2 10 22 11 22 10 20 11 19 10 16 11 14 10 11 11 8 10 5 11 1 10-1 11-5 10-8 11-10 11-13 10-14 11-15 10-15 11-16 10-15 11-14 10-13 11-10 10-8 11-4 10-2 11 1 10 5 11 8 10 11 11 14 10 17 11 18 10 21 11 21 10 22z"/><path fill="url(#g107)" stroke="url(#g107)" d="M1787 359l-10-21-11-21-11-19-10-18-11-15-10-14-11-10-10-8-11-5-10-1-11 1-10 5-11 7-10 9-11 12-10 13-11 14-10 14-11 15-10 14-11 13-10 12-11 9-10 7-11 5-11 1-10-2-11-4-10-8-11-11-10-13-11-16-10-17-11-20-10-20-11-21 8-1 10 21 11 21 11 20 10 18 11 16 10 14 11 11 10 8 11 4 10 2 11-2 10-4 11-8 10-10 11-12 10-13 11-15 10-15 11-15 10-15 11-13 10-12 11-10 10-8 11-4 11-2 10 2 11 4 10 8 11 11 10 14 11 16 10 18 11 20 10 21 11 21z"/><path fill="url(#g108)" stroke="url(#g108)" d="M1779 360l-10-20-11-20-10-19-11-17-10-15-11-13-10-11-11-7-10-5-11-2-10 2-11 4-10 7-11 9-11 11-10 12-11 14-10 14-11 14-10 13-11 13-10 11-11 9-10 6-11 5-10 1-11-2-10-4-11-8-10-10-11-13-10-16-11-17-10-19-11-19-10-21 7-1 11 21 10 20 11 20 10 17 11 16 10 13 11 11 10 8 11 4 10 2 11-1 11-5 10-7 11-9 10-12 11-13 10-14 11-15 10-14 11-14 10-13 11-12 10-9 11-7 10-5 11-1 10 1 11 5 10 8 11 10 10 14 11 15 10 18 11 19 11 21 10 21z"/><path fill="url(#g109)" stroke="url(#g109)" d="M1772 361l-11-19-10-19-11-19-10-16-11-15-11-13-10-10-11-7-10-5-11-2-10 2-11 3-10 7-11 8-10 11-11 12-10 13-11 13-10 13-11 13-10 12-11 11-10 8-11 7-10 3-11 2-10-2-11-5-11-7-10-10-11-13-10-15-11-16-10-19-11-19-10-19 8-2 10 21 11 19 10 19 11 17 10 16 11 13 10 10 11 8 10 4 11 2 10-1 11-5 10-6 11-9 10-11 11-13 10-13 11-14 10-14 11-14 10-12 11-11 11-9 10-7 11-4 10-2 11 2 10 5 11 7 10 11 11 13 10 15 11 17 10 19 11 20 10 20z"/><path fill="url(#g110)" stroke="url(#g110)" d="M1764 363l-11-19-10-19-11-17-10-16-11-15-10-12-11-10-10-7-11-5-10-1-11 1-10 3-11 6-10 8-11 10-10 11-11 13-10 12-11 13-11 12-10 12-11 9-10 9-11 6-10 3-11 1-10-2-11-4-10-7-11-10-10-13-11-14-10-16-11-18-10-18-11-19 8-1 10 19 11 19 10 19 11 16 10 15 11 13 10 10 11 7 11 5 10 2 11-2 10-3 11-7 10-8 11-11 10-12 11-13 10-13 11-13 10-13 11-12 10-11 11-8 10-7 11-3 10-2 11 2 10 5 11 7 10 10 11 13 11 15 10 16 11 19 10 19 11 19z"/><path fill="url(#g111)" stroke="url(#g111)" d="M1756 364l-10-18-11-18-10-17-11-15-10-14-11-12-10-10-11-7-11-4-10-2-11 1-10 3-11 6-10 7-11 10-10 10-11 12-10 12-11 12-10 11-11 11-10 9-11 8-10 5-11 4-10 0-11-1-10-5-11-7-10-10-11-11-11-14-10-16-11-17-10-17-11-19 8-1 11 19 10 18 11 18 10 16 11 14 10 13 11 10 10 7 11 4 10 2 11-1 10-3 11-6 10-9 11-9 10-12 11-12 11-13 10-12 11-13 10-11 11-10 10-8 11-6 10-3 11-1 10 1 11 5 10 7 11 10 10 12 11 15 10 16 11 17 10 19 11 19z"/><path fill="url(#g112)" stroke="url(#g112)" d="M1748 365l-10-17-11-17-10-16-11-15-10-14-11-11-10-9-11-7-10-4-11-2-10 0-11 3-10 5-11 7-10 9-11 10-10 11-11 11-10 11-11 11-10 10-11 9-11 7-10 5-11 3-10 0-11-1-10-5-11-7-10-9-11-11-10-14-11-15-10-16-11-17-10-17 7-2 11 19 10 17 11 17 10 16 11 14 11 11 10 10 11 7 10 5 11 1 10 0 11-4 10-5 11-8 10-9 11-11 10-11 11-12 10-12 11-12 10-10 11-10 10-7 11-6 10-3 11-1 10 2 11 4 11 7 10 10 11 12 10 14 11 15 10 17 11 18 10 18z"/><path fill="url(#g113)" stroke="url(#g113)" d="M1741 367l-11-17-10-16-11-16-10-14-11-13-10-11-11-8-10-7-11-4-10-2-11 0-11 3-10 4-11 7-10 8-11 9-10 10-11 10-10 11-11 10-10 9-11 8-10 7-11 4-10 3-11 0-10-2-11-4-10-7-11-9-10-10-11-13-10-15-11-15-10-16-11-17 8-1 10 17 11 17 10 16 11 15 10 14 11 11 10 9 11 7 10 5 11 1 10 0 11-3 10-5 11-7 11-9 10-10 11-11 10-11 11-11 10-11 11-10 10-9 11-7 10-5 11-3 10 0 11 2 10 4 11 7 10 9 11 11 10 14 11 15 10 16 11 17 10 17z"/><path fill="url(#g114)" stroke="url(#g114)" d="M1733 368l-10-16-11-15-11-15-10-14-11-12-10-10-11-9-10-6-11-4-10-2-11 0-10 2-11 4-10 6-11 8-10 8-11 9-10 10-11 9-10 10-11 8-10 7-11 6-10 4-11 3-11 0-10-2-11-4-10-7-11-8-10-11-11-12-10-14-11-14-10-16-11-16 8-1 11 17 10 16 11 15 10 15 11 13 10 10 11 9 10 7 11 4 10 2 11 0 10-3 11-4 10-7 11-8 10-9 11-10 10-11 11-10 10-10 11-9 10-8 11-7 10-4 11-3 11 0 10 2 11 4 10 7 11 8 10 11 11 13 10 14 11 16 10 16 11 17z"/><path fill="url(#g115)" stroke="url(#g115)" d="M1725 369l-10-15-11-14-10-14-11-13-10-12-11-9-10-9-11-6-10-4-11-2-10 0-11 2-10 3-11 6-10 6-11 8-11 8-10 9-11 9-10 8-11 8-10 7-11 5-10 4-11 1-10 0-11-2-10-4-11-6-10-8-11-10-10-12-11-13-10-14-11-14-10-15 7-2 11 16 10 16 11 14 10 14 11 12 10 11 11 8 10 7 11 4 10 2 11 0 11-3 10-4 11-6 10-7 11-8 10-10 11-9 10-10 11-9 10-8 11-8 10-6 11-4 10-2 11 0 10 2 11 4 10 6 11 9 10 10 11 12 10 14 11 15 11 15 10 16z"/><path fill="url(#g116)" stroke="url(#g116)" d="M1718 371l-11-14-10-14-11-13-10-12-11-11-11-10-10-8-11-5-10-5-11-2-10 0-11 1-10 4-11 4-10 6-11 7-10 8-11 7-10 8-11 8-10 7-11 6-10 4-11 3-10 2-11 0-10-2-11-5-11-6-10-7-11-10-10-11-11-12-10-13-11-14-10-14 8-1 10 15 11 14 10 14 11 13 10 12 11 10 10 8 11 6 10 4 11 2 10 0 11-1 10-4 11-5 10-7 11-8 10-8 11-9 10-9 11-8 11-8 10-6 11-6 10-3 11-2 10 0 11 2 10 4 11 6 10 9 11 9 10 12 11 13 10 14 11 14 10 15z"/><path fill="url(#g117)" stroke="url(#g117)" d="M1710 372l-11-13-10-13-11-12-10-12-11-10-10-9-11-7-10-6-11-4-10-2-11-1-10 1-11 3-10 4-11 5-10 6-11 7-10 7-11 7-11 6-10 6-11 6-10 4-11 2-10 1-11 0-10-2-11-4-10-6-11-8-10-8-11-11-10-11-11-12-10-13-11-14 8-1 10 14 11 14 10 13 11 12 10 11 11 10 10 7 11 6 11 5 10 2 11 0 10-2 11-3 10-4 11-6 10-7 11-8 10-8 11-7 10-8 11-7 10-6 11-4 10-4 11-1 10 0 11 2 10 5 11 5 10 8 11 10 11 11 10 12 11 13 10 14 11 14z"/><path fill="url(#g118)" stroke="url(#g118)" d="M1702 374l-10-13-11-12-10-11-11-11-10-9-11-9-10-7-11-5-11-4-10-3-11 0-10 0-11 3-10 3-11 4-10 5-11 6-10 6-11 6-10 6-11 5-10 4-11 4-10 2-11 1-10-1-11-2-10-4-11-6-10-7-11-8-10-10-11-10-11-12-10-12-11-12 8-2 11 14 10 13 11 12 10 11 11 11 10 8 11 8 10 6 11 4 10 2 11 0 10-1 11-2 10-4 11-6 10-6 11-6 11-7 10-7 11-7 10-6 11-5 10-4 11-3 10-1 11 1 10 2 11 4 10 6 11 7 10 9 11 10 10 12 11 12 10 13 11 13z"/><path fill="url(#g119)" stroke="url(#g119)" d="M1694 375l-10-11-11-11-10-11-11-10-10-9-11-8-10-6-11-6-10-3-11-3-10-1-11 1-10 1-11 3-10 3-11 5-10 4-11 6-10 5-11 4-10 5-11 3-11 3-10 2-11 0-10-1-11-3-10-3-11-6-10-6-11-8-10-9-11-10-10-10-11-12-10-11 7-1 11 12 10 12 11 12 11 10 10 10 11 8 10 7 11 6 10 4 11 2 10 1 11-1 10-2 11-4 10-4 11-5 10-6 11-6 10-6 11-6 10-5 11-4 10-3 11-3 10 0 11 0 10 3 11 4 11 5 10 7 11 9 10 9 11 11 10 11 11 12 10 13z"/><path fill="url(#g120)" stroke="url(#g120)" d="M1687 376l-11-10-10-10-11-10-10-9-11-8-10-7-11-7-10-5-11-3-10-3-11-1-10 0-11 1-11 2-10 3-11 3-10 4-11 4-10 4-11 4-10 3-11 3-10 2-11 1-10 0-11-1-10-3-11-4-10-5-11-6-10-7-11-8-10-9-11-10-10-10-11-10 8-2 10 11 11 12 10 10 11 10 10 9 11 8 10 6 11 6 10 3 11 3 10 1 11 0 10-2 11-3 11-3 10-5 11-4 10-5 11-6 10-4 11-5 10-3 11-3 10-1 11-1 10 1 11 3 10 3 11 6 10 6 11 8 10 9 11 10 10 11 11 11 10 11z"/><path fill="url(#g121)" stroke="url(#g121)" d="M1679 378l-10-10-11-9-11-9-10-8-11-7-10-7-11-6-10-5-11-3-10-3-11-1-10-1-11 1-10 1-11 2-10 2-11 3-10 3-11 3-10 3-11 3-10 2-11 1-10 0-11 0-11-2-10-2-11-4-10-5-11-5-10-7-11-8-10-8-11-9-10-9-11-9 8-1 11 10 10 10 11 10 10 9 11 8 10 7 11 6 10 5 11 4 10 3 11 1 10 0 11-1 10-2 11-3 10-3 11-4 10-4 11-4 10-4 11-3 10-3 11-2 11-1 10 0 11 1 10 3 11 3 10 5 11 7 10 7 11 8 10 9 11 10 10 10 11 10z"/><path fill="url(#g122)" stroke="url(#g122)" d="M1671 379l-10-8-11-9-10-7-11-8-10-7-11-6-10-5-11-5-10-3-11-3-10-2-11-1-10 0-11 1-10 1-11 2-11 2-10 2-11 2-10 2-11 1-10 1-11 1-10 0-11-1-10-2-11-3-10-3-11-5-10-5-11-6-10-7-11-7-10-8-11-8-10-9 7-1 11 9 10 9 11 9 10 8 11 8 10 7 11 5 10 5 11 4 10 2 11 2 11 0 10 0 11-1 10-2 11-3 10-3 11-3 10-3 11-3 10-2 11-2 10-1 11-1 10 1 11 1 10 3 11 3 10 5 11 6 10 7 11 7 10 8 11 9 11 9 10 10z"/><path fill="url(#g123)" stroke="url(#g123)" d="M1664 380l-11-7-10-7-11-7-10-7-11-6-11-5-10-5-11-4-10-4-11-3-10-2-11-1-10-1-11 0-10 0-11 1-10 1-11 1-10 1-11 1-10 1-11 0-10 0-11-1-10-1-11-2-10-3-11-4-10-4-11-5-11-5-10-6-11-7-10-7-11-7-10-7 8-2 10 9 11 8 10 8 11 7 10 7 11 6 10 5 11 5 10 3 11 3 10 2 11 1 10 0 11-1 10-1 11-1 10-2 11-2 10-2 11-2 11-2 10-1 11-1 10 0 11 1 10 2 11 3 10 3 11 5 10 5 11 6 10 7 11 8 10 7 11 9 10 8z"/><path fill="url(#g124)" stroke="url(#g124)" d="M1656 382l-11-7-10-6-11-6-10-5-11-6-10-5-11-4-10-4-11-4-10-2-11-3-10-2-11-1-10-1-11 0-10-1-11 0-10 0-11 0-11 0-10 0-11-1-10-1-11-1-10-2-11-2-10-3-11-3-10-4-11-5-10-5-11-5-10-6-11-6-10-6-11-6 8-1 10 7 11 7 10 7 11 7 10 6 11 5 11 5 10 4 11 4 10 3 11 2 10 1 11 1 10 0 11 0 10-1 11-1 10-1 11-1 10-1 11-1 10 0 11 0 10 1 11 1 10 2 11 3 10 4 11 4 10 5 11 5 11 6 10 7 11 7 10 7 11 7z"/><path fill="url(#g125)" stroke="url(#g125)" d="M1648 383l-10-5-11-5-10-5-11-5-10-5-11-4-10-4-11-4-10-3-11-3-11-3-10-2-11-2-10-2-11-1-10-1-11-1-10-1-11-1-10-1-11-2-10-1-11-2-10-2-11-2-10-3-11-2-10-4-11-3-10-4-11-5-10-4-11-5-11-5-10-5-11-6 8-1 11 6 10 6 11 6 10 6 11 5 10 5 11 5 10 4 11 3 10 3 11 2 10 2 11 1 10 1 11 1 10 0 11 0 11 0 10 0 11 0 10 1 11 0 10 1 11 1 10 2 11 3 10 2 11 4 10 4 11 4 10 5 11 6 10 5 11 6 10 6 11 7z"/><path fill="url(#g126)" stroke="url(#g126)" d="M1640 384l-10-4-11-4-10-4-11-4-10-4-11-4-10-3-11-4-10-3-11-3-10-3-11-2-10-3-11-2-10-3-11-2-10-2-11-2-10-2-11-2-10-2-11-3-11-2-10-3-11-2-10-3-11-3-10-3-11-4-10-3-11-4-10-4-11-4-10-4-11-4-10-4 7-2 11 6 10 5 11 5 11 5 10 4 11 5 10 4 11 3 10 4 11 2 10 3 11 2 10 2 11 2 10 1 11 2 10 1 11 1 10 1 11 1 10 1 11 1 10 2 11 2 10 2 11 3 11 3 10 3 11 4 10 4 11 4 10 5 11 5 10 5 11 5 10 5z"/><path fill="url(#g127)" stroke="url(#g127)" d="M1633 386l-11-3-10-4-11-3-10-3-11-3-10-3-11-3-10-3-11-3-10-4-11-3-10-3-11-3-11-3-10-3-11-3-10-4-11-3-10-3-11-3-10-3-11-3-10-3-11-3-10-4-11-3-10-3-11-3-10-3-11-3-10-3-11-3-10-4-11-3-10-3-11-3 8-1 10 4 11 4 10 4 11 4 10 4 11 4 10 3 11 4 10 3 11 3 10 3 11 2 10 3 11 2 11 3 10 2 11 2 10 2 11 2 10 2 11 2 10 3 11 2 10 3 11 2 10 3 11 3 10 3 11 4 10 3 11 4 10 4 11 4 10 4 11 4 10 4z"/></g><g><path fill="url(#g128)" stroke="url(#g128)" d="M964 1045l-11-3-10-3-11-4-10-3-10-3-11-3-10-4-11-5-10-5-11-8-10-10-11-14-10-17-11-20-10-21-11-20-10-14-11-7-10 1-11 8-10 13-11 15-10 14-11 11-10 7-11 4-10 2-10-1-11-2-10-3-11-2-10-3-11-4-10-3-11-3-10-3 7-1 11 3 10 3 11 3 10 3 11 3 10 3 11 3 10 2 11 0 10-1 11-4 10-8 11-11 10-13 11-15 10-13 11-9 10-1 10 8 11 14 10 19 11 22 10 20 11 17 10 14 11 10 10 8 11 5 10 4 11 4 10 4 11 3 10 3 11 3 10 3 11 3z"/><path fill="url(#g129)" stroke="url(#g129)" d="M956 1046l-10-3-11-3-10-3-11-3-10-4-11-3-10-4-11-4-10-6-11-7-10-11-10-13-11-18-10-20-11-21-10-19-11-15-10-7-11 1-10 8-11 13-10 15-11 14-10 11-11 8-10 4-11 1-10-1-11-2-10-2-11-3-10-3-11-3-10-3-10-3-11-4 8-1 10 3 11 3 10 3 11 4 10 3 11 2 10 3 11 2 10 1 10-2 11-4 10-7 11-11 10-14 11-15 10-13 11-8 10-1 11 7 10 14 11 20 10 21 11 20 10 17 11 14 10 10 11 8 10 5 11 5 10 4 11 3 10 3 10 3 11 4 10 3 11 3z"/><path fill="url(#g130)" stroke="url(#g130)" d="M949 1047l-11-3-10-3-11-3-10-3-11-3-10-4-11-3-10-5-11-5-10-8-11-10-10-14-11-17-10-20-11-22-10-19-11-14-10-7-11 0-10 9-10 13-11 15-10 13-11 12-10 7-11 4-10 1-11 0-10-2-11-3-10-3-11-3-10-3-11-3-10-3-11-3 8-2 11 4 10 3 10 3 11 3 10 3 11 3 10 2 11 2 10 1 11-1 10-4 11-8 10-11 11-14 10-15 11-13 10-8 11-1 10 7 11 15 10 19 11 21 10 20 11 18 10 13 10 11 11 7 10 6 11 4 10 4 11 3 10 4 11 3 10 3 11 3 10 3z"/><path fill="url(#g131)" stroke="url(#g131)" d="M941 1049l-11-3-10-3-11-4-10-3-11-3-10-3-10-4-11-4-10-6-11-8-10-10-11-14-10-17-11-20-10-21-11-20-10-14-11-7-10 1-11 8-10 13-11 15-10 14-11 11-10 7-11 4-10 2-11-1-10-2-10-3-11-2-10-3-11-3-10-4-11-3-10-3 7-1 11 3 10 3 11 3 10 3 11 3 10 3 11 3 10 2 11 0 10-1 11-4 10-7 11-12 10-13 11-15 10-13 10-9 11 0 10 7 11 14 10 19 11 22 10 20 11 17 10 14 11 10 10 8 11 5 10 5 11 3 10 4 11 3 10 3 11 3 10 3 11 3z"/><path fill="url(#g132)" stroke="url(#g132)" d="M933 1050l-10-3-11-3-10-3-11-3-10-4-11-3-10-4-11-4-10-6-11-7-10-11-11-13-10-18-10-20-11-21-10-19-11-15-10-7-11 1-10 8-11 13-10 15-11 14-10 11-11 8-10 4-11 1-10-1-11-2-10-2-11-3-10-3-11-3-10-3-11-3-10-4 8-1 10 3 11 3 10 4 11 3 10 3 11 2 10 3 10 2 11 1 10-2 11-4 10-7 11-11 10-14 11-15 10-13 11-8 10-1 11 7 10 14 11 20 10 21 11 20 10 17 11 14 10 10 11 8 10 6 11 4 10 4 10 3 11 3 10 3 11 4 10 3 11 3z"/><path fill="url(#g133)" stroke="url(#g133)" d="M926 1051l-11-3-10-3-11-3-10-3-11-3-10-4-11-3-10-5-11-5-10-8-11-10-10-14-11-17-10-20-11-22-10-19-11-14-10-7-11 0-10 9-11 13-10 15-10 13-11 12-10 7-11 4-10 1-11 0-10-2-11-3-10-3-11-3-10-3-11-3-10-3-11-3 8-2 10 4 11 3 10 3 11 3 10 3 11 3 10 2 11 2 10 1 11-1 10-4 11-8 10-11 11-14 10-15 11-13 10-8 11-1 10 7 11 15 10 19 11 21 10 20 10 18 11 13 10 11 11 7 10 6 11 4 10 4 11 3 10 4 11 3 10 3 11 3 10 3z"/><path fill="url(#g134)" stroke="url(#g134)" d="M918 1053l-11-3-10-3-11-4-10-3-11-3-10-3-11-4-10-4-10-6-11-8-10-10-11-14-10-17-11-20-10-21-11-19-10-15-11-7-10 1-11 8-10 13-11 15-10 14-11 11-10 7-11 4-10 2-11-1-10-2-11-2-10-3-10-3-11-3-10-4-11-3-10-3 7-1 11 3 10 3 11 3 10 3 11 3 10 3 11 3 10 2 11 0 10-1 11-4 10-7 11-12 10-13 10-15 11-13 10-9 11 0 10 7 11 14 10 19 11 22 10 20 11 17 10 14 11 10 10 8 11 5 10 5 11 3 10 4 11 3 10 3 11 3 10 3 11 3z"/><path fill="url(#g135)" stroke="url(#g135)" d="M910 1054l-10-3-11-3-10-3-11-3-10-4-11-3-10-4-11-4-10-6-11-7-10-11-11-13-10-18-11-20-10-21-10-19-11-15-10-7-11 1-10 8-11 13-10 15-11 14-10 11-11 8-10 4-11 1-10-1-11-2-10-2-11-3-10-3-11-3-10-3-11-3-10-4 8-1 10 3 11 3 10 4 11 3 10 3 10 3 11 2 10 2 11 1 10-2 11-4 10-7 11-11 10-14 11-15 10-13 11-8 10-1 11 7 10 15 11 19 10 21 11 20 10 17 11 14 10 10 11 8 10 6 10 4 11 4 10 3 11 3 10 3 11 4 10 3 11 3z"/><path fill="url(#g136)" stroke="url(#g136)" d="M902 1055l-10-3-10-3-11-3-10-3-11-3-10-4-11-4-10-4-11-5-10-8-11-10-10-14-11-17-10-20-11-22-10-19-11-14-10-8-11 1-10 9-11 13-10 14-11 14-10 11-10 8-11 4-10 1-11-1-10-1-11-3-10-3-11-3-10-3-11-3-10-3-11-3 8-2 10 4 11 3 10 3 11 3 10 3 11 3 10 2 11 2 10 1 11-1 10-4 11-8 10-11 11-14 10-15 11-13 10-8 11-1 10 7 11 15 10 19 10 21 11 20 10 18 11 13 10 11 11 7 10 6 11 4 10 4 11 3 10 4 11 3 10 3 11 3 10 3z"/><path fill="url(#g137)" stroke="url(#g137)" d="M895 1057l-11-3-10-4-11-3-10-3-11-3-10-4-11-3-10-5-11-5-10-8-10-10-11-14-10-17-11-20-10-21-11-20-10-14-11-7-10 1-11 8-10 13-11 15-10 14-11 11-10 7-11 4-10 1-11 0-10-2-11-3-10-3-11-3-10-3-10-3-11-3-10-3 7-1 11 3 10 3 11 3 10 3 11 3 10 3 11 3 10 1 11 1 10-1 11-4 10-8 10-11 11-14 10-14 11-13 10-9 11-1 10 8 11 14 10 19 11 22 10 20 11 17 10 14 11 10 10 8 11 5 10 4 11 4 10 4 11 3 10 3 11 3 10 3 10 3z"/><path fill="url(#g138)" stroke="url(#g138)" d="M887 1058l-10-3-11-3-10-4-11-3-10-3-11-3-10-4-11-5-10-5-11-8-10-10-11-14-10-17-11-20-10-21-11-20-10-14-10-7-11 1-10 8-11 13-10 15-11 14-10 11-11 7-10 4-11 2-10-1-11-2-10-3-11-2-10-3-11-4-10-3-11-3-10-3 8-1 10 3 11 3 10 3 10 3 11 3 10 3 11 3 10 2 11 0 10-1 11-4 10-7 11-11 10-14 11-15 10-13 11-8 10-1 11 7 10 14 11 20 10 21 11 20 10 17 11 14 10 10 10 8 11 5 10 5 11 3 10 4 11 3 10 3 11 3 10 4 11 3z"/><path fill="url(#g139)" stroke="url(#g139)" d="M879 1059l-10-3-11-3-10-4-10-3-11-3-10-3-11-4-10-4-11-6-10-8-11-10-10-14-11-17-10-20-11-21-10-20-11-14-10-7-11 1-10 8-11 13-10 15-11 14-10 11-11 7-10 4-10 2-11-1-10-2-11-3-10-2-11-3-10-3-11-4-10-3-11-3 8-1 10 3 11 3 10 3 11 4 10 3 11 2 10 3 11 2 10 1 11-2 10-4 11-7 10-11 11-14 10-15 11-13 10-8 11-1 10 7 10 14 11 20 10 21 11 20 10 17 11 14 10 10 11 8 10 5 11 5 10 4 11 3 10 3 11 3 10 4 11 3 10 3z"/><path fill="url(#g140)" stroke="url(#g140)" d="M872 1060l-11-3-10-4-11-3-10-3-11-3-10-4-11-3-10-5-11-5-10-8-11-10-10-14-10-17-11-20-10-21-11-20-10-14-11-7-10 1-11 8-10 13-11 15-10 14-11 11-10 7-11 4-10 1-11 0-10-2-11-3-10-3-11-3-10-3-11-3-10-3-10-3 7-1 11 3 10 3 11 4 10 3 11 3 10 2 11 3 10 2 11 1 10-2 10-4 11-7 10-11 11-14 10-15 11-13 10-8 11-1 10 7 11 14 10 20 11 21 10 20 11 17 10 14 11 10 10 8 11 6 10 4 11 4 10 3 11 3 10 3 10 4 11 3 10 3z"/><path fill="url(#g141)" stroke="url(#g141)" d="M864 1060l-10-3-11-3-10-3-11-3-10-4-11-3-10-4-11-4-10-6-11-7-10-10-11-14-10-17-11-21-10-21-11-19-10-14-11-8-10 1-10 8-11 13-10 15-11 14-10 11-11 8-10 4-11 1-10-1-11-2-10-2-11-3-10-3-11-3-10-3-11-3-10-3 8-1 10 3 10 3 11 3 10 3 11 3 10 3 11 3 10 2 11 0 10-1 11-4 10-7 11-11 10-14 11-15 10-13 11-8 10-1 11 7 10 14 11 20 10 21 11 20 10 17 10 14 11 10 10 8 11 5 10 5 11 3 10 4 11 3 10 3 11 3 10 4 11 3z"/><path fill="url(#g142)" stroke="url(#g142)" d="M856 1061l-10-4-11-3-10-3-11-3-10-3-10-4-11-3-10-5-11-5-10-8-11-10-10-14-11-17-10-20-11-21-10-20-11-14-10-7-11 0-10 9-11 13-10 15-11 14-10 11-11 7-10 4-11 1-10 0-10-2-11-3-10-3-11-3-10-3-11-3-10-3-11-3 8 0 10 3 11 3 10 3 11 3 10 3 11 3 10 2 11 2 10 1 11-1 10-4 11-8 10-11 11-14 10-15 11-13 10-8 10-1 11 8 10 14 11 19 10 21 11 21 10 17 11 14 10 10 11 7 10 6 11 4 10 4 11 3 10 4 11 3 10 3 11 3 10 3z"/><path fill="url(#g143)" stroke="url(#g143)" d="M849 1060l-11-3-10-3-11-3-10-3-11-4-10-3-11-4-10-4-11-6-10-7-11-10-10-14-11-17-10-21-10-21-11-19-10-14-11-8-10 1-11 8-10 14-11 14-10 14-11 11-10 8-11 4-10 1-11-1-10-1-11-3-10-3-11-3-10-3-11-3-10-3-11-3 8 0 11 3 10 3 11 3 10 3 11 3 10 3 11 3 10 2 10 0 11-1 10-4 11-7 10-11 11-14 10-15 11-13 10-9 11 0 10 7 11 14 10 20 11 21 10 20 11 17 10 14 11 10 10 8 11 5 10 5 11 3 10 4 10 3 11 3 10 3 11 3 10 4z"/><path fill="url(#g144)" stroke="url(#g144)" d="M841 1059l-10-3-11-3-10-3-11-3-10-3-11-4-10-3-11-5-10-5-11-8-10-10-11-14-10-17-11-20-10-22-11-19-10-14-11-7-10 0-11 9-10 13-10 15-11 13-10 12-11 7-10 4-11 1-10 0-11-2-10-3-11-3-10-3-11-3-10-3-11-3-10-3 7 1 11 3 10 3 11 3 10 3 11 3 10 3 11 3 10 1 11 1 10-1 11-4 10-8 11-11 10-14 11-14 10-14 11-8 10-1 11 8 10 14 11 19 10 21 10 21 11 17 10 14 11 10 10 7 11 6 10 4 11 4 10 3 11 4 10 3 11 3 10 3 11 3z"/><path fill="url(#g145)" stroke="url(#g145)" d="M833 1058l-10-3-11-3-10-4-11-3-10-3-11-3-10-4-10-4-11-6-10-8-11-10-10-13-11-18-10-20-11-21-10-19-11-15-10-7-11 1-10 8-11 13-10 15-11 14-10 11-11 7-10 4-11 2-10-1-11-2-10-2-10-3-11-3-10-3-11-4-10-3-11-3 8 2 10 3 11 3 10 3 11 3 10 3 11 3 10 3 11 2 10 0 11-1 10-4 11-7 10-12 11-13 10-15 10-13 11-9 10 0 11 7 10 14 11 19 10 22 11 20 10 17 11 14 10 10 11 8 10 5 11 5 10 3 11 4 10 3 11 3 10 3 11 3 10 3z"/><path fill="url(#g146)" stroke="url(#g146)" d="M826 1055l-11-3-10-3-11-3-10-3-11-3-10-4-11-4-10-4-11-5-10-8-11-10-10-14-11-17-10-20-11-22-10-19-10-14-11-8-10 1-11 9-10 13-11 14-10 14-11 11-10 8-11 4-10 1-11-1-10-1-11-3-10-3-11-3-10-3-11-3-10-3-11-3 8 2 11 3 10 3 11 4 10 3 11 3 10 3 10 2 11 2 10 1 11-2 10-4 11-7 10-11 11-14 10-15 11-13 10-8 11-1 10 7 11 15 10 19 11 21 10 20 11 18 10 13 11 10 10 8 11 6 10 4 10 4 11 3 10 3 11 3 10 4 11 3 10 3z"/><path fill="url(#g147)" stroke="url(#g147)" d="M818 1052l-10-3-11-3-10-4-11-3-10-3-11-3-10-4-11-4-10-6-11-8-10-10-11-14-10-17-11-20-10-21-11-19-10-15-11-7-10 1-11 8-10 13-11 15-10 14-10 11-11 7-10 4-11 2-10-1-11-2-10-2-11-3-10-3-11-3-10-4-11-3-10-3 7 4 11 3 10 3 11 3 10 3 11 3 10 3 11 3 10 1 11 1 10-1 11-4 10-8 11-11 10-14 11-14 10-13 11-9 10-1 11 8 10 14 10 19 11 22 10 20 11 17 10 14 11 10 10 8 11 5 10 4 11 4 10 4 11 3 10 3 11 3 10 3 11 3z"/><path fill="url(#g148)" stroke="url(#g148)" d="M810 1047l-10-3-11-3-10-3-11-3-10-4-11-3-10-4-11-4-10-6-10-7-11-10-10-14-11-17-10-21-11-21-10-19-11-15-10-7-11 1-10 8-11 13-10 15-11 14-10 11-11 8-10 4-11 1-10-1-11-2-10-2-11-3-10-3-10-3-11-3-10-3-11-3 8 4 10 3 11 3 10 4 11 3 10 3 11 3 10 2 11 2 10 1 11-2 10-4 11-7 10-11 10-14 11-15 10-13 11-8 10-1 11 7 10 15 11 19 10 21 11 20 10 17 11 14 10 10 11 8 10 6 11 4 10 4 11 3 10 3 11 3 10 4 11 3 10 3z"/><path fill="url(#g149)" stroke="url(#g149)" d="M803 1041l-11-3-10-3-11-3-10-3-11-3-10-4-11-4-10-4-11-6-10-7-11-10-10-14-11-17-10-20-11-22-10-19-11-14-10-8-10 1-11 9-10 13-11 14-10 14-11 11-10 8-11 4-10 1-11-1-10-1-11-3-10-3-11-3-10-3-11-3-10-3-11-3 8 6 11 3 10 3 11 3 10 3 10 3 11 3 10 2 11 2 10 1 11-1 10-4 11-8 10-11 11-14 10-15 11-13 10-8 11-1 10 7 11 15 10 19 11 21 10 21 11 17 10 14 11 10 10 7 10 6 11 4 10 4 11 3 10 4 11 3 10 3 11 3 10 3z"/><path fill="url(#g150)" stroke="url(#g150)" d="M795 1034l-11-3-10-3-10-3-11-3-10-3-11-4-10-3-11-5-10-5-11-8-10-10-11-14-10-17-11-20-10-22-11-19-10-14-11-8-10 1-11 9-10 13-11 15-10 13-11 11-10 8-10 4-11 1-10 0-11-2-10-3-11-3-10-3-11-3-10-3-11-3-10-3 7 7 11 3 10 3 11 3 10 3 11 3 10 3 11 3 10 1 11 1 10-1 11-4 10-8 11-11 10-14 11-14 10-13 11-9 10-1 10 8 11 14 10 19 11 22 10 20 11 17 10 14 11 10 10 7 11 6 10 4 11 4 10 4 11 3 10 3 11 3 10 3 11 3z"/><path fill="url(#g151)" stroke="url(#g151)" d="M787 1027l-10-4-11-3-10-3-11-3-10-3-11-4-10-3-11-5-10-5-11-8-10-10-10-14-11-17-10-20-11-21-10-20-11-14-10-7-11 1-10 8-11 13-10 15-11 14-10 11-11 7-10 4-11 1-10 0-11-2-10-3-11-3-10-3-11-3-10-3-10-3-11-3 8 8 10 3 11 3 10 3 11 3 10 3 11 3 10 3 11 2 10 0 11-1 10-4 10-8 11-11 10-13 11-15 10-13 11-9 10-1 11 8 10 14 11 19 10 22 11 20 10 17 11 14 10 10 11 8 10 5 11 5 10 3 11 4 10 3 11 3 10 3 10 3 11 3z"/><path fill="url(#g152)" stroke="url(#g152)" d="M780 1018l-11-3-10-3-11-3-10-4-11-3-10-3-11-4-10-4-11-6-10-7-11-11-10-13-11-18-10-20-11-21-10-19-11-15-10-7-11 1-10 8-10 13-11 15-10 14-11 11-10 8-11 4-10 1-11-1-10-2-11-2-10-3-11-3-10-3-11-3-10-4-11-3 8 9 11 3 10 3 10 3 11 3 10 3 11 3 10 3 11 2 10 0 11-1 10-4 11-7 10-11 11-14 10-15 11-13 10-8 11-1 10 7 11 14 10 20 11 21 10 20 11 17 10 14 10 10 11 8 10 5 11 5 10 3 11 4 10 3 11 3 10 3 11 3 10 4z"/><path fill="url(#g153)" stroke="url(#g153)" d="M772 1009l-11-3-10-3-11-3-10-3-10-4-11-3-10-4-11-4-10-6-11-7-10-10-11-14-10-18-11-20-10-21-11-19-10-15-11-7-10 1-11 8-10 13-11 15-10 14-11 11-10 8-11 4-10 1-10-1-11-2-10-2-11-3-10-3-11-3-10-3-11-3-10-3 7 8 11 3 10 4 11 3 10 3 11 3 10 3 11 2 10 2 11 1 10-1 11-4 10-8 11-11 10-14 11-15 10-13 10-8 11-1 10 7 11 15 10 19 11 21 10 20 11 18 10 13 11 11 10 7 11 6 10 4 11 4 10 3 11 3 10 4 11 3 10 3 11 3z"/><path fill="url(#g154)" stroke="url(#g154)" d="M764 1001l-10-4-11-3-10-3-11-3-10-3-11-4-10-3-11-5-10-5-11-8-10-10-11-14-10-17-10-20-11-21-10-20-11-14-10-7-11 1-10 8-11 13-10 15-11 14-10 11-11 7-10 4-11 1-10 0-11-2-10-3-11-3-10-3-11-3-10-3-11-3-10-3 8 9 10 3 11 3 10 3 11 3 10 3 11 3 10 2 11 2 10 1 10-1 11-4 10-8 11-11 10-14 11-15 10-13 11-8 10-1 11 7 10 15 11 19 10 21 11 20 10 18 11 14 10 10 11 7 10 6 11 4 10 4 11 3 10 4 10 3 11 3 10 3 11 3z"/><path fill="url(#g155)" stroke="url(#g155)" d="M757 993l-11-3-10-4-11-3-10-3-11-3-10-3-11-4-10-5-11-5-10-8-11-10-10-14-11-17-10-20-11-21-10-20-11-14-10-7-11 1-10 8-11 13-10 15-10 14-11 11-10 7-11 4-10 1-11 0-10-2-11-3-10-2-11-4-10-3-11-3-10-3-11-3 8 8 10 3 11 3 10 3 11 3 10 3 11 3 10 3 11 2 10 0 11-1 10-4 11-7 10-11 11-14 10-15 11-13 10-8 11-1 10 7 11 14 10 20 11 21 10 20 10 17 11 14 10 10 11 8 10 5 11 5 10 3 11 4 10 3 11 3 10 3 11 3 10 4z"/><path fill="url(#g156)" stroke="url(#g156)" d="M749 986l-11-3-10-3-11-3-10-3-11-4-10-3-10-4-11-4-10-6-11-7-10-11-11-13-10-18-11-20-10-21-11-19-10-15-11-7-10 1-11 8-10 13-11 15-10 14-11 11-10 8-11 4-10 1-11-1-10-2-10-2-11-3-10-3-11-3-10-3-11-3-10-4 7 7 11 3 10 3 11 3 10 3 11 4 10 2 11 3 10 2 11 0 10-1 11-4 10-7 11-11 10-14 10-15 11-13 10-8 11-1 10 7 11 14 10 20 11 21 10 20 11 17 10 14 11 10 10 8 11 5 10 5 11 4 10 3 11 3 10 3 11 3 10 4 11 3z"/><path fill="url(#g157)" stroke="url(#g157)" d="M741 981l-10-3-11-3-10-3-11-3-10-3-11-4-10-3-11-5-10-5-11-8-10-10-11-14-10-17-11-20-10-22-10-19-11-14-10-8-11 1-10 9-11 13-10 15-11 13-10 11-11 8-10 4-11 1-10 0-11-2-10-3-11-3-10-3-11-3-10-3-11-3-10-3 8 4 10 4 11 3 10 3 11 3 10 3 11 3 10 2 10 2 11 1 10-1 11-4 10-8 11-11 10-14 11-15 10-13 11-8 10-1 11 7 10 15 11 19 10 21 11 20 10 18 11 13 10 11 11 7 10 6 11 4 10 4 10 3 11 4 10 3 11 3 10 3 11 3z"/><path fill="url(#g158)" stroke="url(#g158)" d="M733 979l-10-3-10-3-11-3-10-4-11-3-10-3-11-4-10-4-11-6-10-7-11-11-10-13-11-18-10-20-11-21-10-19-11-15-10-7-11 1-10 8-11 13-10 15-11 14-10 11-10 7-11 4-10 2-11-1-10-2-11-2-10-3-11-3-10-3-11-3-10-4-11-3 8 3 10 3 11 3 10 3 11 3 10 3 11 3 10 3 11 2 10 0 11-1 10-4 11-8 10-11 11-13 10-15 11-13 10-9 11-1 10 8 11 14 10 19 10 22 11 20 10 17 11 14 10 10 11 8 10 5 11 5 10 3 11 4 10 3 11 3 10 3 11 3 10 3z"/><path fill="url(#g159)" stroke="url(#g159)" d="M726 979l-11-3-10-3-11-3-10-4-11-3-10-3-11-4-10-4-10-6-11-7-10-11-11-13-10-18-11-20-10-21-11-19-10-15-11-7-10 1-11 8-10 13-11 15-10 14-11 11-10 8-11 4-10 1-11-1-10-2-11-2-10-3-10-3-11-3-10-3-11-4-10-3 7 0 11 3 10 4 11 3 10 3 11 3 10 3 11 2 10 2 11 1 10-2 11-4 10-7 10-11 11-14 10-15 11-13 10-8 11-1 10 7 11 15 10 19 11 21 10 20 11 18 10 13 11 11 10 7 11 6 10 4 11 4 10 3 11 3 10 4 11 3 10 3 10 3z"/><path fill="url(#g160)" stroke="url(#g160)" d="M718 982l-10-3-11-4-10-3-11-3-10-3-11-4-10-3-11-5-10-5-11-8-10-10-11-14-10-17-11-20-10-21-11-20-10-14-10-7-11 1-10 8-11 13-10 15-11 14-10 11-11 7-10 4-11 1-10 0-11-2-10-3-11-3-10-3-11-3-10-3-11-3-10-3 8-3 10 3 11 4 10 3 11 3 10 3 10 3 11 2 10 2 11 1 10-1 11-4 10-8 11-11 10-14 11-15 10-13 11-8 10-1 11 7 10 15 11 19 10 21 11 20 10 18 11 13 10 11 11 7 10 6 10 4 11 4 10 3 11 3 10 4 11 3 10 3 11 3z"/><path fill="url(#g161)" stroke="url(#g161)" d="M710 987l-10-3-11-3-10-4-10-3-11-3-10-3-11-4-10-4-11-6-10-8-11-10-10-14-11-17-10-20-11-21-10-19-11-15-10-7-11 1-10 8-11 13-10 15-11 14-10 11-11 7-10 4-10 2-11-1-10-2-11-2-10-3-11-3-10-3-11-4-10-3-11-3 8-5 10 3 11 3 10 3 11 3 10 3 11 3 10 3 11 2 10 0 11-1 10-4 11-7 10-11 11-14 10-15 11-13 10-8 11-1 10 7 10 14 11 20 10 21 11 20 10 17 11 14 10 10 11 8 10 5 11 5 10 3 11 4 10 3 11 3 10 3 11 4 10 3z"/><path fill="url(#g162)" stroke="url(#g162)" d="M703 994l-11-3-10-3-11-3-10-3-11-4-10-3-11-4-10-4-11-6-10-7-10-10-11-14-10-17-11-21-10-21-11-19-10-14-11-8-10 1-11 8-10 13-11 15-10 14-11 11-10 8-11 4-10 1-11-1-10-2-11-2-10-3-11-3-10-3-10-3-11-3-10-3 7-8 11 3 10 3 11 4 10 3 11 3 10 3 11 2 10 2 11 1 10-2 10-4 11-7 10-11 11-14 10-15 11-13 10-8 11-1 10 7 11 15 10 19 11 21 10 20 11 17 10 14 11 10 10 8 11 6 10 4 11 4 10 3 11 3 10 3 10 4 11 3 10 3z"/><path fill="url(#g163)" stroke="url(#g163)" d="M695 1004l-10-4-11-3-10-3-11-3-10-3-11-4-10-3-11-5-10-5-11-8-10-10-11-14-10-17-11-20-10-21-11-20-10-14-11-7-10 1-10 8-11 13-10 15-11 14-10 11-11 7-10 4-11 1-10 0-11-2-10-3-11-3-10-3-11-3-10-3-11-3-10-3 8-9 10 3 11 3 10 3 10 3 11 3 10 3 11 2 10 2 11 1 10-1 11-4 10-8 11-11 10-14 11-15 10-13 11-8 10-1 11 8 10 14 11 19 10 21 11 21 10 17 11 14 10 10 10 7 11 6 10 4 11 4 10 3 11 4 10 3 11 3 10 3 11 3z"/><path fill="url(#g164)" stroke="url(#g164)" d="M687 1014l-10-3-11-3-10-3-11-3-10-4-10-3-11-4-10-4-11-6-10-7-11-11-10-13-11-18-10-20-11-21-10-19-11-15-10-7-11 1-10 8-11 13-10 15-11 14-10 11-11 8-10 4-11 1-10-1-10-2-11-2-10-3-11-3-10-3-11-3-10-3-11-4 8-10 10 3 11 3 10 3 11 3 10 3 11 3 10 3 11 2 10 0 11-1 10-4 11-7 10-11 11-14 10-15 11-13 10-8 10-1 11 7 10 14 11 20 10 21 11 20 10 17 11 14 10 10 11 8 10 5 11 5 10 3 11 4 10 3 11 3 10 3 11 3 10 4z"/><path fill="url(#g165)" stroke="url(#g165)" d="M680 1025l-11-3-10-3-11-3-10-3-11-3-10-4-11-4-10-4-11-5-10-8-11-10-10-14-10-17-11-20-10-22-11-19-10-14-11-8-10 1-11 9-10 13-11 14-10 14-11 11-10 8-11 4-10 1-11-1-10-1-11-3-10-3-11-3-10-3-11-3-10-3-10-3 7-12 11 4 10 3 11 3 10 3 11 3 10 3 11 2 10 2 10 1 11-1 10-4 11-8 10-11 11-14 10-15 11-13 10-8 11-1 10 7 11 15 10 19 11 21 10 20 11 18 10 13 11 11 10 7 11 6 10 4 11 4 10 3 10 4 11 3 10 3 11 3 10 3z"/><path fill="url(#g166)" stroke="url(#g166)" d="M672 1037l-10-3-11-3-10-3-11-4-10-3-11-3-10-4-11-4-10-6-11-7-10-11-11-13-10-18-11-20-10-21-11-19-10-15-11-7-10 1-11 8-10 13-10 15-11 14-10 11-11 7-10 4-11 2-10-1-11-2-10-2-11-3-10-3-11-3-10-3-11-4-10-3 8-11 10 3 10 3 11 3 10 3 11 3 10 3 11 3 10 1 11 1 10-1 11-4 10-8 11-11 10-14 11-14 10-13 11-9 10-1 11 8 10 14 11 19 10 22 11 20 10 17 10 14 11 10 10 8 11 5 10 4 11 4 10 4 11 3 10 3 11 3 10 3 11 3z"/><path fill="url(#g167)" stroke="url(#g167)" d="M664 1048l-10-3-11-3-10-3-11-3-10-4-11-3-10-4-10-4-11-6-10-7-11-11-10-13-11-18-10-20-11-21-10-19-11-15-10-7-11 1-10 8-11 13-10 15-11 14-10 11-11 8-10 4-11 1-10-1-11-2-10-2-10-3-11-3-10-3-11-3-10-3-11-3 8-12 10 3 11 4 10 3 11 3 10 3 11 3 10 2 11 2 10 1 11-2 10-4 11-7 10-11 11-14 10-15 10-13 11-8 10-1 11 7 10 15 11 19 10 21 11 20 10 18 11 13 10 11 11 7 10 6 11 4 10 4 11 3 10 3 11 4 10 3 11 3 10 3z"/><path fill="url(#g168)" stroke="url(#g168)" d="M657 1059l-11-3-10-3-11-4-10-3-11-3-10-3-11-4-10-5-11-5-10-8-11-10-10-14-11-17-10-20-10-21-11-20-10-14-11-7-10 1-11 8-10 13-11 15-10 14-11 11-10 7-11 4-10 2-11-1-10-2-11-3-10-2-11-3-10-4-11-3-10-3-11-3 8-10 11 3 10 3 11 3 10 3 11 3 10 3 10 2 11 2 10 1 11-1 10-4 11-8 10-11 11-14 10-15 11-13 10-8 11-1 10 7 11 15 10 19 11 21 10 20 11 18 10 13 11 11 10 7 11 6 10 4 10 4 11 3 10 4 11 3 10 3 11 3 10 3z"/><path fill="url(#g169)" stroke="url(#g169)" d="M649 1068l-10-3-11-3-10-3-11-3-10-3-11-4-10-4-11-4-10-5-11-8-10-10-11-14-10-17-11-20-10-22-11-19-10-14-11-8-10 1-11 9-10 13-11 14-10 14-10 11-11 8-10 4-11 1-10-1-11-1-10-3-11-3-10-3-11-3-10-3-11-3-10-3 7-10 11 3 10 3 11 3 10 4 11 3 10 2 11 3 10 2 11 1 10-2 11-4 10-7 11-11 10-14 11-15 10-13 11-8 10-1 11 7 10 14 11 20 10 21 10 20 11 17 10 14 11 10 10 8 11 5 10 5 11 4 10 3 11 3 10 3 11 4 10 3 11 3z"/><path fill="url(#g170)" stroke="url(#g170)" d="M641 1077l-10-3-11-3-10-3-11-4-10-3-11-3-10-4-11-4-10-6-10-7-11-11-10-13-11-18-10-20-11-21-10-19-11-15-10-7-11 1-10 8-11 13-10 15-11 14-10 11-11 7-10 4-11 2-10-1-11-2-10-2-11-3-10-3-10-3-11-3-10-4-11-3 8-8 10 3 11 3 10 3 11 3 10 3 11 3 10 3 11 1 10 1 11-1 10-4 11-8 10-11 10-14 11-14 10-13 11-9 10-1 11 8 10 14 11 19 10 22 11 20 10 17 11 14 10 10 11 8 10 5 11 4 10 4 11 4 10 3 11 3 10 3 11 3 10 3z"/><path fill="url(#g171)" stroke="url(#g171)" d="M634 1084l-11-3-10-3-11-3-10-3-11-4-10-3-11-4-10-4-11-6-10-7-11-10-10-14-11-17-10-21-11-21-10-19-10-14-11-8-10 1-11 8-10 14-11 14-10 14-11 11-10 8-11 4-10 1-11-1-10-1-11-3-10-3-11-3-10-3-11-3-10-3-11-3 8-8 11 3 10 4 11 3 10 3 10 3 11 3 10 2 11 2 10 1 11-2 10-4 11-7 10-11 11-14 10-15 11-13 10-8 11-1 10 7 11 15 10 19 11 21 10 20 11 18 10 13 11 11 10 7 10 6 11 4 10 4 11 3 10 3 11 4 10 3 11 3 10 3z"/><path fill="url(#g172)" stroke="url(#g172)" d="M626 1091l-11-4-10-3-10-3-11-3-10-3-11-4-10-3-11-5-10-5-11-8-10-10-11-14-10-17-11-20-10-21-11-20-10-14-11-7-10 1-11 8-10 13-11 15-10 14-11 11-10 7-10 4-11 1-10 0-11-2-10-3-11-3-10-3-11-3-10-3-11-3-10-3 7-6 11 3 10 3 11 3 10 3 11 3 10 3 11 3 10 1 11 1 10-1 11-4 10-8 11-11 10-14 11-14 10-14 11-8 10-1 11 8 10 14 10 19 11 21 10 21 11 17 10 14 11 10 10 7 11 6 10 4 11 4 10 3 11 4 10 3 11 3 10 3 11 3z"/><path fill="url(#g173)" stroke="url(#g173)" d="M618 1096l-10-3-11-4-10-3-11-3-10-3-11-3-10-4-11-5-10-5-11-8-10-10-10-14-11-17-10-20-11-21-10-20-11-14-10-7-11 1-10 8-11 13-10 15-11 14-10 11-11 7-10 4-11 1-10 0-11-2-10-3-11-2-10-3-11-4-10-3-10-3-11-3 8-5 10 3 11 3 10 3 11 3 10 3 11 3 10 3 11 2 10 0 11-1 10-4 10-7 11-11 10-14 11-15 10-13 11-8 10-1 11 7 10 14 11 20 10 21 11 20 10 17 11 14 10 10 11 8 10 5 11 5 10 3 11 4 10 3 11 3 10 3 10 3 11 4z"/><path fill="url(#g174)" stroke="url(#g174)" d="M611 1100l-11-3-10-3-11-3-10-4-11-3-10-3-11-4-10-4-11-6-10-7-11-11-10-13-11-18-10-20-11-21-10-19-11-15-10-7-10 1-11 8-10 13-11 15-10 14-11 11-10 8-11 4-10 1-11-1-10-2-11-2-10-3-11-3-10-3-11-3-10-4-11-3 8-4 11 3 10 3 10 3 11 4 10 3 11 2 10 3 11 2 10 0 11-1 10-4 11-7 10-11 11-14 10-15 11-13 10-8 11-1 10 7 11 14 10 20 11 21 10 20 11 17 10 14 10 10 11 8 10 5 11 5 10 4 11 3 10 3 11 3 10 3 11 4 10 3z"/><path fill="url(#g175)" stroke="url(#g175)" d="M603 1104l-11-4-10-3-11-3-10-3-10-3-11-4-10-3-11-5-10-5-11-8-10-10-11-14-10-17-11-20-10-21-11-20-10-14-11-7-10 1-11 8-10 13-11 15-10 14-11 11-10 7-11 4-10 1-10 0-11-2-10-3-11-3-10-3-11-3-10-3-11-3-10-3 7-4 11 3 10 4 11 3 10 3 11 3 10 3 11 2 10 2 11 1 10-1 11-4 10-8 11-11 10-14 11-15 10-13 11-8 10-1 10 7 11 15 10 19 11 21 10 20 11 18 10 13 11 11 10 7 11 6 10 4 11 4 10 3 11 3 10 4 11 3 10 3 11 3z"/><path fill="url(#g176)" stroke="url(#g176)" d="M595 1106l-10-3-11-3-10-3-11-3-10-3-11-4-10-3-11-5-10-5-11-8-10-10-11-14-10-17-10-20-11-22-10-19-11-14-10-8-11 1-10 9-11 13-10 15-11 13-10 11-11 8-10 4-11 1-10 0-11-2-10-3-11-3-10-3-11-3-10-3-11-3-10-3 8-3 10 3 11 3 10 3 11 3 10 3 11 3 10 3 11 2 10 0 10-1 11-4 10-7 11-11 10-14 11-15 10-13 11-8 10-1 11 7 10 14 11 20 10 21 11 20 10 17 11 14 10 10 11 8 10 5 11 5 10 3 11 4 10 3 10 3 11 3 10 3 11 4z"/><path fill="url(#g177)" stroke="url(#g177)" d="M588 1109l-11-3-10-3-11-4-10-3-11-3-10-3-11-4-10-4-11-6-10-8-11-10-10-13-11-18-10-20-11-21-10-19-11-15-10-7-11 1-10 8-10 13-11 15-10 14-11 11-10 7-11 4-10 2-11-1-10-2-11-2-10-3-11-3-10-3-11-4-10-3-11-3 8-2 10 3 11 3 10 3 11 3 10 3 11 3 10 3 11 2 10 0 11-1 10-4 11-8 10-11 11-13 10-15 11-13 10-9 11-1 10 8 11 14 10 19 11 22 10 20 10 17 11 14 10 10 11 8 10 5 11 5 10 3 11 4 10 3 11 3 10 3 11 3 10 3z"/><path fill="url(#g178)" stroke="url(#g178)" d="M580 1111l-11-3-10-3-11-3-10-4-11-3-10-3-10-4-11-4-10-6-11-7-10-11-11-13-10-18-11-20-10-21-11-19-10-15-11-7-10 1-11 8-10 13-11 15-10 14-11 11-10 8-11 4-10 1-11-1-10-2-10-2-11-3-10-3-11-3-10-3-11-4-10-3 7-2 11 3 10 3 11 4 10 3 11 3 10 3 11 2 10 2 11 1 10-2 11-4 10-7 11-11 10-14 11-15 10-13 10-8 11-1 10 7 11 15 10 19 11 21 10 20 11 18 10 13 11 10 10 8 11 6 10 4 11 4 10 3 11 3 10 3 11 4 10 3 11 3z"/><path fill="url(#g179)" stroke="url(#g179)" d="M572 1113l-10-3-11-3-10-4-11-3-10-3-11-3-10-4-11-4-10-6-11-8-10-10-11-14-10-17-11-20-10-21-10-19-11-15-10-7-11 1-10 8-11 13-10 15-11 14-10 11-11 7-10 4-11 2-10-1-11-2-10-2-11-3-10-3-11-3-10-4-11-3-10-3 8-2 10 3 11 4 10 3 11 3 10 3 11 3 10 2 10 2 11 1 10-1 11-4 10-8 11-11 10-14 11-15 10-13 11-8 10-1 11 7 10 15 11 19 10 21 11 20 10 18 11 13 10 11 11 7 10 6 11 4 10 4 10 3 11 3 10 4 11 3 10 3 11 3z"/><path fill="url(#g180)" stroke="url(#g180)" d="M565 1115l-11-4-10-3-11-3-10-3-11-3-10-4-11-3-10-5-11-5-10-8-11-10-10-14-11-17-10-20-11-21-10-20-11-14-10-7-11 1-10 8-11 13-10 15-10 14-11 11-10 7-11 4-10 1-11 0-10-2-11-3-10-3-11-3-10-3-11-3-10-3-11-3 8-2 10 3 11 3 10 4 11 3 10 3 11 3 10 2 11 2 10 1 11-2 10-4 11-7 10-11 11-14 10-15 11-13 10-8 11-1 10 7 11 15 10 19 10 21 11 20 10 17 11 14 10 10 11 8 10 6 11 4 10 4 11 3 10 3 11 3 10 4 11 3 10 3z"/><path fill="url(#g181)" stroke="url(#g181)" d="M557 1116l-11-3-10-3-11-3-10-3-11-4-10-3-11-4-10-4-10-6-11-7-10-11-11-13-10-18-11-20-10-21-11-19-10-15-11-7-10 1-11 8-10 13-11 15-10 14-11 11-10 8-11 4-10 1-11-1-10-2-11-2-10-3-10-3-11-3-10-3-11-3-10-4 7-1 11 3 10 3 11 3 10 3 11 3 10 3 11 3 10 2 11 0 10-1 11-4 10-7 11-11 10-14 10-15 11-13 10-8 11-1 10 7 11 14 10 20 11 21 10 20 11 17 10 14 11 10 10 8 11 5 10 5 11 3 10 4 11 3 10 3 11 3 10 3 11 4z"/><path fill="url(#g182)" stroke="url(#g182)" d="M549 1118l-10-4-11-3-10-3-11-3-10-3-11-4-10-3-11-5-10-5-11-8-10-10-11-14-10-17-11-20-10-21-11-20-10-14-10-7-11 1-10 8-11 13-10 15-11 14-10 11-11 7-10 4-11 1-10 0-11-2-10-3-11-3-10-3-11-3-10-3-11-3-10-3 8-2 10 4 11 3 10 3 11 3 10 3 10 3 11 2 10 2 11 1 10-1 11-4 10-8 11-11 10-14 11-15 10-13 11-8 10-1 11 7 10 15 11 19 10 21 11 20 10 18 11 13 10 11 11 7 10 6 10 4 11 4 10 3 11 4 10 3 11 3 10 3 11 3z"/><path fill="url(#g183)" stroke="url(#g183)" d="M541 1119l-10-3-10-3-11-3-10-4-11-3-10-3-11-4-10-4-11-6-10-7-11-11-10-13-11-18-10-20-11-21-10-19-11-15-10-7-11 1-10 8-11 13-10 15-11 14-10 11-10 7-11 4-10 2-11-1-10-2-11-2-10-3-11-3-10-3-11-3-10-4-11-3 8-1 10 3 11 3 10 3 11 3 10 3 11 3 10 3 11 2 10 0 11-1 10-4 11-7 10-11 11-14 10-15 11-13 10-8 11-1 10 7 10 14 11 20 10 21 11 20 10 17 11 14 10 10 11 8 10 5 11 5 10 3 11 4 10 3 11 3 10 3 11 3 10 4z"/><path fill="url(#g184)" stroke="url(#g184)" d="M534 1120l-11-3-10-3-11-3-10-3-11-3-10-4-11-4-10-4-11-6-10-7-10-10-11-14-10-17-11-21-10-21-11-19-10-14-11-8-10 1-11 9-10 13-11 14-10 14-11 11-10 8-11 4-10 1-11-1-10-1-11-3-10-3-11-3-10-3-10-3-11-3-10-3 7-2 11 3 10 4 11 3 10 3 11 3 10 3 11 2 10 2 11 1 10-2 11-4 10-7 10-11 11-14 10-15 11-13 10-8 11-1 10 7 11 15 10 19 11 21 10 20 11 18 10 13 11 11 10 7 11 6 10 4 11 4 10 3 11 3 10 4 11 3 10 3 10 3z"/><path fill="url(#g185)" stroke="url(#g185)" d="M526 1122l-10-3-11-4-10-3-11-3-10-3-11-3-10-4-11-5-10-5-11-8-10-10-11-14-10-17-11-20-10-21-11-20-10-14-11-7-10 1-10 8-11 13-10 15-11 14-10 11-11 7-10 4-11 2-10-1-11-2-10-3-11-2-10-3-11-4-10-3-11-3-10-3 8-1 10 3 11 3 10 3 10 3 11 3 10 3 11 3 10 1 11 1 10-1 11-4 10-8 11-11 10-14 11-14 10-13 11-9 10-1 11 8 10 14 11 19 10 21 11 21 10 17 11 14 10 10 10 7 11 6 10 4 11 4 10 4 11 3 10 3 11 3 10 3 11 3z"/><path fill="url(#g186)" stroke="url(#g186)" d="M518 1123l-10-3-11-3-10-3-10-3-11-4-10-3-11-4-10-4-11-6-10-7-11-11-10-13-11-18-10-20-11-21-10-19-11-15-10-7-11 1-10 8-11 13-10 15-11 14-10 11-11 8-10 4-10 1-11-1-10-2-11-2-10-3-11-3-10-3-11-3-10-3-11-4 8-1 10 3 11 3 10 3 11 4 10 3 11 2 10 3 11 2 10 1 11-2 10-4 11-7 10-11 11-14 10-15 11-13 10-8 10-1 11 7 10 14 11 20 10 21 11 20 10 17 11 14 10 10 11 8 10 5 11 5 10 4 11 3 10 3 11 3 10 3 11 4 10 3z"/><path fill="url(#g187)" stroke="url(#g187)" d="M511 1124l-11-3-10-3-11-3-10-3-11-3-10-4-11-3-10-5-11-5-10-8-11-10-10-14-10-17-11-20-10-22-11-19-10-14-11-7-10 0-11 9-10 13-11 15-10 13-11 12-10 7-11 4-10 1-11 0-10-2-11-3-10-3-11-3-10-3-11-3-10-3-10-3 7-2 11 4 10 3 11 3 10 3 11 3 10 3 11 2 10 2 11 1 10-1 10-4 11-8 10-11 11-14 10-15 11-13 10-8 11-1 10 7 11 15 10 19 11 21 10 20 11 18 10 13 11 11 10 7 11 6 10 4 11 4 10 3 11 4 10 3 10 3 11 3 10 3z"/><path fill="url(#g188)" stroke="url(#g188)" d="M503 1126l-10-3-11-3-10-4-11-3-10-3-11-3-10-4-11-4-10-6-11-8-10-10-11-14-10-17-11-20-10-21-11-19-10-15-11-7-10 1-11 8-10 13-10 15-11 14-10 11-11 7-10 4-11 2-10-1-11-2-10-2-11-3-10-3-11-3-10-4-11-3-10-3 8-1 10 3 10 3 11 3 10 3 11 3 10 3 11 3 10 2 11 0 10-1 11-4 10-7 11-12 10-13 11-15 10-13 11-9 10 0 11 7 10 14 11 19 10 22 11 20 10 17 10 14 11 10 10 8 11 5 10 5 11 3 10 4 11 3 10 3 11 3 10 3 11 3z"/><path fill="url(#g189)" stroke="url(#g189)" d="M495 1127l-10-3-11-3-10-3-11-3-10-4-10-3-11-4-10-4-11-6-10-7-11-11-10-13-11-18-10-20-11-21-10-19-11-15-10-7-11 1-10 8-11 13-10 15-11 14-10 11-11 8-10 4-11 1-10-1-10-2-11-2-10-3-11-3-10-3-11-3-10-3-11-4 8-1 10 3 11 3 10 4 11 3 10 3 11 3 10 2 11 2 10 1 11-2 10-4 11-7 10-11 11-14 10-15 10-13 11-8 10-1 11 7 10 15 11 19 10 21 11 20 10 17 11 14 10 10 11 8 10 6 11 4 10 4 11 3 10 3 11 3 10 4 11 3 10 3z"/><path fill="url(#g190)" stroke="url(#g190)" d="M488 1129l-11-4-10-3-11-3-10-3-11-3-10-4-11-3-10-5-11-5-10-8-11-10-10-14-11-17-10-20-10-21-11-20-10-14-11-7-10 1-11 8-10 13-11 15-10 14-11 11-10 7-11 4-10 1-11 0-10-2-11-3-10-3-11-3-10-3-11-3-10-3-11-3 8-2 11 4 10 3 11 3 10 3 11 3 10 3 11 2 10 2 10 1 11-1 10-4 11-8 10-11 11-14 10-15 11-13 10-8 11-1 10 7 11 15 10 19 11 21 10 20 11 18 10 13 11 11 10 7 11 6 10 4 11 4 10 3 10 4 11 3 10 3 11 3 10 3z"/><path fill="url(#g191)" stroke="url(#g191)" d="M480 1130l-10-3-11-3-10-4-11-3-10-3-11-3-10-4-11-4-10-6-11-8-10-10-11-14-10-17-11-20-10-21-11-19-10-15-11-7-10 1-11 8-10 13-11 15-10 14-10 11-11 7-10 4-11 2-10-1-11-2-10-2-11-3-10-3-11-3-10-4-11-3-10-3 7-1 11 3 10 3 11 3 10 3 11 3 10 3 11 3 10 2 11 0 10-1 11-4 10-7 11-11 10-14 11-15 10-13 11-8 10-1 11 7 10 14 11 20 10 21 10 20 11 17 10 14 11 10 10 8 11 5 10 5 11 3 10 4 11 3 10 3 11 3 10 3 11 4z"/></g><g><path fill="url(#g192)" stroke="url(#g192)" d="M2110 1045l-11-3-10-4-10-3-11-3-10-3-11-3-10-3-11-4-10-3-11-3-10-4-11-3-10-3-11-4-10-3-10-3-11-4-10-3-11-3-10-3-11-3-10-3-11-3-10-3-11-2-10-3-11-3-10-3-11-3-10-3-10-3-11-3-10-4-11-3-10-3-11-3 8-1 10 3 11 3 10 3 11 3 10 3 11 3 10 3 11 3 10 3 11 3 10 3 10 3 11 3 10 3 11 3 10 3 11 3 10 4 11 3 10 3 11 3 10 3 11 4 10 3 11 3 10 4 10 3 11 3 10 3 11 3 10 4 11 3 10 3 11 3 10 3 11 3z"/><path fill="url(#g193)" stroke="url(#g193)" d="M2102 1046l-10-3-11-3-10-3-11-4-10-3-11-3-10-3-10-4-11-3-10-3-11-4-10-3-11-4-10-3-11-3-10-4-11-3-10-3-11-3-10-3-10-3-11-3-10-3-11-3-10-2-11-3-10-3-11-3-10-3-11-3-10-3-11-3-10-3-11-3-10-3-10-4 7-1 11 3 10 3 11 3 10 4 11 3 10 3 10 3 11 3 10 3 11 3 10 3 11 2 10 3 11 3 10 3 11 3 10 3 11 3 10 3 11 4 10 3 10 3 11 4 10 3 11 3 10 4 11 3 10 3 11 4 10 3 11 3 10 3 11 3 10 3 10 4 11 3z"/><path fill="url(#g194)" stroke="url(#g194)" d="M2095 1047l-11-3-10-3-11-3-10-3-11-3-10-4-11-3-10-3-11-4-10-3-11-4-10-3-10-4-11-3-10-4-11-3-10-4-11-3-10-3-11-3-10-3-11-2-10-3-11-3-10-3-10-2-11-3-10-3-11-3-10-3-11-3-10-3-11-3-10-3-11-3-10-3 8-2 10 4 10 3 11 3 10 3 11 3 10 3 11 3 10 3 11 3 10 3 11 3 10 2 11 3 10 3 11 3 10 3 10 3 11 3 10 3 11 3 10 4 11 3 10 3 11 4 10 3 11 4 10 3 11 3 10 4 10 3 11 3 10 3 11 4 10 3 11 3 10 3z"/><path fill="url(#g195)" stroke="url(#g195)" d="M2087 1049l-11-3-10-4-10-3-11-3-10-3-11-3-10-4-11-3-10-4-11-3-10-4-11-4-10-3-11-4-10-4-10-3-11-3-10-4-11-3-10-3-11-2-10-3-11-3-10-2-11-3-10-2-11-3-10-3-11-3-10-3-10-3-11-3-10-3-11-3-10-3-11-3 8-1 10 3 11 3 10 3 11 3 10 3 11 3 10 3 11 3 10 3 11 3 10 2 10 3 11 3 10 3 11 2 10 3 11 3 10 3 11 3 10 4 11 3 10 4 11 3 10 4 10 3 11 4 10 3 11 4 10 3 11 3 10 4 11 3 10 3 11 3 10 3 11 3z"/><path fill="url(#g196)" stroke="url(#g196)" d="M2079 1050l-10-3-11-3-10-3-11-4-10-3-11-3-10-4-10-3-11-4-10-4-11-3-10-4-11-4-10-4-11-4-10-3-11-4-10-3-11-3-10-3-10-2-11-3-10-2-11-3-10-2-11-3-10-2-11-3-10-3-11-2-10-3-11-3-10-3-11-3-10-3-10-4 7-1 11 3 10 3 11 3 10 3 11 3 10 3 10 3 11 3 10 3 11 3 10 2 11 3 10 2 11 3 10 3 11 2 10 3 11 3 10 4 11 3 10 3 10 4 11 4 10 3 11 4 10 4 11 3 10 4 11 3 10 4 11 3 10 3 11 3 10 3 10 4 11 3z"/><path fill="url(#g197)" stroke="url(#g197)" d="M2072 1051l-11-3-10-3-11-3-10-3-11-4-10-3-11-4-10-3-11-4-10-4-11-4-10-4-10-4-11-4-10-4-11-4-10-3-11-4-10-3-11-2-10-3-11-2-10-2-11-3-10-2-10-2-11-2-10-3-11-3-10-2-11-3-10-3-11-3-10-3-11-3-10-3 8-2 10 4 10 3 11 3 10 3 11 3 10 3 11 2 10 3 11 3 10 2 11 3 10 2 11 3 10 2 11 3 10 2 10 3 11 3 10 3 11 4 10 3 11 4 10 4 11 4 10 4 11 3 10 4 11 4 10 3 10 4 11 3 10 3 11 4 10 3 11 3 10 3z"/><path fill="url(#g198)" stroke="url(#g198)" d="M2064 1053l-11-3-10-4-10-3-11-3-10-4-11-3-10-4-11-4-10-3-11-5-10-4-11-4-10-4-11-5-10-4-11-4-10-3-10-4-11-3-10-2-11-3-10-2-11-2-10-2-11-2-10-2-11-2-10-2-11-3-10-2-10-3-11-3-10-3-11-3-10-3-11-3 8-1 10 3 11 3 10 3 11 3 10 3 11 3 10 2 11 3 10 3 11 2 10 2 10 2 11 3 10 2 11 2 10 3 11 2 10 3 11 4 10 3 11 4 10 4 11 4 10 4 10 4 11 4 10 4 11 4 10 3 11 4 10 3 11 4 10 3 11 3 10 3 11 3z"/><path fill="url(#g199)" stroke="url(#g199)" d="M2056 1054l-10-3-11-3-10-4-11-3-10-3-11-4-10-4-10-4-11-4-10-4-11-5-10-4-11-5-10-5-11-4-10-4-11-4-10-3-11-3-10-3-10-2-11-2-10-1-11-2-10-2-11-1-10-2-11-2-10-3-11-2-10-3-11-3-10-2-11-3-10-3-10-4 7-1 11 3 10 3 11 3 10 3 11 3 10 3 10 2 11 3 10 2 11 2 10 2 11 2 10 2 11 2 10 2 11 3 10 2 11 3 10 4 10 3 11 4 10 4 11 5 10 4 11 4 10 4 11 5 10 3 11 4 10 4 11 3 10 4 11 3 10 3 10 4 11 3z"/><path fill="url(#g200)" stroke="url(#g200)" d="M2049 1055l-11-3-10-3-11-3-10-4-11-3-10-4-11-4-10-4-11-5-10-4-11-5-10-5-10-5-11-5-10-5-11-4-10-4-11-4-10-3-11-2-10-2-11-1-10-2-11-1-10-1-10-1-11-2-10-2-11-2-10-2-11-3-10-2-11-3-10-3-11-3-10-3 8-2 10 4 10 3 11 3 10 2 11 3 10 3 11 2 10 3 11 2 10 2 11 1 10 2 11 2 10 1 11 2 10 2 10 3 11 3 10 3 11 4 10 4 11 4 10 5 11 5 10 4 11 5 10 4 11 4 10 4 10 4 11 4 10 3 11 3 10 4 11 3 10 3z"/><path fill="url(#g201)" stroke="url(#g201)" d="M2041 1057l-11-3-10-4-10-3-11-4-10-3-11-4-10-4-11-5-10-5-11-5-10-5-11-5-10-6-11-5-10-6-11-4-10-4-10-4-11-3-10-2-11-1-10-1-11-1-10-1-11-1-10-1-11-1-10-1-11-2-10-2-10-3-11-2-10-3-11-3-10-3-11-3 8-1 10 3 11 3 10 3 11 3 10 2 11 3 10 2 11 2 10 2 11 2 10 1 10 1 11 1 10 2 11 1 10 2 11 2 10 3 11 4 10 4 11 4 10 5 11 5 10 5 10 5 11 5 10 4 11 5 10 4 11 4 10 4 11 3 10 4 11 3 10 3 11 3z"/><path fill="url(#g202)" stroke="url(#g202)" d="M2033 1058l-10-3-11-3-10-4-11-4-10-3-11-4-10-5-10-5-11-5-10-5-11-6-10-6-11-6-10-6-11-6-10-5-11-4-10-4-11-3-10-1-11-2-10 0-10-1-11 0-10 0-11 0-10-1-11-1-10-2-11-2-10-2-11-2-10-3-11-3-10-3-10-3 7-1 11 3 10 3 11 3 10 3 11 2 10 3 10 2 11 2 10 1 11 1 10 1 11 1 10 1 11 1 10 1 11 1 10 2 11 3 10 4 10 4 11 4 10 6 11 5 10 6 11 5 10 5 11 5 10 5 11 5 10 4 11 4 10 3 11 4 10 3 10 4 11 3z"/><path fill="url(#g203)" stroke="url(#g203)" d="M2026 1059l-11-3-10-3-11-4-10-3-11-4-10-5-11-4-10-6-11-5-10-6-11-7-10-6-10-7-11-7-10-6-11-5-10-5-11-4-10-2-11-2-10-1-11 0-10 1-11 0-10 1-10 0-11 0-10-1-11-1-10-2-11-2-10-2-11-3-10-2-11-3-10-3 8-2 10 3 10 3 11 3 10 3 11 2 10 2 11 2 10 2 11 1 10 1 11 0 10 0 11 0 10 1 10 0 11 2 10 1 11 3 10 4 11 4 10 5 11 6 10 6 11 6 10 6 11 6 10 5 11 5 10 5 10 5 11 4 10 3 11 4 10 4 11 3 10 3z"/><path fill="url(#g204)" stroke="url(#g204)" d="M2018 1061l-11-4-10-3-11-4-10-3-10-5-11-4-10-5-11-6-10-6-11-7-10-7-11-7-10-8-11-7-10-7-11-6-10-5-10-4-11-2-10-1-11-1-10 1-11 1-10 1-11 2-10 0-11 1-10 0-11-1-10-1-10-2-11-2-10-3-11-2-10-3-11-3 8-1 10 3 11 3 10 2 11 3 10 2 11 2 10 2 11 1 10 1 11 0 10 0 10-1 11 0 10-1 11 0 10 1 11 2 10 2 11 4 10 5 11 5 10 6 11 7 10 7 10 6 11 7 10 6 11 5 10 6 11 4 10 5 11 4 10 3 11 4 10 3 11 3z"/><path fill="url(#g205)" stroke="url(#g205)" d="M2010 1062l-10-3-11-4-10-4-11-4-10-4-11-5-10-5-10-6-11-7-10-7-11-8-10-8-11-9-10-8-11-8-10-6-11-6-10-4-11-2-10-1-11 1-10 1-10 2-11 2-10 2-11 2-10 1-11 0-10 0-11-1-10-1-11-2-10-2-11-3-10-3-10-3 7-1 11 3 10 3 11 2 10 3 11 2 10 2 10 1 11 1 10 0 11-1 10 0 11-2 10-1 11-1 10-1 11 1 10 1 11 2 10 4 10 5 11 6 10 7 11 7 10 8 11 7 10 7 11 7 10 6 11 6 10 5 11 4 10 5 10 3 11 4 10 3 11 4z"/><path fill="url(#g206)" stroke="url(#g206)" d="M2003 1063l-11-3-10-4-11-3-10-5-11-4-10-5-11-6-10-7-11-7-10-8-11-9-10-9-10-10-11-9-10-8-11-8-10-6-11-4-10-2-11 0-10 1-11 2-10 3-11 3-10 3-11 3-10 2-10 1-11 0-10 0-11-2-10-1-11-2-10-3-11-3-10-2 8-2 10 3 10 3 11 3 10 2 11 2 10 1 11 1 10 0 11 0 10-1 11-2 10-2 11-2 10-2 10-1 11-1 10 1 11 2 10 4 11 6 10 6 11 8 10 8 11 9 10 8 11 8 10 7 11 7 10 6 10 5 11 5 10 4 11 4 10 4 11 4 10 3z"/><path fill="url(#g207)" stroke="url(#g207)" d="M1995 1065l-11-4-10-3-11-4-10-5-10-5-11-5-10-6-11-8-10-8-11-9-10-10-11-10-10-11-11-10-10-9-11-8-10-6-10-5-11-2-10 0-11 2-10 3-11 4-10 4-11 5-10 3-11 3-10 2-11 1-10 0-10-1-11-1-10-2-11-3-10-2-11-3 8-1 10 2 11 3 10 3 11 2 10 1 11 2 10 0 11 0 10-1 10-2 11-3 10-3 11-3 10-3 11-2 10-1 11 0 10 2 11 4 10 6 11 8 10 8 11 9 10 10 10 9 11 9 10 8 11 7 10 7 11 6 10 5 11 4 10 5 11 3 10 4 11 3z"/><path fill="url(#g208)" stroke="url(#g208)" d="M1987 1066l-10-4-11-3-10-4-11-5-10-5-11-6-10-7-11-8-10-9-10-10-11-11-10-11-11-12-10-11-11-11-10-9-11-6-10-5-11-2-10 1-11 2-10 5-10 5-11 5-10 6-11 4-10 4-11 3-10 1-11 1-10 0-11-2-10-1-11-3-10-2-10-3 7-1 11 3 10 2 11 3 10 2 11 1 10 1 10 0 11-1 10-2 11-3 10-3 11-5 10-4 11-4 10-3 11-2 10 0 11 2 10 5 10 6 11 8 10 9 11 10 10 11 11 10 10 10 11 9 10 8 11 8 10 6 11 5 10 5 10 5 11 4 10 3 11 4z"/><path fill="url(#g209)" stroke="url(#g209)" d="M1980 1067l-11-3-10-4-11-4-10-5-11-6-10-6-11-7-10-9-11-10-10-11-11-12-10-13-10-13-11-13-10-11-11-10-10-7-11-5-10-2-11 1-10 4-11 5-10 7-11 6-10 7-11 6-10 5-10 4-11 2-10 1-11 0-10-1-11-1-10-2-11-3-10-3 8-1 10 3 10 2 11 3 10 1 11 2 10 0 11-1 10-1 11-3 10-4 11-4 10-6 11-5 10-5 10-5 11-2 10-1 11 2 10 5 11 6 10 9 11 11 10 11 11 12 10 11 11 11 10 10 10 9 11 8 10 7 11 6 10 5 11 5 10 4 11 3 10 4z"/><path fill="url(#g210)" stroke="url(#g210)" d="M1972 1068l-11-3-10-4-11-4-10-5-10-6-11-7-10-8-11-9-10-11-11-12-10-14-11-14-10-15-11-14-10-13-11-10-10-8-10-5-11-1-10 1-11 5-10 6-11 8-10 8-11 8-10 7-11 6-10 5-11 3-10 2-11 0-10 0-10-1-11-2-10-3-11-2 8-2 10 3 11 3 10 2 11 1 10 1 11 0 10-1 11-2 10-4 10-5 11-6 10-7 11-6 10-7 11-5 10-4 11-1 10 2 11 5 10 7 11 10 10 11 11 13 10 13 10 13 11 12 10 11 11 10 10 9 11 7 10 6 11 6 10 5 11 4 10 4 11 3z"/><path fill="url(#g211)" stroke="url(#g211)" d="M1964 1070l-10-4-11-4-10-5-11-5-10-6-11-7-10-9-11-10-10-12-10-13-11-15-10-16-11-16-10-15-11-14-10-12-11-9-10-5-11-1-10 2-11 6-10 8-10 9-11 10-10 9-11 9-10 7-11 5-10 4-11 3-10 1-11 0-10-1-11-2-10-2-10-3 7-1 11 2 10 3 11 2 10 1 10 0 11 0 10-2 11-3 10-5 11-6 10-7 11-8 10-8 11-8 10-6 11-5 10-1 11 1 10 5 10 8 11 10 10 13 11 14 10 15 11 14 10 14 11 12 10 11 11 9 10 8 11 7 10 6 10 5 11 4 10 4 11 3z"/><path fill="url(#g212)" stroke="url(#g212)" d="M1957 1071l-11-4-10-4-11-5-10-5-11-7-10-7-11-10-10-11-11-13-10-14-11-17-10-17-11-17-10-17-10-16-11-12-10-10-11-5-10-1-11 3-10 7-11 9-10 10-11 12-10 11-11 10-10 8-10 7-11 5-10 3-11 1-10 0-11-1-10-1-11-2-10-3 8-1 10 3 10 2 11 2 10 1 11 0 10-1 11-3 10-4 11-5 10-7 11-9 10-9 11-10 10-9 10-8 11-6 10-2 11 1 10 5 11 9 10 12 11 14 10 15 11 16 10 16 11 15 10 13 10 12 11 10 10 9 11 7 10 6 11 5 10 5 11 4 10 4z"/><path fill="url(#g213)" stroke="url(#g213)" d="M1949 1072l-11-4-10-4-11-5-10-5-10-7-11-8-10-10-11-12-10-14-11-16-10-18-11-19-10-19-11-19-10-16-11-14-10-10-10-5-11-1-10 4-11 7-10 10-11 13-10 13-11 12-10 12-11 9-10 8-11 6-10 3-11 2-10 1-10-1-11-1-10-2-11-2 8-2 10 3 11 2 10 1 11 1 10 0 11-1 10-3 11-5 10-7 10-8 11-10 10-11 11-12 10-10 11-9 10-7 11-3 10 1 11 5 10 10 11 12 10 16 10 17 11 17 10 17 11 17 10 14 11 13 10 11 11 10 10 7 11 7 10 5 11 5 10 4 11 4z"/><path fill="url(#g214)" stroke="url(#g214)" d="M1941 1073l-10-3-11-5-10-5-11-6-10-7-11-9-10-10-11-13-10-15-10-17-11-20-10-20-11-21-10-20-11-18-10-14-11-11-10-6-11 0-10 4-11 9-10 11-10 14-11 14-10 15-11 12-10 11-11 9-10 7-11 4-10 3-11 1-10-1-11-1-10-2-11-2 8-1 11 2 10 2 11 1 10 1 10-1 11-2 10-3 11-6 10-8 11-9 10-12 11-12 10-13 11-13 10-10 11-7 10-4 11 1 10 5 10 10 11 14 10 16 11 19 10 19 11 19 10 18 11 16 10 14 11 12 10 10 11 8 10 7 10 5 11 5 10 4 11 4z"/><path fill="url(#g215)" stroke="url(#g215)" d="M1934 1075l-11-4-10-5-11-5-10-6-11-8-10-9-11-11-10-14-11-16-10-18-11-21-10-22-11-22-10-22-10-19-11-16-10-11-11-6-10 0-11 5-10 9-11 13-10 16-11 16-10 15-11 15-10 12-10 10-11 7-10 5-11 3-10 1-11 0-10-1-11-2-10-2 7-1 11 2 10 2 11 1 10 1 11-1 10-3 11-4 10-7 11-9 10-11 11-12 10-15 11-14 10-14 10-11 11-9 10-4 11 0 10 6 11 11 10 14 11 18 10 20 11 21 10 20 11 20 10 17 10 15 11 13 10 10 11 9 10 7 11 6 10 5 11 5 10 3z"/><path fill="url(#g216)" stroke="url(#g216)" d="M1926 1076l-11-4-10-5-11-5-10-6-10-8-11-10-10-12-11-14-10-17-11-20-10-22-11-23-10-24-11-23-10-21-11-16-10-12-11-6-10 0-10 5-11 11-10 14-11 17-10 17-11 17-10 16-11 13-10 11-11 8-10 6-11 3-10 2-10 0-11-1-10-1-11-3 8-1 10 2 11 2 10 1 11 0 10-1 11-3 10-5 11-7 10-10 10-12 11-15 10-15 11-16 10-16 11-13 10-9 11-5 10 0 11 6 10 11 11 16 10 19 10 22 11 22 10 22 11 21 10 18 11 16 10 14 11 11 10 9 11 8 10 6 11 5 10 5 11 4z"/><path fill="url(#g217)" stroke="url(#g217)" d="M1918 1077l-10-4-11-4-10-6-11-7-10-8-11-10-10-12-11-16-10-18-10-21-11-23-10-24-11-25-10-25-11-21-10-18-11-12-10-7-11 0-10 7-11 11-10 15-10 18-11 19-10 19-11 16-10 15-11 12-10 9-11 6-10 4-11 2-10 0-11-1-10-1-11-2 8-2 11 3 10 1 11 1 10 0 10-2 11-3 10-6 11-8 10-11 11-13 10-16 11-17 10-17 11-17 10-14 11-11 10-5 10 0 11 6 10 12 11 16 10 21 11 23 10 24 11 23 10 22 11 20 10 17 11 14 10 12 11 10 10 8 10 6 11 5 10 5 11 4z"/><path fill="url(#g218)" stroke="url(#g218)" d="M1910 1079l-10-5-10-4-11-6-10-7-11-8-10-11-11-13-10-16-11-19-10-21-11-25-10-26-11-26-10-25-10-23-11-18-10-13-11-7-10 0-11 7-10 12-11 17-10 19-11 20-10 20-11 18-10 15-10 13-11 9-10 7-11 4-10 3-11 0-10-1-11-1-10-2 7-1 11 2 10 1 11 1 10 0 11-2 10-4 11-6 10-9 11-12 10-15 11-16 10-19 11-19 10-18 10-15 11-11 10-7 11 0 10 7 11 12 10 18 11 21 10 25 11 25 10 24 11 23 10 21 10 18 11 16 10 12 11 10 10 8 11 7 10 6 11 4 10 4z"/><path fill="url(#g219)" stroke="url(#g219)" d="M1903 1080l-11-4-10-5-11-6-10-7-10-9-11-10-10-14-11-16-10-20-11-23-10-25-11-27-10-27-11-27-10-23-11-19-10-14-11-6-10 0-10 7-11 13-10 17-11 20-10 22-11 20-10 19-11 17-10 13-11 10-10 7-11 5-10 2-10 1-11 0-10-2-11-2 8-1 10 2 11 1 10 1 11 0 10-3 11-4 10-7 11-9 10-13 10-15 11-18 10-20 11-20 10-19 11-17 10-12 11-7 10 0 11 7 10 13 11 18 10 23 10 25 11 26 10 26 11 25 10 21 11 19 10 16 11 13 10 11 11 8 10 7 11 6 10 4 10 5z"/><path fill="url(#g220)" stroke="url(#g220)" d="M1895 1081l-10-4-11-5-10-6-11-7-10-9-11-11-10-14-11-17-10-20-10-23-11-26-10-28-11-28-10-27-11-25-10-20-11-13-10-7-11 0-10 8-11 13-10 18-11 21-10 22-10 22-11 20-10 17-11 14-10 10-11 8-10 5-11 2-10 1-11 0-10-2-11-2 8-1 11 2 10 2 11 0 10-1 10-2 11-5 10-7 11-10 10-13 11-17 10-19 11-20 10-22 11-20 10-17 11-13 10-7 10 0 11 6 10 14 11 19 10 23 11 27 10 27 11 27 10 25 11 23 10 20 11 16 10 14 11 10 10 9 10 7 11 6 10 5 11 4z"/><path fill="url(#g221)" stroke="url(#g221)" d="M1887 1082l-10-4-10-5-11-6-10-7-11-9-10-11-11-14-10-18-11-20-10-24-11-27-10-28-11-29-10-28-10-25-11-20-10-14-11-7-10 1-11 8-10 14-11 18-10 22-11 22-10 23-11 20-10 17-10 15-11 11-10 8-11 5-10 3-11 0-10 0-11-1-10-2 7-2 11 2 10 2 11 0 10-1 11-2 10-5 11-8 10-10 11-14 10-17 11-20 10-22 10-22 11-21 10-18 11-13 10-8 11 0 10 7 11 13 10 20 11 25 10 27 11 28 10 28 11 26 10 23 10 20 11 17 10 14 11 11 10 9 11 7 10 6 11 5 10 4z"/><path fill="url(#g222)" stroke="url(#g222)" d="M1880 1084l-11-5-10-4-11-6-10-8-11-9-10-11-10-15-11-17-10-21-11-24-10-27-11-29-10-29-11-28-10-25-11-21-10-14-11-7-10 1-10 8-11 14-10 19-11 22-10 23-11 22-10 21-11 18-10 14-11 12-10 8-11 5-10 3-10 1-11-1-10-1-11-2 8-1 10 2 11 1 10 0 11 0 10-3 11-5 10-8 11-11 10-15 10-17 11-20 10-23 11-22 10-22 11-18 10-14 11-8 10-1 11 7 10 14 11 20 10 25 10 28 11 29 10 28 11 27 10 24 11 20 10 18 11 14 10 11 11 9 10 7 11 6 10 5 10 4z"/><path fill="url(#g223)" stroke="url(#g223)" d="M1872 1085l-10-4-11-5-10-6-11-7-10-10-11-11-10-14-11-18-10-21-10-24-11-27-10-29-11-29-10-29-11-25-10-21-11-14-10-7-11 1-10 8-11 14-10 19-11 22-10 23-10 23-11 21-10 18-11 14-10 12-11 8-10 5-11 3-10 1-11 0-10-2-11-2 8-1 11 2 10 1 11 1 10-1 10-3 11-5 10-8 11-12 10-14 11-18 10-21 11-22 10-23 11-22 10-19 11-14 10-8 10-1 11 7 10 14 11 21 10 25 11 28 10 29 11 29 10 27 11 24 10 21 11 17 10 15 10 11 11 9 10 8 11 6 10 4 11 5z"/><path fill="url(#g224)" stroke="url(#g224)" d="M1864 1086l-10-4-10-5-11-6-10-7-11-9-10-12-11-14-10-17-11-21-10-24-11-27-10-29-11-29-10-28-10-26-11-20-10-14-11-7-10 1-11 7-10 15-11 18-10 22-11 23-10 23-11 21-10 17-11 15-10 11-10 8-11 6-10 2-11 1-10 0-11-1-10-2 7-2 11 2 10 2 11 0 10-1 11-3 10-5 11-8 10-12 11-14 10-18 11-21 10-23 10-23 11-22 10-19 11-14 10-8 11-1 10 7 11 14 10 21 11 25 10 29 11 29 10 29 11 27 10 24 10 21 11 18 10 14 11 11 10 10 11 7 10 6 11 5 10 4z"/><path fill="url(#g225)" stroke="url(#g225)" d="M1857 1088l-11-4-10-5-11-6-10-7-11-10-10-11-10-14-11-17-10-21-11-24-10-26-11-29-10-29-11-27-10-25-11-20-10-14-11-7-10 0-10 8-11 14-10 19-11 21-10 23-11 22-10 20-11 18-10 14-11 11-10 8-11 5-10 3-10 1-11 0-10-2-11-2 8-1 10 2 11 1 10 0 11-1 10-2 11-6 10-8 10-11 11-15 10-17 11-21 10-23 11-23 10-22 11-18 10-15 11-7 10-1 11 7 10 14 11 20 10 26 10 28 11 29 10 29 11 27 10 24 11 21 10 17 11 14 10 12 11 9 10 7 11 6 10 5 10 4z"/><path fill="url(#g226)" stroke="url(#g226)" d="M1849 1089l-10-4-11-5-10-6-11-7-10-9-11-11-10-14-11-17-10-20-11-23-10-26-10-28-11-28-10-27-11-25-10-19-11-14-10-7-11 1-10 7-11 14-10 18-11 21-10 22-10 21-11 20-10 17-11 14-10 10-11 8-10 5-11 3-10 0-11 0-10-1-11-2 8-2 11 2 10 2 11 0 10-1 10-3 11-5 10-8 11-11 10-14 11-18 10-20 11-22 10-23 11-21 10-19 11-14 10-8 10 0 11 7 10 14 11 20 10 25 11 27 10 29 11 29 10 26 11 24 10 21 11 17 10 14 10 11 11 10 10 7 11 6 10 5 11 4z"/><path fill="url(#g227)" stroke="url(#g227)" d="M1841 1091l-10-5-10-4-11-6-10-7-11-9-10-11-11-13-10-17-11-19-10-23-11-25-10-27-11-27-10-27-10-23-11-20-10-13-11-7-10 1-11 7-10 13-11 17-10 20-11 21-10 21-11 19-10 16-11 14-10 10-10 7-11 5-10 2-11 1-10-1-11-1-10-2 7-1 11 2 10 1 11 0 10 0 11-3 10-5 11-8 10-10 11-14 10-17 11-20 10-21 10-22 11-21 10-18 11-14 10-7 11-1 10 7 11 14 10 19 11 25 10 27 11 28 10 28 10 26 11 23 10 20 11 17 10 14 11 11 10 9 11 7 10 6 11 5 10 4z"/><path fill="url(#g228)" stroke="url(#g228)" d="M1834 1092l-11-4-10-5-11-5-10-7-11-9-10-10-10-13-11-16-10-19-11-22-10-24-11-26-10-26-11-26-10-22-11-19-10-13-11-6-10 0-10 7-11 12-10 16-11 19-10 20-11 20-10 18-11 16-10 12-11 10-10 7-11 4-10 2-11 1-10-1-10-2-11-2 8-1 10 2 11 1 10 1 11-1 10-2 11-5 10-7 10-10 11-14 10-16 11-19 10-21 11-21 10-20 11-17 10-13 11-7 10-1 11 7 10 13 11 20 10 23 10 27 11 27 10 27 11 25 10 23 11 19 10 17 11 13 10 11 11 9 10 7 11 6 10 4 10 5z"/><path fill="url(#g229)" stroke="url(#g229)" d="M1826 1093l-10-4-11-4-10-6-11-6-10-9-11-10-10-12-11-15-10-18-11-21-10-23-10-25-11-25-10-24-11-22-10-18-11-12-10-6-11 0-10 6-11 11-10 16-11 17-10 19-10 19-11 17-10 14-11 12-10 9-11 6-10 4-11 2-10 0-11 0-10-2-11-2 8-2 11 2 10 2 10 1 11-1 10-2 11-4 10-7 11-10 10-12 11-16 10-18 11-20 10-20 11-19 10-16 11-12 10-7 10 0 11 6 10 13 11 19 10 22 11 26 10 26 11 26 10 24 11 22 10 19 11 16 10 13 10 10 11 9 10 7 11 5 10 5 11 4z"/><path fill="url(#g230)" stroke="url(#g230)" d="M1818 1095l-10-4-10-5-11-5-10-6-11-8-10-10-11-12-10-14-11-18-10-19-11-22-10-23-11-24-10-23-11-21-10-16-10-12-11-6-10 0-11 5-10 11-11 14-10 16-11 18-10 17-11 16-10 13-11 11-10 8-10 6-11 3-10 2-11 0-10-1-11-2-10-2 7-1 11 2 10 2 11 0 10 0 11-2 10-4 11-6 10-9 11-12 10-14 11-17 10-19 10-19 11-17 10-16 11-11 10-6 11 0 10 6 11 12 10 18 11 22 10 24 11 25 10 25 10 23 11 21 10 18 11 15 10 12 11 10 10 9 11 6 10 6 11 4 10 4z"/><path fill="url(#g231)" stroke="url(#g231)" d="M1811 1096l-11-4-10-4-11-5-10-6-11-8-10-9-10-12-11-13-10-16-11-19-10-20-11-22-10-23-11-21-10-19-11-16-10-11-11-6-10-1-10 5-11 10-10 13-11 15-10 16-11 16-10 14-11 12-10 10-11 8-10 5-11 3-10 1-11 0-10-1-10-2-11-2 8-2 10 2 11 2 10 1 11 0 10-2 11-3 10-6 10-8 11-11 10-13 11-16 10-17 11-18 10-16 11-14 10-11 11-5 10 0 11 6 10 12 10 16 11 21 10 23 11 24 10 23 11 22 10 19 11 18 10 14 11 12 10 10 11 8 10 6 11 5 10 5 10 4z"/><path fill="url(#g232)" stroke="url(#g232)" d="M1803 1098l-10-4-11-4-10-5-11-6-10-8-11-8-10-11-11-13-10-15-11-17-10-19-10-21-11-20-10-20-11-18-10-15-11-11-10-5-11-1-10 4-11 9-10 12-11 13-10 15-10 14-11 13-10 11-11 9-10 6-11 5-10 2-11 1-10 0-11-2-10-2-11-2 8-1 11 2 10 2 10 1 11 0 10-1 11-3 10-5 11-8 10-10 11-12 10-14 11-16 10-16 11-15 10-13 11-10 10-5 10 1 11 6 10 11 11 16 10 19 11 21 10 23 11 22 10 20 11 19 10 16 11 13 10 12 10 9 11 8 10 6 11 5 10 4 11 4z"/><path fill="url(#g233)" stroke="url(#g233)" d="M1795 1099l-10-4-10-4-11-5-10-5-11-7-10-8-11-10-10-12-11-14-10-16-11-18-10-19-11-19-10-19-11-16-10-14-10-10-11-5-10-1-11 4-10 7-11 10-10 13-11 13-10 12-11 12-10 9-11 8-10 6-10 3-11 2-10 1-11-1-10-1-11-2-10-2 7-2 11 2 10 2 11 2 10 0 11-1 10-2 11-5 10-6 11-9 10-11 11-13 10-14 10-15 11-13 10-12 11-9 10-4 11 1 10 5 11 11 10 15 11 18 10 20 11 20 10 21 10 19 11 17 10 15 11 13 10 11 11 8 10 8 11 6 10 5 11 4 10 4z"/><path fill="url(#g234)" stroke="url(#g234)" d="M1788 1101l-11-4-10-4-11-5-10-5-11-7-10-8-10-9-11-11-10-13-11-15-10-16-11-17-10-18-11-17-10-15-11-13-10-9-11-5-10-1-11 3-10 6-10 9-11 11-10 11-11 11-10 10-11 9-10 7-11 4-10 3-11 2-10 0-11-1-10-1-10-3-11-2 8-1 10 2 11 2 10 1 11 1 10-1 11-2 10-3 10-6 11-8 10-9 11-12 10-12 11-13 10-13 11-10 10-7 11-4 10 1 11 5 10 10 10 14 11 16 10 19 11 19 10 19 11 18 10 16 11 14 10 12 11 10 10 8 11 7 10 5 11 5 10 4 10 4z"/><path fill="url(#g235)" stroke="url(#g235)" d="M1780 1102l-10-4-11-4-10-4-11-5-10-6-11-8-10-8-11-10-10-12-11-14-10-15-10-15-11-17-10-15-11-14-10-12-11-8-10-5-11-1-10 2-11 5-10 8-11 9-10 10-10 9-11 9-10 7-11 6-10 4-11 2-10 1-11 0-10-1-11-2-10-2-11-3 8-1 11 2 10 3 10 1 11 1 10 0 11-2 10-3 11-4 10-7 11-9 10-10 11-11 10-11 11-11 10-9 10-6 11-3 10 1 11 5 10 9 11 13 10 15 11 17 10 18 11 17 10 16 11 15 10 13 11 11 10 9 10 8 11 7 10 5 11 5 10 4 11 4z"/><path fill="url(#g236)" stroke="url(#g236)" d="M1772 1104l-10-4-10-4-11-4-10-5-11-6-10-7-11-8-10-9-11-11-10-12-11-14-10-14-11-15-10-14-11-12-10-11-10-8-11-5-10-1-11 1-10 5-11 6-10 8-11 8-10 8-11 8-10 6-11 4-10 3-10 2-11 1-10-1-11-1-10-2-11-3-10-2 7-2 11 3 10 2 11 2 10 1 11 0 10-1 11-2 10-4 11-6 10-7 11-9 10-9 10-10 11-9 10-8 11-5 10-2 11 1 10 5 11 8 10 12 11 14 10 15 11 17 10 15 10 15 11 14 10 12 11 10 10 8 11 8 10 6 11 5 10 4 11 4 10 4z"/><path fill="url(#g237)" stroke="url(#g237)" d="M1765 1105l-11-4-10-3-11-5-10-4-11-6-10-6-10-7-11-9-10-10-11-11-10-12-11-13-10-13-11-13-10-11-11-10-10-8-11-4-10-2-11 1-10 4-10 5-11 6-10 7-11 7-10 6-11 5-10 3-11 3-10 1-11 0-10-1-11-2-10-2-10-2-11-3 8-1 10 2 11 3 10 2 11 1 10 1 11-1 10-2 10-3 11-4 10-6 11-8 10-8 11-8 10-8 11-6 10-5 11-1 10 1 11 5 10 8 10 11 11 12 10 14 11 15 10 14 11 14 10 12 11 11 10 9 11 8 10 7 11 6 10 5 11 4 10 4 10 4z"/><path fill="url(#g238)" stroke="url(#g238)" d="M1757 1106l-10-3-11-4-10-4-11-4-10-6-11-5-10-7-11-8-10-9-11-10-10-11-10-12-11-12-10-11-11-10-10-9-11-7-10-4-11-2-10 0-11 3-10 4-11 5-10 6-11 5-10 5-10 4-11 2-10 2-11 0-10 0-11-1-10-2-11-2-10-3-11-2 8-2 11 3 10 2 10 2 11 2 10 1 11 0 10-1 11-3 10-3 11-5 10-6 11-7 10-7 11-6 10-5 10-4 11-1 10 2 11 4 10 8 11 10 10 11 11 13 10 13 11 13 10 12 11 11 10 10 11 9 10 7 10 6 11 6 10 4 11 5 10 3 11 4z"/><path fill="url(#g239)" stroke="url(#g239)" d="M1749 1108l-10-4-11-3-10-4-10-5-11-4-10-6-11-6-10-7-11-8-10-10-11-9-10-11-11-10-10-11-11-9-10-8-10-6-11-4-10-3-11 0-10 2-11 3-10 4-11 5-10 4-11 3-10 3-11 2-10 1-10 0-11-1-10-1-11-2-10-2-11-3-10-3 7-1 11 2 10 3 11 2 10 2 11 1 10 0 11 0 10-2 11-2 10-4 10-5 11-5 10-6 11-5 10-4 11-3 10 0 11 2 10 4 11 7 10 9 11 10 10 11 11 12 10 12 10 11 11 10 10 9 11 8 10 7 11 5 10 6 11 4 10 4 11 4 10 3z"/><path fill="url(#g240)" stroke="url(#g240)" d="M1742 1109l-11-3-10-4-11-4-10-4-11-4-10-5-10-6-11-7-10-7-11-8-10-9-11-10-10-9-11-9-10-9-11-7-10-6-11-4-10-2-11 0-10 1-10 2-11 3-10 3-11 3-10 3-11 1-10 2-11 0-10 0-11-2-10-1-11-2-10-3-10-3-11-2 8-2 10 3 11 3 10 2 11 2 10 1 11 1 10 0 10-1 11-2 10-3 11-3 10-4 11-5 10-4 11-3 10-2 11 0 10 3 11 4 10 6 10 8 11 9 10 11 11 10 10 11 11 9 10 10 11 8 10 7 11 6 10 6 11 4 10 5 10 4 11 3 10 4z"/><path fill="url(#g241)" stroke="url(#g241)" d="M1734 1111l-10-4-11-3-10-4-11-4-10-4-11-5-10-5-11-6-10-7-11-8-10-8-10-8-11-8-10-8-11-8-10-7-11-5-10-4-11-2-10-1-11 0-10 1-11 2-10 3-11 2-10 1-10 1-11 1-10 0-11-1-10-2-11-2-10-2-11-2-10-3-11-3 8-1 11 2 10 3 10 3 11 2 10 1 11 2 10 0 11 0 10-2 11-1 10-3 11-3 10-3 11-3 10-2 10-1 11 0 10 2 11 4 10 6 11 7 10 9 11 9 10 9 11 10 10 9 11 8 10 7 11 7 10 6 10 5 11 4 10 4 11 4 10 4 11 3z"/><path fill="url(#g242)" stroke="url(#g242)" d="M1726 1112l-10-3-11-4-10-3-10-4-11-4-10-5-11-5-10-5-11-6-10-7-11-7-10-8-11-7-10-8-11-7-10-6-10-5-11-3-10-3-11-1-10 0-11 0-10 1-11 2-10 1-11 1-10 0-11 0-10-1-11-1-10-2-10-2-11-2-10-3-11-3-10-3 7-1 11 3 10 3 11 2 10 2 11 2 10 2 11 1 10 0 11-1 10-1 10-1 11-2 10-3 11-2 10-1 11 0 10 1 11 2 10 4 11 5 10 7 11 8 10 8 11 8 10 8 10 8 11 8 10 7 11 6 10 5 11 5 10 4 11 4 10 4 11 3 10 4z"/><path fill="url(#g243)" stroke="url(#g243)" d="M1719 1113l-11-3-10-3-11-4-10-3-11-4-10-5-11-4-10-6-10-5-11-6-10-7-11-6-10-7-11-7-10-6-11-5-10-5-11-4-10-2-11-2-10-1-10 0-11 1-10 0-11 1-10 0-11 0-10-1-11-1-10-2-11-2-10-2-11-3-10-2-10-3-11-3 8-2 10 3 11 3 10 3 11 2 10 2 10 2 11 1 10 1 11 0 10 0 11-1 10-1 11-2 10-1 11 0 10 0 11 1 10 3 11 3 10 5 10 6 11 7 10 8 11 7 10 8 11 7 10 7 11 6 10 5 11 5 10 5 11 4 10 4 10 3 11 4 10 3z"/><path fill="url(#g244)" stroke="url(#g244)" d="M1711 1115l-10-3-11-4-10-3-11-4-10-4-11-4-10-4-11-5-10-5-11-6-10-5-10-6-11-6-10-6-11-6-10-5-11-5-10-3-11-3-10-2-11-1-10 0-11-1-10 0-11 0-10-1-10 0-11-1-10-2-11-2-10-2-11-2-10-3-11-3-10-3-11-3 8-1 11 3 10 3 10 2 11 3 10 2 11 2 10 2 11 1 10 1 11 0 10 0 11-1 10 0 11-1 10 0 10 1 11 2 10 2 11 4 10 5 11 5 10 6 11 7 10 7 11 6 10 7 11 6 10 5 10 6 11 4 10 5 11 4 10 3 11 4 10 3 11 3z"/><path fill="url(#g245)" stroke="url(#g245)" d="M1703 1116l-10-3-11-3-10-4-10-3-11-4-10-4-11-4-10-4-11-5-10-5-11-6-10-5-11-6-10-5-11-5-10-5-10-4-11-3-10-3-11-2-10-2-11-1-10-1-11-1-10 0-11-1-10-1-11-2-10-2-11-2-10-2-10-3-11-3-10-2-11-3-10-3 7-2 11 3 10 3 11 3 10 3 11 2 10 2 11 2 10 2 11 1 10 0 10 1 11 0 10 0 11 1 10 0 11 1 10 2 11 3 10 3 11 5 10 5 11 6 10 6 11 6 10 6 10 5 11 6 10 5 11 5 10 4 11 4 10 4 11 4 10 3 11 4 10 3z"/><path fill="url(#g246)" stroke="url(#g246)" d="M1696 1118l-11-4-10-3-11-3-10-4-11-3-10-4-11-4-10-4-10-5-11-4-10-5-11-5-10-5-11-5-10-5-11-4-10-4-11-4-10-2-11-3-10-2-10-1-11-1-10-2-11-1-10-1-11-2-10-2-11-2-10-2-11-3-10-2-11-3-10-3-11-3-10-3 8-1 10 3 11 3 10 2 11 3 10 3 10 2 11 2 10 2 11 2 10 1 11 1 10 0 11 1 10 1 11 1 10 2 11 2 10 3 11 3 10 4 10 5 11 5 10 5 11 6 10 5 11 6 10 5 11 5 10 4 11 4 10 4 11 4 10 3 10 4 11 3 10 3z"/><path fill="url(#g247)" stroke="url(#g247)" d="M1688 1119l-10-3-11-3-10-4-11-3-10-4-11-3-10-4-11-4-10-4-11-4-10-5-11-5-10-4-10-5-11-4-10-4-11-4-10-4-11-2-10-3-11-2-10-2-11-2-10-1-11-2-10-2-10-1-11-3-10-2-11-2-10-3-11-3-10-3-11-3-10-3-11-3 8-1 10 3 11 3 10 3 11 3 10 2 11 3 10 2 11 2 10 2 11 2 10 1 11 1 10 2 11 1 10 1 10 2 11 3 10 2 11 4 10 4 11 4 10 5 11 5 10 5 11 5 10 5 11 4 10 5 10 4 11 4 10 4 11 3 10 4 11 3 10 3 11 4z"/><path fill="url(#g248)" stroke="url(#g248)" d="M1680 1120l-10-3-11-3-10-3-10-4-11-3-10-4-11-3-10-4-11-4-10-4-11-4-10-5-11-4-10-4-11-4-10-4-10-4-11-3-10-3-11-3-10-2-11-2-10-2-11-2-10-2-11-2-10-2-11-3-10-2-11-3-10-2-10-3-11-3-10-3-11-3-10-3 7-2 11 3 10 3 11 3 10 3 11 3 10 3 11 2 10 2 11 3 10 1 10 2 11 2 10 1 11 2 10 2 11 2 10 3 11 2 10 4 11 4 10 4 11 4 10 5 10 4 11 5 10 5 11 4 10 4 11 4 10 4 11 3 10 4 11 3 10 4 11 3 10 3z"/><path fill="url(#g249)" stroke="url(#g249)" d="M1673 1122l-11-3-10-4-11-3-10-3-11-3-10-4-11-3-10-4-10-4-11-4-10-4-11-4-10-4-11-4-10-4-11-3-10-4-11-3-10-3-11-3-10-3-10-2-11-2-10-2-11-3-10-2-11-2-10-3-11-2-10-3-11-3-10-3-11-3-10-3-11-3-10-3 8-1 10 3 11 3 10 3 11 3 10 3 10 2 11 3 10 2 11 3 10 2 11 2 10 2 11 2 10 2 11 2 10 2 11 3 10 3 11 3 10 4 10 4 11 4 10 4 11 4 10 5 11 4 10 4 11 4 10 4 11 3 10 4 11 3 10 4 10 3 11 3 10 3z"/><path fill="url(#g250)" stroke="url(#g250)" d="M1665 1123l-10-3-11-3-10-3-11-4-10-3-11-3-10-4-11-3-10-4-11-4-10-3-11-4-10-4-10-4-11-4-10-3-11-4-10-3-11-3-10-3-11-2-10-3-11-2-10-3-11-2-10-3-10-2-11-3-10-3-11-2-10-3-11-3-10-3-11-3-10-3-11-4 8-1 10 3 11 3 10 3 11 3 10 3 11 3 10 3 11 2 10 3 11 2 10 2 11 3 10 2 11 2 10 2 10 3 11 3 10 3 11 3 10 4 11 3 10 4 11 4 10 4 11 4 10 4 11 4 10 4 10 4 11 3 10 4 11 3 10 3 11 3 10 4 11 3z"/><path fill="url(#g251)" stroke="url(#g251)" d="M1657 1124l-10-3-11-3-10-3-10-3-11-4-10-3-11-3-10-4-11-3-10-4-11-3-10-4-11-4-10-3-11-4-10-3-11-4-10-3-10-3-11-3-10-3-11-2-10-3-11-3-10-2-11-3-10-2-11-3-10-3-11-3-10-3-10-3-11-3-10-3-11-3-10-3 7-2 11 4 10 3 11 3 10 3 11 3 10 3 11 2 10 3 11 3 10 2 10 3 11 2 10 3 11 2 10 3 11 2 10 3 11 3 10 3 11 4 10 3 11 4 10 4 10 4 11 4 10 3 11 4 10 4 11 3 10 4 11 3 10 3 11 4 10 3 11 3 10 3z"/><path fill="url(#g252)" stroke="url(#g252)" d="M1650 1126l-11-3-10-4-11-3-10-3-11-3-10-3-11-4-10-3-10-3-11-4-10-3-11-4-10-3-11-4-10-3-11-4-10-3-11-3-10-3-11-3-10-3-10-3-11-3-10-2-11-3-10-3-11-3-10-3-11-3-10-2-11-3-10-4-11-3-10-3-11-3-10-3 8-1 10 3 11 3 10 3 11 3 10 3 10 3 11 3 10 3 11 3 10 2 11 3 10 2 11 3 10 3 11 2 10 3 11 3 10 3 10 3 11 4 10 3 11 4 10 3 11 4 10 4 11 3 10 4 11 3 10 4 11 3 10 3 11 4 10 3 10 3 11 3 10 3z"/><path fill="url(#g253)" stroke="url(#g253)" d="M1642 1127l-10-3-11-3-10-3-11-3-10-4-11-3-10-3-11-3-10-4-11-3-10-4-11-3-10-3-10-4-11-3-10-4-11-3-10-3-11-3-10-3-11-3-10-3-11-3-10-3-11-2-10-3-10-3-11-3-10-3-11-3-10-3-11-3-10-3-11-3-10-3-11-4 8-1 10 3 11 3 10 3 11 3 10 4 11 3 10 2 11 3 10 3 11 3 10 3 11 3 10 2 11 3 10 3 10 3 11 3 10 3 11 3 10 3 11 4 10 3 11 4 10 3 11 4 10 3 11 4 10 3 10 3 11 4 10 3 11 3 10 3 11 3 10 4 11 3z"/><path fill="url(#g254)" stroke="url(#g254)" d="M1634 1129l-10-4-11-3-10-3-10-3-11-3-10-3-11-4-10-3-11-3-10-4-11-3-10-3-11-4-10-3-11-3-10-4-11-3-10-3-10-3-11-3-10-3-11-3-10-3-11-3-10-3-11-3-10-3-11-3-10-3-11-3-10-3-10-3-11-3-10-3-11-3-10-3 7-2 11 4 10 3 11 3 10 3 11 3 10 3 11 3 10 3 11 3 10 3 10 3 11 2 10 3 11 3 10 3 11 3 10 3 11 3 10 3 11 3 10 4 11 3 10 4 10 3 11 3 10 4 11 3 10 4 11 3 10 3 11 3 10 4 11 3 10 3 11 3 10 3z"/><path fill="url(#g255)" stroke="url(#g255)" d="M1627 1130l-11-3-10-3-11-4-10-3-11-3-10-3-11-3-10-3-10-4-11-3-10-3-11-4-10-3-11-3-10-3-11-4-10-3-11-3-10-3-11-3-10-3-11-3-10-3-10-3-11-3-10-3-11-3-10-3-11-3-10-3-11-3-10-3-11-3-10-4-11-3-10-3 8-1 10 3 11 3 10 3 11 3 10 3 10 3 11 3 10 3 11 3 10 3 11 3 10 3 11 3 10 3 11 3 10 3 11 3 10 3 10 3 11 3 10 4 11 3 10 3 11 4 10 3 11 3 10 4 11 3 10 3 11 4 10 3 11 3 10 3 10 3 11 3 10 4z"/></g><g><path fill="url(#g256)" stroke="url(#g256)" d="M938 1515l-10-3-10-3-11-2-10-3-11-2-10-2-10-2-11-2-10-2-11-2-10-2-10-3-11-2-10-2-10-2-11-3-10-2-11-3-10-3-10-2-11-3-10-3-11-3-10-4-10-3-11-3-10-4-11-3-10-3-10-4-11-3-10-4-11-3-10-4-10-3-11-3 8-1 10 3 11 3 10 4 10 3 11 3 10 3 11 4 10 3 10 3 11 4 10 3 11 3 10 3 10 3 11 3 10 3 11 3 10 2 10 3 11 2 10 3 11 2 10 2 10 3 11 2 10 2 10 2 11 2 10 2 11 2 10 2 10 3 11 2 10 3 11 2 10 3z"/><path fill="url(#g257)" stroke="url(#g257)" d="M931 1518l-11-3-10-3-10-2-11-3-10-2-11-2-10-2-10-2-11-2-10-2-11-2-10-3-10-2-11-2-10-2-10-3-11-2-10-3-11-3-10-3-10-3-11-3-10-3-11-3-10-3-10-4-11-3-10-4-11-4-10-3-10-4-11-4-10-3-11-4-10-3-10-4 7 0 11 3 10 3 10 4 11 3 10 4 11 3 10 4 10 3 11 3 10 4 11 3 10 3 10 4 11 3 10 3 11 3 10 2 10 3 11 3 10 2 11 3 10 2 10 2 11 2 10 3 10 2 11 2 10 2 11 2 10 2 10 2 11 2 10 3 11 2 10 3 10 3z"/><path fill="url(#g258)" stroke="url(#g258)" d="M923 1520l-10-2-11-3-10-2-10-3-11-2-10-2-11-2-10-2-10-2-11-2-10-2-11-2-10-3-10-2-11-2-10-3-11-2-10-3-10-3-11-3-10-3-10-3-11-3-10-4-11-3-10-4-10-3-11-4-10-4-11-4-10-3-10-4-11-4-10-4-11-4-10-3 8-1 10 4 10 3 11 4 10 3 11 4 10 4 10 3 11 4 10 4 11 3 10 4 10 3 11 3 10 3 11 3 10 3 10 3 11 3 10 3 11 2 10 3 10 2 11 2 10 2 10 3 11 2 10 2 11 2 10 2 10 2 11 2 10 2 11 3 10 2 10 3 11 3z"/><path fill="url(#g259)" stroke="url(#g259)" d="M916 1523l-11-2-10-3-11-2-10-3-10-2-11-2-10-2-11-2-10-2-10-2-11-2-10-2-11-3-10-2-10-2-11-3-10-2-11-3-10-3-10-3-11-3-10-3-10-4-11-3-10-4-11-3-10-4-10-4-11-4-10-4-11-4-10-4-10-4-11-4-10-4-11-4 8 0 10 3 11 4 10 4 11 4 10 4 10 3 11 4 10 4 11 4 10 3 10 4 11 3 10 4 11 3 10 3 10 3 11 3 10 3 10 3 11 2 10 3 11 2 10 2 10 3 11 2 10 2 11 2 10 2 10 2 11 2 10 2 11 2 10 3 10 2 11 3 10 2z"/><path fill="url(#g260)" stroke="url(#g260)" d="M908 1526l-10-2-11-3-10-2-11-3-10-2-10-2-11-2-10-2-11-2-10-2-10-2-11-2-10-2-11-3-10-2-10-3-11-2-10-3-11-3-10-3-10-3-11-3-10-4-10-3-11-4-10-4-11-4-10-4-10-4-11-4-10-4-11-4-10-5-10-4-11-4-10-4 7-1 11 4 10 4 11 4 10 4 10 4 11 4 10 4 11 4 10 4 10 4 11 3 10 4 11 3 10 4 10 3 11 3 10 3 10 3 11 3 10 2 11 3 10 2 10 2 11 3 10 2 11 2 10 2 10 2 11 2 10 2 11 2 10 2 10 3 11 2 10 3 11 2z"/><path fill="url(#g261)" stroke="url(#g261)" d="M900 1529l-10-2-10-3-11-2-10-2-11-2-10-3-10-2-11-2-10-2-11-2-10-2-10-2-11-2-10-2-11-3-10-2-10-3-11-3-10-3-11-3-10-3-10-4-11-3-10-4-10-4-11-4-10-4-11-4-10-4-10-4-11-5-10-4-11-4-10-5-10-4-11-4 8-1 10 4 11 4 10 4 10 5 11 4 10 4 11 4 10 4 10 4 11 4 10 4 11 4 10 3 10 4 11 3 10 3 10 3 11 3 10 3 11 2 10 3 10 2 11 3 10 2 11 2 10 2 10 2 11 2 10 2 11 2 10 2 10 2 11 3 10 2 11 3 10 2z"/><path fill="url(#g262)" stroke="url(#g262)" d="M893 1533l-11-3-10-3-10-2-11-2-10-2-11-2-10-2-10-2-11-2-10-2-11-2-10-3-10-2-11-2-10-3-11-2-10-3-10-3-11-3-10-3-11-3-10-4-10-3-11-4-10-4-10-4-11-4-10-4-11-5-10-4-10-5-11-4-10-5-11-4-10-5-10-5 7 0 11 4 10 4 10 5 11 4 10 4 11 5 10 4 10 4 11 4 10 4 11 4 10 4 10 4 11 3 10 4 10 3 11 3 10 3 11 3 10 3 10 2 11 3 10 2 11 2 10 2 10 2 11 2 10 2 11 2 10 2 10 3 11 2 10 2 11 2 10 3 10 2z"/><path fill="url(#g263)" stroke="url(#g263)" d="M885 1536l-10-3-11-2-10-3-11-2-10-2-10-2-11-2-10-2-10-2-11-2-10-2-11-2-10-3-10-2-11-2-10-3-11-3-10-3-10-3-11-3-10-3-11-4-10-4-10-3-11-4-10-5-11-4-10-4-10-5-11-4-10-5-10-5-11-4-10-5-11-5-10-5 8-1 10 5 10 5 11 4 10 5 11 4 10 5 10 4 11 5 10 4 11 4 10 4 10 4 11 4 10 3 10 4 11 3 10 3 11 3 10 3 10 3 11 2 10 3 11 2 10 2 10 3 11 2 10 2 11 2 10 2 10 2 11 2 10 2 11 2 10 2 10 3 11 3z"/><path fill="url(#g264)" stroke="url(#g264)" d="M877 1539l-10-3-10-2-11-2-10-2-11-3-10-2-10-2-11-2-10-2-10-2-11-2-10-2-11-2-10-3-10-2-11-3-10-3-11-3-10-3-10-3-11-3-10-4-11-4-10-4-10-4-11-4-10-4-11-5-10-5-10-4-11-5-10-5-10-5-11-5-10-5-11-5 8-1 10 5 11 5 10 5 11 4 10 5 10 5 11 4 10 5 10 4 11 4 10 5 11 4 10 3 10 4 11 4 10 3 11 3 10 3 10 3 11 3 10 3 11 2 10 2 10 3 11 2 10 2 11 2 10 2 10 2 11 2 10 2 10 2 11 2 10 3 11 2 10 3z"/><path fill="url(#g265)" stroke="url(#g265)" d="M870 1542l-11-2-10-3-10-2-11-2-10-2-11-2-10-2-10-2-11-2-10-2-10-2-11-2-10-3-11-2-10-3-10-2-11-3-10-3-11-4-10-3-10-3-11-4-10-4-11-4-10-4-10-5-11-4-10-5-11-4-10-5-10-5-11-5-10-6-10-5-11-5-10-5 7-1 11 5 10 5 11 5 10 5 10 5 11 5 10 4 10 5 11 5 10 4 11 4 10 4 10 4 11 4 10 4 11 3 10 3 10 3 11 3 10 3 11 3 10 2 10 3 11 2 10 2 11 2 10 2 10 2 11 2 10 2 10 2 11 3 10 2 11 2 10 2 10 3z"/><path fill="url(#g266)" stroke="url(#g266)" d="M862 1546l-10-3-11-2-10-3-10-2-11-2-10-2-11-2-10-2-10-2-11-2-10-2-10-2-11-2-10-3-11-2-10-3-10-3-11-3-10-3-11-4-10-3-10-4-11-4-10-4-11-5-10-4-10-5-11-4-10-5-11-5-10-5-10-6-11-5-10-5-10-6-11-5 8-1 10 5 11 5 10 5 10 6 11 5 10 5 10 5 11 4 10 5 11 4 10 5 10 4 11 4 10 4 11 4 10 3 10 3 11 4 10 3 11 3 10 2 10 3 11 2 10 3 11 2 10 2 10 2 11 2 10 2 10 2 11 2 10 2 11 2 10 2 10 3 11 2z"/><path fill="url(#g267)" stroke="url(#g267)" d="M855 1549l-11-2-10-3-11-2-10-2-10-2-11-2-10-2-11-2-10-2-10-2-11-2-10-3-10-2-11-3-10-2-11-3-10-3-10-3-11-3-10-4-11-3-10-4-10-4-11-4-10-5-11-4-10-5-10-5-11-5-10-5-11-6-10-5-10-6-11-5-10-6-10-5 7-1 11 5 10 6 10 5 11 5 10 6 10 5 11 5 10 5 11 4 10 5 10 4 11 5 10 4 11 4 10 4 10 3 11 4 10 3 11 3 10 3 10 3 11 2 10 3 11 2 10 2 10 2 11 2 10 2 10 2 11 2 10 2 11 2 10 2 10 3 11 2 10 3z"/><path fill="url(#g268)" stroke="url(#g268)" d="M847 1553l-10-3-11-2-10-3-11-2-10-2-10-2-11-2-10-2-11-2-10-2-10-2-11-2-10-3-11-2-10-3-10-3-11-3-10-3-10-3-11-4-10-3-11-4-10-4-10-5-11-4-10-5-11-5-10-5-10-5-11-5-10-6-11-5-10-6-10-6-11-5-10-6 8-1 10 5 10 6 11 5 10 6 10 5 11 6 10 5 11 5 10 5 10 5 11 4 10 5 11 4 10 4 10 4 11 3 10 4 11 3 10 3 10 3 11 3 10 2 11 3 10 2 10 3 11 2 10 2 10 2 11 2 10 2 11 2 10 2 10 2 11 2 10 3 11 2z"/><path fill="url(#g269)" stroke="url(#g269)" d="M839 1556l-10-3-10-2-11-2-10-2-11-2-10-2-10-2-11-2-10-2-11-2-10-3-10-2-11-2-10-3-11-3-10-2-10-3-11-4-10-3-10-4-11-3-10-4-11-5-10-4-10-5-11-4-10-5-11-5-10-6-10-5-11-6-10-6-11-5-10-6-10-6-11-6 8-1 10 6 11 5 10 6 10 6 11 5 10 6 11 5 10 5 10 5 11 5 10 5 11 4 10 5 10 4 11 4 10 3 11 4 10 3 10 3 11 3 10 3 10 3 11 2 10 3 11 2 10 2 10 2 11 2 10 2 11 2 10 2 10 2 11 2 10 3 11 2 10 3z"/><path fill="url(#g270)" stroke="url(#g270)" d="M832 1559l-11-2-10-3-10-2-11-2-10-2-11-2-10-2-10-2-11-2-10-2-11-2-10-2-10-3-11-2-10-3-11-3-10-3-10-3-11-4-10-4-10-3-11-4-10-5-11-4-10-5-10-5-11-5-10-5-11-6-10-5-10-6-11-6-10-6-11-6-10-6-10-6 7-1 11 6 10 6 10 6 11 5 10 6 11 6 10 5 10 6 11 5 10 5 11 4 10 5 10 4 11 5 10 4 11 3 10 4 10 3 11 4 10 3 10 2 11 3 10 3 11 2 10 2 10 3 11 2 10 2 11 2 10 2 10 2 11 2 10 2 11 2 10 2 10 3z"/><path fill="url(#g271)" stroke="url(#g271)" d="M824 1563l-10-3-11-2-10-2-10-2-11-2-10-2-11-2-10-2-10-2-11-3-10-2-11-2-10-3-10-2-11-3-10-3-11-3-10-3-10-4-11-3-10-4-10-5-11-4-10-5-11-4-10-5-10-6-11-5-10-5-11-6-10-6-10-6-11-6-10-7-11-6-10-6 8-1 10 6 10 6 11 6 10 6 11 6 10 6 10 5 11 6 10 5 11 5 10 5 10 5 11 4 10 5 11 4 10 3 10 4 11 4 10 3 10 3 11 3 10 3 11 2 10 3 10 2 11 2 10 2 11 2 10 2 10 2 11 2 10 2 11 2 10 2 10 3 11 2z"/><path fill="url(#g272)" stroke="url(#g272)" d="M817 1566l-11-2-10-3-11-2-10-2-10-2-11-2-10-2-11-2-10-2-10-2-11-2-10-3-11-2-10-3-10-3-11-3-10-3-11-3-10-4-10-3-11-4-10-5-10-4-11-5-10-5-11-5-10-5-10-6-11-5-10-6-11-6-10-6-10-7-11-6-10-7-11-6 8-1 10 6 11 6 10 7 11 6 10 6 10 6 11 6 10 5 11 5 10 6 10 5 11 4 10 5 11 4 10 5 10 4 11 3 10 4 10 3 11 3 10 3 11 3 10 2 10 3 11 2 10 2 11 3 10 2 10 2 11 2 10 2 11 2 10 2 10 2 11 2 10 3z"/><path fill="url(#g273)" stroke="url(#g273)" d="M809 1570l-11-3-10-2-10-2-11-3-10-2-10-2-11-2-10-2-11-2-10-2-10-2-11-2-10-3-11-3-10-2-10-3-11-4-10-3-11-4-10-3-10-5-11-4-10-4-11-5-10-5-10-5-11-6-10-5-10-6-11-6-10-6-11-7-10-6-10-7-11-6-10-7 7-1 11 6 10 7 11 6 10 7 10 6 11 6 10 6 11 5 10 6 10 5 11 5 10 5 11 5 10 4 10 5 11 4 10 3 10 4 11 3 10 3 11 3 10 3 10 3 11 2 10 3 11 2 10 2 10 2 11 2 10 2 11 2 10 2 10 2 11 2 10 3 11 2z"/><path fill="url(#g274)" stroke="url(#g274)" d="M801 1573l-10-2-11-3-10-2-10-2-11-2-10-2-10-2-11-2-10-2-11-3-10-2-10-2-11-3-10-2-11-3-10-3-10-4-11-3-10-4-11-4-10-4-10-4-11-5-10-4-11-6-10-5-10-5-11-6-10-6-10-6-11-6-10-7-11-7-10-6-10-7-11-7 8-1 10 7 11 6 10 7 10 6 11 7 10 6 11 6 10 6 10 5 11 6 10 5 10 5 11 5 10 4 11 4 10 5 10 3 11 4 10 3 11 4 10 3 10 2 11 3 10 3 11 2 10 2 10 2 11 2 10 2 11 2 10 2 10 2 11 3 10 2 10 2 11 3z"/><path fill="url(#g275)" stroke="url(#g275)" d="M794 1577l-11-3-10-2-11-3-10-2-10-2-11-2-10-2-10-2-11-2-10-2-11-2-10-3-10-2-11-3-10-3-11-3-10-3-10-4-11-4-10-4-11-4-10-4-10-5-11-5-10-5-11-5-10-6-10-6-11-6-10-6-10-7-11-6-10-7-11-7-10-7-10-7 7-1 11 7 10 7 10 6 11 7 10 7 11 6 10 6 10 6 11 6 10 5 10 5 11 6 10 4 11 5 10 4 10 4 11 4 10 4 11 3 10 4 10 3 11 3 10 2 11 3 10 2 10 2 11 3 10 2 11 2 10 2 10 2 11 2 10 2 10 2 11 3 10 2z"/><path fill="url(#g276)" stroke="url(#g276)" d="M786 1580l-10-3-11-2-10-2-11-2-10-2-10-3-11-2-10-2-10-2-11-2-10-2-11-3-10-2-10-3-11-3-10-3-11-3-10-4-10-4-11-4-10-4-11-4-10-5-10-5-11-5-10-6-11-6-10-6-10-6-11-6-10-7-10-7-11-7-10-7-11-7-10-7 8-1 10 7 10 7 11 7 10 7 11 6 10 7 10 6 11 6 10 6 10 6 11 5 10 5 11 5 10 5 10 4 11 4 10 4 11 4 10 4 10 3 11 3 10 3 11 3 10 2 10 3 11 2 10 2 11 2 10 2 10 2 11 2 10 2 10 2 11 3 10 2 11 3z"/><path fill="url(#g277)" stroke="url(#g277)" d="M778 1583l-10-2-10-3-11-2-10-2-11-2-10-2-10-2-11-2-10-3-10-2-11-2-10-3-11-2-10-3-10-3-11-3-10-3-11-4-10-4-10-4-11-4-10-5-11-5-10-5-10-5-11-6-10-5-11-6-10-7-10-6-11-7-10-7-10-7-11-7-10-8-11-7 8-1 10 7 11 7 10 7 11 7 10 7 10 7 11 6 10 6 10 6 11 6 10 6 11 5 10 5 10 5 11 4 10 4 11 4 10 4 10 4 11 3 10 3 11 3 10 3 10 2 11 3 10 2 11 2 10 2 10 2 11 2 10 3 10 2 11 2 10 2 11 2 10 3z"/><path fill="url(#g278)" stroke="url(#g278)" d="M771 1587l-11-3-10-2-10-3-11-2-10-2-11-2-10-2-10-2-11-2-10-3-11-2-10-2-10-3-11-3-10-3-10-3-11-3-10-4-11-4-10-4-10-4-11-5-10-5-11-5-10-6-10-5-11-6-10-6-11-7-10-6-10-7-11-7-10-8-11-7-10-8-10-7 7-1 11 7 10 8 11 7 10 7 10 7 11 7 10 6 10 7 11 6 10 5 11 6 10 5 10 5 11 5 10 5 11 4 10 4 10 4 11 4 10 3 11 3 10 3 10 3 11 2 10 3 11 2 10 2 10 3 11 2 10 2 10 2 11 2 10 2 11 2 10 3 10 2z"/><path fill="url(#g279)" stroke="url(#g279)" d="M763 1590l-10-3-11-2-10-2-10-3-11-2-10-2-11-2-10-2-10-2-11-2-10-3-11-2-10-3-10-3-11-3-10-3-10-4-11-3-10-4-11-4-10-5-10-5-11-4-10-6-11-5-10-6-10-6-11-6-10-7-11-7-10-7-10-7-11-7-10-8-11-7-10-8 8-1 10 7 10 8 11 7 10 8 11 7 10 7 10 6 11 7 10 6 11 6 10 5 10 6 11 5 10 5 11 5 10 4 10 4 11 4 10 4 11 3 10 3 10 3 11 3 10 3 10 2 11 2 10 3 11 2 10 2 10 2 11 2 10 2 11 2 10 3 10 2 11 3z"/><path fill="url(#g280)" stroke="url(#g280)" d="M756 1593l-11-3-10-2-11-2-10-3-10-2-11-2-10-2-11-2-10-2-10-2-11-3-10-2-11-3-10-3-10-3-11-3-10-4-10-3-11-4-10-5-11-4-10-5-10-5-11-5-10-6-11-6-10-6-10-6-11-7-10-7-11-7-10-7-10-8-11-7-10-8-11-8 8-1 10 8 11 7 10 8 11 7 10 7 10 7 11 7 10 7 11 6 10 6 10 6 11 5 10 6 11 4 10 5 10 5 11 4 10 4 11 3 10 4 10 3 11 3 10 3 10 3 11 2 10 3 11 2 10 2 10 2 11 2 10 2 11 2 10 3 10 2 11 2 10 3z"/><path fill="url(#g281)" stroke="url(#g281)" d="M748 1596l-10-2-11-3-10-2-11-2-10-3-10-2-11-2-10-2-11-2-10-2-10-3-11-2-10-3-11-3-10-3-10-3-11-4-10-4-10-4-11-4-10-5-11-4-10-6-10-5-11-6-10-5-11-7-10-6-10-7-11-7-10-7-11-8-10-7-10-8-11-8-10-8 7-1 11 8 10 8 11 7 10 8 10 7 11 7 10 7 11 7 10 6 10 6 11 6 10 6 11 5 10 5 10 5 11 4 10 5 11 4 10 3 10 4 11 3 10 3 10 3 11 3 10 2 11 3 10 2 10 2 11 2 10 2 11 2 10 2 10 3 11 2 10 2 11 3z"/><path fill="url(#g282)" stroke="url(#g282)" d="M740 1599l-10-2-10-3-11-2-10-2-11-3-10-2-10-2-11-2-10-2-11-3-10-2-10-3-11-2-10-3-11-3-10-4-10-3-11-4-10-4-10-4-11-5-10-5-11-5-10-6-10-5-11-6-10-7-11-6-10-7-10-7-11-7-10-8-11-8-10-8-10-8-11-8 8-1 10 8 11 8 10 8 10 7 11 8 10 7 11 7 10 7 10 6 11 7 10 5 11 6 10 5 10 6 11 4 10 5 11 4 10 4 10 4 11 4 10 3 10 3 11 3 10 3 11 2 10 3 10 2 11 2 10 2 11 2 10 2 10 3 11 2 10 2 11 3 10 2z"/><path fill="url(#g283)" stroke="url(#g283)" d="M733 1602l-11-2-10-3-10-2-11-2-10-3-11-2-10-2-10-2-11-2-10-3-11-2-10-3-10-3-11-2-10-4-11-3-10-4-10-3-11-5-10-4-11-5-10-5-10-5-11-5-10-6-10-6-11-7-10-6-11-7-10-7-10-8-11-8-10-7-11-9-10-8-10-8 7-1 11 8 10 8 10 8 11 8 10 8 11 7 10 7 10 7 11 6 10 7 11 6 10 5 10 6 11 5 10 5 11 5 10 4 10 4 11 4 10 3 10 4 11 3 10 3 11 2 10 3 10 2 11 3 10 2 11 2 10 2 10 2 11 3 10 2 11 2 10 3 10 2z"/><path fill="url(#g284)" stroke="url(#g284)" d="M725 1605l-10-2-11-3-10-2-10-3-11-2-10-2-11-2-10-2-10-3-11-2-10-2-11-3-10-3-10-3-11-3-10-3-11-4-10-4-10-4-11-5-10-4-11-5-10-6-10-5-11-6-10-6-10-7-11-6-10-7-11-8-10-7-10-8-11-8-10-8-11-9-10-9 8 0 10 8 10 8 11 9 10 7 11 8 10 8 10 7 11 7 10 6 11 7 10 6 10 6 11 5 10 5 10 5 11 5 10 4 11 5 10 3 10 4 11 3 10 4 11 2 10 3 10 3 11 2 10 3 11 2 10 2 10 2 11 2 10 3 11 2 10 2 10 3 11 2z"/><path fill="url(#g285)" stroke="url(#g285)" d="M717 1608l-10-3-10-2-11-3-10-2-10-2-11-2-10-2-11-3-10-2-10-2-11-3-10-2-11-3-10-3-10-3-11-4-10-4-11-3-10-5-10-4-11-5-10-5-11-5-10-6-10-6-11-6-10-7-10-7-11-7-10-7-11-8-10-8-10-8-11-8-10-9-11-9 8-1 10 9 11 9 10 8 11 8 10 8 10 7 11 8 10 7 11 6 10 7 10 6 11 6 10 5 10 6 11 5 10 4 11 5 10 4 10 4 11 4 10 3 11 3 10 3 10 3 11 3 10 2 11 2 10 3 10 2 11 2 10 2 11 2 10 3 10 2 11 3 10 2z"/><path fill="url(#g286)" stroke="url(#g286)" d="M710 1611l-11-3-10-2-10-3-11-2-10-2-10-3-11-2-10-2-11-2-10-3-10-2-11-3-10-3-11-3-10-3-10-3-11-4-10-4-11-4-10-5-10-5-11-5-10-5-11-6-10-6-10-6-11-7-10-7-10-7-11-7-10-8-11-8-10-9-10-8-11-9-10-9 7-1 11 9 10 9 11 8 10 8 10 8 11 8 10 7 11 7 10 7 10 7 11 6 10 6 10 6 11 5 10 5 11 5 10 4 10 5 11 3 10 4 11 4 10 3 10 3 11 3 10 2 11 3 10 2 10 2 11 3 10 2 11 2 10 2 10 2 11 3 10 2 10 3z"/><path fill="url(#g287)" stroke="url(#g287)" d="M702 1614l-10-3-11-3-10-2-10-2-11-3-10-2-10-2-11-2-10-3-11-2-10-3-10-2-11-3-10-3-11-4-10-3-10-4-11-4-10-4-11-5-10-4-10-6-11-5-10-6-11-6-10-6-10-7-11-7-10-7-10-8-11-8-10-8-11-8-10-9-10-9-11-9 8-1 10 9 11 9 10 8 10 9 11 8 10 8 11 7 10 7 10 7 11 7 10 6 10 6 11 6 10 5 11 5 10 5 10 5 11 4 10 4 11 4 10 3 10 3 11 3 10 3 11 3 10 2 10 3 11 2 10 2 11 2 10 3 10 2 11 2 10 3 10 2 11 3z"/><path fill="url(#g288)" stroke="url(#g288)" d="M695 1616l-11-3-10-2-11-3-10-2-10-2-11-2-10-3-11-2-10-2-10-3-11-2-10-3-10-3-11-3-10-3-11-4-10-4-10-4-11-4-10-4-11-5-10-6-10-5-11-6-10-6-11-6-10-7-10-7-11-8-10-7-11-8-10-9-10-8-11-9-10-9-10-9 7-1 11 9 10 9 10 9 11 8 10 8 11 8 10 8 10 7 11 7 10 7 10 6 11 6 10 6 11 5 10 6 10 4 11 5 10 4 11 4 10 4 10 3 11 4 10 3 11 3 10 2 10 3 11 2 10 3 11 2 10 2 10 2 11 3 10 2 10 2 11 3 10 3z"/><path fill="url(#g289)" stroke="url(#g289)" d="M687 1619l-10-3-11-3-10-2-11-2-10-3-10-2-11-2-10-3-11-2-10-2-10-3-11-3-10-3-10-3-11-3-10-4-11-3-10-4-10-5-11-4-10-5-11-6-10-5-10-6-11-6-10-7-11-7-10-7-10-7-11-8-10-8-11-8-10-9-10-9-11-9-10-9 8-1 10 9 10 9 11 9 10 8 10 9 11 8 10 7 11 8 10 7 10 7 11 6 10 6 11 6 10 5 10 6 11 5 10 4 11 4 10 4 10 4 11 4 10 3 11 3 10 3 10 3 11 2 10 3 10 2 11 2 10 3 11 2 10 2 10 2 11 3 10 2 11 3z"/><path fill="url(#g290)" stroke="url(#g290)" d="M679 1621l-10-3-10-2-11-3-10-2-11-2-10-3-10-2-11-2-10-3-11-2-10-3-10-2-11-3-10-3-10-4-11-3-10-4-11-4-10-5-10-4-11-5-10-6-11-5-10-6-10-6-11-7-10-7-11-7-10-8-10-7-11-9-10-8-11-9-10-9-10-9-11-10 8 0 10 9 11 9 10 9 10 9 11 8 10 8 11 8 10 7 10 7 11 7 10 7 11 6 10 6 10 5 11 6 10 5 11 4 10 5 10 4 11 3 10 4 11 3 10 3 10 3 11 3 10 3 10 2 11 2 10 3 11 2 10 2 10 3 11 2 10 2 11 3 10 3z"/><path fill="url(#g291)" stroke="url(#g291)" d="M672 1624l-11-3-10-3-10-2-11-3-10-2-11-2-10-3-10-2-11-2-10-3-11-3-10-2-10-3-11-3-10-4-10-3-11-4-10-4-11-5-10-4-10-5-11-6-10-5-11-6-10-7-10-6-11-7-10-8-11-7-10-8-10-8-11-9-10-9-11-9-10-9-10-10 7-1 11 10 10 9 10 9 11 9 10 8 11 9 10 7 10 8 11 7 10 7 11 7 10 6 10 6 11 5 10 6 11 5 10 4 10 5 11 4 10 4 11 3 10 4 10 3 11 3 10 2 10 3 11 2 10 3 11 2 10 2 10 3 11 2 10 2 11 3 10 2 10 3z"/><path fill="url(#g292)" stroke="url(#g292)" d="M664 1626l-10-3-11-3-10-2-10-3-11-2-10-2-11-3-10-2-10-2-11-3-10-2-11-3-10-3-10-3-11-4-10-3-10-4-11-4-10-5-11-5-10-5-10-5-11-6-10-6-11-6-10-7-10-7-11-7-10-8-11-8-10-8-10-9-11-9-10-9-11-9-10-10 8-1 10 10 10 9 11 9 10 9 11 9 10 8 10 8 11 7 10 8 11 7 10 6 10 7 11 6 10 5 11 6 10 5 10 4 11 5 10 4 11 4 10 3 10 4 11 3 10 3 10 2 11 3 10 3 11 2 10 2 10 3 11 2 10 2 11 3 10 2 10 3 11 3z"/><path fill="url(#g293)" stroke="url(#g293)" d="M657 1628l-11-3-10-3-11-2-10-3-10-2-11-2-10-3-11-2-10-2-10-3-11-3-10-2-11-3-10-3-10-4-11-3-10-4-11-5-10-4-10-5-11-5-10-5-10-6-11-6-10-6-11-7-10-7-10-8-11-7-10-8-11-9-10-9-10-9-11-9-10-9-11-10 8-1 10 10 11 9 10 9 11 9 10 9 10 8 11 8 10 8 11 7 10 7 10 7 11 6 10 6 11 6 10 5 10 5 11 5 10 5 11 4 10 4 10 3 11 4 10 3 10 3 11 3 10 2 11 3 10 2 10 2 11 3 10 2 11 2 10 3 10 2 11 3 10 3z"/><path fill="url(#g294)" stroke="url(#g294)" d="M649 1630l-10-3-11-2-10-3-11-3-10-2-10-2-11-3-10-2-11-2-10-3-10-3-11-2-10-3-11-4-10-3-10-4-11-4-10-4-11-4-10-5-10-5-11-6-10-5-10-6-11-7-10-7-11-7-10-7-10-8-11-8-10-9-11-8-10-10-10-9-11-10-10-10 7 0 11 10 10 9 11 9 10 9 10 9 11 9 10 8 11 7 10 8 10 7 11 7 10 6 11 6 10 6 10 5 11 5 10 5 10 4 11 5 10 4 11 3 10 4 10 3 11 3 10 2 11 3 10 3 10 2 11 2 10 3 11 2 10 2 10 3 11 2 10 3 11 3z"/><path fill="url(#g295)" stroke="url(#g295)" d="M641 1632l-10-3-10-3-11-2-10-3-11-2-10-2-10-3-11-2-10-3-11-2-10-3-10-3-11-3-10-3-11-3-10-4-10-4-11-4-10-5-11-4-10-6-10-5-11-6-10-6-10-6-11-7-10-7-11-8-10-8-10-8-11-9-10-8-11-10-10-9-10-10-11-10 8-1 10 10 11 10 10 9 10 10 11 8 10 9 11 8 10 8 10 7 11 7 10 7 11 7 10 6 10 5 11 6 10 5 10 5 11 4 10 4 11 4 10 4 10 3 11 4 10 3 11 2 10 3 10 3 11 2 10 2 11 3 10 2 10 2 11 3 10 3 11 2 10 3z"/><path fill="url(#g296)" stroke="url(#g296)" d="M634 1634l-11-3-10-3-10-2-11-3-10-2-11-3-10-2-10-2-11-3-10-3-11-2-10-3-10-3-11-3-10-4-11-3-10-4-10-5-11-4-10-5-11-5-10-6-10-5-11-7-10-6-10-7-11-7-10-8-11-8-10-8-10-8-11-9-10-10-11-9-10-10-10-10 7-1 11 10 10 10 10 9 11 10 10 8 11 9 10 8 10 8 11 8 10 7 11 7 10 6 10 6 11 6 10 5 10 6 11 4 10 5 11 4 10 4 10 4 11 3 10 3 11 3 10 3 10 3 11 2 10 3 11 2 10 3 10 2 11 2 10 3 11 2 10 3 10 3z"/><path fill="url(#g297)" stroke="url(#g297)" d="M626 1636l-10-3-11-3-10-3-10-2-11-3-10-2-11-2-10-3-10-2-11-3-10-3-11-2-10-3-10-4-11-3-10-4-11-4-10-4-10-5-11-4-10-6-11-5-10-6-10-6-11-7-10-7-10-7-11-7-10-8-11-9-10-8-10-9-11-10-10-9-11-10-10-10 8-1 10 10 10 10 11 9 10 10 11 9 10 8 10 8 11 8 10 8 11 7 10 7 10 6 11 7 10 5 10 6 11 5 10 5 11 4 10 5 10 4 11 3 10 4 11 3 10 3 10 3 11 2 10 3 11 3 10 2 10 2 11 3 10 2 11 3 10 2 10 3 11 3z"/><path fill="url(#g298)" stroke="url(#g298)" d="M618 1637l-10-3-10-2-11-3-10-3-11-2-10-3-10-2-11-2-10-3-10-2-11-3-10-3-11-3-10-3-10-4-11-3-10-4-11-5-10-4-10-5-11-5-10-6-11-6-10-6-10-6-11-7-10-8-11-7-10-8-10-9-11-8-10-9-10-10-11-9-10-10-11-11 8 0 10 10 11 10 10 9 11 10 10 9 10 8 11 9 10 8 11 7 10 7 10 7 11 7 10 6 10 6 11 5 10 6 11 4 10 5 10 4 11 4 10 4 11 3 10 4 10 3 11 2 10 3 11 3 10 2 10 3 11 2 10 2 11 3 10 2 10 3 11 3 10 3z"/><path fill="url(#g299)" stroke="url(#g299)" d="M611 1639l-11-3-10-3-10-3-11-2-10-3-11-2-10-3-10-2-11-2-10-3-10-3-11-3-10-3-11-3-10-3-10-4-11-4-10-4-11-5-10-5-10-5-11-5-10-6-11-7-10-6-10-7-11-7-10-8-11-8-10-9-10-8-11-9-10-10-10-10-11-10-10-10 7-1 11 11 10 10 11 9 10 10 10 9 11 8 10 9 10 8 11 7 10 8 11 7 10 6 10 6 11 6 10 6 11 5 10 5 10 4 11 5 10 4 11 3 10 4 10 3 11 3 10 3 11 3 10 2 10 3 11 2 10 2 10 3 11 2 10 3 11 3 10 2 10 3z"/><path fill="url(#g300)" stroke="url(#g300)" d="M603 1640l-10-3-11-3-10-2-10-3-11-2-10-3-11-2-10-3-10-2-11-3-10-2-10-3-11-3-10-4-11-3-10-4-10-4-11-4-10-5-11-4-10-6-10-5-11-6-10-6-11-7-10-7-10-7-11-8-10-8-11-9-10-8-10-10-11-9-10-10-10-10-11-10 8-1 10 10 11 10 10 10 10 10 11 9 10 8 10 9 11 8 10 8 11 7 10 7 10 6 11 7 10 6 11 5 10 5 10 5 11 5 10 4 11 4 10 4 10 3 11 3 10 3 11 3 10 3 10 3 11 2 10 2 10 3 11 2 10 3 11 2 10 3 10 3 11 3z"/><path fill="url(#g301)" stroke="url(#g301)" d="M596 1642l-11-3-10-3-11-3-10-3-10-2-11-3-10-2-11-2-10-3-10-3-11-2-10-3-10-3-11-3-10-4-11-4-10-4-10-4-11-4-10-5-11-6-10-5-10-6-11-6-10-7-11-7-10-7-10-8-11-8-10-9-11-8-10-10-10-9-11-10-10-10-10-11 7 0 11 10 10 10 10 10 11 9 10 10 10 8 11 9 10 8 11 8 10 7 10 7 11 7 10 6 11 6 10 5 10 6 11 4 10 5 11 4 10 4 10 4 11 3 10 4 11 3 10 3 10 2 11 3 10 2 10 3 11 2 10 3 11 2 10 3 10 2 11 3 10 3z"/><path fill="url(#g302)" stroke="url(#g302)" d="M588 1643l-10-3-11-3-10-3-11-3-10-2-10-3-11-2-10-2-11-3-10-3-10-2-11-3-10-3-10-3-11-4-10-4-11-4-10-4-10-4-11-5-10-5-11-6-10-6-10-6-11-7-10-7-11-7-10-8-10-8-11-9-10-9-11-9-10-9-10-10-11-11-10-10 8-1 10 11 10 10 11 10 10 9 10 10 11 8 10 9 11 8 10 8 10 7 11 7 10 7 11 6 10 6 10 5 11 6 10 5 11 4 10 4 10 4 11 4 10 4 11 3 10 3 10 3 11 2 10 3 10 3 11 2 10 2 11 3 10 2 10 3 11 3 10 3 11 3z"/><path fill="url(#g303)" stroke="url(#g303)" d="M580 1644l-10-3-10-3-11-3-10-2-11-3-10-3-10-2-11-2-10-3-11-3-10-2-10-3-11-3-10-3-11-4-10-4-10-4-11-4-10-4-10-5-11-5-10-6-11-6-10-6-10-7-11-7-10-7-11-8-10-8-10-9-11-9-10-9-11-10-10-10-10-10-11-10 8-1 10 10 11 11 10 10 10 9 11 9 10 9 11 9 10 8 10 8 11 7 10 7 11 7 10 6 10 6 11 6 10 5 11 5 10 4 10 4 11 4 10 4 11 4 10 3 10 3 11 3 10 2 10 3 11 3 10 2 11 2 10 3 10 2 11 3 10 3 11 3 10 3z"/><path fill="url(#g304)" stroke="url(#g304)" d="M573 1645l-11-3-10-3-10-3-11-3-10-2-11-3-10-2-10-3-11-2-10-3-11-2-10-3-10-3-11-3-10-4-11-4-10-4-10-4-11-4-10-5-10-5-11-6-10-6-11-6-10-7-10-7-11-7-10-8-11-8-10-9-10-9-11-9-10-10-11-10-10-10-10-11 7 0 11 10 10 10 10 10 11 10 10 9 11 9 10 9 10 8 11 8 10 7 11 7 10 7 10 6 11 6 10 6 11 5 10 5 10 4 11 4 10 4 10 4 11 4 10 3 11 3 10 3 10 2 11 3 10 3 11 2 10 2 10 3 11 3 10 2 11 3 10 3 10 3z"/><path fill="url(#g305)" stroke="url(#g305)" d="M565 1646l-10-3-11-3-10-3-10-3-11-2-10-3-11-2-10-3-10-2-11-3-10-3-11-2-10-3-10-4-11-3-10-4-11-4-10-4-10-5-11-4-10-6-10-5-11-6-10-6-11-7-10-7-10-7-11-8-10-8-11-9-10-9-10-9-11-10-10-10-11-10-10-11 8-1 10 11 10 10 11 10 10 10 11 9 10 9 10 9 11 8 10 8 11 7 10 7 10 7 11 6 10 6 11 6 10 5 10 5 11 4 10 4 10 4 11 4 10 4 11 3 10 3 10 3 11 2 10 3 11 2 10 3 10 2 11 3 10 2 11 3 10 3 10 3 11 3z"/><path fill="url(#g306)" stroke="url(#g306)" d="M558 1647l-11-4-10-3-11-2-10-3-10-3-11-2-10-3-11-2-10-3-10-2-11-3-10-3-11-3-10-3-10-3-11-4-10-4-11-4-10-5-10-5-11-5-10-5-10-6-11-7-10-6-11-7-10-8-10-7-11-9-10-8-11-9-10-9-10-10-11-10-10-11-11-10 8-1 10 11 11 10 10 10 11 10 10 9 10 9 11 9 10 8 11 8 10 7 10 7 11 7 10 6 11 6 10 5 10 6 11 4 10 5 10 4 11 4 10 4 11 3 10 4 10 3 11 2 10 3 11 3 10 2 10 3 11 2 10 3 11 2 10 3 10 3 11 3 10 3z"/><path fill="url(#g307)" stroke="url(#g307)" d="M550 1647l-10-3-11-3-10-3-11-3-10-2-10-3-11-2-10-3-11-2-10-3-10-2-11-3-10-3-11-3-10-4-10-3-11-4-10-5-11-4-10-5-10-5-11-6-10-5-10-7-11-6-10-7-11-8-10-8-10-8-11-8-10-9-11-10-10-9-10-11-11-10-10-11 7 0 11 10 10 11 11 10 10 10 10 9 11 9 10 8 11 9 10 7 10 8 11 7 10 6 11 7 10 6 10 5 11 5 10 5 10 5 11 4 10 4 11 4 10 3 10 3 11 3 10 3 11 3 10 2 10 3 11 2 10 3 11 2 10 3 10 3 11 2 10 3 11 4z"/><path fill="url(#g308)" stroke="url(#g308)" d="M542 1648l-10-3-11-3-10-3-10-3-11-3-10-2-10-3-11-2-10-3-11-2-10-3-10-3-11-3-10-3-11-3-10-4-10-4-11-4-10-4-11-5-10-5-10-6-11-6-10-6-11-7-10-7-10-7-11-8-10-8-10-9-11-9-10-9-11-10-10-10-10-10-11-11 8-1 10 11 11 10 10 11 10 9 11 10 10 9 11 8 10 8 10 8 11 8 10 7 11 6 10 7 10 5 11 6 10 5 10 5 11 4 10 5 11 4 10 3 10 4 11 3 10 3 11 3 10 2 10 3 11 2 10 3 11 2 10 3 10 2 11 3 10 3 11 3 10 3z"/><path fill="url(#g309)" stroke="url(#g309)" d="M535 1648l-11-3-10-3-11-3-10-3-10-2-11-3-10-2-10-3-11-2-10-3-11-2-10-3-10-3-11-3-10-4-11-3-10-4-10-4-11-5-10-5-11-5-10-5-10-6-11-6-10-7-11-7-10-7-10-8-11-8-10-9-10-9-11-9-10-10-11-10-10-10-10-11 7-1 11 11 10 10 10 10 11 10 10 9 11 9 10 9 10 8 11 8 10 7 10 7 11 7 10 6 11 6 10 6 10 5 11 5 10 4 11 4 10 4 10 4 11 3 10 3 11 3 10 3 10 3 11 2 10 3 11 2 10 3 10 2 11 3 10 3 10 3 11 3 10 3z"/><path fill="url(#g310)" stroke="url(#g310)" d="M527 1649l-10-4-11-3-10-3-11-2-10-3-10-2-11-3-10-2-10-3-11-2-10-3-11-3-10-3-10-3-11-3-10-4-11-4-10-4-10-4-11-5-10-5-11-6-10-5-10-7-11-6-10-7-11-8-10-7-10-8-11-9-10-9-10-9-11-10-10-10-11-11-10-11 8 0 10 11 10 10 11 10 10 10 11 9 10 9 10 9 11 8 10 8 10 7 11 7 10 7 11 6 10 6 10 5 11 5 10 5 11 5 10 4 10 4 11 3 10 4 11 3 10 3 10 3 11 2 10 3 11 2 10 3 10 2 11 3 10 2 10 3 11 3 10 3 11 3z"/><path fill="url(#g311)" stroke="url(#g311)" d="M519 1649l-10-3-10-4-11-2-10-3-11-3-10-2-10-3-11-2-10-3-10-2-11-3-10-3-11-2-10-4-10-3-11-3-10-4-11-4-10-5-10-5-11-5-10-5-11-6-10-6-10-7-11-6-10-8-11-8-10-8-10-8-11-9-10-10-10-9-11-10-10-11-11-11 8-1 10 11 11 11 10 10 11 10 10 9 10 9 11 9 10 8 10 7 11 8 10 7 11 6 10 7 10 5 11 6 10 5 11 5 10 4 10 4 11 4 10 4 11 3 10 3 10 3 11 3 10 3 11 2 10 3 10 2 11 3 10 2 10 3 11 2 10 3 11 3 10 4z"/><path fill="url(#g312)" stroke="url(#g312)" d="M512 1649l-11-3-10-4-10-2-11-3-10-3-11-2-10-3-10-2-11-3-10-2-10-3-11-2-10-3-11-3-10-4-10-3-11-4-10-4-11-4-10-5-10-5-11-5-10-6-11-6-10-7-10-7-11-7-10-8-11-8-10-8-10-9-11-10-10-9-10-11-11-10-10-11 7-1 11 11 10 11 11 10 10 9 10 10 11 9 10 8 10 8 11 8 10 8 11 6 10 7 10 6 11 6 10 5 11 5 10 5 10 5 11 4 10 4 11 3 10 3 10 4 11 2 10 3 11 3 10 2 10 3 11 2 10 3 10 2 11 3 10 3 11 2 10 4 10 3z"/><path fill="url(#g313)" stroke="url(#g313)" d="M504 1649l-10-3-11-4-10-2-10-3-11-3-10-2-11-3-10-2-10-3-11-2-10-3-11-2-10-3-10-3-11-3-10-4-10-4-11-4-10-4-11-5-10-5-10-5-11-6-10-6-11-6-10-7-10-7-11-8-10-8-11-9-10-9-10-9-11-10-10-10-11-10-10-11 8-1 10 11 11 10 10 11 10 9 11 10 10 9 10 8 11 8 10 8 11 7 10 7 10 7 11 6 10 6 11 5 10 5 10 5 11 4 10 4 11 4 10 3 10 4 11 3 10 3 11 2 10 3 10 2 11 3 10 2 10 3 11 2 10 3 11 3 10 2 10 4 11 3z"/><path fill="url(#g314)" stroke="url(#g314)" d="M497 1649l-11-3-10-4-11-3-10-2-10-3-11-2-10-3-11-2-10-3-10-2-11-3-10-2-11-3-10-3-10-3-11-4-10-3-10-4-11-5-10-4-11-5-10-6-10-5-11-6-10-7-11-7-10-7-10-7-11-8-10-9-11-9-10-9-10-10-11-10-10-10-11-11 8-1 10 11 11 10 10 10 11 10 10 9 10 9 11 9 10 8 11 8 10 7 10 7 11 6 10 6 11 6 10 5 10 5 11 5 10 4 11 4 10 4 10 4 11 3 10 3 10 3 11 2 10 3 11 2 10 3 10 2 11 3 10 2 11 3 10 3 10 2 11 4 10 3z"/><path fill="url(#g315)" stroke="url(#g315)" d="M489 1649l-10-4-11-3-10-3-11-3-10-2-10-3-11-2-10-2-11-3-10-2-10-3-11-2-10-3-11-3-10-3-10-4-11-3-10-4-10-4-11-5-10-5-11-5-10-6-10-6-11-6-10-7-11-7-10-8-10-8-11-8-10-9-11-9-10-10-10-10-11-10-10-11 7-1 11 11 10 10 11 10 10 10 10 9 11 9 10 9 11 8 10 7 10 7 11 7 10 7 11 6 10 5 10 6 11 5 10 4 11 5 10 4 10 3 11 4 10 3 10 3 11 3 10 2 11 3 10 2 10 3 11 2 10 3 11 2 10 3 10 2 11 3 10 4 11 3z"/><path fill="url(#g316)" stroke="url(#g316)" d="M481 1648l-10-3-10-3-11-3-10-3-11-2-10-3-10-2-11-3-10-2-11-2-10-3-10-2-11-3-10-3-11-3-10-4-10-3-11-4-10-4-10-5-11-5-10-5-11-5-10-6-10-7-11-6-10-7-11-8-10-8-10-8-11-9-10-9-11-10-10-10-10-10-11-11 8-1 10 11 11 10 10 10 10 10 11 9 10 9 11 8 10 8 10 8 11 7 10 7 11 6 10 6 10 6 11 5 10 5 11 5 10 4 10 4 11 3 10 4 10 3 11 3 10 3 11 2 10 3 10 2 11 3 10 2 11 2 10 3 10 2 11 3 10 3 11 3 10 4z"/><path fill="url(#g317)" stroke="url(#g317)" d="M474 1648l-11-3-10-4-10-3-11-2-10-3-11-2-10-3-10-2-11-2-10-3-11-2-10-3-10-2-11-3-10-3-11-4-10-3-10-4-11-4-10-4-10-5-11-5-10-6-11-6-10-6-10-7-11-7-10-7-11-8-10-8-10-9-11-9-10-10-11-10-10-10-10-11 7-1 11 11 10 10 10 10 11 10 10 9 11 9 10 8 10 8 11 8 10 7 11 6 10 7 10 6 11 5 10 5 11 5 10 5 10 4 11 4 10 3 10 4 11 3 10 3 11 3 10 2 10 3 11 2 10 2 11 3 10 2 10 3 11 2 10 3 11 3 10 3 10 3z"/><path fill="url(#g318)" stroke="url(#g318)" d="M466 1648l-10-4-11-3-10-3-10-3-11-2-10-3-11-2-10-2-10-3-11-2-10-2-11-3-10-2-10-3-11-3-10-4-11-3-10-4-10-4-11-4-10-5-11-5-10-5-10-6-11-6-10-7-10-7-11-8-10-7-11-9-10-8-10-9-11-10-10-10-11-10-10-11 8-1 10 11 10 10 11 10 10 10 11 9 10 9 10 8 11 8 10 7 11 7 10 7 10 6 11 6 10 6 11 5 10 5 10 4 11 4 10 4 10 3 11 4 10 3 11 3 10 2 10 3 11 2 10 3 11 2 10 2 10 3 11 2 10 3 11 2 10 3 10 4 11 3z"/><path fill="url(#g319)" stroke="url(#g319)" d="M458 1647l-10-4-10-3-11-3-10-2-10-3-11-2-10-3-11-2-10-2-10-2-11-3-10-2-11-3-10-3-10-2-11-4-10-3-11-4-10-4-10-4-11-5-10-5-11-5-10-6-10-6-11-6-10-7-10-8-11-8-10-8-11-8-10-9-10-10-11-10-10-10-11-10 8-2 10 11 11 10 10 10 11 10 10 9 10 8 11 9 10 7 11 8 10 7 10 7 11 6 10 6 10 5 11 5 10 5 11 4 10 4 10 4 11 3 10 4 11 3 10 3 10 2 11 3 10 2 11 2 10 3 10 2 11 2 10 3 11 2 10 3 10 3 11 3 10 4z"/></g><g><path fill="url(#g320)" stroke="url(#g320)" d="M2130 1522l-10-17-10-14-11-8-10-4-11 2-10 6-11 10-10 14-10 15-11 15-10 14-11 12-10 9-11 4-10-2-10-6-11-11-10-15-11-19-10-21-11-22-10-21-10-19-11-16-10-11-11-7-10-2-11 4-10 8-10 11-11 14-10 16-11 15-10 13-11 11-10 7 8-11 10-7 11-9 10-12 10-14 11-12 10-12 11-9 10-5 11-2 10 3 10 8 11 11 10 16 11 17 10 19 11 20 10 18 10 16 11 13 10 9 11 5 10 0 10-4 11-8 10-11 11-12 10-14 11-12 10-11 10-8 11-4 10 1 11 5 10 9 11 13 10 16z"/><path fill="url(#g321)" stroke="url(#g321)" d="M2123 1514l-11-18-10-13-11-7-10-2-10 3-11 9-10 13-11 16-10 17-11 18-10 16-10 12-11 9-10 3-11-3-10-8-11-13-10-19-10-21-11-23-10-24-11-23-10-20-10-16-11-11-10-6-11 1-10 5-11 11-10 14-10 17-11 17-10 17-11 15-10 11-11 7 8-11 10-7 11-11 10-13 11-15 10-16 11-14 10-11 10-8 11-4 10 2 11 7 10 11 11 16 10 19 10 21 11 22 10 21 11 19 10 15 11 11 10 6 10 2 11-4 10-9 11-12 10-14 11-15 10-15 10-14 11-10 10-6 11-2 10 4 11 8 10 14 10 17z"/><path fill="url(#g322)" stroke="url(#g322)" d="M2115 1506l-10-18-11-12-10-7-11 0-10 6-10 12-11 15-10 19-11 19-10 19-11 17-10 13-10 8-11 2-10-4-11-10-10-16-11-21-10-24-10-26-11-26-10-24-11-20-10-16-11-10-10-4-10 2-11 8-10 13-11 17-10 19-11 20-10 18-10 16-11 11-10 6 7-10 11-7 10-11 11-15 10-17 11-17 10-17 10-14 11-11 10-5 11-1 10 6 11 11 10 16 10 20 11 23 10 24 11 23 10 21 10 19 11 13 10 8 11 3 10-3 11-9 10-12 10-16 11-18 10-17 11-16 10-13 11-9 10-3 10 2 11 7 10 13 11 18z"/><path fill="url(#g323)" stroke="url(#g323)" d="M2107 1498l-10-18-10-11-11-5-10 2-11 9-10 14-11 18-10 21-10 21-11 21-10 17-11 13-10 7-11 1-10-6-10-13-11-19-10-23-11-27-10-28-10-27-11-25-10-20-11-16-10-9-11-2-10 5-10 10-11 16-10 20-11 21-10 21-11 20-10 16-10 11-11 4 8-9 10-6 11-11 10-16 10-18 11-20 10-19 11-17 10-13 11-8 10-2 10 4 11 10 10 16 11 20 10 24 11 26 10 26 10 24 11 21 10 16 11 10 10 4 11-2 10-8 10-13 11-17 10-19 11-19 10-19 11-15 10-12 10-6 11 0 10 7 11 12 10 18z"/><path fill="url(#g324)" stroke="url(#g324)" d="M2100 1490l-11-17-10-10-10-3-11 4-10 11-11 17-10 21-11 23-10 23-10 21-11 18-10 13-11 6-10-2-11-8-10-16-10-21-11-26-10-29-11-29-10-29-11-25-10-20-10-15-11-7-10 0-11 7-10 13-11 19-10 21-10 24-11 23-10 20-11 16-10 10-11 3 8-9 11-4 10-11 10-16 11-20 10-21 11-21 10-20 11-16 10-10 10-5 11 2 10 9 11 16 10 20 11 25 10 27 10 28 11 27 10 23 11 19 10 13 10 6 11-1 10-7 11-13 10-17 11-21 10-21 10-21 11-18 10-14 11-9 10-2 11 5 10 11 10 18z"/><path fill="url(#g325)" stroke="url(#g325)" d="M2092 1482l-10-16-11-8-10-1-11 7-10 14-10 19-11 23-10 25-11 24-10 22-11 18-10 11-10 5-11-3-10-11-11-18-10-24-11-29-10-30-10-32-11-29-10-25-11-20-10-13-10-5-11 2-10 10-11 16-10 21-11 23-10 25-10 24-11 21-10 15-11 9-10 2 7-8 11-3 10-10 11-16 10-20 11-23 10-24 10-21 11-19 10-13 11-7 10 0 11 7 10 15 10 20 11 25 10 29 11 29 10 29 11 26 10 21 10 16 11 8 10 2 11-6 10-13 11-18 10-21 10-23 11-23 10-21 11-17 10-11 11-4 10 3 10 10 11 17z"/><path fill="url(#g326)" stroke="url(#g326)" d="M2085 1474l-11-14-10-6-11 2-10 9-11 17-10 21-10 25-11 27-10 25-11 22-10 17-11 11-10 2-10-5-11-14-10-21-11-26-10-31-11-32-10-32-10-30-11-25-10-19-11-11-10-3-11 4-10 13-10 18-11 24-10 25-11 27-10 24-11 20-10 15-10 8-11-1 8-6 10-2 11-9 10-15 11-21 10-24 10-25 11-23 10-21 11-16 10-10 11-2 10 5 10 13 11 20 10 25 11 29 10 32 10 30 11 29 10 24 11 18 10 11 11 3 10-5 10-11 11-18 10-22 11-24 10-25 11-23 10-19 10-14 11-7 10 1 11 8 10 16z"/><path fill="url(#g327)" stroke="url(#g327)" d="M2077 1468l-11-13-10-4-10 5-11 12-10 19-11 24-10 27-11 27-10 26-10 22-11 16-10 9-11 0-10-8-11-16-10-23-10-29-11-33-10-34-11-33-10-29-10-24-11-18-10-9-11-1-10 7-11 15-10 22-10 25-11 27-10 27-11 25-10 20-11 13-10 6-10-3 7-5 11 1 10-8 10-15 11-20 10-24 11-27 10-25 11-24 10-18 10-13 11-4 10 3 11 11 10 19 11 25 10 30 10 32 11 32 10 31 11 26 10 21 11 14 10 5 10-2 11-11 10-17 11-22 10-25 11-27 10-25 10-21 11-17 10-9 11-2 10 6 11 14z"/><path fill="url(#g328)" stroke="url(#g328)" d="M2069 1462l-10-10-11-2-10 7-10 15-11 21-10 26-11 29-10 28-11 26-10 21-10 15-11 7-10-2-11-11-10-19-11-26-10-31-10-34-11-35-10-33-11-29-10-23-11-16-10-7-10 2-11 10-10 18-11 23-10 27-11 29-10 27-10 25-11 19-10 12-11 3-10-5 8-4 10 3 10-6 11-13 10-20 11-25 10-27 11-27 10-25 10-22 11-15 10-7 11 1 10 9 11 18 10 24 10 29 11 33 10 34 11 33 10 29 10 23 11 16 10 8 11 0 10-9 11-16 10-22 10-26 11-27 10-27 11-24 10-19 11-12 10-5 10 4 11 13z"/><path fill="url(#g329)" stroke="url(#g329)" d="M2062 1458l-11-9-10 1-11 10-10 17-11 24-10 28-10 29-11 29-10 26-11 20-10 13-11 4-10-4-10-13-11-22-10-28-11-33-10-35-10-36-11-33-10-28-11-22-10-13-11-5-10 4-10 13-11 20-10 25-11 29-10 30-11 27-10 24-10 18-11 10-10 1-11-8 8-2 10 5 11-3 10-12 11-19 10-25 10-27 11-29 10-27 11-23 10-18 11-10 10-2 10 7 11 16 10 23 11 29 10 33 11 35 10 34 10 31 11 26 10 19 11 11 10 2 11-7 10-15 10-21 11-26 10-28 11-29 10-26 11-21 10-15 10-7 11 2 10 10z"/><path fill="url(#g330)" stroke="url(#g330)" d="M2054 1454l-10-5-11 3-10 13-11 19-10 26-11 29-10 30-10 29-11 25-10 18-11 11-10 3-11-7-10-16-10-24-11-30-10-35-11-36-10-36-11-33-10-27-10-20-11-11-10-2-11 7-10 15-11 23-10 27-10 30-11 30-10 27-11 23-10 16-11 7-10-1-10-10 7-1 11 8 10-1 11-10 10-18 10-24 11-27 10-30 11-29 10-25 11-20 10-13 10-4 11 5 10 13 11 22 10 28 11 33 10 36 10 35 11 33 10 28 11 22 10 13 10 4 11-4 10-13 11-20 10-26 11-29 10-29 10-28 11-24 10-17 11-10 10-1 11 9z"/><path fill="url(#g331)" stroke="url(#g331)" d="M2046 1452l-10-3-11 7-10 14-10 22-11 28-10 30-11 30-10 28-11 24-10 17-10 9-11 0-10-10-11-19-10-26-11-32-10-36-10-37-11-35-10-32-11-25-10-18-10-9-11 1-10 9-11 18-10 24-11 29-10 30-10 30-11 27-10 22-11 14-10 5-11-4-10-13 8 1 10 10 10 1 11-7 10-16 11-23 10-27 11-30 10-30 10-27 11-23 10-15 11-7 10 2 11 11 10 20 10 27 11 33 10 36 11 36 10 35 11 30 10 24 10 16 11 7 10-3 11-11 10-18 11-25 10-29 10-30 11-29 10-26 11-19 10-13 11-3 10 5z"/><path fill="url(#g332)" stroke="url(#g332)" d="M2039 1452l-11-1-10 9-11 17-10 24-10 29-11 31-10 30-11 27-10 23-11 15-10 6-10-3-11-12-10-21-11-29-10-33-11-37-10-37-10-35-11-30-10-24-11-15-10-6-11 3-10 12-10 20-11 26-10 29-11 31-10 30-11 26-10 19-10 12-11 3-10-7-11-15 8 2 10 13 11 4 10-5 11-14 10-22 11-27 10-30 10-30 11-29 10-24 11-18 10-9 11-1 10 9 10 18 11 25 10 32 11 35 10 37 10 36 11 32 10 26 11 19 10 10 11 0 10-9 10-17 11-24 10-28 11-30 10-30 11-28 10-22 10-14 11-7 10 3z"/><path fill="url(#g333)" stroke="url(#g333)" d="M2031 1453l-10 2-11 11-10 20-11 25-10 30-11 31-10 29-10 27-11 20-10 13-11 3-10-5-11-15-10-23-10-30-11-35-10-37-11-37-10-34-10-28-11-22-10-13-11-3-10 6-11 14-10 22-10 27-11 30-10 31-11 29-10 24-11 18-10 9-10 0-11-9-10-18 7 4 11 15 10 7 11-3 10-12 10-19 11-26 10-30 11-31 10-29 11-26 10-20 10-12 11-3 10 6 11 15 10 24 11 30 10 35 10 37 11 37 10 33 11 29 10 21 11 12 10 3 10-6 11-15 10-23 11-27 10-30 11-31 10-29 10-24 11-17 10-9 11 1z"/><path fill="url(#g334)" stroke="url(#g334)" d="M2023 1455l-10 5-10 14-11 21-10 27-11 30-10 30-11 29-10 25-10 18-11 10-10 1-11-8-10-17-11-25-10-32-10-35-11-37-10-36-11-33-10-26-11-20-10-10-10-1-11 9-10 16-11 24-10 28-11 30-10 31-10 27-11 23-10 15-11 7-10-2-11-12-10-21 8 5 10 18 11 9 10 0 10-9 11-18 10-24 11-29 10-31 11-30 10-27 10-22 11-14 10-6 11 3 10 13 11 22 10 28 10 34 11 37 10 37 11 35 10 30 10 23 11 15 10 5 11-3 10-13 11-20 10-27 10-29 11-31 10-30 11-25 10-20 11-11 10-2z"/><path fill="url(#g335)" stroke="url(#g335)" d="M2016 1459l-11 8-10 15-11 23-10 27-10 30-11 31-10 27-11 23-10 16-11 8-10-2-10-11-11-19-10-27-11-33-10-35-10-37-11-35-10-31-11-24-10-17-11-8-10 2-10 11-11 18-10 25-11 29-10 30-11 30-10 26-10 20-11 13-10 4-11-5-10-14-11-23 8 6 10 21 11 12 10 2 11-7 10-15 11-23 10-27 10-31 11-30 10-28 11-24 10-16 11-9 10 1 10 10 11 20 10 26 11 33 10 36 11 37 10 35 10 32 11 25 10 17 11 8 10-1 11-10 10-18 10-25 11-29 10-30 11-30 10-27 11-21 10-14 10-5z"/><path fill="url(#g336)" stroke="url(#g336)" d="M2008 1465l-10 9-11 18-10 23-11 28-10 30-10 29-11 26-10 21-11 13-10 5-11-4-10-13-10-21-11-29-10-33-11-36-10-35-11-34-10-29-10-22-11-14-10-5-11 4-10 13-11 20-10 26-10 29-11 29-10 29-11 24-10 18-11 10-10 2-10-8-11-16-10-24 7 6 11 23 10 14 11 5 10-4 11-13 10-20 10-26 11-30 10-30 11-29 10-25 11-18 10-11 10-2 11 8 10 17 11 24 10 31 11 35 10 37 10 35 11 33 10 27 11 19 10 11 10 2 11-8 10-16 11-23 10-27 11-31 10-30 10-27 11-23 10-15 11-8z"/><path fill="url(#g337)" stroke="url(#g337)" d="M2000 1471l-10 12-10 19-11 24-10 28-11 29-10 28-11 24-10 18-10 11-11 2-10-6-11-15-10-23-11-30-10-33-10-35-11-35-10-32-11-26-10-20-10-11-11-2-10 6-11 14-10 22-11 26-10 28-10 29-11 27-10 22-11 15-10 8-11-1-10-10-10-18-11-26 8 8 10 24 11 16 10 8 10-2 11-10 10-18 11-24 10-29 11-29 10-29 10-26 11-20 10-13 11-4 10 5 11 14 10 22 10 29 11 34 10 35 11 36 10 33 11 29 10 21 10 13 11 4 10-5 11-13 10-21 11-26 10-29 10-30 11-28 10-23 11-18 10-9z"/><path fill="url(#g338)" stroke="url(#g338)" d="M1993 1479l-11 13-10 20-10 25-11 28-10 28-11 26-10 22-11 15-10 8-10 0-11-9-10-17-11-24-10-30-11-33-10-35-10-33-11-29-10-24-11-17-10-9-11 0-10 9-10 15-11 22-10 27-11 28-10 27-11 25-10 20-10 12-11 5-10-3-11-12-10-20-11-27 8 8 11 26 10 18 10 10 11 1 10-8 11-15 10-22 11-27 10-29 10-28 11-26 10-22 11-14 10-6 11 2 10 11 10 20 11 26 10 32 11 35 10 35 10 33 11 30 10 23 11 15 10 6 11-2 10-11 10-18 11-24 10-28 11-29 10-28 11-24 10-19 10-12z"/><path fill="url(#g339)" stroke="url(#g339)" d="M1985 1488l-10 15-11 20-10 25-11 27-10 26-10 24-11 20-10 13-11 5-10-2-11-11-10-19-10-25-11-30-10-33-11-33-10-31-10-28-11-21-10-14-11-6-10 2-11 10-10 17-10 22-11 26-10 27-11 26-10 23-11 17-10 10-10 2-11-5-10-15-11-21-10-27 7 8 11 27 10 20 11 12 10 3 11-5 10-12 10-20 11-25 10-27 11-28 10-27 11-22 10-15 10-9 11 0 10 9 11 17 10 24 11 29 10 33 10 35 11 33 10 30 11 24 10 17 11 9 10 0 10-8 11-15 10-22 11-26 10-28 11-28 10-25 10-20 11-13z"/><path fill="url(#g340)" stroke="url(#g340)" d="M1978 1498l-11 15-10 21-11 25-10 25-11 25-10 22-10 16-11 11-10 3-11-5-10-13-11-20-10-25-10-30-11-32-10-31-11-30-10-24-11-19-10-12-10-4-11 5-10 11-11 18-10 22-11 25-10 26-10 24-11 20-10 14-11 8-10 0-11-8-10-16-10-22-11-27 8 8 10 27 11 21 10 15 11 5 10-2 10-10 11-17 10-23 11-26 10-27 11-26 10-22 10-17 11-10 10-2 11 6 10 14 11 21 10 28 10 31 11 33 10 33 11 30 10 25 10 19 11 11 10 2 11-5 10-13 11-20 10-24 10-26 11-27 10-25 11-20 10-15z"/><path fill="url(#g341)" stroke="url(#g341)" d="M1970 1508l-11 16-10 21-10 23-11 24-10 23-11 19-10 15-11 7-10 1-10-7-11-14-10-21-11-26-10-29-11-30-10-30-10-26-11-23-10-16-11-9-10-2-10 6-11 13-10 18-11 22-10 24-11 23-10 22-10 18-11 12-10 5-11-3-10-10-11-16-10-23-10-27 7 8 11 27 10 22 10 16 11 8 10 0 11-8 10-14 11-20 10-24 10-26 11-25 10-22 11-18 10-11 11-5 10 4 10 12 11 19 10 24 11 30 10 31 11 32 10 30 10 25 11 20 10 13 11 5 10-3 11-11 10-16 10-22 11-25 10-25 11-25 10-21 11-15z"/><path fill="url(#g342)" stroke="url(#g342)" d="M1962 1519l-10 16-11 20-10 23-10 22-11 20-10 17-11 11-10 6-11-2-10-9-10-15-11-21-10-26-11-28-10-28-11-28-10-24-10-19-11-14-10-7-11 0-10 8-11 13-10 18-10 21-11 22-10 22-11 19-10 15-11 9-10 3-10-4-11-12-10-17-11-23-10-27 8 8 10 27 10 23 11 16 10 10 11 3 10-5 11-12 10-18 10-22 11-23 10-24 11-22 10-18 11-13 10-6 10 2 11 9 10 16 11 23 10 26 10 30 11 30 10 29 11 26 10 21 11 14 10 7 10-1 11-7 10-15 11-19 10-23 11-24 10-23 10-21 11-16z"/><path fill="url(#g343)" stroke="url(#g343)" d="M1955 1530l-11 16-10 19-11 21-10 20-11 18-10 14-10 9-11 3-10-4-11-10-10-16-11-21-10-25-10-27-11-26-10-25-11-22-10-17-10-11-11-5-10 2-11 8-10 14-11 17-10 20-10 21-11 19-10 17-11 12-10 7-11 0-10-6-10-13-11-18-10-22-11-26 8 7 10 27 11 23 10 17 11 12 10 4 10-3 11-9 10-15 11-19 10-22 11-22 10-21 10-18 11-13 10-8 11 0 10 7 11 14 10 19 10 24 11 28 10 28 11 28 10 26 11 21 10 15 10 9 11 2 10-6 11-11 10-17 11-20 10-22 10-23 11-20 10-16z"/><path fill="url(#g344)" stroke="url(#g344)" d="M1947 1541l-10 15-11 18-10 19-11 17-10 16-11 11-10 7-10 0-11-5-10-11-11-17-10-20-11-24-10-24-10-25-11-22-10-19-11-15-10-9-11-2-10 3-10 8-11 13-10 17-11 18-10 19-11 17-10 14-10 9-11 5-10-2-11-8-10-13-11-18-10-22-10-24 7 6 11 26 10 22 11 18 10 13 10 6 11 0 10-7 11-12 10-17 11-19 10-21 10-20 11-17 10-14 11-8 10-2 11 5 10 11 10 17 11 22 10 25 11 26 10 27 10 25 11 21 10 16 11 10 10 4 11-3 10-9 10-14 11-18 10-20 11-21 10-19 11-16z"/><path fill="url(#g345)" stroke="url(#g345)" d="M1939 1552l-10 14-11 16-10 16-10 16-11 12-10 9-11 4-10-1-11-7-10-11-10-17-11-19-10-22-11-23-10-22-10-20-11-16-10-12-11-7-10-1-11 4-10 8-10 13-11 15-10 16-11 16-10 15-11 11-10 7-10 2-11-3-10-8-11-14-10-18-11-21-10-22 8 5 10 24 10 22 11 18 10 13 11 8 10 2 11-5 10-9 10-14 11-17 10-19 11-18 10-17 11-13 10-8 10-3 11 2 10 9 11 15 10 19 11 22 10 25 10 24 11 24 10 20 11 17 10 11 11 5 10 0 10-7 11-11 10-16 11-17 10-19 11-18 10-15z"/><path fill="url(#g346)" stroke="url(#g346)" d="M1932 1562l-11 13-10 14-11 14-10 12-10 10-11 7-10 2-11-3-10-8-11-12-10-15-10-19-11-20-10-21-11-19-10-17-11-14-10-10-10-5-11 0-10 4-11 9-10 11-11 14-10 14-10 14-11 12-10 8-11 5-10 0-11-4-10-10-10-13-11-17-10-19-11-21 8 4 10 22 11 21 10 18 11 14 10 8 11 3 10-2 10-7 11-11 10-15 11-16 10-16 11-15 10-13 10-8 11-4 10 1 11 7 10 12 11 16 10 20 10 22 11 23 10 22 11 19 10 17 10 11 11 7 10 1 11-4 10-9 11-12 10-16 10-16 11-16 10-14z"/><path fill="url(#g347)" stroke="url(#g347)" d="M1924 1571l-10 11-11 12-10 12-11 9-10 8-11 4-10 0-10-4-11-8-10-12-11-15-10-16-11-19-10-18-10-16-11-15-10-11-11-8-10-4-10 1-11 4-10 8-11 10-10 12-11 12-10 11-10 9-11 6-10 3-11-2-10-5-11-10-10-13-10-16-11-17-10-18 7 2 11 21 10 19 11 17 10 13 10 10 11 4 10 0 11-5 10-8 11-12 10-14 10-14 11-14 10-11 11-9 10-4 11 0 10 5 10 10 11 14 10 17 11 19 10 21 11 20 10 19 10 15 11 12 10 8 11 3 10-2 11-7 10-10 10-12 11-14 10-14 11-13z"/><path fill="url(#g348)" stroke="url(#g348)" d="M1916 1580l-10 9-10 9-11 9-10 7-11 5-10 2-11-1-10-5-10-8-11-11-10-14-11-15-10-16-11-15-10-14-10-12-11-9-10-6-11-3-10 1-11 4-10 7-10 8-11 9-10 10-11 8-10 6-11 4-10 1-10-2-11-7-10-9-11-12-10-14-10-16-11-15 8 1 10 18 11 17 10 16 10 13 11 10 10 5 11 2 10-3 11-6 10-9 10-11 11-12 10-12 11-10 10-8 11-4 10-1 10 4 11 8 10 11 11 15 10 16 10 18 11 19 10 16 11 15 10 12 11 8 10 4 10 0 11-4 10-8 11-9 10-12 11-12 10-11z"/><path fill="url(#g349)" stroke="url(#g349)" d="M1909 1587l-11 7-10 7-11 6-10 5-10 2-11 1-10-3-11-5-10-8-11-10-10-12-10-13-11-13-10-13-11-12-10-9-10-8-11-4-10-2-11 1-10 3-11 5-10 7-10 6-11 7-10 6-11 4-10 2-11-1-10-4-10-6-11-9-10-11-11-12-10-13-11-13 8 0 11 15 10 16 10 14 11 12 10 9 11 7 10 2 10-1 11-4 10-6 11-8 10-10 11-9 10-8 10-7 11-4 10-1 11 3 10 6 11 9 10 12 10 14 11 15 10 16 11 15 10 14 11 11 10 8 10 5 11 1 10-2 11-5 10-7 11-9 10-9 10-9z"/><path fill="url(#g350)" stroke="url(#g350)" d="M1901 1593l-10 4-11 5-10 3-11 3-10 0-10-1-11-3-10-5-11-8-10-8-11-10-10-11-10-10-11-10-10-10-11-7-10-6-11-3-10-2-10 0-11 2-10 4-11 4-10 4-11 4-10 3-10 2-11 0-10-2-11-4-10-6-11-8-10-9-10-10-11-11-10-10 7-2 11 13 10 13 11 12 10 11 11 9 10 6 10 4 11 1 10-2 11-4 10-6 11-7 10-6 10-7 11-5 10-3 11-1 10 2 11 4 10 8 10 9 11 12 10 13 11 13 10 13 10 12 11 10 10 8 11 5 10 3 11-1 10-2 10-5 11-6 10-7 11-7z"/><path fill="url(#g351)" stroke="url(#g351)" d="M1893 1598l-10 2-10 1-11 1-10 0-11-1-10-2-11-3-10-5-10-6-11-7-10-8-11-8-10-8-11-8-10-6-10-6-11-4-10-4-11-1-10-1-10 1-11 1-10 2-11 1-10 2-11 0-10 0-10-1-11-3-10-4-11-5-10-7-11-7-10-8-10-8-11-8 8-3 10 10 11 11 10 10 10 9 11 8 10 6 11 4 10 2 11 0 10-2 10-3 11-4 10-4 11-4 10-4 11-2 10 0 10 2 11 3 10 6 11 7 10 10 11 10 10 10 10 11 11 10 10 8 11 8 10 5 11 3 10 1 10 0 11-3 10-3 11-5 10-4z"/><path fill="url(#g352)" stroke="url(#g352)" d="M1886 1601l-11-1-10-1-10-1-11-2-10-2-11-3-10-4-11-4-10-4-10-5-11-6-10-5-11-5-10-5-11-5-10-4-10-4-11-3-10-2-11-2-10-1-11-1-10-1-10-1-11-1-10-2-11-2-10-2-11-3-10-4-10-4-11-5-10-5-11-6-10-5-10-5 7-5 11 8 10 8 10 8 11 7 10 7 11 5 10 4 11 3 10 1 10 0 11 0 10-2 11-1 10-2 11-1 10-1 10 1 11 1 10 4 11 4 10 6 10 6 11 8 10 8 11 8 10 8 11 7 10 6 10 5 11 3 10 2 11 1 10 0 11-1 10-1 10-2z"/><path fill="url(#g353)" stroke="url(#g353)" d="M1878 1603l-10-4-11-3-10-3-11-4-10-3-10-3-11-3-10-3-11-3-10-3-11-3-10-2-10-3-11-3-10-3-11-3-10-3-10-3-11-3-10-4-11-3-10-4-11-3-10-4-10-3-11-4-10-3-11-3-10-3-11-3-10-3-10-3-11-3-10-2-11-3-10-3 8-6 10 5 10 5 11 6 10 5 11 5 10 4 10 4 11 3 10 2 11 2 10 2 11 1 10 1 10 1 11 1 10 1 11 2 10 2 11 3 10 4 10 4 11 5 10 5 11 5 10 5 11 6 10 5 10 4 11 4 10 4 11 3 10 2 11 2 10 1 10 1 11 1z"/><path fill="url(#g354)" stroke="url(#g354)" d="M1871 1603l-11-6-10-6-11-5-10-5-11-3-10-3-10-2-11-2-10-1-11 0-10 0-11 0-10 0-10-1-11-2-10-2-11-3-10-4-11-4-10-6-10-5-11-7-10-6-11-6-10-6-11-5-10-4-10-4-11-2-10-2-11-1-10-1-11 0-10 0-10 0-11-1 8-7 10 3 11 3 10 2 11 3 10 3 10 3 11 3 10 3 11 3 10 3 11 4 10 3 10 4 11 3 10 4 11 3 10 4 11 3 10 3 10 3 11 3 10 3 11 3 10 3 10 2 11 3 10 3 11 3 10 3 11 3 10 3 10 3 11 4 10 3 11 3 10 4z"/><path fill="url(#g355)" stroke="url(#g355)" d="M1863 1602l-11-8-10-8-10-7-11-6-10-4-11-2-10-1-11 1-10 1-10 2-11 3-10 2-11 2-10 1-10 0-11-2-10-3-11-5-10-6-11-8-10-8-10-9-11-9-10-8-11-8-10-6-11-5-10-4-10-1-11-1-10 1-11 2-10 2-11 3-10 2-10 2 7-9 11 1 10 0 10 0 11 0 10 1 11 1 10 2 11 2 10 4 10 4 11 5 10 6 11 6 10 6 11 7 10 5 10 6 11 4 10 4 11 3 10 2 11 2 10 1 10 0 11 0 10 0 11 0 10 1 11 2 10 2 10 3 11 3 10 5 11 5 10 6 11 6z"/><path fill="url(#g356)" stroke="url(#g356)" d="M1855 1600l-10-11-11-10-10-8-10-6-11-4-10-1-11 1-10 2-11 4-10 5-10 5-11 5-10 4-11 2-10 1-11-2-10-4-10-6-11-9-10-10-11-11-10-11-11-11-10-11-10-9-11-7-10-5-11-3-10-1-11 2-10 3-10 4-11 5-10 5-11 5-10 3 8-9 10-2 10-2 11-3 10-2 11-2 10-1 11 1 10 1 10 4 11 5 10 6 11 8 10 8 11 9 10 9 10 8 11 8 10 6 11 5 10 3 11 2 10 0 10-1 11-2 10-2 11-3 10-2 10-1 11-1 10 1 11 2 10 4 11 6 10 7 10 8 11 8z"/><path fill="url(#g357)" stroke="url(#g357)" d="M1848 1596l-11-13-10-11-11-9-10-6-11-3-10 0-10 2-11 5-10 7-11 8-10 7-11 7-10 6-10 3-11 1-10-2-11-6-10-8-10-10-11-13-10-13-11-14-10-14-11-12-10-11-10-8-11-4-10-2-11 1-10 3-11 6-10 7-10 8-11 7-10 7-11 4 8-10 10-3 11-5 10-5 11-5 10-4 10-3 11-2 10 1 11 3 10 5 11 7 10 9 10 11 11 11 10 11 11 11 10 10 11 9 10 6 10 4 11 2 10-1 11-2 10-4 11-5 10-5 10-5 11-4 10-2 11-1 10 1 11 4 10 6 10 8 11 10 10 11z"/><path fill="url(#g358)" stroke="url(#g358)" d="M1840 1591l-10-15-11-12-10-9-11-6-10-2-11 2-10 4-10 8-11 9-10 10-11 10-10 9-11 7-10 4-10 1-11-3-10-7-11-10-10-13-11-15-10-17-10-16-11-16-10-14-11-11-10-8-11-4-10-1-10 3-11 6-10 8-11 10-10 10-10 10-11 8-10 6 7-11 11-4 10-7 11-7 10-8 10-7 11-6 10-3 11-1 10 2 11 4 10 8 10 11 11 12 10 14 11 14 10 13 11 13 10 10 10 8 11 6 10 2 11-1 10-3 10-6 11-7 10-7 11-8 10-7 11-5 10-2 10 0 11 3 10 6 11 9 10 11 11 13z"/><path fill="url(#g359)" stroke="url(#g359)" d="M1832 1585l-10-16-11-13-10-9-10-5-11-1-10 4-11 7-10 10-11 12-10 13-10 12-11 10-10 8-11 4-10 0-10-4-11-9-10-12-11-16-10-18-11-18-10-19-10-17-11-15-10-12-11-8-10-3-11 1-10 5-10 8-11 11-10 13-11 12-10 12-11 10-10 6 8-11 10-6 11-8 10-10 10-10 11-10 10-8 11-6 10-3 10 1 11 4 10 8 11 11 10 14 11 16 10 16 10 17 11 15 10 13 11 10 10 7 11 3 10-1 10-4 11-7 10-9 11-10 10-10 11-9 10-8 10-4 11-2 10 2 11 6 10 9 11 12 10 15z"/><path fill="url(#g360)" stroke="url(#g360)" d="M1825 1578l-11-17-10-13-11-9-10-4-10 1-11 6-10 10-11 12-10 15-11 15-10 14-10 12-11 8-10 4-11-1-10-6-11-11-10-15-10-18-11-20-10-21-11-21-10-19-11-16-10-11-10-7-11-2-10 3-11 7-10 11-11 14-10 15-10 14-11 14-10 10-11 7 8-11 10-6 11-10 10-12 11-12 10-13 11-11 10-8 10-5 11-1 10 3 11 8 10 12 11 15 10 17 10 19 11 18 10 18 11 16 10 12 11 9 10 4 10 0 11-4 10-8 11-10 10-12 10-13 11-12 10-10 11-7 10-4 11 1 10 5 10 9 11 13 10 16z"/><path fill="url(#g361)" stroke="url(#g361)" d="M1817 1570l-10-17-11-14-10-7-11-3-10 3-11 9-10 12-10 15-11 17-10 17-11 16-10 12-10 9-11 3-10-2-11-8-10-13-11-17-10-21-10-23-11-24-10-22-11-20-10-16-11-11-10-6-10 0-11 5-10 10-11 14-10 16-11 17-10 17-10 14-11 11-10 7 7-11 11-7 10-10 11-14 10-14 10-15 11-14 10-11 11-7 10-3 11 2 10 7 10 11 11 16 10 19 11 21 10 21 11 20 10 18 10 15 11 11 10 6 11 1 10-4 11-8 10-12 10-14 11-15 10-15 11-12 10-10 11-6 10-1 10 4 11 9 10 13 11 17z"/><path fill="url(#g362)" stroke="url(#g362)" d="M1809 1562l-10-18-10-12-11-7-10 0-11 5-10 11-11 15-10 18-10 19-11 19-10 16-11 13-10 8-11 3-10-4-10-10-11-16-10-20-11-23-10-25-11-26-10-24-10-20-11-16-10-10-11-5-10 2-11 8-10 12-10 17-11 18-10 19-11 18-10 16-10 11-11 6 8-10 10-7 11-11 10-14 10-17 11-17 10-16 11-14 10-10 11-5 10 0 10 6 11 11 10 16 11 20 10 22 11 24 10 23 10 21 11 17 10 13 11 8 10 2 11-3 10-9 10-12 11-16 10-17 11-17 10-15 10-12 11-9 10-3 11 3 10 7 11 14 10 17z"/><path fill="url(#g363)" stroke="url(#g363)" d="M1802 1554l-11-18-10-11-11-6-10 2-10 8-11 13-10 18-11 21-10 21-11 20-10 17-10 13-11 8-10 1-11-6-10-13-10-18-11-23-10-26-11-27-10-27-11-25-10-20-10-16-11-9-10-3-11 4-10 11-11 15-10 19-10 21-11 21-10 19-11 16-10 11-11 5 8-10 11-6 10-11 10-16 11-18 10-19 11-18 10-17 10-12 11-8 10-2 11 5 10 10 11 16 10 20 10 24 11 26 10 25 11 23 10 20 11 16 10 10 10 4 11-3 10-8 11-13 10-16 11-19 10-19 10-18 11-15 10-11 11-5 10 0 11 7 10 12 10 18z"/><path fill="url(#g364)" stroke="url(#g364)" d="M1794 1546l-10-17-11-11-10-3-11 4-10 11-10 16-11 20-10 22-11 23-10 21-11 18-10 13-10 6-11-1-10-8-11-15-10-20-11-26-10-28-10-29-11-29-10-25-11-20-10-15-11-8-10 0-10 6-11 13-10 18-11 21-10 23-10 23-11 20-10 16-11 10-10 4 7-9 11-5 10-11 11-16 10-19 11-21 10-21 10-19 11-15 10-11 11-4 10 3 11 9 10 16 10 20 11 25 10 27 11 27 10 26 11 23 10 18 10 13 11 6 10-1 11-8 10-13 10-17 11-20 10-21 11-21 10-18 11-13 10-8 10-2 11 6 10 11 11 18z"/><path fill="url(#g365)" stroke="url(#g365)" d="M1786 1538l-10-16-10-9-11-1-10 6-11 14-10 18-11 23-10 24-10 25-11 21-10 18-11 12-10 5-10-3-11-11-10-17-11-24-10-27-11-31-10-30-10-30-11-25-10-20-11-13-10-6-11 2-10 9-10 15-11 21-10 23-11 25-10 23-11 21-10 15-10 10-11 2 8-8 10-4 11-10 10-16 11-20 10-23 10-23 11-21 10-18 11-13 10-6 10 0 11 8 10 15 11 20 10 25 11 29 10 29 10 28 11 26 10 20 11 15 10 8 11 1 10-6 10-13 11-18 10-21 11-23 10-22 11-20 10-16 10-11 11-4 10 3 11 11 10 17z"/><path fill="url(#g366)" stroke="url(#g366)" d="M1779 1530l-11-14-10-7-10 1-11 9-10 16-11 21-10 25-11 26-10 25-10 22-11 17-10 11-11 3-10-5-11-13-10-20-10-26-11-30-10-32-11-32-10-30-11-25-10-19-10-12-11-3-10 4-11 12-10 18-11 22-10 26-10 26-11 24-10 21-11 14-10 8-10 0 7-6 11-2 10-10 10-15 11-21 10-23 11-25 10-23 11-21 10-15 10-9 11-2 10 6 11 13 10 20 11 25 10 30 10 30 11 31 10 27 11 24 10 17 11 11 10 3 10-5 11-12 10-18 11-21 10-25 10-24 11-23 10-18 11-14 10-6 11 1 10 9 10 16z"/><path fill="url(#g367)" stroke="url(#g367)" d="M1771 1524l-10-13-11-5-10 4-11 12-10 18-10 24-11 26-10 27-11 26-10 22-11 16-10 9-10 1-11-7-10-16-11-22-10-29-10-32-11-34-10-32-11-30-10-25-11-17-10-10-10-1-11 7-10 14-11 21-10 24-11 28-10 27-10 24-11 20-10 14-11 6-10-2 8-6 10 0 10-8 11-14 10-21 11-24 10-26 10-26 11-22 10-18 11-12 10-4 11 3 10 12 10 19 11 25 10 30 11 32 10 32 11 30 10 26 10 20 11 13 10 5 11-3 10-11 11-17 10-22 10-25 11-26 10-25 11-21 10-16 11-9 10-1 10 7 11 14z"/><path fill="url(#g368)" stroke="url(#g368)" d="M1764 1518l-11-11-10-2-11 6-10 14-11 21-10 26-10 28-11 28-10 26-11 21-10 15-11 8-10-2-10-10-11-18-10-25-11-31-10-34-11-35-10-33-10-29-11-23-10-16-11-8-10 1-11 10-10 17-10 23-11 26-10 29-11 28-10 24-10 19-11 12-10 4-11-4 8-4 10 2 11-6 10-14 11-20 10-24 10-27 11-28 10-24 11-21 10-14 11-7 10 1 10 10 11 17 10 25 11 30 10 32 11 34 10 32 10 29 11 22 10 16 11 7 10-1 10-9 11-16 10-22 11-26 10-27 11-26 10-24 10-18 11-12 10-4 11 5 10 13z"/><path fill="url(#g369)" stroke="url(#g369)" d="M1756 1513l-11-9-10 1-10 9-11 17-10 23-11 27-10 29-11 29-10 26-10 20-11 14-10 5-11-4-10-13-10-21-11-27-10-33-11-35-10-36-11-33-10-28-10-22-11-14-10-6-11 4-10 12-11 20-10 25-10 28-11 30-10 27-11 24-10 18-11 11-10 1-10-7 7-2 11 4 10-4 11-12 10-19 10-24 11-28 10-29 11-26 10-23 10-17 11-10 10-1 11 8 10 16 11 23 10 29 10 33 11 35 10 34 11 31 10 25 11 18 10 10 10 2 11-8 10-15 11-21 10-26 11-28 10-28 10-26 11-21 10-14 11-6 10 2 11 11z"/><path fill="url(#g370)" stroke="url(#g370)" d="M1748 1509l-10-6-11 3-10 12-10 19-11 25-10 29-11 30-10 29-11 25-10 19-10 12-11 2-10-6-11-16-10-23-11-30-10-34-10-36-11-36-10-33-11-27-10-20-11-12-10-3-10 7-11 15-10 21-11 27-10 30-11 30-10 27-10 23-11 17-10 8-11-1-10-10 8-1 10 7 10-1 11-11 10-18 11-24 10-27 11-30 10-28 10-25 11-20 10-12 11-4 10 6 11 14 10 22 10 28 11 33 10 36 11 35 10 33 11 27 10 21 10 13 11 4 10-5 11-14 10-20 10-26 11-29 10-29 11-27 10-23 11-17 10-9 10-1 11 9z"/><path fill="url(#g371)" stroke="url(#g371)" d="M1741 1507l-11-4-10 6-11 14-10 22-11 27-10 30-10 30-11 29-10 24-11 17-10 9-10 0-11-9-10-18-11-25-10-32-11-36-10-36-10-36-11-32-10-26-11-18-10-9-11 0-10 9-10 17-11 24-10 28-11 31-10 30-11 27-10 21-10 15-11 6-10-4-11-12 8 0 10 10 11 1 10-8 11-17 10-23 10-27 11-30 10-30 11-27 10-21 11-15 10-7 10 3 11 12 10 20 11 27 10 33 11 36 10 36 10 34 11 30 10 23 11 16 10 6 11-2 10-12 10-19 11-25 10-29 11-30 10-29 11-25 10-19 10-12 11-3 10 6z"/><path fill="url(#g372)" stroke="url(#g372)" d="M1733 1506l-10-1-11 9-10 16-11 24-10 28-11 31-10 30-10 28-11 22-10 16-11 7-10-3-11-12-10-20-10-28-11-33-10-37-11-37-10-35-11-30-10-24-10-16-11-7-10 3-11 11-10 20-11 25-10 30-10 30-11 30-10 26-11 20-10 12-10 4-11-6-10-15 7 2 11 12 10 4 11-6 10-15 10-21 11-27 10-30 11-31 10-28 11-24 10-17 10-9 11 0 10 9 11 18 10 26 11 32 10 36 10 36 11 36 10 32 11 25 10 18 11 9 10 0 10-9 11-17 10-24 11-29 10-30 10-30 11-27 10-22 11-14 10-6 11 4z"/><path fill="url(#g373)" stroke="url(#g373)" d="M1725 1507l-10 2-11 10-10 19-10 25-11 30-10 31-11 30-10 26-11 21-10 13-10 4-11-5-10-14-11-23-10-29-10-35-11-37-10-37-11-34-10-29-11-22-10-13-10-4-11 5-10 14-11 21-10 27-11 30-10 31-10 29-11 25-10 18-11 10-10 1-11-9-10-18 8 4 10 15 11 6 10-4 10-12 11-20 10-26 11-30 10-30 10-30 11-25 10-20 11-11 10-3 11 7 10 16 10 24 11 30 10 35 11 37 10 37 11 33 10 28 10 20 11 12 10 3 11-7 10-16 11-22 10-28 10-30 11-31 10-28 11-24 10-16 11-9 10 1z"/><path fill="url(#g374)" stroke="url(#g374)" d="M1718 1509l-11 4-10 14-11 20-10 27-10 30-11 30-10 30-11 25-10 18-11 11-10 2-10-8-11-17-10-25-11-31-10-35-11-37-10-36-10-33-11-27-10-20-11-11-10-1-11 8-10 16-10 23-11 28-10 30-11 31-10 28-10 23-11 16-10 7-11-2-10-11-11-20 8 4 10 18 11 9 10-1 11-10 10-18 11-25 10-29 10-31 11-30 10-27 11-21 10-14 11-5 10 4 10 13 11 22 10 29 11 34 10 37 11 37 10 35 10 29 11 23 10 14 11 5 10-4 10-13 11-21 10-26 11-30 10-31 11-30 10-25 10-19 11-10 10-2z"/><path fill="url(#g375)" stroke="url(#g375)" d="M1710 1513l-10 7-11 15-10 22-11 27-10 31-11 30-10 28-10 23-11 16-10 9-11-1-10-11-10-19-11-26-10-32-11-36-10-37-11-35-10-31-10-25-11-18-10-8-11 1-10 11-11 18-10 24-10 29-11 30-10 30-11 26-10 21-11 14-10 4-10-4-11-14-10-22 7 6 11 20 10 11 11 2 10-7 11-16 10-23 10-28 11-31 10-30 11-28 10-23 10-16 11-8 10 1 11 11 10 20 11 27 10 33 10 36 11 37 10 35 11 31 10 25 11 17 10 8 10-2 11-11 10-18 11-25 10-30 11-30 10-30 10-27 11-20 10-14 11-4z"/><path fill="url(#g376)" stroke="url(#g376)" d="M1702 1518l-10 9-10 17-11 24-10 27-11 30-10 30-11 26-10 21-10 14-11 6-10-4-11-13-10-21-11-28-10-33-10-35-11-37-10-33-11-30-10-22-11-15-10-5-10 3-11 13-10 19-11 26-10 29-11 30-10 28-10 25-11 18-10 11-11 2-10-7-10-16-11-23 8 6 10 22 11 14 10 4 10-4 11-14 10-21 11-26 10-30 11-30 10-29 10-24 11-18 10-11 11-1 10 8 11 18 10 25 10 31 11 35 10 37 11 36 10 32 11 26 10 19 10 11 11 1 10-9 11-16 10-23 10-28 11-30 10-31 11-27 10-22 11-15 10-7z"/><path fill="url(#g377)" stroke="url(#g377)" d="M1695 1524l-11 11-10 19-11 24-10 28-10 30-11 28-10 24-11 19-10 11-10 3-11-6-10-15-11-22-10-30-11-33-10-35-10-35-11-32-10-27-11-20-10-12-11-3-10 6-10 14-11 21-10 26-11 29-10 29-11 27-10 22-10 16-11 8-10 0-11-10-10-17-11-26 8 8 11 23 10 16 10 7 11-2 10-11 11-18 10-25 10-28 11-30 10-29 11-26 10-19 11-13 10-3 10 5 11 15 10 22 11 30 10 33 11 37 10 35 10 33 11 28 10 21 11 13 10 4 11-6 10-14 10-21 11-26 10-30 11-30 10-27 11-24 10-17 10-9z"/><path fill="url(#g378)" stroke="url(#g378)" d="M1687 1532l-10 13-11 20-10 24-11 28-10 28-10 27-11 22-10 16-11 9-10 0-11-8-10-17-10-24-11-30-10-33-11-35-10-33-11-30-10-25-10-17-11-9-10-1-11 8-10 16-11 22-10 26-10 28-11 28-10 25-11 20-10 14-10 5-11-3-10-12-11-19-10-27 7 8 11 26 10 17 11 10 10 0 11-8 10-16 10-22 11-27 10-29 11-29 10-26 11-21 10-14 10-6 11 3 10 12 11 20 10 27 11 32 10 35 10 35 11 33 10 30 11 22 10 15 11 6 10-3 10-11 11-19 10-24 11-28 10-30 10-28 11-24 10-19 11-11z"/><path fill="url(#g379)" stroke="url(#g379)" d="M1679 1541l-10 14-10 20-11 25-10 27-11 27-10 25-11 19-10 14-10 6-11-2-10-11-11-18-10-25-10-30-11-33-10-33-11-32-10-28-11-22-10-15-10-6-11 2-10 9-11 17-10 22-11 26-10 28-10 26-11 23-10 18-11 10-10 3-11-5-10-14-10-21-11-27 8 8 10 27 11 19 10 12 11 3 10-5 10-14 11-20 10-25 11-28 10-28 10-26 11-22 10-16 11-8 10 1 11 9 10 17 10 25 11 30 10 33 11 35 10 33 11 30 10 24 10 17 11 8 10 0 11-9 10-16 11-22 10-27 10-28 11-28 10-24 11-20 10-13z"/><path fill="url(#g380)" stroke="url(#g380)" d="M1672 1550l-11 16-10 20-10 25-11 26-10 25-11 22-10 17-11 11-10 4-10-5-11-12-10-20-11-25-10-30-11-32-10-32-10-30-11-25-10-19-11-12-10-5-11 4-10 11-10 18-11 22-10 26-11 26-10 24-10 20-11 16-10 8-11 0-10-7-11-16-10-22-10-27 7 8 11 27 10 21 10 14 11 5 10-3 11-10 10-18 11-23 10-26 10-28 11-26 10-22 11-17 10-9 11-2 10 6 10 15 11 22 10 28 11 32 10 33 11 33 10 30 10 25 11 18 10 11 11 2 10-6 10-14 11-19 10-25 11-27 10-27 11-25 10-20 10-14z"/><path fill="url(#g381)" stroke="url(#g381)" d="M1664 1560l-10 16-11 21-10 24-11 24-10 23-10 20-11 15-10 8-11 1-10-6-10-14-11-21-10-25-11-30-10-30-11-30-10-28-10-23-11-16-10-10-11-2-10 6-11 12-10 18-10 22-11 24-10 24-11 22-10 19-11 12-10 6-10-2-11-10-10-16-11-23-10-27 8 8 10 27 10 22 11 16 10 7 11 0 10-8 11-16 10-20 10-24 11-26 10-26 11-22 10-18 10-11 11-4 10 5 11 12 10 19 11 25 10 30 10 32 11 32 10 30 11 25 10 20 11 12 10 5 10-4 11-11 10-17 11-22 10-25 11-26 10-25 10-20 11-16z"/><path fill="url(#g382)" stroke="url(#g382)" d="M1657 1571l-11 16-10 21-11 22-10 23-11 21-10 17-10 12-11 6-10-1-11-9-10-15-11-21-10-25-10-29-11-29-10-28-11-25-10-20-11-14-10-7-10 0-11 7-10 13-11 18-10 21-11 23-10 22-10 20-11 15-10 10-11 3-10-4-10-11-11-17-10-23-11-27 8 8 10 27 11 23 10 16 11 10 10 2 10-6 11-12 10-19 11-22 10-24 11-24 10-22 10-18 11-12 10-6 11 2 10 10 11 16 10 23 10 28 11 30 10 30 11 30 10 25 11 21 10 14 10 6 11-1 10-8 11-15 10-20 10-23 11-24 10-24 11-21 10-16z"/><path fill="url(#g383)" stroke="url(#g383)" d="M1649 1582l-11 16-10 20-10 20-11 21-10 18-11 15-10 10-11 3-10-3-10-10-11-16-10-21-11-25-10-27-10-27-11-26-10-22-11-17-10-12-11-5-10 2-10 7-11 14-10 17-11 20-10 21-11 20-10 18-10 12-11 8-10 1-11-6-10-13-11-18-10-22-10-26 7 7 11 27 10 23 11 17 10 11 10 4 11-3 10-10 11-15 10-20 10-22 11-23 10-21 11-18 10-13 11-7 10 0 10 7 11 14 10 20 11 25 10 28 11 29 10 29 10 25 11 21 10 15 11 9 10 1 11-6 10-12 10-17 11-21 10-23 11-22 10-21 11-16z"/></g></g></g><text x="19.7" y="96.3" class="r">-2</text><text x="19.7" y="65.2" class="r">0</text><text x="19.7" y="34.1" class="r">2</text><text x="112.2" y="134.6" class="r">0</text><text x="124.7" y="135.0">0</text><text x="65.6" y="120.3" class="r">0.5</text><text x="185.5" y="124.1">0.5</text><text x="19.0" y="106.1" class="r">1</text><text x="246.2" y="113.1">1</text><text x="122.5" y="160.3" class="cap">(a)</text><text x="307.7" y="102.6" class="r">-1</text><text x="307.7" y="71.8" class="r">0</text><text x="307.7" y="41.1" class="r">1</text><text x="401.7" y="140.6" class="r">0</text><text x="414.2" y="141.0">0</text><text x="354.3" y="126.5" class="r">0.5</text><text x="475.9" y="130.2">0.5</text><text x="307.0" y="112.4" class="r">1</text><text x="537.6" y="119.4">1</text><text x="409.3" y="163.2" class="cap">(b)</text><text x="19.9" y="257.9" class="r">0</text><text x="19.9" y="227.2" class="r">2</text><text x="19.9" y="196.4" class="r">4</text><text x="113.5" y="295.9" class="r">0</text><text x="126.0" y="296.3">0</text><text x="66.4" y="281.8" class="r">0.5</text><text x="187.5" y="285.5">0.5</text><text x="19.2" y="267.7" class="r">1</text><text x="248.9" y="274.7">1</text><text x="117.3" y="319.8" class="cap">(c)</text><text x="306.7" y="257.9" class="r">0</text><text x="306.7" y="227.2" class="r">0.5</text><text x="306.7" y="196.4" class="r">1</text><text x="400.2" y="295.9" class="r">0</text><text x="412.7" y="296.3">0</text><text x="353.1" y="281.8" class="r">0.5</text><text x="474.0" y="285.5">0.5</text><text x="306.0" y="267.7" class="r">1</text><text x="535.4" y="274.7">1</text><text x="410.3" y="316.6" class="cap">(d)</text><text x="15.3" y="423.9" class="r">-5</text><text x="15.3" y="393.2" class="r">0</text><text x="15.3" y="362.5" class="r">5</text><text x="108.1" y="461.8" class="r">0</text><text x="120.6" y="462.2">0</text><text x="61.4" y="447.8" class="r">0.5</text><text x="181.6" y="451.4">0.5</text><text x="14.6" y="433.7" class="r">1</text><text x="242.5" y="440.6">1</text><text x="112.1" y="480.7" class="cap">(e)</text><text x="312.6" y="417.1" class="r">-2</text><text x="312.6" y="386.3" class="r">0</text><text x="312.6" y="355.5" class="r">2</text><text x="405.7" y="455.1" class="r">0</text><text x="418.2" y="455.5">0</text><text x="358.8" y="441.0" class="r">0.5</text><text x="479.4" y="444.7">0.5</text><text x="311.9" y="426.9" class="r">1</text><text x="540.5" y="433.9">1</text><text x="415.3" y="476.1" class="cap">(f)</text></svg></body></html>
